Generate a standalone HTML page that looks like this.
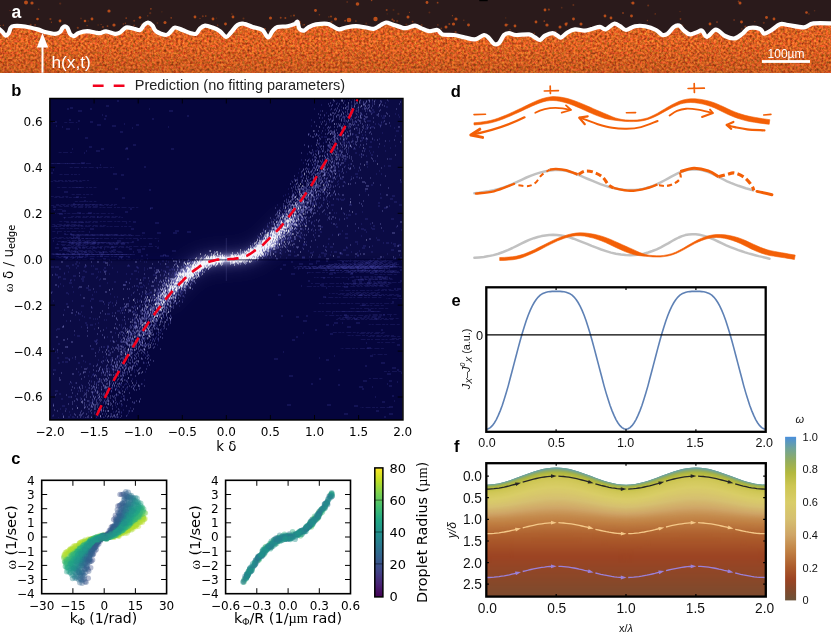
<!DOCTYPE html><html><head><meta charset="utf-8"><title>Figure</title>
<style>html,body{margin:0;padding:0;background:#fff}svg{display:block}text{white-space:pre}</style></head><body>
<svg width="831" height="635" viewBox="0 0 831 635">
<defs>
<filter id="spk" x="0" y="0" width="100%" height="100%" color-interpolation-filters="sRGB">
<feTurbulence type="fractalNoise" baseFrequency="0.42" numOctaves="2" seed="3" result="n"/>
<feColorMatrix in="n" type="matrix" values="0.4 0 0 0.7 0.305  0 0.3 0 0.45 0.005  0 0 0.1 0.25 -0.04  0 0 0 0 1" result="c0"/>
<feGaussianBlur in="c0" stdDeviation="0.45" result="c"/>
<feComposite in="c" in2="SourceGraphic" operator="in"/>
</filter>
<filter id="b1"><feGaussianBlur stdDeviation="0.7"/></filter>
<filter id="b05" x="0" y="0" width="100%" height="100%"><feGaussianBlur stdDeviation="0.45"/></filter>
<filter id="b2" x="-20%" y="-20%" width="140%" height="140%"><feGaussianBlur stdDeviation="2"/></filter>
<filter id="b4" x="-20%" y="-20%" width="140%" height="140%"><feGaussianBlur stdDeviation="4.5"/></filter>
<filter id="b8" x="-20%" y="-20%" width="140%" height="140%"><feGaussianBlur stdDeviation="9"/></filter>
<linearGradient id="shade" x1="0" y1="0" x2="0" y2="1"><stop offset="0" stop-color="#5a2808" stop-opacity="0"/><stop offset="1" stop-color="#5a2808" stop-opacity="0.16"/></linearGradient>
<clipPath id="cpa"><rect x="0" y="0" width="831" height="72.8"/></clipPath>
<clipPath id="cpb"><rect x="50" y="98.5" width="352.7" height="321.5"/></clipPath>
</defs>
<g clip-path="url(#cpa)">
<rect x="0" y="0" width="831" height="73" fill="#2a1a1b"/>
<g fill="#d8591c" filter="url(#b1)"><circle cx="269.1" cy="31.5" r="1.1" opacity="0.22"/><circle cx="682.5" cy="25.2" r="1" opacity="0.22"/><circle cx="421.7" cy="25" r="0.9" opacity="0.37"/><circle cx="200" cy="18.3" r="0.6" opacity="0.53"/><circle cx="102.9" cy="27" r="1.1" opacity="0.43"/><circle cx="51.4" cy="22.2" r="0.6" opacity="0.59"/><circle cx="38.7" cy="9.2" r="0.8" opacity="0.37"/><circle cx="449.3" cy="24.1" r="1" opacity="0.53"/><circle cx="150.2" cy="13.2" r="1.1" opacity="0.28"/><circle cx="81" cy="18.4" r="1" opacity="0.22"/><circle cx="171.2" cy="17.8" r="0.9" opacity="0.51"/><circle cx="300.5" cy="23.6" r="0.7" opacity="0.48"/><circle cx="202.8" cy="16.2" r="1" opacity="0.4"/><circle cx="285.4" cy="18" r="1" opacity="0.59"/><circle cx="98.1" cy="25" r="0.8" opacity="0.26"/><circle cx="406.3" cy="24.6" r="1.1" opacity="0.23"/><circle cx="463.8" cy="20.2" r="0.8" opacity="0.34"/><circle cx="291" cy="15.9" r="0.9" opacity="0.23"/><circle cx="77.8" cy="27.8" r="1.1" opacity="0.47"/><circle cx="50.4" cy="19.1" r="1.1" opacity="0.43"/><circle cx="566.1" cy="25.3" r="1.1" opacity="0.35"/><circle cx="555.7" cy="31.5" r="0.9" opacity="0.34"/><circle cx="507.7" cy="24.5" r="0.7" opacity="0.51"/><circle cx="107.5" cy="26.1" r="0.9" opacity="0.57"/><circle cx="412.6" cy="21.6" r="0.9" opacity="0.42"/><circle cx="734.1" cy="19.9" r="1" opacity="0.31"/><circle cx="345.1" cy="20.7" r="0.9" opacity="0.58"/><circle cx="125.4" cy="23.2" r="0.7" opacity="0.46"/><circle cx="10" cy="10.5" r="0.7" opacity="0.31"/><circle cx="3.4" cy="25.2" r="0.8" opacity="0.44"/><circle cx="264.8" cy="28.9" r="1" opacity="0.58"/><circle cx="544.3" cy="21.1" r="0.9" opacity="0.56"/><circle cx="648.2" cy="5.6" r="1" opacity="0.36"/><circle cx="331.6" cy="21.8" r="1.1" opacity="0.36"/><circle cx="366.2" cy="23.5" r="1" opacity="0.22"/><circle cx="0.2" cy="25.5" r="0.6" opacity="0.58"/><circle cx="510" cy="29.7" r="0.7" opacity="0.45"/><circle cx="123.4" cy="24" r="0.8" opacity="0.44"/><circle cx="394" cy="20.8" r="0.9" opacity="0.6"/><circle cx="387.2" cy="13.9" r="0.6" opacity="0.26"/><circle cx="623" cy="13" r="0.9" opacity="0.53"/><circle cx="134.2" cy="25.6" r="1" opacity="0.34"/><circle cx="573.4" cy="4.9" r="1" opacity="0.32"/><circle cx="534.3" cy="33.3" r="0.8" opacity="0.41"/><circle cx="754.8" cy="21.6" r="0.7" opacity="0.41"/><circle cx="647.4" cy="20.5" r="0.7" opacity="0.45"/><circle cx="655.2" cy="13.9" r="0.7" opacity="0.52"/><circle cx="680" cy="11.5" r="0.7" opacity="0.28"/><circle cx="409.5" cy="12.3" r="0.6" opacity="0.52"/><circle cx="392.4" cy="19.4" r="1" opacity="0.58"/><circle cx="371.6" cy="0.5" r="0.8" opacity="0.58"/><circle cx="303" cy="25" r="0.7" opacity="0.39"/><circle cx="280.7" cy="17.8" r="1" opacity="0.54"/><circle cx="398.4" cy="13.9" r="1.1" opacity="0.23"/><circle cx="548.9" cy="9.6" r="1.1" opacity="0.5"/><circle cx="397.2" cy="21.2" r="1.1" opacity="0.33"/><circle cx="328.9" cy="16.9" r="0.6" opacity="0.49"/><circle cx="141.3" cy="24.2" r="0.7" opacity="0.44"/><circle cx="386.7" cy="10.1" r="1" opacity="0.53"/><circle cx="814.6" cy="10.8" r="0.8" opacity="0.26"/><circle cx="455.6" cy="32.2" r="1.1" opacity="0.46"/><circle cx="437.6" cy="2.7" r="0.9" opacity="0.59"/><circle cx="161.9" cy="11.8" r="0.6" opacity="0.3"/><circle cx="243.5" cy="18.4" r="1" opacity="0.33"/><circle cx="452.4" cy="15.7" r="0.6" opacity="0.56"/><circle cx="294" cy="15.6" r="1" opacity="0.53"/><circle cx="429.4" cy="12.4" r="1" opacity="0.25"/><circle cx="126.2" cy="18.1" r="0.9" opacity="0.51"/><circle cx="505.7" cy="17.9" r="0.7" opacity="0.27"/><circle cx="393.5" cy="10.1" r="1" opacity="0.22"/><circle cx="567" cy="23.1" r="0.9" opacity="0.51"/><circle cx="88.2" cy="21" r="0.7" opacity="0.28"/><circle cx="35.1" cy="24.9" r="0.9" opacity="0.42"/><circle cx="631.6" cy="2.8" r="0.9" opacity="0.33"/><circle cx="808.9" cy="13.9" r="0.7" opacity="0.48"/><circle cx="375.9" cy="17.9" r="0.9" opacity="0.4"/><circle cx="205.8" cy="16.1" r="0.8" opacity="0.57"/><circle cx="741.9" cy="29" r="0.9" opacity="0.25"/><circle cx="101.1" cy="24.5" r="0.6" opacity="0.47"/><circle cx="355.9" cy="21.1" r="0.8" opacity="0.51"/><circle cx="745.4" cy="26.7" r="1.1" opacity="0.46"/><circle cx="304.3" cy="24.8" r="0.7" opacity="0.59"/><circle cx="331" cy="16.5" r="1.1" opacity="0.53"/><circle cx="134.2" cy="20.7" r="1" opacity="0.36"/><circle cx="350.1" cy="20" r="0.6" opacity="0.49"/><circle cx="16.2" cy="15.8" r="0.9" opacity="0.48"/><circle cx="319.4" cy="14.7" r="0.8" opacity="0.4"/><circle cx="87.1" cy="25.6" r="0.6" opacity="0.56"/><circle cx="150.9" cy="8.8" r="0.9" opacity="0.54"/><circle cx="561.7" cy="7.7" r="0.9" opacity="0.26"/><circle cx="763.8" cy="22.8" r="1.1" opacity="0.33"/><circle cx="231.9" cy="14" r="0.7" opacity="0.37"/><circle cx="60.2" cy="3.6" r="1.1" opacity="0.24"/><circle cx="216.5" cy="18.1" r="0.7" opacity="0.23"/><circle cx="717" cy="22.1" r="0.8" opacity="0.6"/><circle cx="347.2" cy="2.1" r="1" opacity="0.25"/><circle cx="437.9" cy="24.9" r="0.6" opacity="0.59"/><circle cx="217.6" cy="25.3" r="0.8" opacity="0.45"/><circle cx="441.3" cy="28.3" r="0.9" opacity="0.4"/><circle cx="147.8" cy="15.8" r="0.6" opacity="0.6"/><circle cx="30.7" cy="24.7" r="1" opacity="0.42"/><circle cx="157.4" cy="23" r="0.9" opacity="0.24"/><circle cx="680.5" cy="19" r="0.9" opacity="0.42"/><circle cx="738.5" cy="1.4" r="0.8" opacity="0.48"/><circle cx="26" cy="2.5" r="2" opacity="0.8"/><circle cx="32" cy="3" r="1.6" opacity="0.8"/><circle cx="109" cy="11" r="1.6" opacity="0.8"/><circle cx="60" cy="21" r="1.4" opacity="0.8"/><circle cx="37.5" cy="19" r="1.3" opacity="0.8"/><circle cx="85" cy="21" r="1.3" opacity="0.8"/><circle cx="92" cy="19" r="1.4" opacity="0.8"/><circle cx="114" cy="25" r="1.6" opacity="0.8"/><circle cx="140" cy="17.5" r="1.3" opacity="0.8"/><circle cx="165" cy="22.5" r="1.5" opacity="0.8"/><circle cx="195" cy="17" r="1.4" opacity="0.8"/><circle cx="357.5" cy="4" r="1.8" opacity="0.8"/><circle cx="315.5" cy="10.5" r="1.4" opacity="0.8"/><circle cx="270.5" cy="18" r="1.5" opacity="0.8"/><circle cx="233" cy="17" r="1.4" opacity="0.8"/><circle cx="349" cy="20" r="2.3" opacity="0.8"/><circle cx="375.5" cy="19" r="2.2" opacity="0.8"/><circle cx="335.5" cy="19" r="1.5" opacity="0.8"/><circle cx="408" cy="17" r="1.5" opacity="0.8"/><circle cx="213" cy="19" r="1.4" opacity="0.8"/><circle cx="225.5" cy="24" r="1.4" opacity="0.8"/><circle cx="299" cy="22" r="1.6" opacity="0.8"/><circle cx="427" cy="2.5" r="1.4" opacity="0.8"/><circle cx="545" cy="10" r="1.4" opacity="0.8"/><circle cx="456" cy="19" r="1.6" opacity="0.8"/><circle cx="453.5" cy="24" r="1.6" opacity="0.8"/><circle cx="446" cy="27" r="1.5" opacity="0.8"/><circle cx="506" cy="25" r="1.5" opacity="0.8"/><circle cx="515" cy="26" r="1.4" opacity="0.8"/><circle cx="536" cy="22" r="1.4" opacity="0.8"/><circle cx="547" cy="25" r="1.6" opacity="0.8"/><circle cx="560" cy="27" r="1.5" opacity="0.8"/><circle cx="566" cy="24" r="1.5" opacity="0.8"/><circle cx="573.5" cy="19" r="1.4" opacity="0.8"/><circle cx="581" cy="24" r="1.5" opacity="0.8"/><circle cx="605" cy="16" r="1.4" opacity="0.8"/><circle cx="611" cy="18" r="1.4" opacity="0.8"/><circle cx="468.5" cy="25" r="1.4" opacity="0.8"/><circle cx="633" cy="3" r="1.5" opacity="0.8"/><circle cx="740" cy="3" r="1.5" opacity="0.8"/><circle cx="631.5" cy="16" r="1.4" opacity="0.8"/><circle cx="710" cy="24" r="1.4" opacity="0.8"/><circle cx="741.5" cy="22" r="1.4" opacity="0.8"/><circle cx="766.5" cy="17.5" r="1.4" opacity="0.8"/><circle cx="774" cy="19" r="1.4" opacity="0.8"/><circle cx="806.5" cy="12.5" r="1.3" opacity="0.8"/></g>
<path d="M-2 28C-1.2 28.7 1.2 30.7 2.5 32C3.8 33.3 4.6 35.4 5.6 35.6C6.6 35.8 7.9 34.3 8.8 33C9.6 31.7 9.8 29.2 10.6 28C11.4 26.8 11.3 26.2 13.8 26C16.1 25.8 21 25.9 25 26.5C29 27.1 34.2 28.5 37.5 29.4C40.8 30.3 42.1 31.3 45 32C47.9 32.7 52.5 33.8 55 33.8C57.5 33.8 58.8 33 60 32C61.2 31 61.7 28.9 62.5 28C63.3 27.1 64.2 26.3 65 26.3C65.8 26.3 66.7 26.8 67.5 28C68.3 29.2 69 32.4 70 33.8C71 35.1 72.3 36.4 73.8 36.2C75.2 36.1 76.5 33.8 78.8 33C81 32.2 84.8 31.3 87.5 31.2C90.2 31.2 92.9 32.2 95 32.5C97.1 32.8 98.2 33.3 100 33.1C101.8 32.9 103.5 31.2 106 31.3C108.5 31.4 112.7 33.5 115 33.8C117.3 34 118.2 33.5 120 32.5C121.8 31.5 123.7 28.1 126 27.5C128.3 26.9 131.7 28.3 134 28.8C136.3 29.2 138.3 30.6 140 30C141.7 29.4 142.7 26.2 144 25C145.3 23.8 146.6 22.4 148 22.5C149.4 22.6 151.2 24.1 152.5 25.6C153.8 27.1 153.8 29.7 156 31.2C158.2 32.8 163.5 35 166 35C168.5 35 169.5 32.5 171 31.2C172.5 30 173.1 27.7 175 27.5C176.9 27.3 180 29.1 182.5 30C185 30.9 187.8 32.4 190 33C192.2 33.6 194.3 34.5 196 33.8C197.7 33 198.5 29.9 200 28.5C201.5 27.1 202.9 25.8 205 25.6C207.1 25.4 210 26.6 212.5 27.5C215 28.4 217.8 29.7 220 31.2C222.2 32.8 224.2 36.7 226 36.9C227.8 37.1 229.1 34.5 231 32.5C232.9 30.5 235.3 26.5 237.5 25C239.7 23.5 241.5 23.4 244 23.8C246.5 24.1 249.4 25.9 252.5 26.9C255.6 27.9 259.9 28.2 262.5 30C265.1 31.8 266.3 37.3 268 37.5C269.7 37.7 270.9 33 272.5 31.2C274.1 29.5 275 27.7 277.5 26.9C280 26.1 284.6 26.8 287.5 26.2C290.4 25.7 293.3 24.5 295 23.8C296.7 23 296.8 21.1 297.5 21.9C298.2 22.7 298.3 27.3 299.4 28.8C300.5 30.2 302.4 30.9 304 30.6C305.6 30.3 307 27.9 309 26.9C311 25.9 312.9 24.9 316 24.4C319.1 23.9 324.8 23.4 327.5 23.8C330.2 24.1 330.6 25.3 332.5 26.2C334.4 27.2 336.8 29.2 339 29.4C341.2 29.6 343.2 28 346 27.5C348.8 27 352.7 26.2 356 26.2C359.3 26.2 363 27.1 366 27.5C369 27.9 371.7 29.1 374 28.8C376.3 28.4 378 26.6 380 25.6C382 24.6 383.9 22.7 386 22.5C388.1 22.3 390.2 23.7 392.5 24.4C394.8 25.1 397.8 26.3 400 26.9C402.2 27.5 403.5 28.3 406 28.1C408.5 27.9 412.5 25.6 415 25.6C417.5 25.6 418.7 27.2 421 28.1C423.3 29 426.2 30.9 429 31.2C431.8 31.6 435.2 29.5 437.5 30C439.8 30.5 439.8 33.6 442.5 34.4C445.2 35.2 450.2 34.5 454 35C457.8 35.5 461.5 36.8 465 37.5C468.5 38.2 471.8 39.8 475 39.4C478.2 39 481.7 35.2 484 35C486.3 34.8 487.3 36.6 489 38.1C490.7 39.6 492.3 42.9 494 43.8C495.7 44.6 497.3 44.6 499 43.1C500.7 41.6 502.3 36.7 504 35C505.7 33.3 507 33.1 509 33.1C511 33.1 512.7 34.8 516 35C519.3 35.2 525.8 34 529 34.4C532.2 34.8 533.2 36.6 535 37.5C536.8 38.4 538.3 40.3 540 40C541.7 39.7 542.9 36.8 545 35.6C547.1 34.5 550.4 33.1 552.5 33.1C554.6 33.1 556.1 34.9 557.5 35.6C558.9 36.3 559.3 38 561 37.5C562.7 37 565.2 33.9 567.5 32.5C569.8 31.1 572.1 29.7 575 29.4C577.9 29.1 582.1 30.7 585 30.6C587.9 30.5 590 29.4 592.5 28.8C595 28.1 597.8 26.8 600 26.9C602.2 27 603.3 29.9 605.6 29.4C607.9 28.9 611.6 24.3 614 23.8C616.4 23.2 618 25.2 620 26.2C622 27.3 623.5 30 626 30C628.5 30 631.8 26.9 635 26.2C638.2 25.6 641.5 25.6 645 26.2C648.5 26.9 653.1 28.5 656 30C658.9 31.5 660.6 34.4 662.5 35C664.4 35.6 665.6 35.1 667.5 33.8C669.4 32.4 672.1 28.3 674 26.9C675.9 25.5 677.3 25 679 25.6C680.7 26.2 682.2 29.1 684 30.6C685.8 32.1 687.8 34.2 690 34.4C692.2 34.6 695.5 32.5 697.5 31.9C699.5 31.3 700.4 29.8 702 30.6C703.6 31.4 704.7 36.9 707 36.8C709.3 36.6 712.8 29.8 715.8 29.7C718.8 29.6 721.9 34.5 725 36C728.1 37.5 731.8 38.8 734.7 38.4C737.6 38 740.2 35.3 742.6 33.6C745 31.9 746.1 28.9 749 28.1C751.9 27.3 757.5 28 760 28.9C762.5 29.8 762.2 33.3 764 33.6C765.8 33.9 768.3 32.1 771 30.5C773.7 28.9 777.2 25.1 780 24.2C782.8 23.3 784 24.5 788 25C792 25.5 799.8 27.6 804 27.3C808.2 27 808.7 24 813.5 23.4C818.3 22.8 829.8 23.4 833 23.4L833 75L-2 75Z" fill="#d9601f"/>
<path d="M-2 28C-1.2 28.7 1.2 30.7 2.5 32C3.8 33.3 4.6 35.4 5.6 35.6C6.6 35.8 7.9 34.3 8.8 33C9.6 31.7 9.8 29.2 10.6 28C11.4 26.8 11.3 26.2 13.8 26C16.1 25.8 21 25.9 25 26.5C29 27.1 34.2 28.5 37.5 29.4C40.8 30.3 42.1 31.3 45 32C47.9 32.7 52.5 33.8 55 33.8C57.5 33.8 58.8 33 60 32C61.2 31 61.7 28.9 62.5 28C63.3 27.1 64.2 26.3 65 26.3C65.8 26.3 66.7 26.8 67.5 28C68.3 29.2 69 32.4 70 33.8C71 35.1 72.3 36.4 73.8 36.2C75.2 36.1 76.5 33.8 78.8 33C81 32.2 84.8 31.3 87.5 31.2C90.2 31.2 92.9 32.2 95 32.5C97.1 32.8 98.2 33.3 100 33.1C101.8 32.9 103.5 31.2 106 31.3C108.5 31.4 112.7 33.5 115 33.8C117.3 34 118.2 33.5 120 32.5C121.8 31.5 123.7 28.1 126 27.5C128.3 26.9 131.7 28.3 134 28.8C136.3 29.2 138.3 30.6 140 30C141.7 29.4 142.7 26.2 144 25C145.3 23.8 146.6 22.4 148 22.5C149.4 22.6 151.2 24.1 152.5 25.6C153.8 27.1 153.8 29.7 156 31.2C158.2 32.8 163.5 35 166 35C168.5 35 169.5 32.5 171 31.2C172.5 30 173.1 27.7 175 27.5C176.9 27.3 180 29.1 182.5 30C185 30.9 187.8 32.4 190 33C192.2 33.6 194.3 34.5 196 33.8C197.7 33 198.5 29.9 200 28.5C201.5 27.1 202.9 25.8 205 25.6C207.1 25.4 210 26.6 212.5 27.5C215 28.4 217.8 29.7 220 31.2C222.2 32.8 224.2 36.7 226 36.9C227.8 37.1 229.1 34.5 231 32.5C232.9 30.5 235.3 26.5 237.5 25C239.7 23.5 241.5 23.4 244 23.8C246.5 24.1 249.4 25.9 252.5 26.9C255.6 27.9 259.9 28.2 262.5 30C265.1 31.8 266.3 37.3 268 37.5C269.7 37.7 270.9 33 272.5 31.2C274.1 29.5 275 27.7 277.5 26.9C280 26.1 284.6 26.8 287.5 26.2C290.4 25.7 293.3 24.5 295 23.8C296.7 23 296.8 21.1 297.5 21.9C298.2 22.7 298.3 27.3 299.4 28.8C300.5 30.2 302.4 30.9 304 30.6C305.6 30.3 307 27.9 309 26.9C311 25.9 312.9 24.9 316 24.4C319.1 23.9 324.8 23.4 327.5 23.8C330.2 24.1 330.6 25.3 332.5 26.2C334.4 27.2 336.8 29.2 339 29.4C341.2 29.6 343.2 28 346 27.5C348.8 27 352.7 26.2 356 26.2C359.3 26.2 363 27.1 366 27.5C369 27.9 371.7 29.1 374 28.8C376.3 28.4 378 26.6 380 25.6C382 24.6 383.9 22.7 386 22.5C388.1 22.3 390.2 23.7 392.5 24.4C394.8 25.1 397.8 26.3 400 26.9C402.2 27.5 403.5 28.3 406 28.1C408.5 27.9 412.5 25.6 415 25.6C417.5 25.6 418.7 27.2 421 28.1C423.3 29 426.2 30.9 429 31.2C431.8 31.6 435.2 29.5 437.5 30C439.8 30.5 439.8 33.6 442.5 34.4C445.2 35.2 450.2 34.5 454 35C457.8 35.5 461.5 36.8 465 37.5C468.5 38.2 471.8 39.8 475 39.4C478.2 39 481.7 35.2 484 35C486.3 34.8 487.3 36.6 489 38.1C490.7 39.6 492.3 42.9 494 43.8C495.7 44.6 497.3 44.6 499 43.1C500.7 41.6 502.3 36.7 504 35C505.7 33.3 507 33.1 509 33.1C511 33.1 512.7 34.8 516 35C519.3 35.2 525.8 34 529 34.4C532.2 34.8 533.2 36.6 535 37.5C536.8 38.4 538.3 40.3 540 40C541.7 39.7 542.9 36.8 545 35.6C547.1 34.5 550.4 33.1 552.5 33.1C554.6 33.1 556.1 34.9 557.5 35.6C558.9 36.3 559.3 38 561 37.5C562.7 37 565.2 33.9 567.5 32.5C569.8 31.1 572.1 29.7 575 29.4C577.9 29.1 582.1 30.7 585 30.6C587.9 30.5 590 29.4 592.5 28.8C595 28.1 597.8 26.8 600 26.9C602.2 27 603.3 29.9 605.6 29.4C607.9 28.9 611.6 24.3 614 23.8C616.4 23.2 618 25.2 620 26.2C622 27.3 623.5 30 626 30C628.5 30 631.8 26.9 635 26.2C638.2 25.6 641.5 25.6 645 26.2C648.5 26.9 653.1 28.5 656 30C658.9 31.5 660.6 34.4 662.5 35C664.4 35.6 665.6 35.1 667.5 33.8C669.4 32.4 672.1 28.3 674 26.9C675.9 25.5 677.3 25 679 25.6C680.7 26.2 682.2 29.1 684 30.6C685.8 32.1 687.8 34.2 690 34.4C692.2 34.6 695.5 32.5 697.5 31.9C699.5 31.3 700.4 29.8 702 30.6C703.6 31.4 704.7 36.9 707 36.8C709.3 36.6 712.8 29.8 715.8 29.7C718.8 29.6 721.9 34.5 725 36C728.1 37.5 731.8 38.8 734.7 38.4C737.6 38 740.2 35.3 742.6 33.6C745 31.9 746.1 28.9 749 28.1C751.9 27.3 757.5 28 760 28.9C762.5 29.8 762.2 33.3 764 33.6C765.8 33.9 768.3 32.1 771 30.5C773.7 28.9 777.2 25.1 780 24.2C782.8 23.3 784 24.5 788 25C792 25.5 799.8 27.6 804 27.3C808.2 27 808.7 24 813.5 23.4C818.3 22.8 829.8 23.4 833 23.4L833 75L-2 75Z" fill="#d6541c" filter="url(#spk)"/>
<rect x="0" y="44" width="831" height="29" fill="url(#shade)"/>
<path d="M-2 28C-1.2 28.7 1.2 30.7 2.5 32C3.8 33.3 4.6 35.4 5.6 35.6C6.6 35.8 7.9 34.3 8.8 33C9.6 31.7 9.8 29.2 10.6 28C11.4 26.8 11.3 26.2 13.8 26C16.1 25.8 21 25.9 25 26.5C29 27.1 34.2 28.5 37.5 29.4C40.8 30.3 42.1 31.3 45 32C47.9 32.7 52.5 33.8 55 33.8C57.5 33.8 58.8 33 60 32C61.2 31 61.7 28.9 62.5 28C63.3 27.1 64.2 26.3 65 26.3C65.8 26.3 66.7 26.8 67.5 28C68.3 29.2 69 32.4 70 33.8C71 35.1 72.3 36.4 73.8 36.2C75.2 36.1 76.5 33.8 78.8 33C81 32.2 84.8 31.3 87.5 31.2C90.2 31.2 92.9 32.2 95 32.5C97.1 32.8 98.2 33.3 100 33.1C101.8 32.9 103.5 31.2 106 31.3C108.5 31.4 112.7 33.5 115 33.8C117.3 34 118.2 33.5 120 32.5C121.8 31.5 123.7 28.1 126 27.5C128.3 26.9 131.7 28.3 134 28.8C136.3 29.2 138.3 30.6 140 30C141.7 29.4 142.7 26.2 144 25C145.3 23.8 146.6 22.4 148 22.5C149.4 22.6 151.2 24.1 152.5 25.6C153.8 27.1 153.8 29.7 156 31.2C158.2 32.8 163.5 35 166 35C168.5 35 169.5 32.5 171 31.2C172.5 30 173.1 27.7 175 27.5C176.9 27.3 180 29.1 182.5 30C185 30.9 187.8 32.4 190 33C192.2 33.6 194.3 34.5 196 33.8C197.7 33 198.5 29.9 200 28.5C201.5 27.1 202.9 25.8 205 25.6C207.1 25.4 210 26.6 212.5 27.5C215 28.4 217.8 29.7 220 31.2C222.2 32.8 224.2 36.7 226 36.9C227.8 37.1 229.1 34.5 231 32.5C232.9 30.5 235.3 26.5 237.5 25C239.7 23.5 241.5 23.4 244 23.8C246.5 24.1 249.4 25.9 252.5 26.9C255.6 27.9 259.9 28.2 262.5 30C265.1 31.8 266.3 37.3 268 37.5C269.7 37.7 270.9 33 272.5 31.2C274.1 29.5 275 27.7 277.5 26.9C280 26.1 284.6 26.8 287.5 26.2C290.4 25.7 293.3 24.5 295 23.8C296.7 23 296.8 21.1 297.5 21.9C298.2 22.7 298.3 27.3 299.4 28.8C300.5 30.2 302.4 30.9 304 30.6C305.6 30.3 307 27.9 309 26.9C311 25.9 312.9 24.9 316 24.4C319.1 23.9 324.8 23.4 327.5 23.8C330.2 24.1 330.6 25.3 332.5 26.2C334.4 27.2 336.8 29.2 339 29.4C341.2 29.6 343.2 28 346 27.5C348.8 27 352.7 26.2 356 26.2C359.3 26.2 363 27.1 366 27.5C369 27.9 371.7 29.1 374 28.8C376.3 28.4 378 26.6 380 25.6C382 24.6 383.9 22.7 386 22.5C388.1 22.3 390.2 23.7 392.5 24.4C394.8 25.1 397.8 26.3 400 26.9C402.2 27.5 403.5 28.3 406 28.1C408.5 27.9 412.5 25.6 415 25.6C417.5 25.6 418.7 27.2 421 28.1C423.3 29 426.2 30.9 429 31.2C431.8 31.6 435.2 29.5 437.5 30C439.8 30.5 439.8 33.6 442.5 34.4C445.2 35.2 450.2 34.5 454 35C457.8 35.5 461.5 36.8 465 37.5C468.5 38.2 471.8 39.8 475 39.4C478.2 39 481.7 35.2 484 35C486.3 34.8 487.3 36.6 489 38.1C490.7 39.6 492.3 42.9 494 43.8C495.7 44.6 497.3 44.6 499 43.1C500.7 41.6 502.3 36.7 504 35C505.7 33.3 507 33.1 509 33.1C511 33.1 512.7 34.8 516 35C519.3 35.2 525.8 34 529 34.4C532.2 34.8 533.2 36.6 535 37.5C536.8 38.4 538.3 40.3 540 40C541.7 39.7 542.9 36.8 545 35.6C547.1 34.5 550.4 33.1 552.5 33.1C554.6 33.1 556.1 34.9 557.5 35.6C558.9 36.3 559.3 38 561 37.5C562.7 37 565.2 33.9 567.5 32.5C569.8 31.1 572.1 29.7 575 29.4C577.9 29.1 582.1 30.7 585 30.6C587.9 30.5 590 29.4 592.5 28.8C595 28.1 597.8 26.8 600 26.9C602.2 27 603.3 29.9 605.6 29.4C607.9 28.9 611.6 24.3 614 23.8C616.4 23.2 618 25.2 620 26.2C622 27.3 623.5 30 626 30C628.5 30 631.8 26.9 635 26.2C638.2 25.6 641.5 25.6 645 26.2C648.5 26.9 653.1 28.5 656 30C658.9 31.5 660.6 34.4 662.5 35C664.4 35.6 665.6 35.1 667.5 33.8C669.4 32.4 672.1 28.3 674 26.9C675.9 25.5 677.3 25 679 25.6C680.7 26.2 682.2 29.1 684 30.6C685.8 32.1 687.8 34.2 690 34.4C692.2 34.6 695.5 32.5 697.5 31.9C699.5 31.3 700.4 29.8 702 30.6C703.6 31.4 704.7 36.9 707 36.8C709.3 36.6 712.8 29.8 715.8 29.7C718.8 29.6 721.9 34.5 725 36C728.1 37.5 731.8 38.8 734.7 38.4C737.6 38 740.2 35.3 742.6 33.6C745 31.9 746.1 28.9 749 28.1C751.9 27.3 757.5 28 760 28.9C762.5 29.8 762.2 33.3 764 33.6C765.8 33.9 768.3 32.1 771 30.5C773.7 28.9 777.2 25.1 780 24.2C782.8 23.3 784 24.5 788 25C792 25.5 799.8 27.6 804 27.3C808.2 27 808.7 24 813.5 23.4C818.3 22.8 829.8 23.4 833 23.4" fill="none" stroke="#fff" stroke-width="4.2" stroke-linejoin="round" stroke-linecap="round"/>
<path d="M42.5 73V46" stroke="#fff" stroke-width="2" fill="none"/>
<path d="M42.5 33L48.2 47.6H36.8Z" fill="#fff"/>
<text x="51.5" y="67.6" font-family="'Liberation Sans',Arial,Helvetica,sans-serif" font-size="17.3" fill="#fff">h(x,t)</text>
<text x="11.4" y="17.6" font-family="'Liberation Sans',Arial,Helvetica,sans-serif" font-size="17.5" font-weight="bold" fill="#fff">a</text>
<rect x="762" y="60.1" width="48" height="2.8" fill="#fff"/>
<text x="786" y="57.6" text-anchor="middle" font-family="'Liberation Sans',Arial,Helvetica,sans-serif" font-size="12" fill="#fff">100µm</text>
<rect x="479.3" y="0" width="8.4" height="1.2" fill="#000"/>
</g>
<rect x="50" y="98.5" width="352.7" height="321.5" fill="#05053c"/>
<g clip-path="url(#cpb)">
<path d="M239.6 259.2L226.3 259.2L250.6 253.7L258.2 248.2L265.1 242.7L270.6 237.1L276.1 231.6L281.3 226.1L285.7 220.6L290.2 215.1L294.3 209.6L298.4 204.1L302.4 198.6L306.1 193L309.8 187.5L313.4 182L316.7 176.5L319.9 171L323.2 165.5L326.5 160L329.7 154.5L332.8 148.9L335.9 143.4L339 137.9L342.1 132.4L344.8 126.9L347.3 121.4L349.9 115.9L352.5 110.4L355.1 104.8L357.6 99.3L360.1 93.8L411.5 93.8L411.5 259.2ZM213.1 259.2L226.3 259.2L202.1 264.7L194.5 270.2L187.6 275.7L182.1 281.3L176.6 286.8L171.4 292.3L167 297.8L162.5 303.3L158.4 308.8L154.3 314.3L150.3 319.8L146.6 325.4L142.9 330.9L139.3 336.4L136 341.9L132.8 347.4L129.5 352.9L126.2 358.4L123 363.9L119.9 369.5L116.8 375L113.7 380.5L110.6 386L107.9 391.5L105.4 397L102.8 402.5L100.2 408L97.6 413.6L95.1 419.1L92.6 424.6L41.2 424.6L41.2 259.2Z" fill="#20206a" fill-opacity="0.16" filter="url(#b4)"/>
<path d="M160.2 300.7L162.3 298.1L164.3 295.6L166.4 293.1L168.4 290.5L170.5 288.4L172.6 286.4L174.6 284.3L176.7 282.2L178.7 280.2L180.8 278.1L182.9 276L184.9 274L187 272.5L189 271L191.1 269.5L193.1 268L195.2 266.5L197.3 265.1L199.3 263.6L201.7 262.6L204.1 262L206.6 261.5L209.1 261L211.5 260.4L214 259.9L216.5 259.5L218.9 259.4L221.4 259.4L223.9 259.3L226.3 259.2L228.8 259.1L231.3 259L233.8 259L236.2 258.9L238.7 258.5L241.2 258L243.6 257.4L246.1 256.9L248.6 256.4L251 255.8L253.4 254.8L255.4 253.3L257.5 251.9L259.6 250.4L261.6 248.9L263.7 247.4L265.7 245.9L267.8 244.4L269.8 242.4L271.9 240.3L274 238.2L276 236.2L278.1 234.1L280.1 232L282.2 230L284.3 227.9L286.3 225.3L288.4 222.8L290.4 220.3L292.5 217.7" fill="none" stroke="#7a7ac4" stroke-opacity="0.24" stroke-width="18" filter="url(#b8)"/>
<path d="M174.3 285.5L175.9 283.9L177.6 282.2L179.2 280.6L180.8 279L182.4 277.4L184 275.8L185.6 274.1L187.3 272.9L188.9 271.7L190.5 270.6L192.1 269.4L193.7 268.2L195.3 267.1L197 265.9L198.6 264.7L200.2 263.6L202 262.7L203.8 262.3L205.7 261.8L207.6 261.4L209.5 261L211.3 260.6L213.2 260.2L215.1 259.8L217 259.5L218.8 259.5L220.7 259.4L222.6 259.3L224.5 259.3L226.3 259.2L228.2 259.1L230.1 259.1L232 259L233.9 258.9L235.7 258.9L237.6 258.6L239.5 258.2L241.4 257.8L243.2 257.4L245.1 257L247 256.6L248.9 256.1L250.7 255.7L252.5 254.8L254.1 253.7L255.7 252.5L257.4 251.3L259 250.2L260.6 249L262.2 247.8L263.8 246.7L265.4 245.5L267.1 244.3L268.7 242.6L270.3 241L271.9 239.4L273.5 237.8L275.1 236.2L276.8 234.5L278.4 232.9" fill="none" stroke="#a8a8e4" stroke-opacity="0.38" stroke-width="11" filter="url(#b4)"/>
<path d="M183.1 277.5L184.5 276.2L185.8 274.8L187.2 273.6L188.6 272.6L189.9 271.6L191.3 270.6L192.6 269.7L194 268.7L195.3 267.7L196.7 266.7L198 265.8L199.4 264.8L200.7 263.8L202.1 262.9L203.6 262.5L205.2 262.1L206.7 261.8L208.2 261.4L209.7 261.1L211.2 260.7L212.7 260.4L214.2 260.1L215.8 259.7L217.3 259.5L218.8 259.5L220.3 259.4L221.8 259.4L223.3 259.3L224.8 259.3L226.3 259.2L227.9 259.1L229.4 259.1L230.9 259L232.4 259L233.9 258.9L235.4 258.9L236.9 258.7L238.5 258.3L240 258L241.5 257.7L243 257.3L244.5 257L246 256.6L247.5 256.3L249.1 255.9L250.6 255.5L252 254.6L253.3 253.6L254.7 252.6L256 251.7L257.4 250.7L258.7 249.7L260.1 248.7L261.4 247.8L262.8 246.8L264.1 245.8L265.5 244.8L266.9 243.6L268.2 242.2L269.6 240.9" fill="none" stroke="#e6e6ff" stroke-opacity="0.7" stroke-width="7" filter="url(#b2)"/>
<path d="M187.6 274L189.4 272.6L191.3 271.3L193.1 269.9L195 268.6L196.8 267.3L198.7 265.9L200.5 264.6L202.4 263.3L204.4 262.5L206.4 262L208.4 261.6L210.4 261.1L212.4 260.6L214.4 260.1L216.4 259.7L218.4 259.5L220.4 259.4L222.4 259.3L224.4 259.3L226.3 259.2L228.3 259.1L230.3 259.1L232.3 259L234.3 258.9L236.3 258.7L238.3 258.3L240.3 257.8L242.3 257.3L244.3 256.8L246.3 256.4L248.3 255.9L250.3 255.1L252.2 253.8L254 252.5L255.9 251.1L257.7 249.8L259.6 248.5L261.4 247.1L263.3 245.8L265.1 244.4" fill="none" stroke="#f4f4ff" stroke-opacity="0.9" stroke-width="4.6" filter="url(#b1)"/>
<path d="M66.9 251.5h17M52.9 209.5h11.8M401 282.5h-23.1M381.9 262.5h-29.5M392.3 278.5h-32.4M396.8 274.5h-22.4M52 238.5h47M71.2 216.5h49.2M384.7 270.5h-32.4M382.4 378.5h-14.5M401.8 298.5h-15.4M69.7 252.5h54.4M381.3 316.5h-17.9M389.1 268.5h-77.9M57.6 254.5h77.2M398.6 318.5h-62.7M51.6 253.5h32.7M59.4 206.5h39.1M54.3 197.5h31.8M71 243.5h25.9M56.1 204.5h62M70.9 246.5h87.7M390.6 265.5h-72.6M399 264.5h-15.8M382.7 263.5h-22.3M67.7 248.5h24M380.4 268.5h-78.5M73.5 207.5h64.8M393.1 266.5h-29.4M397.6 272.5h-90M68.6 251.5h55.1M378.1 260.5h-37.9M398.4 290.5h-58.8M70.6 238.5h87.9M59.2 250.5h36.2M401.8 266.5h-76.9M392.7 279.5h-39.6M73.3 204.5h28.6M400.3 336.5h-33.3M388.1 277.5h-74.2M57.7 241.5h39.8M66.2 222.5h31.6M382.3 315.5h-58.1M389.6 407.5h-29.4M63.3 259.5h80M74.6 187.5h21.9M400 272.5h-15.3M61.9 245.5h25M399.4 266.5h-72.3M379.3 266.5h-78.8M381.6 264.5h-53.8M51.5 254.5h76.6M53.4 180.5h35.7M72.8 235.5h70M67.4 247.5h19.8M394.8 265.5h-71.1M52.3 224.5h27.5M401.4 371.5h-18.8M58.6 152.5h14.7M392.9 260.5h-24.5M381.3 297.5h-56.5M380.6 311.5h-44.9M387.1 354.5h-15.1M52.4 163.5h38.8M63.2 247.5h66.6M393.7 303.5h-74.9M397 266.5h-60.4M399.7 324.5h-31M63.8 242.5h43.3M382.4 283.5h-72.6M396.1 271.5h-44.3M393.3 266.5h-100M59.3 225.5h46.4M72 253.5h20.6M50.6 163.5h29.6M382.3 279.5h-25.1M65.4 234.5h65.9M64.3 122.5h13M61.7 225.5h20.5M63.3 217.5h59.7M378.3 293.5h-49.3M72.4 242.5h60M392.5 267.5h-56.3M399 339.5h-38.2M383.7 267.5h-89.2M382.7 285.5h-15.4M401.3 338.5h-11.3M399.1 271.5h-57.2M395 263.5h-62.1M384.8 332.5h-52M381 317.5h-41.8M381.5 268.5h-38.3M51.6 226.5h79.7M396.6 295.5h-53.8M378.8 311.5h-65.2M67.3 240.5h30.3M397.3 262.5h-35.3M388.8 286.5h-84.1M394.7 342.5h-18M382.5 270.5h-59.8M391.8 261.5h-50.1M383.5 261.5h-20.5M52.8 213.5h61.1M52.4 231.5h32.9M387.8 276.5h-36.3M70.9 235.5h61.7M70.9 234.5h46.5M51.3 205.5h63.9M386.7 281.5h-13.5M392.5 264.5h-64.1M72.4 243.5h56.4M381.5 295.5h-27.7M383.6 333.5h-26.7M59.5 174.5h20.6M396.8 270.5h-73.1M380.2 292.5h-30.6M58.4 257.5h28.2M402.1 267.5h-65.8M74.8 201.5h21.6M387.8 268.5h-93.9M56 254.5h79.1M389.5 284.5h-45.6M378 267.5h-62.7M71.7 194.5h21M56.2 256.5h72.4M387.8 285.5h-34.6M50.8 196.5h17.4M398.7 294.5h-60.5M383.9 348.5h-43.8M391.4 283.5h-45M393.2 319.5h-57.7M67.3 242.5h62M380.3 267.5h-68.7M396.6 314.5h-27.3M59.3 221.5h72.3M50.2 181.5h31.7M388.2 308.5h-37.8M74.4 222.5h11.6M383.8 305.5h-25.7M52.8 254.5h74M56.3 244.5h39.9M390.3 260.5h-54.9M391.3 289.5h-13.8M54.3 237.5h24.3M55.2 228.5h30M69.7 167.5h44.4M57.2 187.5h24.4M394.1 335.5h-46.6M391 282.5h-26.5" stroke="#4a4aa8" stroke-opacity="0.22" stroke-width="1" fill="none" stroke-dasharray="3 1.5 5 2 2 1"/>
<g filter="url(#b05)">
<path d="M131 334h1M120 369h1M190 273h1M321 105h1M174 292h1M178 283h1M301 223h1M311 195h1M136 324h1M166 296h1M264 246h1M284 206h1M98 392h1M182 276h1M199 270h1M318 188h1M299 199h1M289 224h1M180 275h1M308 221h1M328 185h1M291 225h1M283 238h1M92 402h1M351 104h1M169 288h1M141 297h1M156 307h1M164 318h1M146 301h1M174 295h1M332 133h1M259 251h1M263 245h1M167 295h1M277 227h1M333 140h1M211 259h1M303 210h1M181 285h1M187 273h1M254 251h1M297 226h1M280 231h1M266 247h1M318 184h1M197 270h1M175 281h1M277 229h1M186 285h1M316 166h1M172 283h1M337 176h1M119 368h1M198 275h1M275 236h1M165 307h1M276 232h1M126 372h1M159 323h1M263 245h1M311 222h1M271 233h1M247 257h1M170 291h1M341 127h1M262 255h1M212 261h1M156 313h1M318 195h1M159 305h1M140 330h1M127 306h1M306 191h1M330 149h1M272 231h1M266 240h1M263 247h1M108 405h1M113 352h1M120 375h1M367 106h1M294 220h1M266 243h1M305 221h1M106 390h1M251 251h1M290 225h1M117 404h1M313 172h1M153 302h1M143 338h1M288 213h1M280 230h1M288 201h1M147 297h1M178 273h1M328 187h1M257 255h1M319 181h1M301 160h1M116 360h1M203 266h1M138 345h1M180 290h1M256 245h1M248 258h1M355 135h1M159 309h1M353 125h1M263 250h1M294 217h1M172 293h1M302 190h1M326 169h1M200 271h1M132 346h1M116 370h1M314 109h1M301 212h1M237 259h1M206 264h1M274 236h1M154 300h1M96 392h1M175 277h1M301 205h1M284 218h1M143 314h1M309 180h1M151 311h1M267 250h1M357 139h1M171 275h1M319 153h1M262 246h1M269 240h1M157 295h1M299 209h1M278 232h1M164 302h1M196 274h1M291 218h1M137 333h1M172 283h1M261 249h1M135 333h1M283 196h1M183 282h1M341 107h1M332 105h1M196 268h1M304 197h1M270 246h1M292 215h1M284 230h1M257 249h1M305 192h1M278 237h1M293 234h1M111 365h1M212 259h1M145 310h1M285 227h1M284 206h1M146 320h1M269 242h1M183 276h1M328 127h1M172 297h1M125 369h1M167 291h1M348 128h1M283 216h1M165 310h1M323 179h1M200 265h1M198 270h1M138 321h1M265 244h1M182 284h1M287 227h1M166 264h1M99 414h1M333 170h1M280 233h1M343 139h1M325 179h1M174 291h1M176 283h1M251 250h1M179 284h1M324 164h1M322 188h1M155 326h1M285 212h1M318 199h1M198 277h1M248 253h1M280 229h1M159 307h1M164 274h1M143 355h1M257 257h1M335 168h1M152 311h1M157 307h1M332 176h1M130 337h1M140 331h1M180 291h1M236 260h1M272 250h1M267 237h1M270 243h1M133 344h1M116 407h1M302 220h1M170 292h1M316 177h1M276 222h1M277 236h1M260 241h1M298 198h1M292 224h1M171 286h1M149 310h1M179 276h1M153 297h1M98 405h1M328 187h1M358 133h1M378 107h1M144 334h1M163 329h1M181 287h1M277 230h1M299 221h1M329 146h1M322 166h1M130 354h1M318 168h1M310 211h1M185 278h1M264 232h1M119 371h1M261 248h1M287 224h1M195 268h1M180 283h1M289 205h1M206 265h1M282 236h1M244 259h1M129 340h1M129 345h1M285 236h1M256 247h1M167 318h1M192 272h1M157 312h1M303 206h1M139 284h1M177 276h1M204 262h1M259 251h1M166 298h1M156 293h1M131 411h1M283 220h1M300 233h1M190 272h1M262 242h1M136 349h1M287 221h1M343 144h1M172 291h1M350 124h1M314 168h1M113 375h1M312 165h1M164 306h1M178 290h1M190 262h1M254 252h1M286 199h1M239 256h1M311 182h1M181 276h1M341 154h1M326 182h1M290 204h1M183 283h1M107 374h1M165 303h1M265 242h1M172 291h1M295 198h1M306 206h1M198 273h1M269 235h1M312 192h1M148 314h1M294 212h1M163 312h1M190 266h1M168 284h1M287 213h1M185 274h1M134 352h1M260 253h1M293 212h1M154 317h1M314 188h1M264 252h1M252 248h1M337 154h1M179 273h1M310 212h1M285 210h1M284 228h1M271 235h1M254 255h1M264 247h1M291 238h1M171 292h1M275 232h1M299 196h1M275 226h1M144 311h1M206 263h1M200 274h1M336 142h1M278 237h1M359 103h1M256 253h1M120 334h1M170 315h1M305 195h1M279 225h1M142 341h1M302 202h1M175 282h1M262 248h1M192 277h1M266 249h1M97 364h1M145 311h1M156 310h1M287 247h1M127 362h1M140 326h1M300 201h1M237 258h1M277 227h1M277 224h1M262 247h1M310 210h1M121 342h1M302 207h1M295 209h1M267 242h1M138 335h1M327 175h1M160 294h1M163 304h1M308 169h1M269 247h1M265 245h1M335 137h1M161 311h1M314 200h1M183 283h1M124 357h1M268 240h1M165 305h1M320 164h1M296 223h1M176 289h1M115 382h1M184 290h1M143 280h1M309 199h1M296 211h1M174 283h1M304 207h1M283 229h1M178 282h1M198 269h1M168 262h1M151 314h1M276 238h1M156 333h1M253 251h1M159 317h1M323 162h1M160 297h1M194 273h1M122 387h1M267 224h1M271 239h1M175 289h1M104 388h1M101 406h1M134 348h1M194 273h1M133 341h1M118 356h1M119 410h1M295 210h1M156 306h1M110 416h1M287 217h1M378 114h1M327 169h1M381 123h1M267 247h1M352 106h1M297 178h1M160 302h1M288 216h1M263 238h1M116 363h1M168 281h1M194 265h1M288 221h1M359 101h1M312 194h1M347 106h1M156 323h1M92 394h1M340 199h1M327 145h1M301 180h1M137 352h1M157 309h1M163 316h1M282 231h1M97 382h1M337 165h1M268 240h1M110 355h1M314 173h1M294 211h1M345 117h1M323 192h1M161 310h1M149 334h1M190 271h1M277 230h1M301 197h1M199 272h1M307 196h1M178 289h1M257 254h1M166 308h1M154 340h1M318 177h1M101 393h1M114 297h1M248 247h1M178 279h1M289 240h1M264 251h1M160 294h1M285 221h1M175 287h1M92 407h1M156 334h1M308 198h1M92 406h1M136 325h1M146 330h1M349 124h1M342 118h1M171 285h1M342 200h1M102 361h1M278 237h1M261 250h1M269 242h1M182 300h1M286 226h1M274 233h1M145 322h1M195 270h1M332 99h1M308 207h1M123 336h1M120 313h1M135 326h1M313 231h1M264 245h1M189 268h1M129 327h1M199 265h1M289 237h1M167 294h1M298 232h1M181 278h1M131 340h1M304 203h1M169 291h1M351 147h1M253 257h1M258 246h1M279 215h1M299 186h1M183 281h1M287 229h1M135 313h1M273 237h1M249 251h1M301 217h1M276 243h1M352 114h1M267 246h1M186 271h1M150 318h1M98 398h1M122 355h1M176 267h1M124 396h1M149 345h1M346 159h1M315 197h1M324 180h1M121 325h1M178 290h1M147 300h1M315 189h1M95 389h1M290 229h1M157 328h1M269 234h1M280 219h1M175 279h1M152 317h1M288 224h1M201 273h1M85 387h1M275 237h1M304 194h1M156 321h1M290 212h1M175 282h1M169 273h1M323 128h1M153 305h1M116 358h1M267 237h1M151 323h1M287 233h1M114 363h1M92 399h1M335 194h1M117 368h1M191 269h1M301 200h1M266 245h1M190 276h1M121 383h1M128 334h1M288 219h1M136 336h1M181 282h1M317 187h1M106 355h1M144 345h1M287 213h1M259 253h1M365 119h1M148 322h1M297 204h1M164 297h1M219 259h1M326 178h1M277 227h1M269 237h1M339 136h1M272 241h1M195 264h1M311 186h1M299 202h1M361 115h1M328 131h1M264 246h1M287 228h1M332 158h1M108 392h1M287 223h1M195 273h1M160 301h1M195 267h1M299 203h1M134 402h1M183 273h1M282 229h1M176 288h1M158 302h1M327 156h1M137 321h1M333 102h1M126 360h1M174 288h1M70 415h1M257 244h1M157 300h1M119 347h1M318 154h1M290 222h1M268 247h1M258 247h1M203 263h1M190 273h1M210 261h1M268 237h1M180 287h1M136 324h1M199 269h1M194 264h1M275 241h1M252 256h1M194 267h1M261 243h1M271 239h1M309 174h1M115 359h1M306 213h1M281 226h1M289 202h1M182 284h1M254 253h1M277 229h1M251 256h1M346 159h1M202 260h1M125 373h1M263 252h1M136 370h1M371 112h1M256 256h1M308 202h1M313 167h1M180 281h1M161 329h1M338 184h1M316 203h1M122 360h1M64 310h1M289 242h1M290 213h1M204 260h1M324 165h1M158 302h1M177 266h1M95 324h1M103 417h1M123 354h1M135 343h1M158 296h1M131 345h1M144 313h1M157 315h1M255 251h1M335 151h1M327 173h1M303 184h1M324 155h1M259 246h1M148 327h1M294 213h1M271 238h1M293 220h1M305 209h1M132 386h1M298 217h1M164 304h1M282 223h1M284 232h1M292 220h1M269 247h1M194 271h1M91 418h1M291 181h1M182 273h1M276 237h1M144 333h1M158 338h1M277 229h1M259 257h1M281 232h1M357 125h1M398 115h1M253 252h1M311 126h1M176 284h1M325 142h1M350 119h1M360 101h1M189 272h1M272 232h1M246 248h1M134 365h1M355 125h1M154 289h1M303 220h1M355 113h1M167 286h1M120 373h1M174 291h1M277 233h1M169 297h1M339 155h1M302 183h1M311 163h1M374 140h1M111 358h1M253 252h1M116 382h1M130 351h1M141 336h1M300 224h1M189 277h1M105 360h1M189 277h1M253 256h1M115 390h1M187 274h1M273 232h1M307 208h1M278 223h1M155 323h1M188 276h1M181 294h1M290 210h1M344 125h1M243 260h1M120 355h1M277 236h1M275 229h1M179 278h1M284 234h1M197 266h1M294 207h1M338 149h1M125 354h1M207 265h1M160 293h1M257 252h1M150 321h1M367 167h1M134 372h1M175 278h1M254 250h1M347 154h1M339 175h1M147 345h1M134 292h1M268 238h1M151 301h1M317 147h1M104 414h1M201 260h1M347 143h1M261 247h1M242 254h1M158 313h1M272 235h1M315 159h1M175 291h1M91 382h1M155 339h1M254 252h1M194 273h1M279 230h1M321 137h1M314 188h1M286 228h1M327 182h1M126 384h1M107 347h1M297 191h1M168 325h1M144 352h1M195 271h1M187 273h1M379 105h1M196 267h1M279 229h1M126 366h1M274 239h1M295 229h1M283 226h1M350 120h1M136 357h1M285 225h1M157 319h1M255 252h1M327 150h1M159 315h1M277 225h1M281 234h1M148 304h1M292 221h1M301 229h1M257 249h1M337 133h1M129 301h1M166 299h1M144 318h1M287 219h1M328 159h1M113 306h1M194 266h1M298 214h1M105 403h1M158 333h1M270 238h1M127 332h1M194 271h1M316 134h1M190 273h1M327 161h1M295 197h1M125 369h1M199 267h1M334 141h1M132 334h1M181 280h1M250 253h1M288 237h1M190 272h1M331 186h1M175 289h1M325 174h1M272 244h1M264 242h1M269 239h1M170 292h1M278 234h1M258 247h1M277 231h1M162 314h1M137 335h1M292 219h1M272 240h1M291 241h1M105 412h1M266 252h1M172 259h1M122 374h1M180 290h1M144 339h1M264 246h1M251 256h1M246 255h1M281 234h1M175 290h1M298 218h1M296 210h1M267 241h1M182 296h1M345 127h1M143 362h1M289 219h1M338 166h1M161 291h1M265 243h1M174 273h1M99 399h1M264 239h1M181 280h1M302 229h1M335 169h1M311 146h1M269 258h1M166 296h1M196 264h1M169 293h1M97 396h1M278 226h1M194 268h1M83 361h1M266 242h1M309 134h1M355 111h1M269 233h1M185 276h1M335 147h1M286 230h1M258 248h1M88 412h1M158 294h1M190 284h1M269 240h1M181 289h1M266 252h1M258 246h1M140 326h1M152 313h1M108 346h1M341 164h1M206 261h1M152 281h1M194 269h1M279 233h1M138 320h1M167 291h1M285 217h1M195 266h1M267 248h1M182 280h1M127 341h1M102 398h1M158 304h1M107 380h1M130 334h1M240 254h1M129 372h1M210 266h1M287 238h1M133 365h1M172 288h1M99 397h1M142 330h1M312 171h1M365 139h1M146 338h1M181 293h1M261 239h1M193 271h1M274 237h1M118 390h1M356 109h1M334 213h1M204 258h1M273 233h1M104 407h1M187 279h1M264 241h1M121 389h1M259 248h1M274 237h1M158 319h1M276 232h1M182 282h1M188 275h1M194 264h1M169 289h1M256 247h1M157 306h1M337 182h1M303 196h1M249 256h1M153 295h1M134 345h1M352 139h1M258 245h1M159 308h1M143 346h1M177 303h1M176 285h1M124 313h1M169 293h1M181 280h1M201 263h1M264 248h1M183 280h1M259 246h1M229 259h1M310 188h1M263 247h1M257 250h1M320 177h1M301 211h1M319 143h1M181 278h1M295 225h1M265 242h1M75 396h1M117 381h1M154 304h1M292 224h1M178 281h1M185 278h1M96 378h1M296 210h1M254 250h1M373 110h1M258 249h1M299 236h1M143 331h1M303 218h1M259 246h1M309 188h1M184 273h1M193 277h1M190 273h1M177 294h1M347 99h1M284 239h1M128 345h1M197 271h1M329 164h1M83 417h1M345 166h1M262 249h1M160 276h1M344 159h1M284 218h1M327 220h1M92 395h1M276 238h1M282 232h1M301 205h1M153 321h1M74 418h1M294 220h1M302 203h1M152 325h1M173 290h1M345 161h1M194 270h1M247 256h1M131 342h1M152 304h1M189 268h1M276 243h1M196 260h1M189 271h1M146 322h1M121 397h1M199 270h1M318 168h1M124 385h1M253 251h1M180 273h1M266 239h1M179 280h1M174 281h1M318 222h1M343 182h1M175 280h1M305 190h1M106 328h1M183 266h1M212 259h1M160 303h1M318 207h1M307 198h1M280 242h1M168 324h1M195 272h1M323 183h1M180 280h1M195 277h1M256 253h1M253 256h1M198 263h1M106 358h1M172 285h1M315 157h1M111 383h1M173 292h1M348 134h1M245 252h1M169 291h1M191 272h1M333 163h1M149 342h1M258 250h1M278 242h1M259 251h1M199 269h1M122 377h1M170 287h1M319 203h1M291 224h1M287 226h1M165 298h1M147 314h1M319 140h1M171 294h1M178 290h1M159 314h1M276 220h1M340 154h1M170 295h1M156 329h1M263 237h1M305 217h1M154 316h1M353 122h1M319 143h1M379 139h1M96 383h1M313 190h1M280 224h1M143 328h1M113 415h1M134 387h1M204 265h1M260 246h1M318 173h1M96 384h1M252 248h1M203 262h1M197 275h1M204 268h1M202 262h1M173 283h1M293 217h1M164 301h1M193 271h1M280 231h1M185 280h1M113 380h1M336 213h1M135 341h1M148 294h1M155 316h1M144 344h1M185 272h1M306 194h1M318 208h1M329 148h1M285 211h1M385 103h1M104 304h1M258 255h1M176 279h1M160 292h1M313 198h1M148 334h1M141 328h1M345 109h1M346 157h1M326 179h1M274 241h1M257 243h1M327 185h1M253 250h1M148 332h1M254 248h1M247 257h1M164 284h1M179 281h1M202 267h1M334 165h1M251 250h1M316 151h1M284 228h1M316 187h1M251 253h1M327 154h1M162 319h1M198 273h1M171 294h1M320 179h1M160 303h1M187 273h1M109 375h1M357 130h1M109 374h1M240 260h1M192 271h1M319 169h1M182 285h1M313 187h1M257 246h1M153 298h1M143 335h1M311 224h1M314 166h1M323 172h1M324 163h1M250 257h1M191 271h1M174 291h1M313 208h1M154 311h1M272 235h1M185 273h1M348 150h1M316 198h1M122 329h1M199 269h1M143 332h1M144 313h1M168 312h1M296 229h1M135 320h1M129 347h1M80 400h1M169 288h1M182 276h1M281 251h1M176 288h1M148 329h1M311 173h1M273 237h1M316 188h1M143 345h1M157 297h1M119 367h1M94 409h1M142 384h1M145 306h1M158 313h1M70 415h1M98 352h1M133 320h1M176 290h1M331 122h1M348 127h1M271 249h1M132 352h1M294 209h1M93 319h1M327 150h1M116 341h1M115 333h1M310 192h1M182 260h1M270 240h1M209 262h1M341 116h1M283 241h1M118 360h1M136 363h1M342 117h1M298 208h1M188 288h1M125 352h1M383 122h1M275 220h1M307 202h1M169 296h1M316 143h1M264 248h1M289 239h1M260 251h1M301 211h1M189 275h1M133 403h1M128 359h1M290 217h1M305 207h1M315 186h1M339 174h1M353 144h1M182 281h1M271 237h1M306 208h1M251 252h1M174 284h1M183 284h1M322 137h1M319 135h1M348 134h1M164 293h1M139 339h1M125 380h1M332 178h1M271 245h1M103 385h1M159 290h1M133 311h1M171 291h1M338 138h1M181 276h1M168 296h1M121 406h1M119 391h1M199 263h1M130 364h1M190 270h1M251 258h1M261 248h1M302 211h1M189 276h1M174 289h1M320 191h1M155 296h1M144 380h1M155 299h1M183 284h1M178 291h1M191 271h1M295 211h1M81 385h1M182 276h1M146 328h1M172 280h1M139 316h1M254 252h1M196 272h1M211 265h1M144 313h1M373 152h1M172 284h1M291 214h1M263 247h1M163 292h1M152 296h1M181 283h1M293 215h1M103 396h1M177 289h1M132 362h1M308 228h1M319 196h1M193 271h1M167 290h1M188 276h1M151 307h1M294 227h1M84 408h1M176 288h1M205 260h1M298 173h1M183 291h1M275 226h1M267 227h1M186 274h1M124 327h1M141 311h1M288 215h1M283 242h1M270 244h1M134 319h1M259 250h1M188 261h1M299 213h1M255 250h1M330 157h1M349 128h1M249 252h1M291 224h1M339 142h1M353 141h1M288 212h1M174 275h1M315 151h1M154 291h1M201 267h1M322 151h1M159 282h1M172 285h1M159 291h1M326 199h1M275 232h1M327 149h1M192 279h1M375 161h1M258 249h1M199 261h1M330 190h1M161 291h1M139 358h1M233 259h1M186 283h1M139 327h1M149 290h1M157 311h1M285 218h1M281 247h1M139 307h1M301 218h1M322 170h1M297 212h1M314 191h1M313 181h1M292 217h1M187 264h1M149 309h1M318 148h1M183 287h1M266 242h1M284 228h1M267 235h1M169 279h1M97 416h1M279 220h1M152 300h1M160 295h1M271 239h1M359 147h1M256 254h1M264 250h1M267 253h1M80 412h1M168 309h1M178 276h1M258 252h1M184 280h1M349 143h1M276 230h1M262 243h1M275 229h1M193 270h1M349 136h1M190 275h1M256 254h1M174 300h1M259 251h1M337 139h1M133 326h1M175 282h1M109 389h1M252 252h1M265 241h1M292 193h1M135 344h1M165 293h1M92 407h1M191 275h1M192 270h1M104 396h1M255 250h1M118 395h1M172 285h1M372 104h1M201 265h1M262 246h1M366 156h1M145 321h1M191 270h1M329 190h1M274 252h1M141 321h1M315 164h1M291 229h1M308 165h1M257 251h1M247 255h1M295 218h1M294 226h1M98 381h1M151 296h1M95 405h1M347 107h1M269 245h1M108 378h1M196 273h1M136 344h1M306 188h1M335 171h1M222 259h1M281 223h1M117 395h1M279 233h1M141 339h1M128 368h1M117 348h1M307 186h1M288 227h1M173 289h1M170 303h1M141 332h1M144 330h1M140 344h1M259 254h1M357 111h1M265 256h1M109 401h1M120 342h1M187 272h1M171 294h1M256 254h1M333 179h1M133 363h1M113 402h1M183 272h1M106 391h1M152 304h1M101 418h1M356 135h1M264 251h1M135 354h1M307 181h1M129 352h1M159 304h1M248 251h1M154 271h1M294 212h1M153 319h1M125 361h1M187 279h1M297 209h1M178 286h1M310 192h1M206 260h1M291 213h1M312 152h1M314 198h1M157 326h1M171 295h1M295 205h1M114 379h1M142 336h1M141 302h1M312 222h1M89 372h1M99 348h1M126 353h1M326 207h1M185 275h1M190 276h1M324 159h1M160 295h1M198 271h1M334 134h1M192 276h1M335 157h1M276 242h1M117 297h1M273 239h1M336 153h1M168 278h1M277 226h1M196 268h1M365 104h1M304 196h1M268 243h1M166 304h1M262 247h1M137 314h1M129 354h1M324 156h1M210 261h1M84 400h1M254 250h1M146 314h1M163 299h1M145 372h1M307 154h1M133 340h1M322 159h1M183 282h1M250 257h1M81 416h1M201 265h1M301 217h1M188 275h1M300 228h1M319 151h1M270 245h1M264 256h1M297 209h1M185 271h1M270 251h1M262 248h1M343 109h1M288 226h1M125 384h1M342 169h1M181 280h1M145 354h1M205 266h1M119 403h1M319 159h1M281 222h1M186 287h1M135 324h1M282 230h1M144 316h1M287 239h1M201 271h1M262 242h1M161 312h1M207 261h1M175 283h1M155 309h1M188 273h1M335 150h1M140 320h1M155 338h1M173 284h1M261 251h1M271 224h1M320 166h1M191 275h1M297 191h1M182 279h1M263 242h1M307 183h1M345 133h1M343 142h1M269 245h1M84 393h1M282 230h1M267 246h1M176 280h1M276 252h1M102 363h1M313 189h1M135 331h1M261 242h1M273 231h1M140 307h1M260 246h1M351 147h1M192 269h1M284 216h1M145 337h1M162 317h1M304 188h1M272 236h1M298 201h1M154 324h1M193 265h1M337 165h1M261 247h1M207 263h1M319 169h1M335 141h1M321 163h1M130 349h1M94 413h1M259 253h1M138 337h1M176 277h1M333 186h1M295 208h1M150 292h1M182 288h1M153 309h1M152 316h1M249 257h1M213 264h1M281 225h1M190 275h1M139 301h1M132 379h1M263 256h1M159 300h1M317 185h1M300 201h1M287 215h1M126 388h1M75 315h1M152 341h1M130 339h1M301 206h1M266 243h1M129 356h1M211 260h1M277 236h1M131 295h1M307 200h1M316 180h1M154 319h1M140 337h1M116 347h1M145 303h1M259 244h1M283 223h1M225 261h1M164 303h1M125 353h1M285 238h1M257 249h1M149 328h1M280 208h1M262 250h1M322 162h1M302 189h1M286 217h1M276 227h1M315 160h1M237 258h1M175 298h1M342 186h1M148 309h1M163 313h1M325 142h1M353 134h1M174 297h1M241 255h1M133 339h1M182 276h1M282 238h1M313 193h1M107 348h1M280 244h1M350 126h1M204 262h1M146 328h1M171 292h1M312 156h1M290 213h1M186 276h1M150 319h1M300 213h1M116 376h1M94 414h1M119 414h1M111 392h1M178 284h1M265 231h1M272 242h1M314 205h1M292 219h1M165 300h1M326 154h1M250 256h1M162 294h1M302 211h1M321 171h1M162 309h1M306 212h1M363 103h1M260 249h1M143 330h1M258 254h1M98 416h1M78 391h1M133 334h1M127 350h1M322 166h1M332 120h1M291 213h1M165 309h1M293 230h1M255 253h1M152 318h1M119 378h1M296 217h1M280 221h1M320 172h1M258 256h1M195 265h1M303 163h1M248 253h1M279 232h1M111 391h1M135 341h1M189 267h1M268 247h1M291 213h1M201 263h1M102 363h1M179 273h1M150 320h1M164 296h1M194 260h1M298 210h1M183 275h1M344 130h1M185 272h1M149 330h1M281 254h1M252 250h1M178 286h1M257 247h1M270 243h1M279 226h1M147 333h1M102 395h1M348 165h1M138 272h1M138 351h1M137 343h1M170 301h1M329 154h1M351 119h1M276 234h1M291 233h1M345 124h1M152 304h1M175 288h1M176 290h1M309 207h1M190 274h1M333 157h1M158 341h1M332 176h1M277 232h1M301 209h1M369 100h1M364 119h1M174 294h1M125 375h1M336 173h1M283 220h1M389 141h1M248 257h1M167 297h1M109 351h1M280 227h1M265 242h1M114 375h1M109 351h1M159 299h1M271 244h1M129 352h1M287 232h1M145 318h1M357 137h1M324 175h1M189 269h1M150 313h1M277 243h1M182 277h1M136 381h1M177 282h1M288 241h1M337 150h1M158 298h1M196 269h1M260 236h1M264 237h1M289 222h1M155 302h1M271 239h1M212 258h1M187 269h1M207 264h1M190 275h1M390 126h1M174 281h1M160 303h1M274 233h1M151 313h1M271 242h1M257 249h1M266 244h1M331 154h1M257 245h1M276 236h1M311 203h1M105 381h1M284 226h1M276 229h1M267 251h1M265 249h1M288 189h1M103 402h1M323 203h1M283 227h1M117 418h1M283 221h1M121 413h1M381 116h1M311 178h1M135 337h1M160 302h1M292 210h1M106 320h1M264 243h1M254 250h1M172 287h1M272 247h1M142 294h1M307 212h1M264 252h1M331 172h1M96 383h1M251 255h1M166 308h1M132 350h1M296 207h1M288 194h1M280 242h1M269 238h1M187 278h1M103 357h1M116 301h1M252 253h1M264 247h1M194 271h1M290 235h1M254 241h1M271 229h1M250 254h1M184 297h1M268 238h1M155 313h1M278 238h1M120 341h1M175 296h1M146 317h1M267 242h1M114 417h1M293 226h1M284 227h1M305 194h1M180 277h1M388 101h1M135 359h1M122 373h1M283 226h1M123 366h1M264 231h1M188 267h1M254 249h1M271 241h1M253 245h1M328 133h1M193 271h1M265 240h1M136 306h1M296 215h1M259 250h1M322 152h1M291 234h1M324 116h1M169 287h1M300 207h1M261 238h1M275 230h1M157 315h1M163 294h1M259 252h1M180 274h1M92 394h1M325 142h1M373 112h1M164 294h1M257 253h1M194 267h1M88 388h1M163 276h1M178 283h1M171 295h1M166 294h1M262 251h1M168 292h1M185 279h1M154 321h1M340 156h1M310 194h1M346 142h1M162 308h1M280 236h1M201 260h1M256 248h1M122 378h1M263 232h1M207 269h1M186 268h1M114 398h1M123 360h1M370 112h1M176 290h1M274 228h1M267 251h1M188 277h1M195 265h1M319 179h1M132 318h1M175 281h1M255 257h1M269 238h1M169 278h1M154 312h1M172 281h1M154 301h1M160 298h1M73 417h1M185 279h1M160 300h1M196 275h1M169 292h1M368 121h1M202 269h1M287 223h1M167 294h1M249 256h1M107 349h1M264 241h1M189 274h1M302 182h1M80 398h1M338 126h1M189 279h1M359 133h1M181 287h1M271 233h1M98 404h1M306 207h1M369 125h1M264 244h1M120 385h1M164 289h1M263 237h1M273 231h1M345 122h1M310 188h1M264 241h1M190 269h1M122 355h1M77 399h1M140 305h1M172 296h1M294 195h1M198 269h1M179 261h1M127 365h1M299 237h1M130 335h1M123 348h1M199 262h1M137 300h1M243 254h1M254 260h1M260 247h1M299 211h1M329 169h1M342 231h1M292 214h1M312 169h1M338 142h1M327 215h1M193 274h1M324 176h1M348 152h1M146 319h1M292 215h1M288 227h1M303 188h1M301 219h1M122 405h1M288 211h1M157 309h1M164 299h1M174 281h1M301 222h1M175 296h1M154 308h1M298 190h1M283 206h1M300 217h1M151 306h1M178 280h1M277 238h1M261 249h1M345 134h1M283 240h1M352 99h1M151 303h1M189 275h1M302 203h1M193 274h1M166 306h1M195 270h1M358 110h1M120 365h1M345 155h1M300 219h1M195 263h1M166 299h1M363 119h1M282 234h1M268 227h1M117 371h1M163 304h1M256 248h1M282 221h1M296 195h1M283 235h1M288 237h1M130 319h1M350 180h1M196 269h1M106 372h1M117 358h1M313 152h1M168 297h1M185 273h1M262 251h1M113 412h1M273 233h1M353 112h1M328 161h1M164 287h1M262 254h1M96 383h1M151 325h1M165 299h1M171 292h1M303 238h1M324 193h1M154 308h1M276 237h1M138 344h1M168 298h1M295 239h1M145 350h1M282 241h1M266 243h1M198 263h1M159 291h1M327 201h1M144 320h1M324 153h1M297 189h1M159 310h1M207 264h1M191 275h1M182 283h1M169 296h1M184 276h1M300 206h1M176 289h1M119 349h1M177 277h1M157 304h1M184 279h1M333 181h1M295 198h1M212 259h1M298 209h1M308 196h1M90 407h1M141 334h1M303 230h1M180 279h1M194 273h1M252 255h1M324 137h1M94 416h1M260 249h1M326 122h1M331 159h1M332 210h1M332 138h1M170 284h1M299 169h1M319 186h1M320 122h1M127 339h1M282 237h1M285 220h1M271 249h1M304 224h1M130 408h1M191 277h1M175 281h1M158 309h1M194 267h1M291 232h1M140 300h1M222 260h1M164 294h1M117 362h1M280 232h1M182 277h1M140 327h1M143 333h1M349 100h1M380 127h1M272 243h1M246 258h1M189 268h1M281 227h1M117 390h1M311 190h1M175 296h1M120 384h1M354 122h1M256 244h1M303 199h1M191 275h1M362 135h1M309 159h1M182 281h1M287 209h1M367 111h1M150 307h1M283 231h1M359 155h1M347 126h1M340 150h1M201 271h1M185 284h1M253 254h1M146 363h1M204 268h1M199 274h1M124 317h1M177 265h1M312 178h1M118 417h1M142 340h1M204 265h1M143 334h1M290 230h1M197 268h1M176 288h1M264 242h1M275 247h1M116 396h1M158 292h1M271 247h1M316 204h1M268 248h1M298 216h1M320 111h1M195 269h1M119 358h1M102 384h1M109 371h1M199 265h1M185 280h1M172 307h1M294 252h1M328 156h1M308 202h1M238 260h1M296 204h1M247 256h1M294 210h1M155 321h1M274 245h1M327 146h1M298 222h1M366 141h1M178 269h1M191 274h1M346 131h1M186 271h1M345 157h1M313 201h1M185 275h1M188 271h1M254 248h1M159 333h1M343 119h1M178 288h1M189 273h1M127 415h1M115 412h1M96 401h1M321 133h1M253 255h1M199 264h1M356 102h1M151 328h1M186 269h1M140 322h1M155 304h1M288 208h1M281 240h1M324 173h1M125 343h1M134 320h1M104 320h1M153 318h1M311 192h1M278 240h1M317 135h1M254 248h1M149 344h1M165 293h1M105 399h1M132 338h1M349 142h1M257 255h1M299 200h1M188 273h1M277 236h1M359 167h1M185 267h1M337 103h1M256 254h1M183 280h1M255 245h1M103 395h1M178 284h1M187 277h1M200 273h1M100 381h1M380 103h1M322 118h1M257 254h1M173 287h1M291 211h1M284 229h1M331 132h1M352 135h1M126 342h1M294 198h1M178 287h1M170 302h1M184 274h1M166 320h1M141 317h1M253 256h1M128 340h1M141 336h1M295 222h1M258 248h1M196 268h1M213 264h1M259 241h1M312 184h1M153 320h1M320 152h1M195 269h1M165 280h1M331 147h1M322 167h1M280 236h1M243 256h1M133 331h1M259 246h1M241 259h1M294 210h1M245 253h1M266 230h1M149 322h1M193 272h1M149 295h1M297 202h1M274 237h1M145 317h1M309 200h1M272 241h1M325 161h1M283 224h1M306 189h1M323 143h1M87 327h1M203 259h1M279 238h1M285 215h1M195 270h1M107 346h1M351 116h1M167 317h1M195 267h1M196 262h1M148 302h1M192 271h1M271 244h1M149 326h1M309 192h1M175 282h1M146 309h1M112 388h1M344 118h1M154 309h1M160 337h1M275 245h1M268 239h1M286 216h1M266 253h1M305 228h1M315 190h1M274 224h1M275 237h1M184 270h1M149 281h1M321 165h1M292 223h1M150 325h1M285 216h1M183 286h1M166 299h1M263 229h1M325 214h1M348 126h1M315 165h1M134 325h1M292 205h1M344 141h1M273 239h1M251 250h1M183 290h1M271 246h1M270 236h1M348 146h1M201 270h1M282 245h1M165 308h1M287 220h1M168 292h1M179 283h1M112 389h1M338 181h1M116 417h1M121 412h1M254 252h1M152 316h1M286 210h1M269 241h1M187 274h1M329 202h1M157 317h1M121 311h1M268 232h1M199 263h1M178 274h1M103 418h1M328 157h1M305 187h1M158 340h1M171 291h1M264 255h1M344 135h1M158 302h1M266 236h1M175 290h1M276 232h1M306 224h1M140 349h1M110 381h1M111 383h1M324 200h1M255 252h1M124 334h1M263 245h1M154 309h1M171 288h1M191 268h1M279 239h1M322 161h1M268 254h1M337 126h1M365 125h1M259 247h1M115 395h1M168 291h1M170 281h1M122 320h1M319 214h1M176 279h1M281 225h1M302 176h1M181 275h1M164 302h1M288 208h1M361 141h1M333 120h1M290 206h1M166 276h1M144 340h1M124 398h1M262 250h1M139 336h1M195 267h1M266 257h1M264 243h1M140 332h1M188 264h1M256 247h1M192 262h1M284 214h1M161 291h1M270 239h1M186 272h1M290 218h1M62 414h1M179 286h1M188 273h1M160 320h1M331 167h1M342 150h1M187 270h1M297 205h1M309 194h1M276 224h1M311 154h1M159 310h1M194 266h1M381 122h1M326 113h1M195 267h1M191 274h1M134 312h1M170 291h1M158 304h1M160 333h1M313 179h1M286 231h1M152 338h1M203 265h1M311 191h1M332 133h1M109 369h1M134 326h1M95 397h1M313 181h1M184 283h1M83 396h1M69 412h1M144 332h1M180 284h1M308 196h1M145 332h1M272 234h1M177 283h1M344 101h1M271 241h1M176 298h1M313 154h1M145 305h1M129 344h1M254 254h1M310 197h1M148 332h1M276 228h1M294 223h1M105 379h1M340 136h1M310 196h1M299 201h1M180 281h1M160 295h1M164 292h1M361 113h1M194 276h1M288 216h1M178 277h1M132 370h1M191 271h1M131 344h1M295 223h1M292 195h1M88 405h1M295 218h1M123 370h1M271 236h1M341 172h1M276 236h1M125 322h1M199 269h1M253 255h1M185 262h1M145 323h1M296 221h1M268 241h1M341 151h1M321 189h1M269 239h1M186 270h1M338 135h1M150 326h1M285 233h1M211 259h1M299 200h1M145 305h1M257 247h1M179 306h1M132 358h1M347 136h1M168 297h1M117 374h1M132 339h1M333 152h1M343 156h1M315 186h1M295 185h1M183 275h1M270 237h1M260 254h1M178 302h1M260 244h1M201 262h1M183 278h1M244 257h1M168 305h1M134 318h1M255 246h1M140 332h1M343 129h1M253 254h1M101 375h1M138 336h1M121 327h1M155 297h1M283 216h1M247 259h1M116 365h1M168 312h1M153 311h1M278 232h1M284 209h1M278 226h1M260 250h1M192 265h1M262 256h1M142 339h1M172 287h1M189 268h1M354 118h1M307 189h1M320 174h1M191 269h1M271 227h1M208 260h1M148 284h1M276 231h1M296 205h1M176 287h1M197 264h1M340 165h1M344 161h1M302 248h1M352 135h1M245 251h1M266 243h1M345 137h1M200 268h1M97 399h1M318 177h1M357 115h1M252 254h1M81 367h1M339 171h1M261 249h1M263 247h1M158 295h1M247 257h1M366 118h1M171 294h1M285 228h1M272 244h1M329 120h1M154 281h1M320 171h1M278 211h1M177 282h1M160 305h1M205 265h1M286 248h1M161 302h1M270 250h1M156 311h1M260 249h1M214 259h1M336 110h1M291 226h1M294 239h1M284 217h1M57 352h1M191 269h1M156 277h1M295 211h1M293 209h1M182 276h1M166 301h1M274 231h1M324 174h1M127 354h1M255 245h1M260 250h1M112 341h1M275 238h1M308 199h1M127 357h1M194 270h1M200 270h1M331 133h1M114 387h1M133 312h1M147 344h1M263 242h1M298 210h1M285 221h1M275 235h1M154 298h1M195 272h1M305 219h1M249 256h1M136 324h1M161 331h1M197 265h1M184 281h1M123 410h1M325 137h1M187 266h1M345 183h1M198 269h1M277 211h1M281 234h1M256 247h1M333 145h1M262 253h1M269 250h1M167 296h1M328 147h1M169 307h1M286 225h1M149 356h1M72 417h1M146 315h1M298 223h1M279 220h1M291 217h1M186 279h1M195 267h1M344 127h1M132 361h1M311 210h1M186 271h1M145 313h1M194 265h1M268 238h1M291 212h1M362 109h1M121 385h1M288 219h1M257 254h1M172 273h1M185 278h1M293 208h1M194 272h1M279 226h1M123 352h1M116 388h1M178 283h1M118 379h1M135 316h1M278 225h1M147 366h1M272 222h1M168 296h1M294 215h1M308 180h1M158 312h1M130 311h1M334 138h1M179 275h1M273 219h1M86 405h1M349 144h1M306 213h1M193 268h1M178 283h1M316 162h1M156 325h1M204 267h1M325 130h1M302 191h1M294 221h1M146 346h1M120 338h1M186 279h1M329 122h1M271 246h1M287 211h1M208 259h1M272 229h1M284 222h1M170 291h1M181 280h1M136 337h1M297 220h1M345 120h1M171 291h1M118 346h1M279 217h1M133 339h1M293 224h1M259 256h1M268 247h1M194 265h1M115 405h1M198 272h1M194 268h1M190 273h1M155 289h1M199 264h1M109 383h1M156 305h1M240 259h1M153 308h1M147 330h1M134 306h1M148 336h1M155 329h1M330 110h1M239 260h1M319 173h1M291 214h1M345 136h1M285 234h1M134 372h1M174 293h1M128 336h1M136 325h1M277 229h1M187 281h1M267 241h1M255 248h1M97 379h1M131 339h1M277 235h1M254 248h1M98 371h1M307 210h1M258 249h1M103 403h1M187 271h1M189 283h1M146 295h1M302 215h1M195 273h1M162 304h1M268 238h1M368 108h1M367 121h1M299 210h1M260 241h1M260 248h1M169 296h1M356 153h1M291 208h1M278 233h1M189 261h1M131 342h1M146 312h1M181 281h1M278 242h1M278 225h1M289 226h1M261 233h1M127 354h1M288 228h1M337 152h1M138 331h1M133 333h1M142 350h1M364 108h1M303 196h1M188 272h1M195 269h1M285 234h1M323 179h1M159 308h1M254 249h1M156 316h1M337 145h1M241 256h1M362 115h1M327 185h1M159 309h1M145 343h1M302 175h1M197 266h1M313 225h1M157 313h1M272 244h1M289 210h1M197 262h1M186 274h1M135 327h1M193 269h1M184 277h1M319 146h1M264 243h1M285 252h1M110 341h1M153 318h1M284 240h1M240 261h1M282 210h1M176 289h1M204 265h1M265 239h1M153 301h1M294 217h1M142 330h1M110 365h1M289 217h1M120 332h1M193 263h1M157 345h1M329 182h1M124 399h1M104 369h1M289 228h1M269 235h1M288 226h1M124 345h1M249 250h1M337 158h1M298 204h1M152 345h1M313 180h1M168 303h1M357 128h1M163 283h1M189 264h1M181 293h1M106 367h1M260 252h1M275 227h1M182 293h1M278 215h1M255 261h1M285 217h1M179 279h1M188 268h1M331 223h1M281 243h1M253 252h1M304 200h1M272 232h1M264 242h1M318 185h1M285 195h1M137 365h1M331 121h1M265 241h1M304 218h1M308 184h1M253 248h1M171 317h1M98 360h1M125 389h1M290 217h1M372 102h1M133 320h1M258 249h1M115 368h1M172 282h1M195 268h1M253 255h1M257 253h1M335 148h1M272 234h1M125 359h1M312 229h1M342 142h1M286 215h1M296 233h1M292 219h1M111 368h1M245 260h1M269 230h1M163 293h1M272 224h1M156 294h1M255 254h1M130 332h1M352 142h1M183 275h1M261 245h1M205 261h1M257 236h1M342 136h1M289 223h1M122 339h1M289 221h1M260 247h1M301 176h1M126 353h1M270 244h1M181 287h1M281 231h1M340 138h1M295 217h1M259 252h1M260 249h1M271 238h1M356 122h1M284 223h1M279 233h1M290 221h1M303 223h1M289 225h1M287 215h1M364 107h1M149 293h1M188 273h1M271 234h1M76 406h1M309 197h1M307 195h1M295 219h1M334 139h1M136 346h1M306 209h1M145 312h1M172 299h1M301 213h1M128 411h1M193 273h1M172 270h1M300 235h1M346 215h1M196 266h1M344 140h1M255 250h1M86 391h1M346 109h1M287 216h1M277 232h1M118 369h1M313 183h1M260 240h1M179 281h1M339 115h1M305 191h1M208 262h1M261 246h1M197 267h1M331 144h1M310 188h1M89 401h1M176 278h1M77 388h1M141 343h1M96 418h1M313 193h1M261 248h1M105 388h1M350 119h1M174 285h1M258 248h1M144 325h1M150 312h1M255 249h1M173 269h1M88 412h1M122 345h1M180 294h1M198 272h1M274 233h1M173 296h1M271 257h1M163 299h1M280 226h1M138 330h1M253 255h1M124 372h1M321 179h1M317 170h1M137 338h1M143 338h1M168 298h1M175 288h1M317 196h1M307 197h1M263 246h1M296 206h1M112 338h1M324 172h1M360 103h1M168 297h1M138 337h1M267 239h1M125 350h1M294 218h1M365 108h1M369 151h1M185 274h1M110 416h1M262 239h1M292 225h1M132 340h1M142 314h1M318 194h1M163 293h1M283 214h1M313 183h1M271 248h1M293 219h1M318 166h1M286 224h1M274 234h1M156 319h1M195 263h1M172 295h1M254 253h1M277 205h1M162 283h1M281 222h1M146 335h1M329 174h1M307 193h1M178 273h1M325 140h1M190 275h1M151 319h1M197 269h1M179 285h1M155 303h1M125 365h1M163 300h1M193 264h1M196 276h1M221 259h1M287 211h1M260 251h1M328 176h1M153 311h1M118 379h1M181 271h1M299 202h1M94 387h1M306 202h1M268 242h1M197 266h1M330 171h1M273 250h1M345 115h1M114 370h1M291 219h1M310 185h1M190 273h1M271 237h1M157 317h1M291 213h1M370 128h1M193 269h1M326 137h1M273 243h1M193 269h1M281 221h1M326 185h1M140 328h1M185 286h1M165 290h1M91 381h1M162 294h1M365 135h1M312 159h1M101 412h1M186 273h1M290 207h1M287 213h1M181 279h1M287 229h1M168 295h1M259 248h1M342 145h1M145 339h1M199 260h1M314 159h1M192 266h1M194 275h1M255 251h1M282 225h1M337 155h1M351 118h1M160 306h1M161 299h1M292 210h1M297 211h1M213 260h1M163 299h1M141 345h1M307 161h1M182 283h1M144 348h1M301 212h1M341 157h1M185 271h1M289 220h1M186 275h1M116 402h1M183 276h1M263 247h1M170 284h1M355 122h1M107 383h1M294 192h1M146 312h1M240 258h1M157 291h1M182 281h1M249 256h1M205 264h1M164 301h1M284 234h1M110 384h1M285 227h1M208 263h1M281 230h1M300 177h1M205 261h1M281 212h1M315 186h1M189 273h1M286 207h1M174 291h1M242 257h1M113 370h1M134 370h1M343 116h1M100 406h1M174 283h1M166 290h1M245 259h1M357 108h1M347 136h1M157 339h1M194 263h1M278 243h1M315 174h1M342 142h1M272 242h1M161 319h1M279 233h1M171 294h1M191 271h1M318 187h1M192 284h1M153 320h1M198 265h1M139 368h1M335 135h1M122 351h1M322 168h1M372 110h1M117 387h1M123 333h1M338 162h1M284 229h1M127 380h1M183 271h1M106 368h1M286 245h1M303 220h1M355 128h1M340 147h1M197 264h1M160 300h1M130 350h1M111 391h1M220 259h1M253 255h1M94 400h1M254 255h1M185 276h1M196 272h1M320 146h1M149 308h1M341 110h1M148 324h1M197 267h1M297 229h1M272 232h1M287 223h1M386 107h1M110 414h1M267 236h1M150 314h1M195 268h1M295 187h1M141 342h1M288 212h1M126 364h1M152 314h1M306 206h1M169 312h1M264 247h1M298 219h1M301 212h1M302 219h1M142 331h1M290 184h1M155 302h1M202 270h1M89 384h1M260 247h1M272 236h1M113 366h1M254 250h1M170 297h1M140 342h1M320 172h1M191 275h1M296 217h1M189 275h1M156 279h1M145 315h1M362 140h1M200 264h1M372 113h1M295 200h1M331 133h1M291 230h1M257 243h1M300 228h1M87 368h1M295 231h1M293 214h1M306 242h1M112 387h1M280 215h1M250 253h1M179 280h1M260 254h1M96 393h1M99 403h1M353 108h1M254 260h1M292 214h1M142 350h1M293 215h1M174 274h1M179 284h1M190 276h1M292 225h1M307 230h1M188 267h1M153 286h1M179 287h1M208 262h1M284 226h1M127 355h1M292 211h1M254 248h1M285 220h1M104 418h1M291 228h1M119 414h1M257 251h1M85 362h1M125 390h1M193 271h1M185 276h1M172 284h1M315 200h1M159 311h1M257 258h1M160 299h1M260 254h1M276 228h1M144 325h1M268 249h1M338 171h1M271 220h1M290 213h1M358 105h1M165 300h1M316 199h1M108 368h1M278 230h1M268 238h1M163 315h1M187 279h1M186 288h1M150 332h1M324 159h1M187 284h1M161 297h1M294 185h1M304 189h1M164 292h1M295 227h1M154 294h1M272 232h1M318 176h1M198 266h1M304 181h1M367 125h1M250 249h1M81 327h1M253 254h1M348 124h1M181 280h1M194 274h1M107 400h1M165 309h1M248 254h1M112 347h1M210 260h1M184 279h1M155 316h1M164 284h1M122 364h1M126 367h1M259 237h1M304 201h1M171 289h1M186 287h1M302 235h1M88 388h1M170 287h1M334 130h1M142 336h1M311 120h1M128 413h1M304 195h1M147 354h1M245 255h1M309 169h1M157 306h1M132 350h1M350 164h1M245 253h1M91 325h1M145 334h1M133 327h1M314 174h1M358 105h1M166 273h1M137 364h1M293 213h1M253 250h1M282 228h1M262 244h1M280 216h1M132 356h1M144 363h1M282 234h1M354 122h1M308 188h1M272 232h1M298 194h1M173 287h1M188 282h1M268 249h1M281 220h1M324 192h1M166 301h1M338 154h1M278 231h1M199 269h1M187 266h1M93 374h1M140 313h1M181 275h1M272 241h1M316 170h1M294 180h1M141 343h1M319 191h1M254 254h1M290 231h1M312 175h1M163 304h1M317 150h1M112 408h1M198 267h1M181 275h1M181 272h1M181 280h1M141 331h1M381 101h1M343 140h1M294 179h1M178 279h1M360 116h1M312 152h1M198 261h1M116 341h1M378 124h1M337 109h1M264 245h1M157 288h1M112 370h1M154 268h1M303 203h1M301 174h1M262 247h1M197 273h1M290 225h1M257 252h1M270 242h1M171 307h1M296 224h1M324 187h1M181 291h1M316 178h1M174 303h1M367 111h1M172 291h1M297 182h1M263 245h1M192 280h1M295 206h1M285 228h1M292 217h1M150 321h1M184 283h1M282 240h1M258 254h1M135 334h1M147 308h1M92 387h1M146 297h1M295 203h1M142 320h1M318 197h1M287 231h1M171 291h1M349 146h1M174 294h1M306 191h1M343 121h1M295 205h1M183 274h1M156 320h1M293 216h1M375 100h1M354 168h1M132 347h1M259 252h1M312 203h1M141 323h1M271 243h1M202 261h1M255 253h1M187 275h1M357 120h1M183 278h1M315 163h1M190 279h1M151 292h1M311 194h1M135 309h1M293 211h1M131 345h1M300 199h1M175 272h1M152 304h1M127 389h1M165 272h1M274 240h1M277 231h1M256 246h1M173 281h1M85 400h1M308 194h1M116 389h1M268 247h1M186 280h1M146 356h1M258 258h1M297 216h1M314 166h1M202 267h1M53 404h1M121 379h1M310 205h1M205 266h1M250 243h1M276 247h1M292 189h1M112 366h1M119 356h1M196 266h1M175 284h1M319 144h1M139 387h1M301 203h1M329 171h1M254 256h1M281 215h1M194 269h1M123 358h1M367 121h1M156 337h1M112 400h1M257 254h1M188 274h1M131 328h1M179 281h1M287 230h1M125 358h1M191 281h1M175 295h1M296 207h1M250 257h1M272 249h1M152 340h1M351 115h1M158 301h1M315 171h1M138 348h1M165 298h1M315 233h1M138 335h1M98 388h1M209 261h1M133 300h1M306 191h1M259 252h1M149 327h1M297 218h1M128 384h1M93 401h1M256 255h1M275 232h1M337 185h1M339 157h1M345 120h1M263 240h1M265 242h1M86 418h1M309 210h1M91 377h1M161 315h1M263 249h1M225 260h1M130 342h1M190 276h1M157 316h1M355 153h1M299 216h1M198 272h1M204 267h1M324 199h1M130 325h1M369 106h1M260 251h1M349 118h1M189 275h1M195 266h1M294 216h1M200 269h1M352 281h4M65 362h3M368 281h3M344 287h4M354 319h3M97 277h1M71 383h1M62 127h1M397 370h2M388 166h3M107 337h1M328 244h1M394 128h1M324 254h3M109 353h1M69 243h4M373 226h2M292 221h3M122 198h3M389 414h4M72 358h1M394 246h2M308 251h1M160 280h1M392 265h2M365 191h1M122 320h1M189 260h3M367 348h4M351 273h2M346 218h2M291 274h4M173 283h1M158 303h1M375 397h1M77 266h2M317 247h1M68 272h1M53 415h1M161 270h1M100 301h3M62 362h2M51 292h2M389 407h4M365 219h3M254 259h1M335 225h1M100 165h1M195 269h1M398 246h1M143 278h3M56 330h1M400 281h2M57 244h1M124 124h1M102 372h2M110 248h1M99 382h1M94 412h2M114 282h2M390 267h3M88 290h3M96 292h1M85 255h3M129 331h1M59 269h2M376 115h1M343 283h1M126 223h1M74 280h1M64 218h1M348 272h3M66 266h3M163 271h3M123 285h2M318 257h3M55 267h3M279 253h2M126 274h1M93 248h4M376 411h3M361 224h1M84 267h2M120 132h3M383 315h2M51 267h3M179 278h1M148 318h2M362 305h4M326 325h3M309 260h1M75 383h1M343 213h1M334 356h1M296 337h2M62 254h2M310 253h3M127 338h1M63 286h1M355 174h3M306 316h2M276 237h3M85 242h3M62 211h4M362 248h3M90 301h1M378 203h2M378 147h1M149 109h1M303 321h4M152 119h2M108 374h3M163 255h3M312 205h1M360 280h4M112 303h1M106 106h3M60 284h1M318 176h2M175 231h4M326 247h1M383 257h1M314 221h1M82 277h3M395 258h1M91 308h2M78 363h2M303 333h1M364 149h2M312 204h2M78 240h3M75 359h1M336 227h2M58 344h2M199 266h1M133 145h3M142 233h3M140 261h1M125 212h3M351 252h1M136 312h1M137 250h4M83 271h2M384 417h2M64 274h1M372 246h1M92 375h3M103 262h3M389 269h1M338 385h2M117 241h4M58 358h1M301 205h1M333 325h1M390 148h1M401 373h4M375 272h2M355 214h2M131 229h3M104 400h1M56 394h1M53 122h4M345 238h3M387 374h4M323 297h3M361 138h3M297 215h1M157 300h2M75 252h1M78 121h2M301 222h1M286 227h1M103 252h1M131 274h2M339 195h1M288 239h3M70 280h2M344 414h4M363 381h4M387 384h1M391 250h3M53 170h1M76 237h4M66 304h2M314 183h3M122 308h3M137 268h2M397 296h4M90 109h2M65 409h2M370 142h2M91 266h1M383 231h1M134 271h3M82 281h2M56 126h1M344 199h1M53 370h3M78 314h3M109 260h1M392 302h2M248 257h2M100 379h1M368 121h3M368 310h3M109 274h1M294 256h3M393 244h3M276 258h1M384 269h1M109 244h4M371 252h2M357 267h2M91 299h3M399 205h3M351 273h1M277 234h3M54 210h1M143 302h2M96 417h1M70 108h3M75 249h3M113 342h1M350 168h1M331 195h2M89 318h2M361 236h1M350 274h3M115 189h3M397 345h3M100 279h1M96 278h1M340 179h3M254 256h1M133 252h1M362 212h1M300 238h2M70 281h1M331 252h1M112 268h1M110 294h1M58 418h1M325 183h2M64 234h2M291 262h2M357 244h1M153 275h3M130 209h2M392 196h3M127 159h2M81 312h1M96 151h4M401 260h1M274 359h4M64 273h1M97 217h1M107 314h3M112 313h1M330 255h1M127 340h3M99 286h2M55 275h3M76 244h1M174 280h2M78 245h3M321 206h2M280 269h2M299 264h4M141 256h2M391 219h3M324 256h2M125 352h3M58 278h1M297 236h2M169 275h1M372 387h1M73 276h3M308 208h2M399 117h1M302 258h3M144 286h1M55 391h3M77 258h1M85 138h3M91 274h3M184 272h1M389 381h3M325 247h1M149 244h3M398 245h3M328 239h2M356 177h2M158 241h1M70 234h2M74 335h1M366 232h1M348 279h1M97 244h2M131 307h1M377 240h3M200 263h3M69 120h2M311 384h2M57 358h1M86 325h2M92 295h1M401 270h3M309 268h2M394 289h2M375 124h1M73 237h1M371 155h2M346 248h2M60 409h1M376 174h1M132 128h1M384 208h3M67 347h1M103 347h2M142 249h3M293 247h1M91 349h3M65 259h2M94 341h3M118 259h1M97 125h4M358 280h3M102 115h1M90 229h4M84 252h3M130 249h2M168 127h1M57 233h1M320 266h3M81 279h3M171 269h3M342 323h1M68 294h1M99 280h1M105 390h1M321 253h3M387 107h1M133 222h3M72 265h2M68 397h3M370 224h1M77 336h3M366 164h2M178 260h1M303 244h3M138 252h3M381 279h1M174 276h2M395 136h1M188 274h3M58 286h1M290 252h1M379 125h3M160 264h1M97 168h1M401 136h1M399 255h1M104 259h2M111 247h3M100 253h4M382 118h3M289 251h2M296 317h3M105 116h2M355 231h1M110 302h1M95 269h3M334 273h2M173 269h2M287 225h1M366 343h1M94 292h1M303 206h3M79 263h1M176 280h2M143 285h1M147 316h3M343 250h3M138 287h1M361 265h2M81 163h4M383 116h2M357 253h1M140 287h3M357 111h1M379 171h1M85 323h2M65 358h3M374 270h1M66 129h4M59 214h4M164 291h1M389 206h1M389 278h1M125 149h3M281 316h2M394 401h1M84 153h1M288 228h1M187 116h2M387 254h1M86 390h2M400 182h3M332 235h1M78 288h1M350 260h1M270 252h1M144 167h2M292 340h3M58 287h1M134 307h2M84 317h1M97 343h1M339 219h1M165 256h4M90 122h3M66 258h2M337 257h3M62 406h3M362 389h2M121 258h1M77 213h4M114 244h4M81 279h2M121 175h3M302 257h3M351 177h1M349 205h3M393 259h3M73 204h2M365 129h3M80 295h1M137 316h1M68 417h2M95 319h1M55 248h4M53 241h1M370 260h1M380 194h1M98 272h1M392 396h2M64 257h4M394 266h2M76 262h2M283 352h1M326 261h2M384 146h1M340 254h3M160 256h4M345 317h4M334 273h2M72 149h1M121 310h3M320 227h3M79 320h1M298 269h1M389 159h3M357 270h2M169 111h4M330 334h3M69 268h1M353 283h3M339 220h1M366 127h3M348 215h3M394 202h3M55 254h3M378 206h2M304 225h2M374 319h3M331 205h3M82 391h1M354 264h2M300 229h3M68 250h2M355 257h1M336 224h1M309 264h4M354 406h4M110 360h3M89 364h2M180 278h1M119 257h4M104 249h1M330 270h4M109 265h1M309 257h1M289 376h4M329 274h4M103 270h1M51 173h2M376 238h1M287 405h4M108 303h2M257 259h1M359 265h3M155 223h4M327 405h4M116 329h1M166 267h1M149 190h2M85 272h2M357 255h2M137 279h1M157 248h2M320 232h2M367 283h3M359 387h4M358 171h1M386 243h3M90 325h3M92 243h4M150 208h3M267 247h1M123 357h3M336 199h3M397 289h4M78 372h1M53 301h1M274 249h1M136 125h3M363 246h3M101 149h3M162 261h2M92 392h3M346 255h3M77 252h1M266 256h1M104 268h2M79 375h1M392 271h2M66 293h2M88 376h1M144 262h1M395 146h1M385 260h1M136 286h2M64 192h4M111 251h2M183 266h2M370 153h1M81 306h3M338 200h1M326 288h1M144 270h1M147 269h1M307 273h1M59 394h2M58 363h2M382 402h3M57 329h3M356 323h4M401 230h1M58 344h1M132 242h2M67 109h2M69 283h3M125 282h2M361 155h2M132 287h1M128 265h1M144 268h1M377 277h4M339 253h3M359 282h3M377 259h4M320 285h4M93 266h1M286 258h1M382 133h1M139 324h3M313 252h1M166 267h3M72 258h2M89 147h3M162 295h2M75 264h2M194 263h3M100 248h2M364 230h2M396 131h3M157 272h2M314 237h1M366 263h4M326 161h2M64 249h4M103 259h2M168 273h2M308 218h2M342 135h2M117 272h1M301 286h1M111 262h1M173 233h4M63 248h4M286 224h1M61 399h2M277 233h1M380 198h2M338 370h2M121 244h4M394 264h3M85 266h2M280 257h1M346 172h1M82 316h1M319 255h1M336 149h2M288 255h3M54 226h3M391 243h1M381 330h2M370 266h4M84 201h2M382 278h4M344 315h3M319 358h1M66 321h1M79 257h4M384 166h1M104 271h3M174 273h3M95 342h2M113 250h3M344 268h2M397 382h1M390 316h1M145 294h3M58 277h3M361 229h3M99 253h1M166 281h2M371 127h3M316 263h1M362 270h4M86 151h1M121 175h3M130 249h2M68 359h2M336 177h1M303 245h2M332 313h1M374 112h1M107 283h1M326 261h2M96 340h2M113 174h4M99 301h2M172 251h4M190 259h1M117 101h2M169 270h2M63 279h3M166 261h1M88 213h4M342 262h2M291 241h3M157 233h4M105 360h1M395 114h1M341 200h3M278 295h3M53 207h3M345 138h3M270 254h1M73 292h1M315 330h2M270 246h1M100 256h3M330 181h2M102 371h2M283 265h3M56 267h3M345 234h3M332 270h3M86 288h3M355 242h3M396 227h1M371 185h2M100 272h1M97 319h1M92 249h1M52 416h2M350 130h1M318 230h2M128 257h2M385 151h1M389 386h3M94 329h1M127 266h3M139 335h1M372 138h1M55 352h1M78 129h1M319 379h2M104 119h2M136 267h2M359 251h1M392 368h4M78 111h4M55 274h1M72 301h1M308 281h2M400 258h2M390 199h3M347 327h4M89 403h3M126 148h2M316 261h4M177 282h1M370 356h3M72 287h1M76 197h3M359 295h3M381 174h1M381 363h4M259 255h2M98 323h1M353 149h3M137 240h2M400 270h3M369 147h3M150 209h1M147 259h1M149 293h3M112 126h4M156 281h1M330 247h3M371 228h1M146 255h2M300 217h2M136 279h2M359 121h1M323 278h2M69 384h1M326 360h3M334 252h3M117 311h3M61 242h3M357 256h2M76 268h1M325 269h2M311 203h3M90 259h4M383 243h1M365 366h2M171 149h3M79 255h1M62 249h1M346 247h1M338 234h3M130 279h1M298 226h2M146 262h1M89 232h1M370 273h4M129 249h3M187 232h4M373 259h2M372 229h3M334 323h4" stroke="#4040a0" stroke-opacity="0.5" stroke-width="1.2" fill="none"/>
<path d="M288 200h1M174 283h1M112 366h1M283 222h1M327 183h1M286 212h1M290 211h1M141 326h1M125 342h1M170 292h1M338 167h1M185 282h1M300 207h1M106 407h1M141 312h1M158 306h1M330 168h1M326 185h1M345 112h1M165 301h1M130 335h1M330 148h1M158 301h1M374 128h1M150 319h1M299 220h1M350 131h1M165 290h1M92 407h1M333 113h1M291 205h1M345 156h1M111 362h1M271 239h1M270 241h1M126 357h1M295 224h1M121 362h1M266 248h1M290 218h1M163 294h1M148 316h1M148 328h1M128 336h1M170 290h1M57 411h1M323 176h1M94 398h1M261 236h1M179 287h1M364 121h1M143 318h1M80 417h1M359 133h1M294 202h1M151 306h1M116 415h1M289 209h1M304 173h1M178 294h1M293 205h1M135 336h1M307 194h1M277 242h1M293 220h1M366 117h1M99 350h1M276 214h1M292 217h1M380 224h1M337 133h1M163 290h1M98 371h1M126 342h1M302 203h1M148 333h1M162 314h1M165 285h1M295 210h1M278 218h1M280 237h1M130 338h1M187 279h1M338 164h1M153 339h1M290 205h1M287 235h1M132 325h1M277 236h1M121 404h1M342 157h1M289 233h1M339 117h1M190 271h1M184 267h1M110 417h1M296 180h1M165 298h1M163 300h1M193 281h1M71 390h1M143 324h1M296 224h1M188 269h1M274 225h1M132 368h1M124 364h1M344 149h1M267 233h1M281 223h1M136 326h1M294 218h1M170 285h1M116 386h1M288 202h1M74 401h1M142 330h1M154 304h1M266 246h1M343 158h1M134 328h1M282 224h1M367 109h1M280 253h1M191 277h1M244 259h1M290 225h1M143 349h1M152 332h1M178 292h1M199 277h1M306 207h1M337 146h1M324 175h1M168 298h1M271 242h1M182 272h1M175 301h1M114 350h1M266 250h1M310 202h1M162 299h1M147 352h1M274 229h1M145 344h1M292 197h1M329 181h1M97 405h1M136 361h1M115 366h1M148 331h1M292 221h1M117 374h1M139 369h1M131 353h1M313 189h1M331 157h1M336 152h1M161 321h1M306 235h1M107 390h1M160 294h1M305 198h1M153 313h1M350 145h1M156 308h1M332 149h1M327 151h1M205 262h1M313 182h1M157 316h1M300 200h1M357 141h1M335 179h1M279 224h1M105 402h1M130 368h1M121 380h1M154 329h1M387 159h1M262 245h1M292 210h1M129 340h1M186 276h1M333 166h1M303 212h1M322 111h1M176 275h1M298 206h1M192 281h1M164 322h1M123 363h1M324 156h1M176 290h1M182 275h1M96 404h1M285 216h1M127 289h1M120 380h1M278 223h1M308 171h1M146 319h1M112 386h1M295 213h1M137 371h1M55 395h1M325 158h1M117 415h1M120 418h1M294 215h1M285 224h1M167 293h1M120 354h1M317 185h1M108 402h1M142 319h1M342 100h1M130 352h1M285 206h1M359 203h1M196 264h1M276 232h1M82 386h1M161 308h1M149 315h1M186 272h1M356 103h1M129 353h1M162 299h1M132 342h1M165 301h1M125 366h1M365 117h1M323 189h1M179 279h1M282 231h1M330 144h1M322 165h1M156 303h1M166 300h1M293 195h1M274 246h1M143 319h1M156 314h1M121 383h1M159 303h1M351 164h1M189 287h1M278 222h1M252 244h1M346 145h1M191 267h1M380 101h1M88 409h1M104 375h1M99 317h1M264 247h1M159 301h1M315 161h1M306 179h1M155 307h1M136 358h1M131 352h1M252 258h1M299 203h1M184 289h1M135 333h1M183 283h1M346 150h1M292 223h1M82 403h1M334 114h1M307 184h1M365 122h1M275 229h1M329 145h1M265 249h1M279 232h1M149 319h1M131 370h1M179 285h1M334 132h1M92 388h1M338 135h1M276 240h1M316 174h1M276 236h1M188 270h1M136 401h1M154 280h1M164 297h1M280 229h1M348 105h1M158 299h1M175 297h1M168 304h1M328 150h1M119 362h1M113 383h1M166 320h1M292 215h1M292 196h1M305 160h1M303 186h1M350 110h1M339 160h1M319 208h1M309 194h1M118 368h1M111 349h1M162 286h1M134 390h1M182 284h1M319 118h1M202 268h1M88 391h1M192 264h1M109 386h1M330 155h1M160 298h1M311 175h1M122 332h1M267 226h1M175 285h1M307 197h1M143 325h1M328 163h1M312 191h1M298 208h1M333 171h1M132 325h1M142 336h1M174 270h1M165 286h1M310 201h1M326 159h1M163 305h1M158 311h1M361 132h1M316 158h1M299 195h1M301 203h1M125 368h1M123 387h1M132 312h1M312 137h1M124 349h1M310 212h1M162 305h1M183 296h1M95 391h1M163 300h1M87 336h1M339 125h1M306 209h1M312 209h1M335 109h1M173 299h1M288 243h1M250 260h1M99 370h1M313 192h1M311 211h1M160 292h1M123 347h1M280 224h1M288 224h1M164 296h1M343 135h1M184 281h1M301 153h1M308 199h1M57 350h1M87 328h1M328 146h1M293 219h1M177 288h1M176 288h1M330 177h1M272 238h1M306 171h1M350 110h1M101 380h1M323 200h1M344 156h1M285 218h1M287 225h1M380 104h1M112 316h1M328 181h1M287 220h1M316 199h1M176 274h1M164 304h1M292 219h1M129 347h1M173 295h1M152 316h1M305 188h1M328 139h1M192 275h1M179 287h1M140 368h1M317 176h1M73 374h1M173 285h1M145 347h1M126 333h1M333 142h1M290 184h1M172 297h1M158 330h1M135 341h1M302 210h1M160 337h1M330 140h1M364 116h1M267 250h1M317 198h1M178 285h1M309 187h1M129 289h1M165 281h1M307 208h1M99 394h1M296 221h1M109 383h1M307 184h1M282 217h1M134 403h1M115 374h1M166 308h1M332 159h1M361 114h1M173 308h1M366 138h1M298 205h1M327 154h1M333 171h1M313 194h1M177 275h1M166 286h1M303 178h1M119 393h1M306 193h1M153 320h1M194 275h1M321 182h1M117 357h1M320 189h1M320 115h1M147 326h1M140 320h1M186 279h1M278 233h1M80 374h1M177 279h1M350 110h1M332 150h1M136 390h1M283 245h1M109 372h1M128 312h1M324 163h1M176 294h1M159 300h1M273 231h1M352 122h1M290 221h1M160 317h1M337 139h1M121 346h1M91 389h1M334 110h1M348 120h1M105 379h1M291 229h1M159 307h1M144 316h1M123 376h1M117 375h1M106 369h1M145 332h1M306 220h1M168 285h1M291 220h1M167 292h1M182 272h1M190 284h1M278 229h1M171 282h1M142 292h1M330 146h1M175 300h1M301 198h1M133 366h1M284 228h1M116 318h1M302 210h1M134 347h1M185 264h1M146 331h1M176 296h1M152 300h1M149 331h1M185 280h1M157 297h1M275 208h1M311 209h1M202 272h1M293 196h1M326 163h1M178 289h1M334 154h1M400 102h1M153 314h1M340 178h1M157 293h1M148 311h1M315 230h1M181 280h1M352 124h1M135 341h1M177 278h1M366 108h1M132 360h1M161 293h1M166 285h1M345 133h1M132 343h1M276 228h1M181 288h1M172 291h1M324 115h1M348 121h1M297 187h1M333 134h1M117 364h1M301 188h1M327 169h1M313 205h1M123 342h1M151 316h1M100 331h1M279 221h1M321 180h1M116 367h1M133 339h1M285 212h1M310 198h1M189 279h1M279 211h1M168 287h1M330 161h1M156 303h1M129 371h1M140 322h1M303 207h1M338 106h1M299 189h1M331 163h1M358 110h1M301 215h1M121 354h1M112 361h1M318 182h1M262 244h1M147 331h1M313 168h1M102 352h1M334 136h1M173 286h1M153 334h1M159 315h1M319 157h1M96 388h1M339 126h1M146 369h1M314 210h1M318 153h1M154 317h1M301 201h1M270 246h1M170 320h1M174 280h1M240 252h1M120 346h1M92 404h1M121 363h1M163 297h1M299 198h1M313 197h1M269 241h1M336 116h1M336 155h1M303 187h1M151 330h1M145 313h1M295 193h1M295 239h1M135 329h1M301 217h1M176 285h1M352 161h1M344 117h1M148 278h1M116 362h1M318 151h1M319 174h1M300 198h1M284 222h1M304 193h1M135 356h1M104 401h1M141 296h1M145 330h1M287 206h1M290 229h1M124 342h1M159 307h1M106 381h1M140 321h1M277 238h1M108 355h1M315 185h1M306 164h1M138 373h1M296 206h1M177 280h1M146 334h1M114 362h1M164 309h1M94 387h1M348 168h1M132 353h1M317 143h1M341 121h1M154 292h1M144 311h1M334 150h1M327 178h1M381 168h1M142 337h1M324 170h1M266 236h1M107 365h1M105 388h1M184 283h1M360 116h1M324 169h1M174 298h1M135 326h1M83 373h1M270 244h1M122 372h1M133 293h1M308 184h1M374 101h1M98 382h1M317 173h1M79 387h1M258 255h1M290 245h1M150 360h1M306 185h1M146 292h1M142 346h1M152 335h1M293 216h1M192 275h1M271 241h1M273 254h1M178 280h1M131 334h1M330 170h1M153 361h1M340 133h1M173 293h1M340 143h1M283 234h1M255 258h1M296 190h1M297 202h1M107 384h1M184 283h1M135 356h1M138 354h1M313 176h1M334 168h1M257 239h1M282 240h1M137 342h1M364 151h1M270 246h1M321 172h1M328 184h1M124 320h1M118 349h1M194 263h1M130 398h1M331 115h1M292 229h1M150 313h1M285 214h1M321 190h1M301 215h1M261 235h1M161 311h1M356 111h1M329 145h1M190 278h1M99 368h1M292 223h1M310 191h1M124 380h1M315 170h1M336 160h1M190 268h1M173 299h1M95 405h1M147 312h1M279 226h1M314 226h1M316 184h1M283 234h1M331 182h1M285 232h1M300 208h1M356 145h1M136 348h1M278 239h1M121 354h1M100 367h1M291 210h1M122 363h1M144 319h1M280 220h1M127 356h1M188 276h1M146 316h1M184 271h1M265 248h1M111 388h1M272 233h1M113 369h1M292 182h1M301 201h1M303 211h1M295 216h1M319 181h1M110 375h1M293 216h1M127 400h1M319 171h1M130 356h1M143 323h1M158 314h1M364 119h1M300 204h1M174 302h1M190 277h1M370 128h1M289 214h1M158 290h1M275 244h1M314 186h1M298 220h1M347 154h1M297 204h1M286 202h1M295 204h1M107 369h1M290 216h1M308 210h1M363 102h1M115 417h1M323 189h1M333 153h1M369 102h1M259 253h1M343 117h1M399 104h1M294 205h1M149 319h1M186 267h1M125 365h1M117 370h1M334 177h1M356 111h1M178 294h1M334 163h1M170 292h1M356 117h1M280 222h1M334 133h1M331 159h1M127 374h1M328 119h1M311 182h1M123 341h1M310 203h1M136 344h1M315 136h1M139 328h1M361 154h1M302 202h1M122 353h1M112 409h1M317 187h1M140 399h1M273 231h1M140 320h1M371 108h1M142 343h1M328 168h1M309 190h1M296 207h1M143 333h1M180 272h1M166 307h1M342 171h1M191 275h1M366 117h1M178 295h1M337 159h1M131 341h1M334 136h1M95 409h1M330 127h1M144 314h1M305 198h1M101 362h1M343 177h1M283 225h1M352 134h1M274 220h1M302 193h1M345 129h1M134 332h1M144 326h1M284 230h1M130 350h1M188 281h1M136 354h1M283 219h1M123 328h1M150 298h1M109 385h1M129 367h1M272 242h1M147 325h1M133 345h1M315 202h1M193 266h1M157 311h1M295 216h1M156 304h1M377 156h1M142 309h1M167 292h1M158 305h1M163 300h1M359 178h1M81 399h1M277 221h1M289 231h1M123 396h1M305 210h1M322 151h1M350 202h1M308 200h1M146 318h1M132 411h1M101 390h1M277 238h1M158 297h1M91 413h1M120 359h1M267 249h1M326 197h1M109 382h1M342 126h1M132 345h1M173 288h1M126 333h1M265 244h1M334 178h1M348 148h1M261 240h1M318 191h1M188 279h1M191 275h1M294 229h1M87 417h1M320 173h1M345 133h1M166 299h1M358 125h1M313 213h1M128 370h1M283 228h1M157 320h1M94 409h1M304 175h1M147 333h1M186 271h1M285 222h1M339 176h1M292 211h1M341 127h1M80 415h1M305 196h1M335 171h1M151 343h1M113 366h1M99 396h1M121 379h1M323 165h1M334 135h1M361 157h1M112 381h1M140 336h1M63 418h1M271 239h1M175 274h1M160 314h1M278 228h1M367 125h1M355 121h1M118 379h1M334 168h1M303 200h1M165 298h1M187 273h1M271 237h1M129 411h1M387 114h1M288 213h1M136 344h1M363 105h1M334 114h1M295 223h1M380 126h1M123 373h1M133 385h1M367 139h1M279 220h1M283 228h1M362 151h1M281 227h1M323 170h1M129 338h1M97 403h1M125 359h1M177 284h1M306 197h1M297 221h1M81 379h1M160 308h1M325 125h1M188 281h1M266 249h1M170 323h1M299 211h1M309 193h1M285 239h1M177 276h1M139 401h1M281 226h1M145 323h1M292 218h1M324 174h1M350 146h1M323 175h1M175 284h1M342 147h1M171 298h1M81 415h1M342 112h1M199 276h1M303 190h1M117 404h1M171 282h1M153 326h1M307 205h1M170 309h1M141 330h1M170 298h1M333 150h1M170 299h1M281 225h1M315 154h1M288 222h1M321 124h1M309 201h1M304 207h1M181 267h1M303 249h1M132 347h1M302 218h1M316 181h1M307 197h1M185 274h1M139 329h1M178 298h1M153 315h1M168 289h1M299 201h1M346 152h1M140 327h1M318 144h1M321 190h1M173 299h1M343 139h1M368 100h1M140 350h1M317 174h1M142 328h1M271 247h1M168 280h1M281 224h1M266 242h1M331 172h1M120 376h1M174 301h1M309 173h1M167 291h1M300 191h1M264 256h1M172 294h1M175 290h1M186 279h1M136 315h1M340 165h1M280 235h1M277 236h1M318 180h1M198 276h1M163 280h1M353 178h1M150 310h1M146 324h1M272 243h1M181 283h1M365 132h1M289 197h1M164 292h1M94 382h1M120 371h1M266 253h1M274 247h1M107 361h1M153 344h1M118 376h1M139 346h1M283 235h1M176 288h1M274 236h1M187 284h1M145 302h1M170 288h1M144 333h1M352 120h1M302 171h1M145 293h1M292 195h1M278 226h1M350 113h1M124 363h1M329 139h1M323 163h1M106 414h1M307 202h1M321 162h1M287 221h1M122 368h1M162 289h1M148 358h1M311 210h1M115 390h1M302 203h1M343 137h1M298 215h1M312 160h1M284 214h1M87 407h1M347 114h1M288 209h1M292 224h1M74 401h1M293 216h1M282 220h1M150 312h1M303 192h1M285 219h1M300 212h1M164 328h1M290 218h1M111 404h1M163 302h1M144 324h1M176 303h1M139 341h1M123 399h1M105 397h1M70 321h1M178 279h1M267 248h1M162 299h1M294 220h1M117 371h1M135 323h1M149 332h1M155 324h1M183 288h1M303 201h1M162 300h1M151 300h1M159 297h1M196 272h1M135 336h1M162 334h1M173 290h1M161 300h1M312 174h1M190 285h1M100 401h1M183 286h1M330 213h1M120 349h1M130 349h1M292 222h1M372 139h1M62 353h1M329 120h1M295 237h1M288 221h1M278 244h1M128 331h1M263 245h1M124 366h1M180 282h1M341 152h1M159 309h1M270 241h1M318 154h1M341 163h1M149 333h1M184 271h1M150 297h1M278 230h1M319 186h1M163 304h1M273 224h1M121 363h1M148 326h1M341 120h1M155 299h1M131 381h1M95 375h1M299 211h1M170 319h1M308 135h1M146 288h1M145 325h1M128 368h1M138 324h1M156 313h1M159 308h1M142 309h1M285 232h1M104 381h1M139 334h1M342 169h1M160 304h1M336 117h1M277 234h1M292 196h1M100 313h1M288 216h1M106 371h1M265 238h1M94 384h1M306 172h1M308 207h1M139 347h1M331 171h1M288 205h1M114 363h1M373 161h1M139 389h1M302 220h1M308 160h1M328 116h1M130 345h1M284 232h1M349 124h1M124 373h1M131 354h1M126 355h1M141 359h1M332 132h1M351 159h1M167 303h1M292 211h1M259 244h1M335 136h1M162 294h1M299 194h1M185 282h1M308 182h1M326 186h1M284 236h1M138 362h1M296 199h1M290 223h1M185 276h1M294 197h1M278 242h1M317 140h1M140 335h1M105 387h1M127 382h1M163 291h1M320 198h1M291 241h1M173 288h1M182 286h1M122 363h1M272 242h1M276 240h1M182 281h1M175 283h1M275 215h1M339 117h1M303 208h1M128 334h1M268 249h1M333 120h1M169 291h1M330 134h1M116 368h1M193 275h1M156 310h1M281 227h1M316 220h1M183 296h1M276 229h1M295 189h1M359 195h1M186 281h1M294 211h1M171 288h1M116 411h1M280 229h1M126 368h1M288 231h1M186 280h1M118 351h1M147 328h1M111 375h1M157 306h1M152 312h1M280 222h1M369 133h1M327 155h1M174 280h1M356 111h1M270 233h1M96 387h1M281 241h1M133 366h1M147 311h1M272 245h1M302 200h1M129 346h1M279 233h1M129 363h1M333 132h1M160 297h1M360 117h1M267 254h1M324 171h1M172 296h1M350 110h1M322 131h1M358 120h1M141 325h1M302 217h1M125 324h1M174 288h1M343 186h1M347 122h1M97 391h1M314 164h1M309 183h1M305 202h1M141 314h1M145 298h1M178 292h1M160 289h1M305 210h1M104 388h1M329 160h1M133 314h1M129 393h1M76 399h1M207 265h1M120 401h1M86 414h1M109 381h1M189 263h1M135 345h1M91 386h1M148 344h1M93 387h1M170 294h1M163 293h1M138 321h1M95 356h1M158 298h1M320 139h1M139 318h1M306 176h1M263 248h1M291 241h1M144 333h1M126 381h1M178 275h1M295 218h1M127 350h1M172 287h1M175 292h1M141 330h1M269 231h1M148 336h1M150 333h1M278 233h1M96 402h1M163 292h1M106 388h1M298 205h1M143 319h1M316 186h1M288 226h1M149 327h1M183 274h1M173 299h1M138 326h1M163 326h1M108 411h1M154 320h1M116 319h1M294 198h1M325 152h1M261 252h1M151 318h1M291 209h1M163 299h1M303 169h1M164 305h1M115 389h1M105 396h1M121 365h1M119 325h1M329 120h1M300 229h1M268 238h1M155 321h1M279 231h1M192 272h1M161 290h1M363 128h1M275 236h1M352 109h1M126 364h1M265 232h1M175 298h1M160 321h1M279 236h1M162 289h1M300 212h1M128 369h1M183 276h1M338 115h1M314 178h1M133 347h1M322 176h1M292 219h1M111 349h1M301 210h1M101 406h1M329 106h1M302 220h1M93 404h1M148 320h1M141 325h1M169 301h1M165 301h1M283 231h1M341 100h1M257 253h1M176 289h1M128 298h1M131 350h1M121 340h1M284 232h1M333 118h1M360 164h1M158 339h1M154 312h1M141 353h1M301 233h1M274 228h1M130 354h1M106 401h1M158 307h1M118 374h1M107 417h1M169 301h1M141 320h1M121 346h1M290 218h1M137 319h1M148 312h1M333 165h1M117 380h1M63 416h1M369 105h1M306 245h1M279 214h1M330 165h1M178 294h1M112 385h1M258 254h1M335 174h1M369 107h1M306 189h1M142 319h1M333 199h1M111 388h1M331 157h1M156 302h1M286 226h1M311 208h1M133 331h1M153 311h1M286 200h1M197 272h1M157 329h1M293 212h1M158 329h1M368 195h1M289 225h1M356 103h1M360 123h1M121 332h1M307 181h1M154 317h1M281 233h1M297 183h1M100 410h1M189 269h1M127 329h1M270 251h1M145 291h1M257 247h1M384 106h1M311 191h1M318 173h1M119 392h1M154 309h1M101 389h1M318 186h1M171 283h1M161 301h1M120 346h1M282 224h1M203 272h1M300 210h1M186 282h1M289 222h1M334 142h1M148 317h1M154 309h1M290 238h1M328 145h1M294 176h1M289 220h1M53 349h1M304 191h1M283 231h1M342 152h1M131 368h1M301 207h1M347 112h1M297 200h1M293 199h1M154 347h1M167 285h1M171 294h1M99 412h1M99 369h1M304 214h1M136 332h1M298 224h1M182 302h1M344 214h1M183 281h1M343 113h1M312 170h1M340 139h1M107 380h1M306 168h1M143 333h1M317 211h1M263 243h1M156 308h1M155 312h1M297 255h1M97 415h1M275 241h1M124 317h1M352 113h1M282 215h1M312 165h1M334 191h1M152 330h1M184 275h1M311 153h1M96 400h1M160 281h1M165 301h1M338 157h1M347 136h1M344 139h1M106 387h1M370 111h1M304 224h1M125 348h1M366 139h1M278 232h1M128 350h1M385 141h1M296 207h1M150 340h1M315 178h1M94 407h1M263 249h1M313 235h1M179 279h1M115 359h1M158 302h1M285 229h1M249 257h1M89 388h1M159 310h1M267 248h1M344 167h1M183 279h1M179 278h1M295 207h1M115 305h1M148 304h1M337 163h1M337 133h1M165 292h1M302 221h1M113 384h1M337 138h1M92 393h1M309 190h1M172 290h1M335 194h1M306 217h1M317 141h1M291 206h1M279 229h1M315 157h1M182 280h1M287 218h1M352 141h1M327 196h1M277 248h1M326 251h1M294 208h1M129 369h1M285 235h1M316 178h1M112 358h1M361 106h1M174 287h1M179 285h1M173 303h1M121 376h1M144 330h1M147 356h1M360 141h1M142 313h1M328 104h1M152 307h1M132 322h1M350 127h1M272 238h1M144 315h1M82 402h1M365 103h1M282 230h1M110 398h1M339 110h1M72 402h1M270 245h1M301 220h1M183 276h1M324 166h1M340 143h1M200 267h1M289 220h1M358 108h1M167 320h1M286 221h1M299 193h1M174 281h1M345 148h1M249 251h1M139 331h1M311 230h1M273 238h1M121 342h1M326 181h1M126 330h1M94 399h1M175 285h1M84 377h1M329 128h1M263 246h1M134 301h1M98 398h1M174 297h1M114 377h1M314 199h1M328 194h1M327 187h1M117 356h1M277 215h1M141 318h1M334 166h1M139 333h1M116 303h1M299 190h1M335 134h1M282 222h1M186 274h1M148 335h1M155 314h1M296 224h1M105 404h1M341 128h1M126 343h1M359 121h1M126 339h1M285 235h1M142 332h1M304 194h1M173 281h1M363 201h1M308 147h1M144 310h1M273 228h1M159 308h1M316 205h1M138 333h1M328 130h1M288 226h1M278 232h1M351 125h1M170 316h1M325 134h1M283 230h1M323 167h1M297 192h1M168 292h1M145 306h1M286 219h1M156 272h1M106 407h1M314 197h1M127 341h1M185 275h1M134 327h1M198 273h1M318 188h1M149 348h1M277 232h1M72 310h1M165 293h1M116 375h1M165 301h1M264 245h1M312 206h1M134 359h1M307 192h1M344 121h1M331 106h1M90 397h1M103 330h1M101 382h1M130 333h1M293 221h1M122 363h1M346 139h1M144 326h1M165 312h1M107 404h1M301 189h1M182 270h1M139 386h1M372 106h1M107 397h1M303 210h1M271 230h1M361 178h1M151 308h1M147 313h1M274 245h1M158 293h1M142 359h1M177 284h1M284 218h1M317 165h1M142 305h1M311 201h1M320 195h1M189 278h1M331 153h1M292 231h1M286 222h1M316 181h1M342 136h1M170 301h1M273 237h1M272 243h1M133 308h1M278 247h1M316 193h1M116 394h1M141 326h1M148 311h1M170 299h1M325 175h1M272 237h1M154 323h1M144 309h1M137 290h1M280 226h1M101 390h1M105 373h1M107 372h1M294 208h1M326 172h1M309 210h1M271 222h1M123 350h1M291 202h1M169 291h1M108 308h1M119 333h1M384 121h1M359 131h1M295 221h1M320 186h1M184 277h1M121 416h1M177 284h1M319 156h1M328 168h1M136 326h1M316 126h1M339 187h1M163 311h1M280 238h1M307 186h1M311 188h1M180 283h1M129 346h1M366 101h1M141 301h1M172 282h1M318 194h1M274 224h1M286 200h1M322 192h1M248 250h1M155 307h1M330 170h1M290 251h1M71 397h1M144 309h1M185 285h1M348 107h1M330 155h1M195 259h1M330 168h1M95 407h1M343 114h1M332 105h1M187 273h1M264 244h1M86 393h1M82 414h1M112 352h1M169 291h1M283 229h1M142 323h1M185 286h1M92 402h1M151 310h1M369 100h1M156 301h1M121 366h1M316 167h1M275 227h1M281 229h1M176 296h1M180 277h1M155 300h1M166 312h1M295 217h1M287 214h1M314 180h1M273 243h1M88 416h1M264 242h1M305 169h1M327 193h1M96 385h1M307 180h1M304 205h1M124 338h1M162 308h1M262 250h1M92 400h1M364 104h1M314 131h1M295 187h1M169 290h1M176 295h1M183 265h1M130 337h1M139 294h1M291 202h1M320 176h1M180 292h1M380 185h1M341 129h1M354 104h1M364 109h1M135 323h1M350 115h1M108 378h1M91 410h1M127 387h1M273 234h1M302 206h1M301 197h1M126 406h1M302 189h1M128 360h1M267 243h1M104 395h1M330 187h1M301 229h1M108 401h1M298 187h1M163 300h1M328 159h1M101 373h1M364 105h1M330 196h1M139 332h1M187 280h1M286 230h1M278 233h1M156 312h1M265 238h1M165 280h1M163 312h1M328 127h1M162 297h1M308 177h1M331 151h1M326 179h1M154 317h1M358 112h1M164 326h1M77 394h1M316 177h1M317 173h1M179 260h1M278 218h1M277 224h1M326 179h1M335 186h1M335 170h1M130 345h1M160 275h1M166 296h1M313 173h1M304 217h1M131 347h1M127 344h1M145 305h1M287 224h1M310 172h1M152 315h1M269 223h1M279 236h1M143 363h1M104 337h1M289 226h1M159 311h1M143 334h1M285 222h1M294 214h1M284 225h1M59 378h1M370 178h1M280 233h1M149 334h1M360 107h1M348 109h1M152 307h1M108 347h1M177 269h1M349 115h1M324 188h1M315 180h1M274 234h1M147 339h1M155 314h1M115 400h1M385 116h1M140 323h1M251 247h1M161 301h1M277 212h1M294 212h1M296 226h1M283 208h1M145 329h1M140 345h1M274 225h1M164 306h1M124 361h1M186 266h1M333 147h1M145 346h1M153 348h1M353 125h1M306 198h1M133 409h1M114 377h1M154 297h1M101 409h1M298 211h1M74 388h1M167 313h1M262 241h1M172 297h1M154 315h1M323 198h1M301 177h1M353 109h1M165 294h1M338 163h1M318 166h1M334 131h1M102 311h1M266 248h1M311 223h1M137 327h1M186 266h1M154 325h1M322 122h1M122 358h1M271 235h1M315 213h1M329 217h1M320 192h1M337 108h1M312 216h1M164 296h1M292 210h1M365 183h1M159 305h1M144 324h1M313 189h1M342 155h1M279 231h1M311 191h1M156 328h1M171 279h1M313 179h1M313 177h1M77 417h1M343 139h1M319 179h1M313 196h1M149 305h1M335 113h1M126 344h1M317 185h1M168 310h1M149 319h1M314 179h1M171 318h1M124 307h1M105 352h1M161 297h1M123 375h1M303 202h1M135 350h1M141 335h1M351 159h1M313 162h1M164 305h1M289 221h1M284 214h1M142 318h1M278 224h1M290 221h1M283 230h1M331 162h1M151 315h1M110 405h1M190 262h1M125 306h1M54 410h1M304 210h1M343 124h1M327 128h1M153 282h1M53 405h1M293 224h1M272 231h1M325 182h1M320 180h1M306 178h1M291 197h1M166 299h1M368 105h1M177 288h1M164 324h1M146 305h1M163 305h1M336 145h1M119 383h1M323 146h1M275 246h1M181 269h1M154 307h1M327 170h1M97 392h1M168 301h1M337 157h1M327 158h1M118 384h1M319 191h1M141 358h1M122 367h1M141 321h1M114 386h1M125 355h1M324 210h1M336 104h1M373 122h1M138 322h1M184 280h1M302 211h1M286 227h1M276 225h1M320 184h1M327 165h1M185 293h1M358 108h1M158 309h1M75 357h1M142 329h1M332 182h1M96 366h1M141 345h1M264 235h1M132 368h1M295 212h1M287 220h1M172 290h1M308 192h1M180 296h1M182 283h1M77 408h1M335 141h1M343 128h1M138 331h1M167 299h1M166 329h1M277 237h1M170 285h1M113 367h1M141 322h1M300 193h1M360 113h1M136 344h1M306 207h1M174 282h1M84 403h1M182 290h1M178 295h1M193 273h1M179 295h1M157 321h1M156 328h1M80 413h1M292 198h1M333 193h1M148 306h1M116 328h1M321 205h1M135 385h1M119 387h1M296 229h1M181 286h1M284 235h1M328 173h1M350 204h1M359 129h1M269 231h1M341 132h1M349 126h1M329 219h1M162 303h1M124 339h1M304 145h1M286 224h1M287 203h1M137 361h1M126 416h1M163 289h1M173 291h1M167 308h1M151 308h1M131 375h1M148 330h1M109 355h1M179 286h1M160 295h1M303 212h1M120 364h1M166 302h1M318 166h1M308 165h1M294 206h1M308 190h1M282 230h1M142 317h1M335 152h1M314 213h1M147 325h1M367 109h1M175 290h1M303 196h1M324 168h1M251 249h1M187 285h1M351 147h1M315 204h1M276 237h1M271 238h1M115 324h1M176 262h1M164 299h1M296 217h1M360 100h1M152 313h1M111 364h1M313 200h1M178 272h1M324 194h1M322 172h1M287 239h1M324 167h1M251 256h1M347 117h1M268 242h1M144 335h1M280 227h1M161 297h1M278 240h1M140 311h1M309 207h1M299 231h1M333 120h1M90 411h1M78 313h1M293 202h1M178 278h1M103 411h1M86 395h1M328 161h1M169 286h1M294 208h1M97 365h1M270 245h1M310 198h1M265 247h1M136 346h1M173 292h1M360 121h1M318 182h1M165 284h1M108 351h1M326 160h1M145 301h1M131 333h1M154 318h1M341 153h1M333 116h1M285 228h1M144 310h1M272 231h1M167 292h1M153 321h1M107 371h1M117 345h1M351 159h1M314 183h1M74 414h1M305 195h1M149 365h1M302 180h1M265 239h1M291 215h1M91 418h1M301 202h1M297 226h1M349 158h1M278 234h1M148 362h1M155 291h1M154 328h1M135 328h1M323 151h1M75 415h1M196 266h1M272 238h1M304 197h1M311 172h1M138 341h1M189 279h1M305 214h1M129 386h1M169 291h1M283 217h1M153 308h1M310 153h1M77 400h1M336 164h1M306 202h1M321 183h1M181 290h1M109 384h1M348 105h1M267 248h1M378 116h1M296 196h1M357 103h1M167 318h1M158 306h1M101 373h1M267 253h1M168 312h1M308 196h1M270 218h1M296 206h1M169 286h1M148 348h1M191 263h1M334 161h1M108 400h1M134 323h1M319 167h1M311 192h1M168 301h1M186 284h1M152 328h1M115 367h1M187 265h1M289 222h1M297 180h1M271 249h1M119 392h1M333 137h1M372 159h1M321 146h1M311 191h1M151 324h1M177 291h1M354 107h1M181 280h1M271 228h1M162 308h1M170 285h1M84 399h1M310 204h1M144 341h1M330 103h1M153 327h1M140 344h1M271 239h1M282 226h1M296 203h1M309 152h1M338 155h1M101 397h1M271 242h1M291 220h1M175 282h1M272 234h1M312 150h1M354 124h1M329 175h1M287 219h1M200 271h1M124 304h1M365 109h1M316 155h1M325 167h1M148 331h1M136 323h1M167 299h1M140 327h1M151 309h1M299 206h1M133 389h1M336 159h1M178 286h1M274 231h1M275 244h1M304 235h1M280 250h1M188 266h1M174 297h1M315 182h1M190 287h1M271 240h1M127 345h1M94 407h1M134 350h1M164 311h1M292 214h1M379 111h1M138 354h1M147 327h1M369 110h1M302 209h1M134 386h1M336 145h1M168 300h1M275 245h1M271 240h1M303 170h1M307 161h1M291 220h1M288 227h1M199 271h1M295 208h1M349 131h1M122 358h1M136 364h1M157 304h1M317 166h1M164 299h1M115 313h1M325 165h1M126 282h1M157 302h1M92 403h1M340 144h1M107 361h1M127 354h1M161 308h1M157 298h1M360 115h1M125 329h1M126 343h1M324 173h1M144 353h1M304 175h1M113 372h1M330 176h1M163 284h1M131 335h1M268 237h1M128 332h1M334 142h1M124 362h1M171 281h1M106 403h1M144 299h1M185 274h1M160 287h1M277 230h1M143 311h1M139 316h1M145 331h1M301 182h1M292 228h1M79 415h1M158 306h1M310 185h1M159 316h1M122 375h1M111 414h1M118 337h1M158 335h1M270 243h1M310 209h1M146 334h1M324 186h1M348 114h1M146 324h1M151 320h1M138 335h1M169 281h1M345 156h1M189 268h1M292 216h1M157 313h1M153 295h1M266 240h1M147 334h1M295 200h1M141 340h1M128 362h1M328 218h1M315 160h1M142 314h1M280 228h1M122 342h1M264 249h1M271 233h1M138 374h1M311 182h1M357 139h1M300 208h1M297 220h1M304 239h1M180 287h1M306 185h1M284 220h1M337 115h1M302 213h1M127 337h1M150 308h1M145 308h1M335 159h1M152 310h1M135 315h1M131 387h1M261 244h1M330 171h1M300 215h1M290 219h1M182 283h1M316 134h1M102 383h1M135 333h1M297 209h1M331 131h1M319 166h1M169 302h1M283 228h1M189 280h1M301 194h1M379 106h1M148 338h1M302 199h1M308 192h1M286 219h1M190 277h1M144 324h1M200 263h1M150 305h1M173 289h1M273 234h1M137 330h1M336 130h1M158 299h1M308 232h1M285 226h1M315 180h1M288 212h1M192 289h1M289 232h1M341 134h1M275 232h1M315 188h1M188 281h1M171 289h1M128 332h1M334 170h1M318 236h1M100 417h1M347 110h1M128 339h1M282 237h1M288 238h1M129 355h1M129 311h1M315 161h1M159 296h1M334 173h1M156 315h1M112 337h1M282 230h1M288 225h1M255 257h1M113 401h1M167 300h1M315 240h1M396 109h1M315 187h1M124 351h1M162 297h1M185 271h1M275 249h1M108 305h1M276 236h1M332 113h1M89 409h1M280 221h1M284 214h1M263 255h1M325 187h1M139 342h1M192 271h1M352 110h1M354 102h1M123 363h1M311 241h1M317 165h1M162 301h1M342 177h1M273 242h1M356 122h1M344 143h1M127 352h1M336 154h1M113 383h1M130 326h1M259 244h1M329 142h1M306 204h1M91 392h1M179 287h1M248 258h1M119 384h1M279 232h1M164 275h1M90 346h1M280 233h1M72 409h1M174 284h1M142 345h1M104 380h1M359 168h1M359 101h1M294 220h1M132 362h1M337 136h1M176 286h1M298 212h1M261 235h1M260 243h1M283 208h1M337 127h1M174 291h1M269 236h1M295 228h1M135 340h1M145 327h1M99 381h1M330 115h1M292 199h1M93 370h1M123 333h1M275 237h1M150 330h1M277 235h1M325 182h1M326 142h1M173 306h1M139 306h1M196 264h1M305 197h1M306 208h1M139 339h1M96 344h1M96 376h1M149 305h1M114 415h1M320 195h1M300 237h1M118 379h1M291 213h1M289 210h1M304 187h1M115 398h1M162 322h1M142 342h1M320 207h1M276 229h1M175 286h1M166 286h1M182 275h1M330 131h1M273 232h1M271 236h1M308 203h1M164 298h1M167 299h1M300 193h1M333 142h1M189 270h1M180 282h1M165 272h1M121 349h1M139 336h1M349 211h1M297 200h1M335 186h1M331 168h1M167 302h1M163 292h1M296 206h1M258 253h1M307 190h1M289 224h1M318 168h1M128 306h1M180 279h1M181 278h1M327 190h1M171 289h1M165 296h1M267 249h1M148 336h1M134 358h1M265 233h1M95 353h1M323 200h1M126 406h1M80 391h1M291 200h1M324 121h1M97 407h1M286 226h1M307 190h1M91 417h1M320 176h1M125 331h1M161 302h1M277 234h1M286 219h1M277 213h1M98 412h1M144 308h1M151 325h1M121 355h1M363 126h1M290 237h1M285 223h1M316 179h1M279 230h1M338 140h1M123 364h1M282 240h1M145 334h1M330 185h1M102 414h1M300 204h1M377 115h1M121 352h1M269 251h1M168 278h1M93 404h1M290 215h1M126 340h1M174 286h1M93 386h1M344 182h1M321 149h1M98 395h1M285 228h1M280 211h1M178 272h1M181 282h1M128 338h1M114 385h1M353 166h1M98 395h1M331 163h1M394 140h1M182 279h1M86 414h1M192 280h1M329 143h1M295 204h1M151 316h1M182 274h1M119 412h1M122 372h1M374 104h1M140 319h1M135 343h1M106 366h1M325 163h1M139 402h1M100 416h1M315 186h1M133 329h1M308 164h1M267 246h1M101 411h1M338 112h1M305 193h1M317 191h1M108 404h1M205 270h1M264 249h1M117 349h1M345 112h1M166 316h1M347 132h1M128 331h1M322 182h1M280 247h1M285 224h1M189 281h1M271 246h1M389 123h1M172 282h1M185 270h1M142 314h1M359 103h1M262 251h1M132 350h1M179 277h1M113 370h1M193 279h1M189 270h1M157 295h1M103 408h1M280 219h1M120 418h1M157 303h1M284 211h1M287 228h1M251 259h1M294 217h1M323 172h1M289 231h1M287 250h1M311 194h1M163 299h1M312 188h1M351 157h1M284 232h1M300 189h1M139 351h1M159 309h1M340 126h1M125 369h1M162 298h1M129 331h1M122 363h1M146 327h1M290 234h1M95 397h1M320 156h1M283 224h1M131 322h1M303 193h1M170 297h1M103 373h1M128 319h1M156 309h1M162 295h1M291 223h1M115 365h1M132 369h1M155 344h1M174 293h1M277 227h1M103 385h1M113 397h1M133 343h1M290 207h1M350 133h1M369 111h1M134 314h1M137 308h1M181 270h1M315 193h1M339 111h1M291 224h1M178 283h1M171 299h1M284 231h1M285 207h1M122 347h1M163 304h1M181 273h1M180 284h1M286 227h1M318 152h1M264 237h1M169 289h1M164 283h1M302 171h1M159 296h1M312 195h1M330 168h1M136 343h1M269 251h1M329 193h1M97 334h1M318 162h1M128 341h1M259 245h1M320 161h1M288 218h1M140 331h1M136 349h1M346 121h1M316 196h1M140 342h1M156 307h1M330 115h1M138 349h1M91 407h1M340 155h1M157 307h1M136 364h1M292 200h1M329 132h1M146 307h1M188 266h1M129 332h1M352 113h1M279 216h1M313 155h1M276 237h1M136 327h1M334 171h1M325 164h1M125 357h1M185 288h1M131 357h1M334 101h1M328 184h1M72 374h1M332 161h1M138 356h1M341 120h1M132 367h1M128 378h1M275 252h1M158 300h1M158 294h1M178 278h1M164 291h1M285 220h1M258 237h1M295 180h1M305 208h1M267 239h1M270 248h1M125 328h1M288 225h1M108 393h1M333 150h1M97 413h1M160 298h1M322 190h1M291 211h1M325 173h1M363 155h1M102 370h1M137 353h1M85 418h1M127 343h1M334 138h1M275 230h1M327 193h1M276 222h1M129 372h1M274 239h1M265 250h1M93 396h1M345 105h1M158 313h1M142 341h1M316 135h1M314 171h1M116 386h1M144 346h1M300 189h1M280 235h1M278 227h1M76 383h1M179 272h1M277 222h1M338 194h1M80 413h1M339 135h1M313 187h1M343 103h1M266 236h1M289 212h1M152 300h1M171 288h1M345 105h1M341 101h1M309 221h1M319 177h1M275 247h1M101 394h1M274 230h1M131 349h1M278 240h1M82 388h1M134 350h1M170 307h1M335 195h1M157 317h1M128 351h1M291 235h1M110 353h1M260 254h1M336 111h1M366 144h1M285 228h1M115 367h1M139 343h1M189 281h1M134 299h1M297 202h1M142 313h1M366 102h1M134 335h1M148 355h1M339 151h1M330 119h1M147 301h1M283 227h1M95 407h1M313 178h1M119 361h1M303 197h1M314 134h1M65 411h1M362 124h1M326 124h1M139 329h1M150 326h1M116 364h1M155 313h1M285 229h1M122 358h1M91 405h1M316 168h1M138 347h1M300 207h1M146 314h1M152 316h1M188 271h1M145 343h1M118 345h1M144 386h1M308 197h1M309 194h1M303 199h1M156 314h1M317 161h1M387 100h1M288 219h1M101 400h1M132 331h1M113 348h1M342 163h1M103 372h1M146 345h1M325 188h1M336 130h1M144 304h1M145 312h1M355 144h1M180 280h1M268 244h1M327 139h1M63 417h1M355 183h1M279 210h1M351 142h1M155 303h1M360 170h1M107 376h1M149 328h1M331 166h1M104 338h1M284 221h1M298 185h1M332 144h1M330 144h1M300 193h1M334 127h1M332 159h1M103 411h1M170 294h1M331 147h1M295 207h1M280 223h1M148 363h1M327 140h1M115 348h1M80 389h1M68 404h1M197 264h1M131 339h1M284 221h1M180 283h1M164 303h1M144 338h1M279 224h1M124 340h1M117 417h1M285 224h1M331 139h1M152 328h1M278 233h1M332 172h1M118 392h1M137 320h1M318 195h1M162 290h1M293 187h1M160 303h1M276 218h1M100 399h1M157 272h1M145 319h1M141 310h1M141 373h1M317 163h1M84 405h1M362 130h1M104 393h1M314 197h1M176 288h1M173 300h1M277 237h1M151 335h1M329 132h1M144 316h1M147 323h1M144 327h1M192 275h1M138 356h1M279 213h1M341 114h1M343 140h1M140 319h1M81 411h1M103 361h1M321 166h1M135 318h1M112 417h1M356 114h1M318 175h1M290 210h1M156 276h1M139 319h1M150 322h1M86 397h1M318 161h1M311 213h1M281 235h1M167 293h1M318 114h1M304 196h1M117 365h1M203 268h1M167 301h1M308 193h1M146 321h1M292 204h1M310 200h1M191 283h1M98 385h1M298 216h1M141 350h1M277 232h1M188 281h1M365 111h1M88 418h1M294 214h1M303 189h1M168 285h1M183 277h1M72 387h1M69 360h1M177 267h1M377 140h1M105 411h1M296 202h1M195 274h1M304 195h1M334 192h1M130 367h1M277 217h1M150 337h1M334 124h1M153 335h1M126 340h1M105 386h1M167 305h1M314 207h1M292 191h1M371 114h1M137 337h1M266 248h1M323 198h1M308 202h1M162 308h1M94 389h1M154 326h1M127 331h1M175 282h1M138 334h1M257 241h1M283 204h1M168 299h1M107 360h1M154 318h1M110 403h1M263 238h1M295 207h1M173 267h1M306 194h1M350 134h1M322 212h1M300 214h1M124 349h1M142 310h1M118 373h1M278 234h1M122 379h1M316 168h1M336 124h1M322 171h1M294 239h1M288 223h1M179 277h1M124 363h1M350 184h1M169 295h1M290 212h1M277 231h1M119 372h1M288 233h1M323 191h1M131 358h1M285 206h1M131 327h1M290 230h1M323 187h1M138 370h1M93 397h1M332 167h1M289 224h1M295 218h1M297 202h1M162 299h1M300 208h1M172 288h1M302 204h1M351 106h1M339 159h1M129 369h1M134 333h1M358 117h1M114 396h1M340 116h1M282 220h1M310 193h1M188 277h1M266 244h1M182 283h1M288 231h1M137 335h1M335 167h1M118 412h1M315 191h1M188 272h1M127 372h1M158 298h1M367 117h1M141 335h1M188 260h1M132 339h1M292 218h1M301 199h1M142 351h1M378 114h1M123 359h1M159 292h1M166 315h1M185 290h1M195 283h1M121 358h1M147 352h1M184 277h1M157 306h1M339 104h1M157 307h1M308 184h1M276 241h1M135 343h1M334 138h1M291 208h1M301 204h1M315 190h1M296 199h1M289 213h1M150 309h1M129 330h1M296 219h1M381 102h1M300 203h1M341 145h1M307 192h1M87 407h1M112 406h1M310 136h1M135 362h1M157 315h1M165 292h1M177 283h1M350 199h1M85 394h1M164 309h1M142 317h1M332 162h1M135 327h1M341 115h1M328 206h1M158 332h1M163 291h1M194 282h1M159 317h1M112 369h1M290 214h1M283 206h1M354 148h1M270 237h1M128 345h1M348 148h1M274 235h1M299 191h1M174 292h1M335 143h1M153 319h1M291 228h1M111 391h1M299 205h1M362 127h1M105 375h1M368 108h1M266 234h1M132 336h1M150 332h1M339 119h1M135 337h1M188 270h1M89 405h1M165 292h1M166 282h1M299 211h1M320 184h1M275 228h1M301 212h1M189 288h1M294 224h1M136 383h1M178 282h1M341 128h1M186 268h1M319 220h1M127 329h1M322 160h1M176 304h1M118 347h1M315 181h1M188 286h1M323 149h1M287 226h1M145 297h1M170 321h1M118 409h1M278 239h1M152 309h1M132 402h1M314 188h1M298 203h1M122 313h1M112 417h1M185 282h1M168 293h1M89 381h1M131 327h1M290 237h1M107 394h1M88 383h1M153 325h1M156 316h1M289 226h1M286 217h1M307 169h1M350 135h1M162 301h1M268 248h1M329 147h1M149 316h1M125 361h1M131 343h1M158 315h1M135 347h1M323 147h1M302 212h1M351 157h1M327 159h1M270 231h1M286 215h1M160 311h1M163 317h1M280 231h1M269 236h1M143 339h1M132 366h1M288 235h1M311 199h1M159 293h1M95 390h1M280 234h1M113 402h1M320 147h1M330 168h1M137 340h1M125 352h1M119 368h1M173 290h1M147 318h1M307 203h1M181 287h1M300 207h1M329 188h1M332 151h1M280 227h1M389 116h1M325 170h1M268 242h1M303 204h1M346 116h1M329 151h1M158 304h1M258 255h1M84 408h1M153 305h1M113 378h1M311 171h1M201 275h1M299 200h1M310 161h1M136 326h1M112 396h1M143 338h1M187 281h1M117 366h1M181 271h1M103 410h1M274 239h1M299 206h1M133 315h1M271 222h1M145 358h1M134 332h1M117 380h1M184 277h1M189 277h1M293 195h1M152 311h1M296 209h1M91 312h1M335 139h1M103 302h1M130 375h1M122 391h1M154 341h1M135 310h1M113 416h1M130 360h1M297 225h1M299 207h1M301 202h1M319 138h1M169 292h1M158 299h1M344 121h1M315 169h1M312 195h1M284 222h1M148 326h1M336 163h1M107 394h1M165 297h1M316 181h1M173 284h1M283 232h1M118 386h1M305 196h1M327 208h1M160 303h1M142 342h1M306 183h1M314 161h1M184 287h1M131 354h1M163 298h1M273 231h1M178 289h1M153 310h1M129 338h1M84 400h1M264 248h1M157 299h1M293 209h1M318 131h1M342 160h1M314 122h1M310 210h1M160 324h1M160 309h1M275 246h1M337 145h1M331 133h1M285 224h1M288 207h1M159 282h1M299 215h1M127 350h1M289 202h1M184 278h1M67 339h1M280 231h1M156 300h1M114 316h1M137 309h1M273 246h1M173 292h1M134 332h1M283 239h1M144 353h1M166 296h1M109 372h1M144 317h1M306 222h1M382 105h1M178 283h1M185 267h1M163 315h1M361 118h1M89 385h1M330 114h1M170 291h1M310 179h1M135 376h1M175 286h1M363 138h1M151 333h1M175 278h1M168 305h1M184 281h1M142 333h1M300 208h1M159 304h1M122 335h1M153 321h1M154 307h1M171 307h1M312 196h1M262 243h1M120 366h1M107 399h1M175 294h1M174 287h1M149 336h1M323 211h1M304 205h1M333 178h1M299 209h1M180 283h1M99 400h1M107 401h1M83 413h1M300 194h1M266 237h1M151 309h1M298 233h1M276 230h1M296 203h1M131 334h1M152 308h1M188 282h1M306 187h1M200 269h1M300 206h1M332 134h1M142 322h1M158 289h1M101 410h1M166 302h1M268 245h1M302 225h1M194 278h1M163 307h1M380 110h1M105 416h1M178 286h1M267 238h1M155 319h1M298 220h1M369 102h1M126 305h1M134 355h1M310 182h1M304 203h1M308 171h1M344 146h1M183 263h1M157 306h1M145 325h1M279 234h1M303 219h1M101 387h1M188 273h1M313 185h1M253 247h1M113 375h1M294 206h1M161 290h1M158 318h1M330 170h1M276 242h1M132 344h1M138 385h1M148 335h1M117 414h1M291 221h1M334 148h1M302 201h1M308 146h1M292 205h1M158 295h1M278 225h1M146 330h1M177 292h1M287 225h1M128 341h1M147 314h1M115 370h1M141 323h1M96 371h1M318 136h1M276 222h1M279 235h1M169 306h1M91 406h1M349 156h1M296 232h1M311 199h1M146 326h1M340 124h1M385 176h1M142 338h1M162 338h1M307 213h1M160 300h1M72 404h1M176 277h1M347 157h1M283 224h1M265 246h1M119 366h1M116 348h1M160 299h1M144 274h1M318 178h1M304 196h1M334 137h1M161 304h1M284 201h1M143 352h1M139 341h1M104 388h1M341 119h1M328 133h1M351 116h1M370 132h1M114 416h1M136 328h1M289 228h1M152 320h1M360 118h1M155 300h1M268 236h1M351 115h1M264 251h1M166 302h1M169 288h1M314 164h1M326 192h1M285 224h1M343 173h1M129 331h1M299 205h1M128 333h1M274 235h1M103 379h1M345 128h1M136 331h1M289 211h1M160 330h1M158 285h1M156 303h1M295 197h1M348 121h1M164 312h1M331 219h1M307 186h1M143 323h1M311 195h1M167 295h1M292 231h1M346 147h1M308 134h1M145 330h1M264 241h1M286 230h1M272 239h1M180 275h1M267 233h1M278 236h1M363 104h1M285 238h1M185 274h1M282 222h1M314 200h1M164 300h1M117 320h1M273 234h1M318 153h1M284 225h1M322 164h1M346 146h1M171 303h1M314 157h1M301 172h1M261 253h1M318 221h1M188 267h1M332 174h1M185 291h1M141 384h1M362 206h1M145 325h1M115 403h1M116 395h1M166 291h1M120 393h1M282 223h1M344 145h1M327 195h1M171 279h1M189 279h1M152 298h1M151 301h1M306 223h1M282 230h1M120 352h1M301 196h1M291 188h1M176 280h1M327 134h1M178 273h1M185 275h1M258 243h1M281 230h1M111 416h1M336 138h1M270 240h1M325 157h1M296 203h1M358 107h1M190 287h1M93 405h1M313 214h1M177 274h1M138 321h1M94 405h1M135 303h1M348 142h1M124 400h1M329 132h1M283 225h1M150 297h1M319 191h1M287 242h1M326 162h1M135 322h1M154 309h1M303 194h1M133 388h1M315 170h1M149 314h1M121 351h1M121 401h1M276 235h1M299 202h1M127 357h1M290 202h1M120 308h1M134 322h1M323 191h1M286 230h1M130 335h1M150 321h1M108 398h1M79 388h1M70 382h1M137 328h1M184 271h1M248 258h1M331 133h1M355 118h1M164 311h1M123 368h1M145 322h1M188 265h1M157 307h1M297 206h1M130 311h1M191 278h1M112 406h1M266 234h1M93 366h1M176 280h1M316 195h1M161 314h1M295 223h1M333 187h1M144 326h1M280 234h1M290 216h1M371 134h1M359 102h1M260 253h1M84 395h1M302 181h1M163 296h1M299 209h1M82 401h1M280 235h1M263 230h1M188 268h1M345 159h1M274 243h1M340 151h1M157 307h1M132 353h1M179 286h1M338 124h1M66 395h1M366 114h1M130 332h1M102 335h1M117 384h1M130 363h1M321 178h1M165 291h1M146 326h1M308 195h1M128 369h1M106 384h1M287 220h1M289 212h1M149 337h1M283 215h1M374 102h1M285 228h1M286 221h1M320 183h1M85 418h1M354 100h1M143 333h1M317 174h1M107 411h1M273 234h1M293 195h1M122 353h1M286 231h1M177 290h1M143 332h1M341 133h1M164 308h1M261 252h1M181 276h1M155 313h1M331 109h1M303 200h1M294 222h1M283 219h1M284 220h1M154 325h1M334 154h1M293 194h1M276 235h1M294 224h1M265 248h1M302 197h1M275 232h1M146 301h1M80 413h1M185 272h1M313 137h1M208 269h1M350 124h1M160 302h1M175 280h1M295 204h1M286 226h1M157 300h1M372 100h1M121 347h1M156 311h1M314 168h1M142 308h1M129 341h1M264 251h1M351 102h1M320 167h1M180 281h1M363 145h1M335 218h1M184 275h1M343 140h1M178 274h1M166 290h1M267 239h1M287 203h1M344 119h1M311 185h1M153 319h1M74 331h1M178 280h1M287 231h1M152 318h1M117 362h1M355 104h1M366 117h1M137 353h1M346 107h1M185 274h1M124 371h1M107 408h1M160 305h1M289 227h1M323 192h1M324 184h1M313 183h1M87 331h1M161 319h1M367 128h1M289 243h1M136 318h1M173 298h1M332 141h1M263 250h1M175 283h1M139 340h1M167 287h1M137 302h1M123 289h1M147 359h1M135 366h1M154 312h1M160 349h1M122 394h1M301 187h1M120 369h1M171 293h1M97 411h1M281 244h1M146 300h1M142 292h1M137 353h1M271 237h1M282 232h1M169 284h1M110 396h1M161 295h1M180 287h1M117 329h1M179 287h1M268 254h1M356 128h1M177 274h1M284 224h1M187 261h1M165 288h1M188 276h1M135 327h1M278 238h1M160 299h1M306 199h1M101 347h1M276 248h3M201 262h1M76 312h1M296 247h3M297 255h2M124 307h3M134 286h1M192 262h3M380 257h2M199 266h3M318 226h3M333 244h1M158 271h1M373 183h1M65 347h3M52 275h1M113 341h1M397 226h1M282 232h1M135 262h2M105 292h2M105 263h3M171 279h2M325 250h1M152 264h1M388 188h1M149 268h3M355 254h2M356 137h3M340 253h1M365 189h3M382 211h1M61 262h2M349 169h2M397 246h2M305 229h1M362 182h3M358 228h1M67 307h2M369 239h2M386 207h2M381 228h1M324 189h2M91 262h1M363 254h2M84 407h2M125 336h1M379 144h1M55 285h2M63 315h1M185 264h1M53 374h1M158 262h1M185 273h2M341 208h1M103 386h2M355 224h1M123 285h3M59 380h2M398 127h2M85 265h1M129 283h1M393 257h1M56 337h2M147 298h1M367 162h1M107 387h2M333 224h2M92 392h1M79 276h1M80 415h1M366 186h3M293 244h2M369 247h1M105 314h1M106 392h3M164 290h1M351 179h1M110 332h2M126 304h3M161 294h3M83 298h2M400 180h1M276 259h2M151 286h3M398 251h3M343 156h2M386 113h1M392 233h3M298 215h3M297 248h1M164 285h2M155 304h1M104 272h2M71 313h2M400 142h1M373 118h1M155 273h2M79 273h1M326 259h3M360 145h1M312 255h1M81 356h2M76 369h1M83 372h3M87 401h2M88 286h1M369 101h1M63 340h2M332 217h2M366 162h2M112 289h1M196 268h1M297 221h2M61 373h1M385 124h2M113 342h2M318 180h1M63 326h1M359 101h1M107 265h1M132 307h1M51 293h1M103 394h1M175 264h2M386 195h2M62 327h2M103 279h3M84 369h3M294 215h3M93 289h1M372 223h1M350 245h1M311 257h1M291 230h1M371 158h1M128 310h3M71 342h2M323 246h1M91 307h1M174 261h3M343 163h1M97 262h2M344 219h1M395 155h1M130 328h1M355 142h2M79 287h3M72 393h1M208 262h1M342 195h2M360 254h1M310 247h1M293 225h1M400 222h3M361 204h1M350 168h1M105 274h1M319 236h1M139 283h3M156 270h3M347 226h1M102 369h1M53 406h1" stroke="#8484cc" stroke-opacity="0.62" stroke-width="1.2" fill="none"/>
<path d="M189 268h1M148 313h1M255 253h1M165 278h1M179 262h1M198 263h1M200 270h1M165 264h1M259 245h1M208 261h1M260 256h1M269 242h1M175 283h1M241 259h1M279 244h1M273 237h1M292 205h1M244 258h1M206 263h1M143 330h1M200 262h1M282 229h1M243 258h1M201 263h1M183 276h1M174 265h1M189 276h1M213 260h1M265 244h1M194 269h1M300 226h1M286 222h1M206 267h1M125 310h1M179 281h1M215 260h1M196 267h1M268 239h1M292 215h1M168 274h1M138 361h1M274 239h1M288 244h1M163 281h1M170 292h1M242 256h1M145 330h1M249 257h1M292 224h1M167 286h1M263 241h1M274 235h1M175 281h1M170 302h1M210 261h1M260 252h1M147 328h1M246 254h1M221 258h1M186 278h1M281 232h1M245 255h1M233 260h1M257 258h1M281 229h1M145 331h1M255 250h1M199 266h1M205 262h1M202 262h1M288 251h1M129 345h1M238 258h1M247 255h1M198 263h1M114 328h1M176 286h1M265 248h1M260 244h1M186 275h1M295 204h1M329 181h1M199 262h1M282 214h1M189 275h1M236 257h1M267 233h1M108 411h1M244 257h1M257 255h1M215 260h1M100 416h1M257 248h1M259 242h1M219 262h1M263 254h1M197 271h1M250 253h1M269 242h1M335 174h1M217 261h1M251 255h1M149 331h1M152 282h1M296 184h1M187 280h1M223 260h1M274 228h1M199 269h1M289 229h1M202 265h1M260 249h1M158 296h1M274 226h1M204 266h1M98 409h1M241 257h1M170 294h1M240 259h1M170 289h1M262 243h1M279 225h1M300 207h1M268 247h1M192 262h1M302 217h1M193 266h1M280 228h1M154 316h1M257 259h1M207 266h1M213 263h1M142 343h1M267 242h1M182 269h1M175 275h1M198 270h1M228 259h1M149 315h1M315 175h1M81 402h1M247 256h1M210 263h1M252 252h1M246 258h1M274 247h1M286 221h1M157 316h1M204 272h1M193 272h1M175 279h1M286 228h1M269 239h1M303 209h1M248 254h1M259 240h1M189 266h1M165 322h1M333 256h1M237 258h1M220 257h1M193 266h1M267 244h1M228 261h1M254 252h1M254 251h1M275 235h1M271 240h1M134 363h1M99 379h1M198 267h1M204 263h1M162 289h1M260 244h1M194 268h1M189 270h1M190 272h1M301 220h1M272 238h1M203 267h1M201 268h1M185 273h1M274 224h1M112 360h1M198 271h1M255 251h1M259 253h1M150 334h1M202 262h1M289 231h1M201 268h1M173 280h1M256 249h1M256 252h1M220 258h1M280 223h1M256 256h1M274 238h1M265 254h1M226 256h1M284 237h1M248 257h1M303 201h1M184 290h1M246 256h1M200 266h1M253 254h1M255 254h1M297 218h1M154 290h1M146 299h1M277 236h1M212 262h1M341 209h1M198 268h1M282 247h1M260 248h1M279 229h1M255 249h1M269 240h1M213 260h1M310 193h1M256 253h1M294 237h1M260 246h1M278 216h1M174 288h1M183 275h1M274 243h1M256 253h1M301 210h1M165 301h1M268 245h1M322 181h1M173 261h1M241 259h1M136 341h1M248 257h1M264 240h1M176 281h1M273 247h1M218 259h1M241 259h1M218 258h1M252 259h1M276 233h1M160 295h1M289 231h1M175 285h1M260 243h1M194 267h1M250 252h1M164 288h1M189 273h1M303 206h1M163 291h1M206 261h1M175 292h1M206 260h1M258 246h1M205 262h1M261 247h1M168 280h1M247 258h1M108 416h1M291 224h1M163 281h1M254 252h1M275 256h1M203 266h1M253 256h1M194 270h1M252 258h1M163 310h1M328 185h1M334 146h1M263 251h1M166 278h1M270 238h1M187 275h1M175 281h1M298 200h1M163 300h1M196 270h1M203 263h1M275 227h1M197 273h1M273 233h1M289 242h1M172 291h1M260 253h1M198 264h1M241 259h1M213 259h1M290 230h1M185 287h1M251 253h1M123 338h1M196 271h1M186 285h1M177 284h1M207 261h1M187 271h1M185 276h1M201 263h1M209 260h1M200 261h1M281 217h1M239 256h1M377 164h1M261 247h1M193 268h1M264 246h1M205 264h1M150 345h1M316 145h1M288 227h1M267 243h1M189 271h1M247 256h1M270 242h1M252 256h1M165 291h1M197 264h1M257 250h1M301 216h1M225 258h1M206 264h1M199 269h1M208 261h1M252 246h1M257 249h1M277 243h1M201 267h1M277 234h1M250 256h1M186 265h1M316 179h1M239 260h1M248 254h1M204 265h1M342 101h1M190 266h1M282 227h1M343 108h1M200 262h1M274 236h1M279 237h1M141 302h1M258 248h1M308 185h1M203 264h1M171 286h1M260 249h1M193 272h1M209 260h1M268 241h1M230 261h1M193 270h1M168 301h1M208 262h1M256 253h1M273 236h1M188 276h1M142 310h1M281 243h1M168 283h1M335 155h1M246 257h1M158 298h1M192 270h1M236 260h1M208 258h1M249 254h1M247 257h1M208 263h1M205 264h1M261 251h1M191 272h1M274 240h1M338 235h1M247 256h1M253 252h1M288 227h1M255 257h1M278 232h1M280 233h1M308 172h1M194 267h1M276 238h1M183 284h1M176 279h1M316 192h1M137 331h1M272 229h1M242 260h1M173 293h1M194 272h1M98 328h1M300 208h1M268 252h1M190 269h1M187 276h1M255 255h1M280 236h1M250 253h1M252 254h1M274 244h1M299 224h1M333 100h1M247 250h1M281 225h1M177 283h1M177 270h1M267 243h1M204 262h1M379 105h1M274 237h1M180 270h1M217 260h1M188 269h1M198 271h1M270 253h1M234 260h1M239 256h1M168 286h1M241 256h1M258 251h1M209 261h1M176 290h1M169 292h1M174 284h1M324 178h1M181 270h1M250 255h1M212 263h1M201 265h1M189 274h1M200 267h1M182 286h1M190 266h1M281 239h1M253 255h1M312 195h1M233 259h1M311 195h1M183 273h1M267 248h1M252 251h1M270 235h1M248 255h1M144 328h1M272 233h1M258 249h1M201 262h1M142 372h1M149 301h1M273 228h1M258 249h1M251 255h1M270 245h1M267 249h1M281 241h1M294 229h1M350 146h1M366 240h1M295 181h1M214 259h1M266 250h1M108 404h1M241 258h1M354 106h1M175 296h1M307 203h1M187 269h1M350 202h1M199 265h1M215 261h1M160 300h1M250 253h1M233 261h1M332 154h1M329 213h1M295 224h1M195 270h1M184 281h1M274 233h1M175 290h1M284 236h1M311 197h1M200 268h1M181 282h1M260 243h1M190 277h1M203 264h1M251 256h1M264 252h1M124 370h1M259 252h1M145 306h1M260 247h1M204 261h1M258 248h1M205 260h1M169 318h1M192 279h1M256 252h1M190 270h1M267 240h1M296 206h1M180 278h1M245 257h1M248 255h1M263 247h1M202 268h1M188 263h1M237 258h1M230 259h1M208 264h1M287 225h1M108 362h1M207 262h1M248 249h1M191 273h1M254 252h1M259 240h1M198 264h1M202 269h1M174 285h1M252 258h1M260 247h1M262 248h1M200 265h1M295 205h1M210 259h1M306 226h1M186 280h1M269 240h1M212 261h1M261 250h1M198 264h1M257 251h1M252 251h1M268 235h1M175 301h1M156 303h1M182 286h1M183 274h1M184 274h1M128 350h1M271 245h1M155 290h1M285 222h1M163 281h1M211 260h1M142 325h1M185 264h1M268 241h1M124 392h1M166 285h1M298 189h1M196 268h1M131 345h1M255 252h1M259 249h1M194 269h1M331 167h1M159 272h1M256 250h1M156 278h1M208 259h1M324 175h1M139 373h1M294 208h1M183 282h1M202 266h1M202 267h1M185 281h1M261 250h1M219 261h1M321 171h1M201 267h1M239 259h1M190 271h1M304 193h1M290 220h1M260 242h1M201 266h1M204 265h1M248 256h1M277 241h1M177 279h1M271 246h1M269 247h1M196 266h1M153 318h1M239 259h1M279 228h1M189 268h1M148 346h1M203 264h1M162 297h1M201 265h1M273 222h1M257 260h1M109 290h1M256 252h1M255 248h1M147 338h1M277 239h1M306 191h1M189 275h1M254 251h1M187 273h1M279 239h1M274 243h1M164 302h1M257 249h1M185 274h1M235 259h1M200 265h1M207 260h1M244 258h1M263 246h1M245 256h1M278 235h1M267 241h1M201 265h1M263 243h1M175 287h1M259 251h1M246 256h1M285 244h1M258 254h1M170 304h1M148 300h1M208 260h1M259 238h1M199 267h1M296 235h1M200 270h1M295 225h1M138 386h1M256 251h1M194 269h1M251 253h1M290 209h1M237 258h1M262 244h1M137 308h1M260 255h1M183 276h1M292 221h1M180 284h1M244 255h1M188 271h1M171 285h1M182 285h1M191 276h1M193 275h1M271 234h1M163 307h1M250 256h1M209 260h1M211 258h1M183 269h1M188 274h1M161 305h1M275 241h1M232 255h1M201 266h1M319 127h1M256 252h1M208 262h1M241 257h1M212 260h1M207 261h1M286 234h1M275 231h1M256 252h1M266 238h1M264 245h1M204 262h1M196 266h1M193 267h1M278 232h1M239 261h1M282 225h1M183 274h1M204 264h1M247 252h1M190 279h1M168 274h1M250 256h1M160 322h1M284 230h1M262 233h1M179 288h1M255 248h1M305 181h1M253 252h1M298 217h1M281 233h1M292 245h1M203 268h1M201 264h1M307 212h1M265 255h1M336 157h1M137 315h1M263 256h1M267 241h1M203 260h1M305 218h1M130 322h1M171 279h1M182 287h1M144 349h1M196 271h1M275 232h1M235 257h1M205 260h1M208 260h1M297 216h1M185 276h1M186 279h1M190 268h1M264 237h1M254 251h1M159 325h1M158 304h1M166 314h1M238 258h1M200 265h1M207 264h1M281 235h1M259 251h1M178 278h1M197 265h1M263 243h1M260 252h1M198 267h1M185 275h1M240 260h1M262 258h1M195 277h1M245 257h1M164 302h1M109 375h1M279 222h1M257 254h1M297 233h1M202 263h1M237 258h1M276 244h1M300 252h1M184 273h1M197 264h1M269 244h1M217 260h1M267 255h1M194 270h1M203 266h1M132 383h1M162 297h1M247 254h1M149 302h1M198 272h1M178 281h1M320 229h1M207 262h1M177 281h1M293 222h1M255 257h1M214 260h1M299 214h1M200 266h1M265 246h1M350 112h1M218 262h1M196 269h1M188 269h1M289 219h1M99 397h1M225 261h1M180 274h1M329 193h1M268 239h1M280 238h1M195 271h1M299 186h1M334 124h1M237 257h1M163 286h1M220 258h1M269 240h1M273 254h1M164 307h1M193 269h1M239 258h1M277 246h1M225 260h1M188 268h1M188 271h1M77 408h1M293 220h1M285 247h1M157 304h1M206 262h1M258 248h1M208 261h1M189 269h1M256 250h1M260 251h1M136 326h1M170 311h1M266 247h1M259 249h1M195 268h1M284 246h1M296 220h1M200 263h1M244 254h1M345 108h1M283 230h1M181 278h1M295 228h1M188 273h1M213 264h1M266 240h1M351 108h1M250 254h1M140 324h1M168 289h1M305 212h1M196 269h1M198 271h1M166 310h1M176 272h1M121 352h1M272 240h1M348 136h1M215 261h1M286 211h1M197 264h1M197 269h1M273 247h1M257 250h1M275 242h1M266 242h1M287 225h1M206 262h1M239 257h1M167 287h1M230 258h1M193 263h1M269 243h1M291 227h1M122 381h1M211 261h1M255 249h1M296 208h1M255 255h1M179 280h1M183 272h1M204 263h1M187 276h1M148 322h1M251 258h1M297 210h1M269 243h1M271 245h1M265 246h1M243 258h1M165 294h1M207 259h1M190 279h1M294 225h1M164 283h1M306 195h1M240 259h1M247 257h1M180 272h1M258 250h1M216 261h1M209 264h1M240 260h1M249 252h1M156 321h1M244 257h1M205 264h1M248 255h1M160 315h1M178 267h1M273 247h1M269 239h1M278 233h1M186 285h1M268 242h1M150 347h1M296 225h1M254 243h1M166 295h1M260 251h1M266 237h1M195 267h1M237 258h1M267 238h1M197 267h1M260 250h1M140 280h1M283 216h1M250 251h1M192 274h1M238 257h1M188 273h1M262 244h1M239 258h1M182 270h1M257 247h1M173 279h1M342 128h1M311 190h1M211 262h1M186 278h1M123 299h1M196 266h1M268 245h1M252 257h1M282 217h1M183 277h1M268 235h1M160 289h1M209 260h1M208 260h1M187 284h1M237 260h1M132 338h1M178 280h1M250 252h1M289 235h1M298 212h1M234 259h1M186 285h1M286 220h1M316 183h1M236 259h1M250 259h1M194 281h1M271 239h1M200 267h1M312 187h1M177 281h1M194 271h1M261 241h1M299 241h1M211 261h1M237 260h1M245 257h1M266 246h1M268 233h1M295 216h1M144 350h1M208 261h1M176 284h1M170 290h1M214 259h1M354 129h1M225 257h1M279 228h1M254 247h1M288 223h1M273 235h1M175 287h1M238 257h1M279 213h1M266 246h1M250 256h1M170 319h1M193 266h1M231 258h1M316 185h1M192 267h1M188 275h1M195 275h1M289 204h1M195 265h1M266 245h1M201 263h1M281 237h1M270 238h1M256 255h1M348 184h1M269 248h1M266 240h1M250 251h1M190 272h1M241 256h1M289 224h1M118 335h1M270 255h1M242 258h1M290 219h1M180 270h1M206 263h1M176 277h1M190 268h1M208 259h1M212 260h1M261 248h1M183 280h1M275 231h1M94 376h1M235 258h1M194 268h1M174 290h1M162 288h1M264 241h1M210 265h1M136 317h1M161 282h1M175 283h1M193 265h1M240 259h1M273 242h1M152 282h1M284 227h1M162 285h1M298 219h1M266 242h1M160 295h1M262 248h1M259 253h1M177 270h1M97 393h1M170 295h1M194 271h1M170 279h1M261 252h1M179 301h1M202 266h1M209 263h1M164 293h1M326 160h1M215 262h1M146 309h1M179 276h1M208 268h1M246 253h1M184 262h1M277 229h1M276 236h1M199 268h1M310 217h1M106 354h1M175 283h1M156 316h1M246 256h1M201 261h1M251 254h1M243 257h1M169 289h1M168 294h1M180 280h1M285 217h1M294 224h1M268 250h1M197 270h1M327 204h1M258 254h1M365 106h1M115 383h1M253 250h1M199 267h1M263 245h1M153 307h1M241 257h1M175 285h1M187 273h1M295 213h1M194 273h1M293 234h1M292 220h1M183 271h1M256 251h1M278 235h1M209 262h1M217 261h1M187 273h1M169 293h1M186 269h1M269 248h1M211 260h1M272 237h1M270 247h1M263 255h1M313 131h1M322 156h1M308 229h1M212 262h1M337 148h1M256 254h1M202 262h1M267 241h1M247 253h1M194 269h1M352 212h1M272 235h1M176 282h1M190 272h1M197 266h1M128 378h1M178 278h1M260 252h1M212 258h1M275 238h1M268 241h1M271 237h1M193 272h1M209 265h1M213 261h1M180 279h1M259 250h1M297 204h1M176 289h1M315 190h1M168 291h1M263 254h1M261 254h1M304 242h1M189 280h1M260 252h1M190 268h1M267 248h1M290 226h1M256 251h1M249 254h1M290 201h1M221 260h1M167 291h1M343 135h1M199 267h1M146 324h1M132 320h1M361 106h1M290 224h1M202 266h1M205 261h1M182 274h1M193 268h1M218 262h1M191 274h1M246 255h1M154 295h1M287 226h1M275 236h1M282 235h1M258 246h1M332 121h1M172 283h1M272 236h1M255 250h1M300 215h1M271 237h1M199 267h1M106 379h1M364 165h1M291 226h1M208 261h1M189 269h1M293 219h1M282 216h1M173 280h1M263 238h1M282 228h1M271 243h1M238 259h1M298 207h1M262 249h1M251 251h1M264 236h1M184 276h1M279 239h1M210 262h1M156 304h1M265 243h1M151 322h1M245 256h1M248 249h1M188 280h1M146 307h1M363 148h1M214 260h1M312 195h1M223 260h1M169 297h1M277 244h1M106 350h1M253 253h1M256 244h1M199 265h1M155 278h1M330 134h1M280 238h1M334 140h1M155 290h1M203 264h1M193 272h1M248 257h1M160 297h1M236 258h1M265 240h1M209 260h1M191 274h1M271 248h1M205 258h1M184 272h1M219 260h1M206 263h1M189 276h1M281 243h1M275 234h1M170 297h1M258 259h1M269 242h1M256 250h1M190 272h1M148 325h1M208 261h1M250 257h1M172 279h1M172 280h1M300 222h1M205 261h1M188 260h1M252 256h1M180 283h1M165 304h1M248 255h1M170 292h1M284 231h1M348 103h1M258 256h1M165 288h1M270 242h1M241 257h1M211 262h1M252 253h1M273 246h1M255 248h1M288 224h1M271 247h1M173 287h1M202 261h1M142 327h1M254 255h1M206 262h1M197 271h1M260 244h1M134 350h1M252 255h1M290 233h1M204 265h1M259 251h1M164 289h1M215 258h1M279 233h1M172 298h1M162 308h1M258 255h1M231 259h1M213 259h1M176 283h1M235 258h1M198 267h1M214 257h1M266 250h1M254 251h1M208 260h1M215 260h1M246 258h1M204 263h1M206 264h1M241 261h1M213 260h1M230 255h1M282 227h1M237 257h1M223 257h1M211 265h1M230 259h1M230 263h1M206 259h1M270 244h1M235 256h1M176 282h1M252 252h1M197 262h1M235 262h1M230 258h1M188 273h1M247 260h1M230 259h1M205 266h1M246 260h1M213 260h1M178 285h1M271 243h1M201 269h1M293 211h1M196 267h1M249 255h1M197 263h1M208 263h1M214 265h1M212 259h1M271 238h1M220 261h1M190 272h1M204 264h1M258 245h1M246 257h1M255 251h1M200 263h1M230 258h1M235 256h1M288 225h1M184 276h1M232 259h1M277 232h1M219 260h1M217 264h1M163 296h1M290 222h1M231 260h1M213 258h1M195 265h1M254 248h1M218 259h1M215 263h1M208 259h1M249 258h1M239 259h1M245 256h1M192 267h1M239 257h1M177 280h1M255 256h1M254 249h1M240 252h1M199 263h1M296 213h1M250 255h1M232 260h1M176 292h1M236 258h1M208 262h1M242 255h1M257 253h1M260 245h1M250 253h1M258 249h1M234 260h1M219 258h1M184 271h1M244 259h1M280 229h1M258 248h1M203 264h1M170 289h1M237 259h1M179 279h1M203 262h1M209 261h1M290 213h1M255 250h1M260 252h1M185 281h1M280 236h1M230 257h1M297 207h1M223 261h1M275 235h1M216 259h1M284 225h1M206 259h1M238 260h1M197 264h1M235 261h1M196 267h1M243 261h1M255 253h1M254 252h1M171 292h1M220 254h1M249 255h1M249 257h1M246 261h1M258 251h1M176 274h1M262 249h1M261 249h1M180 280h1M218 259h1M221 259h1M221 261h1M222 260h1M222 262h1M208 258h1M168 294h1M217 254h1M209 261h1M221 259h1M205 263h1M221 263h1M223 262h1M233 258h1M222 257h1M165 292h1M248 255h1M179 279h1M222 259h1M195 269h1M277 232h1M188 271h1M221 263h1M243 260h1M215 264h1M180 281h1M212 260h1M162 301h1M250 253h1M220 261h1M214 259h1M255 258h1M208 257h1M199 272h1M249 258h1M218 261h1M179 278h1M201 268h1M213 261h1M181 280h1M221 256h1M194 261h1M194 267h1M252 252h1M164 292h1M249 252h1M214 264h1M164 296h1M216 260h1M223 259h1M268 247h1M217 262h1M212 261h1M199 262h1M287 226h1M245 264h1M229 260h1M213 262h1M264 243h1M277 231h1M239 257h1M201 264h1M205 264h1M200 267h1M233 258h1M215 253h1M250 257h1M220 258h1M209 261h1M283 224h1M234 261h1M275 228h1M186 269h1M223 261h1M198 273h1M240 264h1M173 280h1M229 259h1M251 257h1M264 247h1M188 272h1M236 257h1M254 255h1M266 247h1M192 271h1M209 251h1M212 259h1M188 272h1M258 252h1M194 273h1M194 270h1M246 263h1M188 270h1M214 259h1M192 274h1M192 276h1M236 259h1M250 254h1M259 249h1M275 233h1M178 278h1M205 264h1M188 273h1M185 279h1M255 251h1M211 258h1M296 213h1M259 250h1M242 252h1M214 264h1M259 250h1M188 275h1M263 242h1M210 264h1M204 259h1M200 264h1M266 248h1M217 259h1M223 258h1M265 246h1M245 259h1M240 260h1M170 286h1M255 252h1M213 263h1M239 258h1M223 259h1M258 250h1M210 261h1M168 296h1M213 260h1M229 257h1M183 279h1M196 264h1M284 233h1M231 260h1M216 257h1M202 267h1M289 226h1M168 295h1M197 264h1M188 270h1M214 252h1M237 261h1M180 280h1M255 252h1M188 275h1M234 256h1M277 235h1M209 268h1M236 259h1M260 250h1M252 257h1M277 233h1M244 258h1M250 256h1M199 268h1M194 271h1M174 293h1M242 254h1M209 264h1M237 256h1M238 264h1M202 268h1M188 280h1M203 262h1M272 231h1M243 256h1M241 255h1M273 237h1M259 244h1M183 278h1M251 248h1M203 262h1M281 230h1M252 251h1M187 276h1M239 256h1M246 257h1M199 263h1M220 262h1M217 263h1M251 260h1M236 261h1M191 272h1M192 267h1M186 276h1M274 236h1M203 260h1M204 260h1M223 258h1M218 256h1M196 271h1M217 261h1M263 247h1M215 261h1M222 260h1M260 246h1M203 262h1M186 268h1M211 263h1M187 272h1M265 244h1M182 281h1M246 256h1M193 267h1M214 262h1M202 261h1M203 260h1M229 259h1M265 247h1M231 259h1M223 258h1M274 242h1M206 261h1M245 259h1M195 268h1M238 254h1M247 250h1M165 301h1M256 246h1M258 258h1M240 259h1M251 255h1M220 256h1M222 258h1M233 256h1M251 250h1M212 263h1M162 313h1M216 259h1M244 251h1M174 290h1M161 302h1M170 288h1M267 248h1M188 271h1M209 264h1M257 248h1M153 322h1M268 242h1M273 235h1M217 257h1M195 269h1M265 253h1M185 275h1M213 257h1M260 243h1M239 259h1M235 258h1M172 288h1M251 253h1M237 260h1M285 223h1M242 256h1M210 259h1M245 256h1M240 262h1M206 257h1M203 266h1M214 257h1M247 255h1M186 282h1M233 263h1M171 288h1M255 253h1M167 289h1M181 279h1M259 251h1M260 251h1M202 261h1M220 259h1M259 249h1M253 256h1M212 262h1M214 259h1M196 269h1M293 212h1M230 262h1M197 264h1M263 243h1M235 259h1M180 279h1M161 303h1M215 259h1M232 262h1M215 260h1M236 261h1M164 296h1M265 249h1M195 274h1M258 248h1M213 259h1M187 274h1M237 261h1M217 258h1M231 257h1M210 261h1M237 263h1M265 242h1M240 258h1M246 260h1M179 282h1M216 260h1M284 231h1M207 265h1M211 264h1M191 266h1M237 260h1M259 253h1M202 263h1M218 262h1M250 255h1M174 287h1M276 232h1M253 254h1M191 272h1M167 291h1M213 260h1M204 256h1" stroke="#c4c4f0" stroke-opacity="0.7" stroke-width="1.2" fill="none"/>
<path d="M188 271h1M203 263h1M258 248h1M276 233h1M256 252h1M190 276h1M287 227h1M195 268h1M255 252h1M285 231h1M263 247h1M239 259h1M250 253h1M258 243h1M247 257h1M208 264h1M195 267h1M268 245h1M189 270h1M191 268h1M200 263h1M203 266h1M285 219h1M280 218h1M179 275h1M254 255h1M260 248h1M205 263h1M176 283h1M267 235h1M260 250h1M246 256h1M203 264h1M196 274h1M177 278h1M270 241h1M273 235h1M288 211h1M202 264h1M195 265h1M200 266h1M249 252h1M180 273h1M302 186h1M286 221h1M196 271h1M250 254h1M187 271h1M294 215h1M263 251h1M193 274h1M222 258h1M246 254h1M290 217h1M255 254h1M185 284h1M275 239h1M161 303h1M259 252h1M252 253h1M219 262h1M275 231h1M219 261h1M172 289h1M179 288h1M250 253h1M197 267h1M176 284h1M189 274h1M254 249h1M213 262h1M262 253h1M242 258h1M250 253h1M185 281h1M147 297h1M211 263h1M269 246h1M237 258h1M218 260h1M255 256h1M263 248h1M258 255h1M255 250h1M215 258h1M195 265h1M256 254h1M273 240h1M183 271h1M212 263h1M190 271h1M243 258h1M186 273h1M197 269h1M191 271h1M182 278h1M148 329h1M257 245h1M251 251h1M253 251h1M263 243h1M170 286h1M283 236h1M253 253h1M184 277h1M250 255h1M145 323h1M186 273h1M165 290h1M245 260h1M258 249h1M247 256h1M251 251h1M175 287h1M269 237h1M216 258h1M235 260h1M262 252h1M211 263h1M197 265h1M185 274h1M264 242h1M142 325h1M187 280h1M231 259h1M272 238h1M249 255h1M270 240h1M198 269h1M171 287h1M247 255h1M289 210h1M288 221h1M183 283h1M213 262h1M154 295h1M205 261h1M206 259h1M167 304h1M205 264h1M250 246h1M178 285h1M196 278h1M290 220h1M186 279h1M256 255h1M204 263h1M269 237h1M248 250h1M176 281h1M199 271h1M253 253h1M256 252h1M262 245h1M205 264h1M234 258h1M144 323h1M286 231h1M280 235h1M194 271h1M252 253h1M238 258h1M264 242h1M296 221h1M250 248h1M268 243h1M272 236h1M203 265h1M264 250h1M285 227h1M251 249h1M197 267h1M205 266h1M278 231h1M159 299h1M267 243h1M169 298h1M266 240h1M192 276h1M251 250h1M178 288h1M201 262h1M237 257h1M215 260h1M260 234h1M204 264h1M166 298h1M193 266h1M248 252h1M253 257h1M238 258h1M235 260h1M270 238h1M184 263h1M268 249h1M276 233h1M253 255h1M198 266h1M177 266h1M249 253h1M127 332h1M215 260h1M209 264h1M210 262h1M303 214h1M173 289h1M208 263h1M262 254h1M237 257h1M199 265h1M253 250h1M198 266h1M200 265h1M201 265h1M177 283h1M245 256h1M281 223h1M178 286h1M254 248h1M263 254h1M199 269h1M185 283h1M268 244h1M198 275h1M228 258h1M184 285h1M137 339h1M214 258h1M277 230h1M274 246h1M211 259h1M241 259h1M180 284h1M257 248h1M212 263h1M251 254h1M190 272h1M275 236h1M275 238h1M271 238h1M193 268h1M185 278h1M250 255h1M249 257h1M270 246h1M256 245h1M223 260h1M241 255h1M269 242h1M200 266h1M234 259h1M267 239h1M261 243h1M265 241h1M240 259h1M260 245h1M157 312h1M249 250h1M205 265h1M250 255h1M156 319h1M205 265h1M276 222h1M285 221h1M276 240h1M197 261h1M223 260h1M262 248h1M244 257h1M195 269h1M184 287h1M203 264h1M168 290h1M216 260h1M277 233h1M191 270h1M191 276h1M195 269h1M263 249h1M258 251h1M249 257h1M272 228h1M187 268h1M269 243h1M202 266h1M284 231h1M190 272h1M205 259h1M175 284h1M270 236h1M208 260h1M252 254h1M252 251h1M193 269h1M256 256h1M208 260h1M256 254h1M175 278h1M234 259h1M248 257h1M189 273h1M252 251h1M251 254h1M271 241h1M162 307h1M198 264h1M251 254h1M240 258h1M169 291h1M323 185h1M170 291h1M235 259h1M249 253h1M257 252h1M255 249h1M183 278h1M250 254h1M253 253h1M176 291h1M293 222h1M161 290h1M174 286h1M282 224h1M190 273h1M260 250h1M207 260h1M283 233h1M187 279h1M197 268h1M241 257h1M209 262h1M245 260h1M184 279h1M264 242h1M179 275h1M275 231h1M181 281h1M275 236h1M193 268h1M187 275h1M247 253h1M215 260h1M259 245h1M241 256h1M256 253h1M284 219h1M209 262h1M202 265h1M164 302h1M195 269h1M247 256h1M257 257h1M192 269h1M255 252h1M257 252h1M274 237h1M243 257h1M184 276h1M181 274h1M259 254h1M199 264h1M249 256h1M273 234h1M173 282h1M246 251h1M170 288h1M273 237h1M259 252h1M247 256h1M201 266h1M190 265h1M271 239h1M202 265h1M187 272h1M247 254h1M172 287h1M188 268h1M258 248h1M182 278h1M197 267h1M178 280h1M246 257h1M198 269h1M305 207h1M189 274h1M283 226h1M201 265h1M303 202h1M188 271h1M271 240h1M168 312h1M241 256h1M293 208h1M237 259h1M191 274h1M243 256h1M201 263h1M264 243h1M185 279h1M175 290h1M272 240h1M255 251h1M255 253h1M198 271h1M206 262h1M233 256h1M248 254h1M250 252h1M197 277h1M252 253h1M198 263h1M247 257h1M213 262h1M201 264h1M289 221h1M214 262h1M190 278h1M248 254h1M263 248h1M265 244h1M236 257h1M261 248h1M249 255h1M300 196h1M208 258h1M188 270h1M174 279h1M178 276h1M180 279h1M183 277h1M200 268h1M210 260h1M203 262h1M179 284h1M197 269h1M191 273h1M209 262h1M212 257h1M201 265h1M241 256h1M182 280h1M192 277h1M208 263h1M260 241h1M260 249h1M253 253h1M183 270h1M178 277h1M165 296h1M167 297h1M267 246h1M268 251h1M274 241h1M199 265h1M305 226h1M203 264h1M246 255h1M170 294h1M198 270h1M191 280h1M245 255h1M267 242h1M206 262h1M255 246h1M246 256h1M254 255h1M223 258h1M193 276h1M275 233h1M180 276h1M205 265h1M218 260h1M240 257h1M266 240h1M249 254h1M211 260h1M181 285h1M213 260h1M251 253h1M149 300h1M272 235h1M206 263h1M270 240h1M193 278h1M192 270h1M179 284h1M267 241h1M243 257h1M253 250h1M192 265h1M190 276h1M196 268h1M199 266h1M268 242h1M277 237h1M183 279h1M314 206h1M169 290h1M268 239h1M214 264h1M125 354h1M251 257h1M196 260h1M198 264h1M178 273h1M175 298h1M247 252h1M252 253h1M213 262h1M190 272h1M273 245h1M299 192h1M211 259h1M281 230h1M243 255h1M218 259h1M265 243h1M272 247h1M184 274h1M223 259h1M199 260h1M203 262h1M283 227h1M254 251h1M248 255h1M232 258h1M186 284h1M226 257h1M272 245h1M292 234h1M206 261h1M192 271h1M302 200h1M216 261h1M205 261h1M271 245h1M255 249h1M187 281h1M203 267h1M256 251h1M242 258h1M251 255h1M252 251h1M280 238h1M250 252h1M246 254h1M175 284h1M273 244h1M277 232h1M243 257h1M183 281h1M188 264h1M273 240h1M210 261h1M184 280h1M197 262h1M267 243h1M218 262h1M263 245h1M265 242h1M197 267h1M198 268h1M188 277h1M260 245h1M212 261h1M259 241h1M186 275h1M186 268h1M254 259h1M216 262h1M204 265h1M203 264h1M208 259h1M255 252h1M158 303h1M261 256h1M198 267h1M180 284h1M252 256h1M262 242h1M199 265h1M251 256h1M276 233h1M288 232h1M249 256h1M179 280h1M217 259h1M212 259h1M181 280h1M187 279h1M253 250h1M296 225h1M240 257h1M251 255h1M282 230h1M270 241h1M265 243h1M204 263h1M209 259h1M267 234h1M273 241h1M215 259h1M212 259h1M214 259h1M245 253h1M279 231h1M197 269h1M249 254h1M270 239h1M276 229h1M253 253h1M202 267h1M204 267h1M202 264h1M206 263h1M279 245h1M246 252h1M209 261h1M257 248h1M179 284h1M270 246h1M252 254h1M245 255h1M252 256h1M255 248h1M199 270h1M252 255h1M192 269h1M184 272h1M199 271h1M198 262h1M252 251h1M242 257h1M250 253h1M199 270h1M215 259h1M215 259h1M272 246h1M260 253h1M189 269h1M284 227h1M187 275h1M199 263h1M260 246h1M264 245h1M215 260h1M191 274h1M199 269h1M281 226h1M187 278h1M189 279h1M263 243h1M272 242h1M249 256h1M244 258h1M239 257h1M262 242h1M175 290h1M252 251h1M193 272h1M200 271h1M191 276h1M248 259h1M189 269h1M193 269h1M272 238h1M199 263h1M202 267h1M200 266h1M249 252h1M250 253h1M274 234h1M182 283h1M252 251h1M155 305h1M256 255h1M247 256h1M269 240h1M258 249h1M250 253h1M258 249h1M302 196h1M217 258h1M212 261h1M214 262h1M240 257h1M240 257h1M271 237h1M191 270h1M204 265h1M185 280h1M189 274h1M248 256h1M248 253h1M205 267h1M238 261h1M267 236h1M256 250h1M178 275h1M222 259h1M134 337h1M285 228h1M189 270h1M270 244h1M258 249h1M264 246h1M212 261h1M254 249h1M198 263h1M183 276h1M258 252h1M208 262h1M200 270h1M273 235h1M191 276h1M274 232h1M259 249h1M271 232h1M268 233h1M288 220h1M288 222h1M255 250h1M250 252h1M175 283h1M240 257h1M274 238h1M256 254h1M251 254h1M250 250h1M253 252h1M174 294h1M188 271h1M248 256h1M169 290h1M271 242h1M257 250h1M194 271h1M286 214h1M168 296h1M214 261h1M267 243h1M200 271h1M266 248h1M277 240h1M186 274h1M199 265h1M152 321h1M186 275h1M286 230h1M188 278h1M199 264h1M239 261h1M253 253h1M181 286h1M200 267h1M156 311h1M258 248h1M157 316h1M210 262h1M289 215h1M211 264h1M288 230h1M254 244h1M258 253h1M196 270h1M245 257h1M215 259h1M264 243h1M187 276h1M265 248h1M185 277h1M206 268h1M242 257h1M209 264h1M201 263h1M256 255h1M270 233h1M189 276h1M178 278h1M272 239h1M179 284h1M246 257h1M200 266h1M294 216h1M267 242h1M203 263h1M199 271h1M187 273h1M252 249h1M182 284h1M276 229h1M244 254h1M238 258h1M191 272h1M158 296h1M287 223h1M259 250h1M259 249h1M279 235h1M269 237h1M166 294h1M256 253h1M184 277h1M260 248h1M187 280h1M214 262h1M185 264h1M246 257h1M197 271h1M277 236h1M198 263h1M207 261h1M197 270h1M232 257h1M219 260h1M174 287h1M248 256h1M249 252h1M160 296h1M273 241h1M253 258h1M287 215h1M250 259h1M240 258h1M260 256h1M290 228h1M263 254h1M261 250h1M216 259h1M247 256h1M195 269h1M284 228h1M252 254h1M181 275h1M188 276h1M180 274h1M196 265h1M266 246h1M273 231h1M198 269h1M164 293h1M256 249h1M259 255h1M265 239h1M256 252h1M252 255h1M266 243h1M201 268h1M248 255h1M215 261h1M245 256h1M212 259h1M170 283h1M200 267h1M248 258h1M191 271h1M261 248h1M283 228h1M298 219h1M194 272h1M257 251h1M206 264h1M168 295h1M189 274h1M181 289h1M208 261h1M183 280h1M193 274h1M266 243h1M196 274h1M262 253h1M212 260h1M254 249h1M283 216h1M185 279h1M201 263h1M252 252h1M172 292h1M195 270h1M200 266h1M285 208h1M212 262h1M265 235h1M277 238h1M201 264h1M243 260h1M254 251h1M256 253h1M243 258h1M198 264h1M269 246h1M254 256h1M251 256h1M177 287h1M246 258h1M253 253h1M258 248h1M179 273h1M235 258h1M267 242h1M264 243h1M188 273h1M213 262h1M207 261h1M251 251h1M196 266h1M250 252h1M179 282h1M270 234h1M276 232h1M210 258h1M199 266h1M261 248h1M189 277h1M255 251h1M185 273h1M196 270h1M251 257h1M202 265h1M211 261h1M293 212h1M270 234h1M203 262h1M259 248h1M249 255h1M208 260h1M191 269h1M251 252h1M200 266h1M262 252h1M183 273h1M252 253h1M272 236h1M178 277h1M182 275h1M195 266h1M261 249h1M180 285h1M257 248h1M265 231h1M285 221h1M185 283h1M196 276h1M184 274h1M246 257h1M243 258h1M259 252h1M237 259h1M253 255h1M255 243h1M257 240h1M193 266h1M202 264h1M169 299h1M241 260h1M200 264h1M259 249h1M209 262h1M159 309h1M187 275h1M262 244h1M169 285h1M209 263h1M252 251h1M250 253h1M256 242h1M194 271h1M263 242h1M199 262h1M275 243h1M237 257h1M261 246h1M192 269h1M251 255h1M201 263h1M252 255h1M264 246h1M202 266h1M180 281h1M200 264h1M324 190h1M243 257h1M268 239h1M202 264h1M222 257h1M252 249h1M210 260h1M199 264h1M264 244h1M245 256h1M258 250h1M159 299h1M199 267h1M257 252h1M202 261h1M243 258h1M211 262h1M273 238h1M209 261h1M207 264h1M291 220h1M188 274h1M189 270h1M190 271h1M204 262h1M186 279h1M183 279h1M271 246h1M194 271h1M194 264h1M185 277h1M197 267h1M266 243h1M240 257h1M191 270h1M239 259h1M210 260h1M207 263h1M177 280h1M243 255h1M189 270h1M247 259h1M180 283h1M277 225h1M251 253h1M171 283h1M209 261h1M182 280h1M244 258h1M301 195h1M194 264h1M272 233h1M244 257h1M284 223h1M206 260h1M219 258h1M210 260h1M150 310h1M250 249h1M203 263h1M198 271h1M203 265h1M205 261h1M256 251h1M182 276h1M252 255h1M256 248h1M175 284h1M260 249h1M251 251h1M233 259h1M189 272h1M243 258h1M240 258h1M255 251h1M147 307h1M205 264h1M250 252h1M198 274h1M249 253h1M154 300h1M128 349h1M271 231h1M255 248h1M261 249h1M254 251h1M264 251h1M247 252h1M267 246h1M247 256h1M198 268h1M202 263h1M265 237h1M196 270h1M159 306h1M199 268h1M308 195h1M218 262h1M278 232h1M250 256h1M194 269h1M188 269h1M198 267h1M209 259h1M255 250h1M254 254h1M213 261h1M205 263h1M261 253h1M201 269h1M289 218h1M280 229h1M261 251h1M199 268h1M191 268h1M197 264h1M165 296h1M236 259h1M323 169h1M258 247h1M292 228h1M273 245h1M162 294h1M257 246h1M176 289h1M171 293h1M181 279h1M195 267h1M247 255h1M187 272h1M213 262h1M205 266h1M204 264h1M252 253h1M207 258h1M260 246h1M245 255h1M217 263h1M263 246h1M166 284h1M199 269h1M258 251h1M250 255h1M272 244h1M185 281h1M197 266h1M195 269h1M271 243h1M258 250h1M228 258h1M204 263h1M158 306h1M211 261h1M212 261h1M195 270h1M167 297h1M197 270h1M284 233h1M268 245h1M184 274h1M201 264h1M259 248h1M187 279h1M197 265h1M200 263h1M202 267h1M161 318h1M165 291h1M270 239h1M256 249h1M200 269h1M193 275h1M211 259h1M234 257h1M248 255h1M154 312h1M261 254h1M240 259h1M248 255h1M168 293h1M264 240h1M258 246h1M242 257h1M129 355h1M265 238h1M169 289h1M253 250h1M272 246h1M250 255h1M282 229h1M202 267h1M289 217h1M178 285h1M174 293h1M269 240h1M201 265h1M260 245h1M260 246h1M274 235h1M192 272h1M186 281h1M204 263h1M181 283h1M294 221h1M202 268h1M189 273h1M288 216h1M280 230h1M168 281h1M259 254h1M237 259h1M275 244h1M212 261h1M182 285h1M246 257h1M198 268h1M194 271h1M248 259h1M257 248h1M206 264h1M204 261h1M276 233h1M196 266h1M180 275h1M271 238h1M248 259h1M254 253h1M191 272h1M165 300h1M274 232h1M176 288h1M266 248h1M271 233h1M218 261h1M243 257h1M281 232h1M259 246h1M208 264h1M251 258h1M192 275h1M264 242h1M190 288h1M283 225h1M290 216h1M214 263h1M241 257h1M189 274h1M269 245h1M246 256h1M267 251h1M213 263h1M216 258h1M264 243h1M246 257h1M186 282h1M264 241h1M260 253h1M238 259h1M258 254h1M187 264h1M234 258h1M300 184h1M219 259h1M258 247h1M261 252h1M264 242h1M170 306h1M261 245h1M143 335h1M193 267h1M203 262h1M284 242h1M187 272h1M197 268h1M206 259h1M238 260h1M209 260h1M257 253h1M248 250h1M254 254h1M254 252h1M272 246h1M195 272h1M155 316h1M181 277h1M257 250h1M198 268h1M282 237h1M156 298h1M187 263h1M208 264h1M266 235h1M279 227h1M262 243h1M253 255h1M259 247h1M189 276h1M292 210h1M214 262h1M281 232h1M255 250h1M196 267h1M186 281h1M252 254h1M190 275h1M191 272h1M243 257h1M270 244h1M216 260h1M181 281h1M213 260h1M205 266h1M184 274h1M286 228h1M266 247h1M190 277h1M214 262h1M276 232h1M265 246h1M189 279h1M207 262h1M199 267h1M188 276h1M266 247h1M273 233h1M209 261h1M272 236h1M165 297h1M238 257h1M243 255h1M295 197h1M205 264h1M293 206h1M195 265h1M204 260h1M194 270h1M270 243h1M259 254h1M251 255h1M208 263h1M209 267h1M270 237h1M202 266h1M254 255h1M197 269h1M258 250h1M211 260h1M149 336h1M133 300h1M212 261h1M139 335h1M179 282h1M252 252h1M202 262h1M268 238h1M195 267h1M264 240h1M177 279h1M202 263h1M274 237h1M172 288h1M216 260h1M163 302h1M208 261h1M188 274h1M180 281h1M177 289h1M200 266h1M263 240h1M162 305h1M304 174h1M217 263h1M207 263h1M171 285h1M192 271h1M276 239h1M188 274h1M239 259h1M206 267h1M253 252h1M250 252h1M214 262h1M275 237h1M193 268h1M281 233h1M200 265h1M245 257h1M250 255h1M237 258h1M192 271h1M288 231h1M238 259h1M186 280h1M239 258h1M246 254h1M268 235h1M254 253h1M256 254h1M190 274h1M206 263h1M198 269h1M200 264h1M209 259h1M189 273h1M256 247h1M193 265h1M264 241h1M240 259h1M272 242h1M238 258h1M182 280h1M279 234h1M239 259h1M242 255h1M232 257h1M182 278h1M250 255h1M286 217h1M238 257h1M215 259h1M201 264h1M235 258h1M205 265h1M293 218h1M193 272h1M262 247h1M163 301h1M191 275h1M194 278h1M210 263h1M298 209h1M274 249h1M257 249h1M297 199h1M208 261h1M275 229h1M272 237h1M219 259h1M199 267h1M235 256h1M272 240h1M203 263h1M275 235h1M250 251h1M204 264h1M250 256h1M243 256h1M317 170h1M278 231h1M191 280h1M213 257h1M209 263h1M217 259h1M273 238h1M182 282h1M234 259h1M248 256h1M250 256h1M188 275h1M257 246h1M198 276h1M185 275h1M258 256h1M260 253h1M267 241h1M265 247h1M259 253h1M209 259h1M200 266h1M257 248h1M255 255h1M246 258h1M164 295h1M265 249h1M208 261h1M285 225h1M268 241h1M259 248h1M193 274h1M242 261h1M252 252h1M244 259h1M197 268h1M187 279h1M196 266h1M263 246h1M247 256h1M203 261h1M273 231h1M249 256h1M243 256h1M239 257h1M192 273h1M272 237h1M233 258h1M190 275h1M269 244h1M238 259h1M257 252h1M223 259h1M184 276h1M204 267h1M207 259h1M258 249h1M264 251h1M179 287h1M250 254h1M171 295h1M237 256h1M276 237h1M212 259h1M260 252h1M188 275h1M211 259h1M232 261h1M257 247h1M247 256h1M274 244h1M244 261h1M203 266h1M255 259h1M207 262h1M174 284h1M209 262h1M253 255h1M232 260h1M243 262h1M252 252h1M242 259h1M216 252h1M197 264h1M281 226h1M203 261h1M208 265h1M238 263h1M182 273h1M194 271h1M262 245h1M252 258h1M197 265h1M253 252h1M210 257h1M222 262h1M219 262h1M235 255h1M214 254h1M215 261h1M268 248h1M198 263h1M192 266h1M160 307h1M229 258h1M231 257h1M200 265h1M161 300h1M220 261h1M285 227h1M243 257h1M240 250h1M200 270h1M213 255h1M256 250h1M231 255h1M230 261h1M207 258h1M287 223h1M272 234h1M287 226h1M232 258h1M232 260h1M263 249h1M218 258h1M263 246h1M211 262h1M188 282h1M197 262h1M281 221h1M222 256h1M295 212h1M245 253h1M289 210h1M175 290h1M229 259h1M232 256h1M272 234h1M201 266h1M290 220h1M211 258h1M271 237h1M221 265h1M257 248h1M207 267h1M249 255h1M263 250h1M231 259h1M202 261h1M242 259h1M235 261h1M253 259h1M234 260h1M220 263h1M246 259h1M207 263h1M189 270h1M201 262h1M286 214h1M215 261h1M279 233h1M172 286h1M196 258h1M234 263h1M251 251h1M171 298h1M268 240h1M234 259h1M289 219h1M235 258h1M232 263h1M241 261h1M198 268h1M234 257h1M258 248h1M219 260h1M267 247h1M232 260h1M264 245h1M199 264h1M216 261h1M194 266h1M217 255h1M243 260h1M261 243h1M215 266h1M244 259h1M205 259h1M204 264h1M251 253h1M222 255h1M260 253h1M284 228h1M281 232h1M206 257h1M278 235h1M252 259h1M238 263h1M248 256h1M240 257h1M264 245h1M253 254h1M220 260h1M163 295h1M294 213h1M185 276h1M231 258h1M260 246h1M208 262h1M188 269h1M272 236h1M201 267h1M195 262h1M260 246h1M287 223h1M260 249h1M230 262h1M238 259h1M273 237h1M170 296h1M238 259h1M194 269h1M203 264h1M242 260h1M213 259h1M220 257h1M254 253h1M181 287h1M216 260h1M182 281h1M276 231h1M214 256h1M189 274h1M265 247h1M238 260h1M219 262h1M215 256h1M219 258h1M176 287h1M252 249h1M233 256h1M261 249h1M187 279h1M221 261h1M220 253h1M217 264h1M194 273h1M235 260h1M207 258h1M281 232h1M208 265h1M259 247h1M233 262h1M267 243h1M201 264h1M183 274h1M175 286h1M186 279h1M231 256h1M184 276h1M254 255h1M269 237h1M266 242h1M251 254h1M203 260h1M271 241h1M194 269h1M176 280h1M245 257h1M216 259h1M193 271h1M287 217h1M223 261h1M264 248h1M203 262h1M243 256h1M170 286h1M155 304h1M202 264h1M241 261h1M269 244h1M171 295h1M273 242h1M277 238h1M222 257h1M231 261h1M221 265h1M209 262h1M265 247h1M241 256h1M206 259h1M193 264h1M222 260h1M250 255h1M196 263h1M236 260h1M249 258h1M202 263h1M189 263h1M202 265h1M292 216h1M212 262h1M246 254h1M183 279h1M181 286h1M239 259h1M211 256h1M197 270h1M205 265h1M264 246h1M230 257h1M256 258h1M191 280h1M243 260h1M233 263h1M232 253h1M199 265h1M196 272h1M194 269h1M231 259h1M254 252h1M175 289h1M249 261h1M213 257h1M257 246h1M236 261h1M222 258h1M200 266h1M290 222h1M183 281h1M186 279h1M206 268h1M216 262h1M207 256h1M211 262h1M192 268h1M203 266h1M250 258h1M247 253h1M257 256h1M220 258h1M216 265h1M203 268h1M161 303h1M179 282h1M210 259h1M241 260h1M275 241h1M260 252h1M219 262h1M235 259h1M224 258h1M264 248h1M274 239h1M251 261h1M257 254h1M263 249h1M234 262h1M213 261h1M200 260h1M263 241h1M212 264h1M242 257h1M204 260h1M235 258h1M219 262h1M238 255h1M245 257h1M232 259h1M238 260h1M205 263h1M202 264h1M206 268h1M192 273h1M238 256h1M194 267h1M298 208h1M216 264h1M247 256h1M235 258h1M155 313h1M195 271h1M182 274h1M259 249h1M276 235h1M204 261h1M264 248h1M232 258h1M216 259h1M173 283h1M271 240h1M241 261h1M237 260h1M221 259h1M243 257h1M221 262h1M247 258h1M261 251h1M245 257h1M211 266h1M238 257h1M271 240h1M223 259h1M261 245h1M247 254h1M265 243h1M199 264h1M183 275h1M177 275h1M268 241h1M182 276h1M232 256h1M204 263h1M275 239h1M200 269h1M278 230h1M261 252h1M220 262h1M176 291h1M283 226h1M191 271h1M200 265h1M251 254h1M248 257h1M287 225h1M220 258h1M233 257h1M200 271h1M237 263h1M161 303h1M193 267h1M220 258h1M194 267h1M170 287h1M214 262h1M235 258h1M240 260h1M267 237h1M259 254h1M184 278h1M239 262h1M245 260h1M233 258h1M178 284h1M185 276h1M283 226h1M218 260h1M257 250h1M210 260h1M200 264h1M287 233h1M266 244h1M239 260h1M210 258h1M233 257h1M181 284h1M195 271h1M263 247h1M216 257h1M268 247h1M243 255h1M162 304h1M216 262h1M191 276h1M259 246h1M241 260h1M252 258h1M196 269h1M287 221h1M279 237h1M173 286h1M197 267h1M287 223h1M234 261h1M204 263h1M248 254h1M240 254h1M179 278h1M252 254h1M233 259h1M184 274h1M216 258h1M238 255h1M253 251h1M245 256h1M208 262h1M165 295h1M199 264h1M261 250h1M211 260h1M195 264h1M264 243h1M187 275h1M192 267h1M275 233h1M193 266h1M238 260h1M248 254h1M259 243h1M279 234h1M223 260h1M254 258h1M165 299h1M182 275h1M254 253h1M250 257h1M258 248h1M231 263h1M222 264h1M233 256h1M278 235h1M235 259h1M236 260h1M200 260h1M211 256h1M179 282h1M179 282h1M245 255h1M252 255h1M254 253h1M219 262h1M241 262h1M231 260h1M266 245h1M277 232h1M195 269h1M265 246h1M230 259h1M259 249h1M197 264h1M255 252h1M245 260h1M220 257h1M253 255h1M187 274h1M160 310h1M274 235h1M188 278h1M253 253h1M241 255h1M258 254h1M252 252h1M274 239h1M232 260h1M257 247h1M224 258h1M223 257h1M187 270h1M278 234h1M245 259h1M217 261h1M194 262h1M179 274h1M204 267h1M274 238h1M206 262h1M198 265h1M207 259h1M232 259h1M197 271h1M177 281h1M179 280h1M245 262h1M243 257h1M238 258h1M247 254h1M205 264h1M195 274h1M186 274h1M167 297h1M210 262h1M253 255h1M233 258h1M256 247h1M245 252h1M201 258h1M190 274h1M206 258h1M281 222h1M236 262h1M222 264h1M231 257h1M181 274h1M189 276h1M199 265h1M263 245h1M248 257h1M237 260h1M160 309h1M233 261h1M222 258h1M213 261h1M203 264h1M200 270h1M214 259h1M247 257h1M211 259h1M232 260h1M229 259h1M219 256h1M247 258h1M204 267h1M231 261h1M202 261h1M208 257h1M187 267h1M256 252h1M243 254h1M184 281h1M215 261h1M217 254h1M233 263h1M291 219h1M232 259h1M281 232h1M184 276h1M253 251h1M209 260h1M257 253h1M296 205h1M239 261h1M215 261h1M209 265h1M246 261h1M203 264h1M160 300h1M234 260h1M198 274h1M236 258h1M195 267h1M239 258h1M202 274h1M179 274h1M169 295h1M210 260h1M224 256h1M213 264h1M236 257h1M246 254h1M239 256h1M245 258h1M221 265h1M237 259h1M210 257h1M211 260h1M187 275h1M217 260h1M219 261h1M244 258h1M272 237h1M159 307h1M236 260h1M262 241h1M237 258h1M213 263h1M201 260h1M284 223h1M264 242h1M247 255h1M288 220h1M265 250h1M169 287h1M263 246h1M203 265h1M206 265h1M254 249h1M237 253h1M259 252h1M208 258h1M235 257h1M232 261h1M247 257h1M212 259h1M173 294h1M234 259h1M265 248h1M236 259h1M210 259h1M282 223h1M238 261h1M203 268h1M263 246h1M223 260h1M241 255h1M159 304h1M174 293h1M251 253h1M250 262h1M267 246h1M215 260h1M211 254h1M175 290h1M265 241h1M186 277h1M278 228h1M273 249h1M237 260h1M238 259h1M184 274h1M208 266h1M256 252h1M237 261h1M213 257h1M220 258h1M222 262h1M248 258h1M197 266h1M234 258h1M222 258h1M269 241h1M214 264h1M250 253h1M238 259h1M230 260h1M231 256h1M201 267h1M236 255h1M266 241h1M209 262h1M237 259h1M254 253h1M249 262h1M238 260h1M232 260h1M265 245h1M248 250h1M231 259h1M241 261h1M208 262h1M217 262h1M235 261h1M213 259h1M242 259h1M211 261h1M249 254h1M273 232h1M268 246h1M214 262h1M272 242h1M232 261h1M248 249h1M275 238h1M219 261h1M242 254h1M197 269h1M222 260h1M260 248h1M208 262h1M192 271h1M179 283h1M237 257h1M213 259h1M238 257h1M241 259h1M244 263h1M275 235h1M211 259h1M229 259h1M216 261h1M252 256h1M204 264h1M259 247h1M238 256h1M220 261h1M162 293h1M192 274h1M216 261h1M258 251h1M273 237h1M206 264h1M154 317h1M200 259h1M188 274h1M171 281h1M203 263h1M213 258h1M242 257h1M248 258h1M279 231h1M173 297h1M192 270h1M256 255h1M192 273h1M248 258h1M259 246h1M262 244h1M180 275h1M207 263h1M271 240h1M204 263h1M260 247h1M193 271h1M179 280h1M240 258h1M271 237h1M213 256h1M210 267h1M257 253h1M163 292h1M218 259h1M170 289h1M192 266h1M242 261h1M262 255h1M195 266h1M234 265h1M251 250h1M279 244h1M214 262h1M170 291h1M241 259h1M255 257h1M209 261h1M235 258h1M266 242h1M238 260h1M208 266h1M183 279h1M257 249h1M194 270h1M172 291h1M218 260h1M235 261h1M245 260h1M213 264h1M161 308h1M192 265h1M216 258h1M189 276h1M200 264h1M199 264h1M231 257h1M260 249h1M244 260h1M202 271h1M238 260h1M289 217h1M156 308h1M246 259h1M243 257h1M253 255h1M173 289h1M280 229h1M254 258h1M182 280h1M274 240h1M258 245h1M264 244h1M220 262h1M164 297h1M253 252h1M253 248h1M287 220h1M234 260h1M198 265h1M289 217h1M216 262h1M195 259h1M283 226h1M243 259h1M177 283h1M200 260h1M220 260h1M255 254h1M181 282h1M194 266h1M220 262h1M198 268h1M258 252h1M260 255h1M213 261h1M206 261h1M205 255h1M216 262h1M239 260h1M234 258h1M213 258h1M244 258h1M258 252h1M200 268h1M247 261h1M232 255h1M183 279h1M186 282h1M188 270h1M240 262h1M184 277h1M266 247h1M196 266h1M193 272h1M208 259h1M220 264h1M268 242h1M211 257h1M257 248h1M211 254h1M199 261h1M172 291h1M237 259h1M223 258h1M257 246h1M275 238h1M243 256h1M230 260h1M240 261h1M188 276h1M287 222h1M187 277h1M199 270h1M210 259h1M216 258h1M205 260h1M167 296h1M187 275h1M172 290h1M217 252h1M206 260h1M278 232h1M253 250h1M235 261h1M276 231h1M250 259h1M255 258h1M199 268h1M271 238h1M197 261h1M204 259h1M218 260h1M200 264h1M233 260h1M173 288h1M209 259h1M256 256h1M217 259h1M211 262h1M223 257h1M187 273h1M190 272h1M217 262h1M240 261h1M237 259h1M221 260h1M237 259h1M240 260h1M247 259h1M204 265h1M233 260h1M269 245h1M231 260h1M205 260h1M280 232h1M249 257h1M185 278h1M283 230h1M264 243h1M209 262h1M230 261h1M241 257h1M221 259h1M250 254h1M215 262h1M249 254h1M272 242h1M264 248h1M202 266h1M217 262h1M273 235h1M201 266h1M295 203h1M176 290h1M213 265h1M194 263h1M282 218h1M261 253h1M213 259h1M253 248h1M196 268h1M213 257h1M284 223h1M180 286h1M161 295h1M216 261h1M194 269h1M266 241h1M215 258h1M181 277h1M286 221h1M250 258h1M237 260h1M202 262h1M265 245h1M161 310h1M211 259h1M207 260h1M246 256h1M214 257h1M275 237h1M242 254h1M276 232h1M250 255h1M217 259h1M214 261h1M230 257h1M260 251h1M231 258h1M182 278h1M246 259h1M181 281h1M208 269h1M208 260h1M239 261h1M247 259h1M244 252h1M211 263h1M279 232h1M173 291h1M213 257h1M200 254h1M233 259h1M198 272h1M236 259h1M231 259h1M231 256h1M234 255h1M211 261h1M185 275h1M209 267h1M170 294h1M253 250h1M268 248h1M201 267h1M240 262h1M242 261h1M244 257h1M205 263h1M243 256h1M210 251h1M185 279h1M288 225h1M241 255h1M220 256h1M230 264h1M200 271h1M244 257h1M293 210h1M233 260h1M175 286h1M268 240h1M194 266h1M252 250h1M192 272h1M234 257h1M253 254h1M167 286h1M163 303h1M248 257h1M193 272h1M206 261h1M249 257h1M203 265h1M213 265h1M230 260h1M256 252h1M210 264h1M197 274h1" stroke="#ffffff" stroke-opacity="0.85" stroke-width="1.2" fill="none"/>
</g>
<path d="M50 259.9H402.7" stroke="#02022a" stroke-width="1" stroke-opacity="0.8"/>
<path d="M226.3 238V281" stroke="#7a7ac0" stroke-width="0.8" stroke-opacity="0.28"/>
<path d="M96.7 415.5L100 408.5L103.3 401.5L106.5 394.5L109.8 387.6L113 381.7L116.3 375.9L119.6 370.1L122.8 364.3L126.1 358.5L129.4 353.1L132.6 347.6L135.9 342.2L139.1 336.7L142.4 331.5L145.7 326.7L148.9 321.9L152.2 317.2L155.5 312.8L158.7 308.4L162 304L165.2 299.9L168.5 295.9L171.8 291.9L175 288.3L178.3 285L181.6 281.8L184.8 278.5L188.1 275.2L191.3 272.5L194.6 270.1L197.9 267.8L201.1 265.4L204.4 263.1L207.7 262.1L210.9 261.2L214.2 260.4L217.4 259.6L220.7 259.4L224 259.3L227.2 259.2L230.5 259L233.8 258.9L237 258.4L240.3 257.5L243.5 256.7L246.8 255.9L250.1 254L253.3 251.7L256.6 249.3L259.9 247L263.1 244.7L266.4 241.4L269.6 238.1L272.9 234.9L276.2 231.6L279.4 228.3L282.7 224.4L286 220.3L289.2 216.3L292.5 212L295.7 207.6L299 203.3L302.3 198.8L305.5 193.9L308.8 189.1L312.1 184.2L315.3 178.7L318.6 173.3L321.8 167.8L325.1 162.4L328.4 156.8L331.6 151L334.9 145.2L338.2 139.3L341.4 133.5L344.7 127.1L347.9 120.1L351.2 113.1L354.5 106.1L357.7 99.1" fill="none" stroke="#f2001c" stroke-width="2.6" stroke-dasharray="11.4 7.88"/>
</g>
<rect x="49.85" y="98.5" width="353.1" height="321.45" fill="none" stroke="#000" stroke-width="1.5"/>
<path d="M94.1 420v-5M94.1 98.5v5M138.2 420v-5M138.2 98.5v5M182.3 420v-5M182.3 98.5v5M226.3 420v-5M226.3 98.5v5M270.4 420v-5M270.4 98.5v5M314.5 420v-5M314.5 98.5v5M358.6 420v-5M358.6 98.5v5M50 397h5M402.7 397h-5M50 351.1h5M402.7 351.1h-5M50 305.1h5M402.7 305.1h-5M50 259.2h5M402.7 259.2h-5M50 213.3h5M402.7 213.3h-5M50 167.3h5M402.7 167.3h-5M50 121.4h5M402.7 121.4h-5" stroke="#000" stroke-width="0.9" fill="none"/>
<g font-family="'DejaVu Sans','Liberation Sans',sans-serif" font-size="12" fill="#000">
<text x="50" y="436.4" text-anchor="middle">−2.0</text>
<text x="94.1" y="436.4" text-anchor="middle">−1.5</text>
<text x="138.2" y="436.4" text-anchor="middle">−1.0</text>
<text x="182.3" y="436.4" text-anchor="middle">−0.5</text>
<text x="226.3" y="436.4" text-anchor="middle">0.0</text>
<text x="270.4" y="436.4" text-anchor="middle">0.5</text>
<text x="314.5" y="436.4" text-anchor="middle">1.0</text>
<text x="358.6" y="436.4" text-anchor="middle">1.5</text>
<text x="402.7" y="436.4" text-anchor="middle">2.0</text>
<text x="42.6" y="401.4" text-anchor="end">−0.6</text>
<text x="42.6" y="355.5" text-anchor="end">−0.4</text>
<text x="42.6" y="309.5" text-anchor="end">−0.2</text>
<text x="42.6" y="263.6" text-anchor="end">0.0</text>
<text x="42.6" y="217.7" text-anchor="end">0.2</text>
<text x="42.6" y="171.7" text-anchor="end">0.4</text>
<text x="42.6" y="125.8" text-anchor="end">0.6</text>
</g>
<text x="226.3" y="451.4" text-anchor="middle" font-family="'DejaVu Sans','Liberation Sans',sans-serif" font-size="13.4" fill="#000">k δ</text>
<text transform="translate(12.6 258.6) rotate(-90)" text-anchor="middle" font-family="'DejaVu Sans','Liberation Sans',sans-serif" font-size="13.6" fill="#000"><tspan font-family="'Liberation Serif','DejaVu Serif',serif" font-size="13.5">ω</tspan> δ / u<tspan font-size="9.6" dy="2.8">edge</tspan></text>
<path d="M92.8 85.8h10.8M113.7 85.8h10.8" stroke="#f2001c" stroke-width="2.4"/>
<text x="134.8" y="90" font-family="'Liberation Sans',Arial,Helvetica,sans-serif" font-size="14.5" fill="#222">Prediction (no fitting parameters)</text>
<text x="11.3" y="96.2" font-family="'Liberation Sans',Arial,Helvetica,sans-serif" font-size="16.5" font-weight="bold" fill="#000">b</text>
<g fill-opacity="0.38"><g fill="#56c566"><circle cx="66.4" cy="559" r="2.7"/><circle cx="66.2" cy="559.2" r="2.7"/><circle cx="67.9" cy="558" r="2.7"/><circle cx="71.6" cy="552.1" r="2.7"/><circle cx="74.2" cy="550.8" r="2.7"/><circle cx="72.7" cy="552.7" r="2.7"/><circle cx="76.3" cy="549.2" r="2.7"/><circle cx="79.7" cy="547.2" r="2.7"/><circle cx="78" cy="547.7" r="2.7"/><circle cx="81.5" cy="547.2" r="2.7"/><circle cx="80.5" cy="547.9" r="2.7"/><circle cx="84.3" cy="544.4" r="2.7"/><circle cx="85.1" cy="543.3" r="2.7"/><circle cx="86.5" cy="542.2" r="2.7"/><circle cx="89.6" cy="541.9" r="2.7"/><circle cx="92.7" cy="540" r="2.7"/><circle cx="92.2" cy="540.2" r="2.7"/><circle cx="94.8" cy="538.5" r="2.7"/><circle cx="95.9" cy="538" r="2.7"/><circle cx="97.8" cy="537.7" r="2.7"/><circle cx="98" cy="537.2" r="2.7"/><circle cx="102.7" cy="537.1" r="2.7"/><circle cx="103.5" cy="536.8" r="2.7"/><circle cx="104.7" cy="537.5" r="2.7"/><circle cx="105.5" cy="536.6" r="2.7"/><circle cx="108.8" cy="536.8" r="2.7"/><circle cx="111.1" cy="536.9" r="2.7"/><circle cx="111.5" cy="536" r="2.7"/><circle cx="113.5" cy="536.1" r="2.7"/><circle cx="113.7" cy="534.6" r="2.7"/><circle cx="117.7" cy="534.2" r="2.7"/><circle cx="118.5" cy="532.3" r="2.7"/><circle cx="120.6" cy="532.7" r="2.7"/><circle cx="123.1" cy="530" r="2.7"/><circle cx="125.1" cy="530.2" r="2.7"/><circle cx="126.4" cy="528.7" r="2.7"/><circle cx="127.1" cy="526.9" r="2.7"/><circle cx="128.6" cy="526.4" r="2.7"/><circle cx="130.7" cy="524.4" r="2.7"/><circle cx="133.3" cy="525.1" r="2.7"/><circle cx="134.3" cy="521.6" r="2.7"/><circle cx="135.5" cy="521" r="2.7"/><circle cx="136.5" cy="520" r="2.7"/><circle cx="139.9" cy="517.1" r="2.7"/><circle cx="140.7" cy="516" r="2.7"/><circle cx="142.7" cy="514.4" r="2.7"/></g><g fill="#68cb5b"><circle cx="64.5" cy="561.2" r="2.7"/><circle cx="66" cy="559.1" r="2.7"/><circle cx="67.5" cy="557" r="2.7"/><circle cx="70" cy="553" r="2.7"/><circle cx="71.6" cy="551.7" r="2.7"/><circle cx="72.6" cy="551.2" r="2.7"/><circle cx="75.2" cy="550" r="2.7"/><circle cx="75.4" cy="549.8" r="2.7"/><circle cx="77.9" cy="547.5" r="2.7"/><circle cx="80.3" cy="545.7" r="2.7"/><circle cx="82.1" cy="545" r="2.7"/><circle cx="84.7" cy="544.5" r="2.7"/><circle cx="85.8" cy="541.8" r="2.7"/><circle cx="86.9" cy="542.6" r="2.7"/><circle cx="87.4" cy="542.7" r="2.7"/><circle cx="90.8" cy="541.9" r="2.7"/><circle cx="93.2" cy="539.2" r="2.7"/><circle cx="94.5" cy="539" r="2.7"/><circle cx="94.4" cy="538.2" r="2.7"/><circle cx="97" cy="539.2" r="2.7"/><circle cx="100.5" cy="537.2" r="2.7"/><circle cx="103.4" cy="537.1" r="2.7"/><circle cx="103" cy="536.7" r="2.7"/><circle cx="106.1" cy="537.1" r="2.7"/><circle cx="107.6" cy="538" r="2.7"/><circle cx="108.5" cy="535.6" r="2.7"/><circle cx="110.1" cy="536.1" r="2.7"/><circle cx="114.1" cy="534.9" r="2.7"/><circle cx="114.5" cy="535.8" r="2.7"/><circle cx="115.2" cy="533.8" r="2.7"/><circle cx="117.8" cy="535.2" r="2.7"/><circle cx="119.9" cy="532.5" r="2.7"/><circle cx="122" cy="532.6" r="2.7"/><circle cx="124.1" cy="530.2" r="2.7"/><circle cx="125.3" cy="529.9" r="2.7"/><circle cx="125.7" cy="530.3" r="2.7"/><circle cx="127.9" cy="527.9" r="2.7"/><circle cx="129.6" cy="526.1" r="2.7"/><circle cx="130.7" cy="525.6" r="2.7"/><circle cx="133.3" cy="523.4" r="2.7"/><circle cx="134.8" cy="522.1" r="2.7"/><circle cx="137.4" cy="519.7" r="2.7"/><circle cx="140" cy="518.2" r="2.7"/><circle cx="141.2" cy="517.8" r="2.7"/><circle cx="143.2" cy="516.9" r="2.7"/><circle cx="144.8" cy="512.8" r="2.7"/></g><g fill="#95d740"><circle cx="64" cy="557.1" r="2.7"/><circle cx="66.4" cy="552" r="2.7"/><circle cx="67.7" cy="553.9" r="2.7"/><circle cx="70.7" cy="550.6" r="2.7"/><circle cx="73.9" cy="548.4" r="2.7"/><circle cx="71.9" cy="549.8" r="2.7"/><circle cx="72.9" cy="549" r="2.7"/><circle cx="78.2" cy="545.8" r="2.7"/><circle cx="78.2" cy="545.8" r="2.7"/><circle cx="80.8" cy="544.8" r="2.7"/><circle cx="82.6" cy="541.6" r="2.7"/><circle cx="84.2" cy="542.8" r="2.7"/><circle cx="85.1" cy="539.9" r="2.7"/><circle cx="87.1" cy="541.3" r="2.7"/><circle cx="89.2" cy="540.9" r="2.7"/><circle cx="91.6" cy="539.1" r="2.7"/><circle cx="92.4" cy="539.6" r="2.7"/><circle cx="94.3" cy="539.9" r="2.7"/><circle cx="95.8" cy="538.9" r="2.7"/><circle cx="98.6" cy="538.1" r="2.7"/><circle cx="99.6" cy="535.4" r="2.7"/><circle cx="100.3" cy="538.5" r="2.7"/><circle cx="103.9" cy="534.8" r="2.7"/><circle cx="106.3" cy="536.3" r="2.7"/><circle cx="108.1" cy="536.5" r="2.7"/><circle cx="109.7" cy="536.2" r="2.7"/><circle cx="109.3" cy="536.6" r="2.7"/><circle cx="112.4" cy="536.5" r="2.7"/><circle cx="114.2" cy="535.1" r="2.7"/><circle cx="115.5" cy="534.2" r="2.7"/><circle cx="117.5" cy="535.1" r="2.7"/><circle cx="118.5" cy="534.2" r="2.7"/><circle cx="120.9" cy="533.1" r="2.7"/><circle cx="122.6" cy="533.3" r="2.7"/><circle cx="125.8" cy="531.3" r="2.7"/><circle cx="123.5" cy="531.8" r="2.7"/><circle cx="127.2" cy="529" r="2.7"/><circle cx="131.2" cy="529.9" r="2.7"/><circle cx="131.1" cy="526.8" r="2.7"/><circle cx="132.9" cy="527.2" r="2.7"/><circle cx="135.4" cy="524.9" r="2.7"/><circle cx="136.8" cy="524.6" r="2.7"/><circle cx="139.1" cy="521.3" r="2.7"/><circle cx="139.4" cy="522.3" r="2.7"/><circle cx="142.5" cy="520.8" r="2.7"/><circle cx="143.7" cy="517.9" r="2.7"/></g><g fill="#41bd72"><circle cx="66.7" cy="561.3" r="2.7"/><circle cx="68.3" cy="559.4" r="2.7"/><circle cx="68.9" cy="558.6" r="2.7"/><circle cx="71.7" cy="554.9" r="2.7"/><circle cx="71.7" cy="556" r="2.7"/><circle cx="74.8" cy="552.9" r="2.7"/><circle cx="76.9" cy="550.6" r="2.7"/><circle cx="77.4" cy="549.3" r="2.7"/><circle cx="78.8" cy="549.4" r="2.7"/><circle cx="80.5" cy="547" r="2.7"/><circle cx="83.5" cy="543.7" r="2.7"/><circle cx="84.4" cy="544.4" r="2.7"/><circle cx="86.3" cy="543" r="2.7"/><circle cx="87.5" cy="541.5" r="2.7"/><circle cx="89.7" cy="540.9" r="2.7"/><circle cx="92" cy="539.7" r="2.7"/><circle cx="92.6" cy="541.6" r="2.7"/><circle cx="95.2" cy="538.7" r="2.7"/><circle cx="96.3" cy="536.9" r="2.7"/><circle cx="97.4" cy="538.9" r="2.7"/><circle cx="99.9" cy="538.8" r="2.7"/><circle cx="102" cy="535.2" r="2.7"/><circle cx="103.8" cy="535.4" r="2.7"/><circle cx="106.8" cy="535.7" r="2.7"/><circle cx="106.1" cy="535.9" r="2.7"/><circle cx="107.5" cy="537.9" r="2.7"/><circle cx="109.3" cy="537.3" r="2.7"/><circle cx="111.6" cy="536.4" r="2.7"/><circle cx="113.1" cy="536" r="2.7"/><circle cx="115" cy="534.8" r="2.7"/><circle cx="116.7" cy="533.1" r="2.7"/><circle cx="120.5" cy="532.6" r="2.7"/><circle cx="120.3" cy="530.8" r="2.7"/><circle cx="122.7" cy="530.4" r="2.7"/><circle cx="123.6" cy="528.4" r="2.7"/><circle cx="125.6" cy="526.5" r="2.7"/><circle cx="127.1" cy="527.9" r="2.7"/><circle cx="129.3" cy="525.7" r="2.7"/><circle cx="130.9" cy="523.7" r="2.7"/><circle cx="132.4" cy="521.4" r="2.7"/><circle cx="135.3" cy="519.6" r="2.7"/><circle cx="135.9" cy="518.1" r="2.7"/><circle cx="138.6" cy="516.5" r="2.7"/><circle cx="138.7" cy="517.1" r="2.7"/><circle cx="140.6" cy="513.2" r="2.7"/><circle cx="142.5" cy="511.9" r="2.7"/></g><g fill="#7ad151"><circle cx="63.7" cy="558" r="2.7"/><circle cx="64.2" cy="556.2" r="2.7"/><circle cx="68.8" cy="553.5" r="2.7"/><circle cx="68.9" cy="552.7" r="2.7"/><circle cx="70.3" cy="551.8" r="2.7"/><circle cx="73.3" cy="550.6" r="2.7"/><circle cx="74.3" cy="550.1" r="2.7"/><circle cx="76.3" cy="548.4" r="2.7"/><circle cx="77.6" cy="547.4" r="2.7"/><circle cx="78.9" cy="546.3" r="2.7"/><circle cx="81.8" cy="543.9" r="2.7"/><circle cx="84" cy="543.9" r="2.7"/><circle cx="85.1" cy="542.9" r="2.7"/><circle cx="89.6" cy="539.8" r="2.7"/><circle cx="90.7" cy="540" r="2.7"/><circle cx="91.9" cy="539.4" r="2.7"/><circle cx="92.8" cy="538.9" r="2.7"/><circle cx="94.3" cy="538" r="2.7"/><circle cx="94.8" cy="538.2" r="2.7"/><circle cx="99.5" cy="538" r="2.7"/><circle cx="99.8" cy="539" r="2.7"/><circle cx="102.6" cy="537" r="2.7"/><circle cx="102.9" cy="536.3" r="2.7"/><circle cx="105.6" cy="537.2" r="2.7"/><circle cx="106.7" cy="537" r="2.7"/><circle cx="108.8" cy="536.9" r="2.7"/><circle cx="110.7" cy="536.1" r="2.7"/><circle cx="111.6" cy="534.8" r="2.7"/><circle cx="113.7" cy="536.7" r="2.7"/><circle cx="116.1" cy="535.6" r="2.7"/><circle cx="118.4" cy="534.5" r="2.7"/><circle cx="118.9" cy="534.1" r="2.7"/><circle cx="120.4" cy="532.7" r="2.7"/><circle cx="124.7" cy="530.8" r="2.7"/><circle cx="124.8" cy="530.6" r="2.7"/><circle cx="128.1" cy="529.7" r="2.7"/><circle cx="128.4" cy="528.3" r="2.7"/><circle cx="129.7" cy="527.1" r="2.7"/><circle cx="132.8" cy="524.5" r="2.7"/><circle cx="133.5" cy="524.6" r="2.7"/><circle cx="136.5" cy="523.2" r="2.7"/><circle cx="138" cy="519.5" r="2.7"/><circle cx="138.1" cy="521.2" r="2.7"/><circle cx="142.7" cy="516.6" r="2.7"/><circle cx="143.1" cy="517.5" r="2.7"/><circle cx="145.5" cy="513.1" r="2.7"/></g><g fill="#c2e026"><circle cx="64.7" cy="554.7" r="2.7"/><circle cx="65.4" cy="552.5" r="2.7"/><circle cx="67.6" cy="551.4" r="2.7"/><circle cx="69.6" cy="549.6" r="2.7"/><circle cx="71.5" cy="549.1" r="2.7"/><circle cx="74.2" cy="545.7" r="2.7"/><circle cx="75.1" cy="546.7" r="2.7"/><circle cx="76.5" cy="545.6" r="2.7"/><circle cx="79.4" cy="544.4" r="2.7"/><circle cx="81.4" cy="542" r="2.7"/><circle cx="80.4" cy="542.4" r="2.7"/><circle cx="84.4" cy="541.7" r="2.7"/><circle cx="86.3" cy="540.7" r="2.7"/><circle cx="85.4" cy="543.1" r="2.7"/><circle cx="88.4" cy="538.9" r="2.7"/><circle cx="91.2" cy="540.2" r="2.7"/><circle cx="91.7" cy="538.7" r="2.7"/><circle cx="94.7" cy="538.6" r="2.7"/><circle cx="96.8" cy="538.3" r="2.7"/><circle cx="97.5" cy="539.3" r="2.7"/><circle cx="99.1" cy="538.3" r="2.7"/><circle cx="100.9" cy="539" r="2.7"/><circle cx="102.2" cy="538.6" r="2.7"/><circle cx="104.9" cy="536.9" r="2.7"/><circle cx="106" cy="538" r="2.7"/><circle cx="107.3" cy="536.8" r="2.7"/><circle cx="109.8" cy="536.3" r="2.7"/><circle cx="112.4" cy="535.4" r="2.7"/><circle cx="114" cy="537.4" r="2.7"/><circle cx="117.2" cy="535" r="2.7"/><circle cx="118.2" cy="535.9" r="2.7"/><circle cx="120.6" cy="533.3" r="2.7"/><circle cx="119.4" cy="534.5" r="2.7"/><circle cx="122" cy="533.7" r="2.7"/><circle cx="125.1" cy="533.3" r="2.7"/><circle cx="128" cy="529.3" r="2.7"/><circle cx="127.9" cy="530.9" r="2.7"/><circle cx="130.5" cy="528.5" r="2.7"/><circle cx="132" cy="527" r="2.7"/><circle cx="132.9" cy="529" r="2.7"/><circle cx="135.4" cy="526.2" r="2.7"/><circle cx="135.9" cy="526.8" r="2.7"/><circle cx="138.5" cy="526.2" r="2.7"/><circle cx="140.9" cy="522.1" r="2.7"/><circle cx="145.1" cy="518.7" r="2.7"/><circle cx="142.5" cy="522.3" r="2.7"/></g><g fill="#48c06e"><circle cx="64.8" cy="561.9" r="2.7"/><circle cx="66.4" cy="560.9" r="2.7"/><circle cx="67.5" cy="559.2" r="2.7"/><circle cx="70.8" cy="555.2" r="2.7"/><circle cx="71.8" cy="554.9" r="2.7"/><circle cx="72.7" cy="552.7" r="2.7"/><circle cx="76" cy="550.1" r="2.7"/><circle cx="78" cy="548.4" r="2.7"/><circle cx="79.8" cy="546.5" r="2.7"/><circle cx="80.7" cy="547.3" r="2.7"/><circle cx="83.6" cy="544.7" r="2.7"/><circle cx="84.5" cy="542.5" r="2.7"/><circle cx="86.4" cy="543.6" r="2.7"/><circle cx="87.1" cy="542" r="2.7"/><circle cx="89.7" cy="540.3" r="2.7"/><circle cx="90.8" cy="540.6" r="2.7"/><circle cx="92" cy="540.1" r="2.7"/><circle cx="93.8" cy="538.3" r="2.7"/><circle cx="97.1" cy="536.8" r="2.7"/><circle cx="97.8" cy="537.5" r="2.7"/><circle cx="99.3" cy="537.9" r="2.7"/><circle cx="101.5" cy="538.7" r="2.7"/><circle cx="103.5" cy="537.2" r="2.7"/><circle cx="104.4" cy="538.2" r="2.7"/><circle cx="107.7" cy="536.7" r="2.7"/><circle cx="108.3" cy="535.2" r="2.7"/><circle cx="110.8" cy="536.5" r="2.7"/><circle cx="111.8" cy="534.8" r="2.7"/><circle cx="113.6" cy="534.8" r="2.7"/><circle cx="114.9" cy="535" r="2.7"/><circle cx="116.5" cy="535.3" r="2.7"/><circle cx="118.4" cy="532.1" r="2.7"/><circle cx="120.6" cy="532" r="2.7"/><circle cx="122.2" cy="530" r="2.7"/><circle cx="123.2" cy="528.5" r="2.7"/><circle cx="125.7" cy="527.5" r="2.7"/><circle cx="126.6" cy="527.8" r="2.7"/><circle cx="129.2" cy="525.5" r="2.7"/><circle cx="131.5" cy="523.9" r="2.7"/><circle cx="132.5" cy="523.1" r="2.7"/><circle cx="133.9" cy="521" r="2.7"/><circle cx="135.9" cy="519.3" r="2.7"/><circle cx="138" cy="516.5" r="2.7"/><circle cx="139.5" cy="517.5" r="2.7"/><circle cx="141" cy="514.9" r="2.7"/><circle cx="143.5" cy="511.4" r="2.7"/></g><g fill="#afdc2f"><circle cx="64.2" cy="554.8" r="2.7"/><circle cx="66.1" cy="553.4" r="2.7"/><circle cx="69" cy="550.8" r="2.7"/><circle cx="70.9" cy="549.1" r="2.7"/><circle cx="70.4" cy="548.8" r="2.7"/><circle cx="72.9" cy="546.9" r="2.7"/><circle cx="74.8" cy="548.4" r="2.7"/><circle cx="75.8" cy="545.7" r="2.7"/><circle cx="79.5" cy="542.9" r="2.7"/><circle cx="79.2" cy="543.7" r="2.7"/><circle cx="82.8" cy="543.2" r="2.7"/><circle cx="83.7" cy="541.2" r="2.7"/><circle cx="85.4" cy="541.4" r="2.7"/><circle cx="88.6" cy="539.7" r="2.7"/><circle cx="91.6" cy="539" r="2.7"/><circle cx="91.1" cy="538.9" r="2.7"/><circle cx="92" cy="539.4" r="2.7"/><circle cx="93.1" cy="539.3" r="2.7"/><circle cx="97.2" cy="537.6" r="2.7"/><circle cx="97.9" cy="538.3" r="2.7"/><circle cx="100.7" cy="536.8" r="2.7"/><circle cx="99.7" cy="537" r="2.7"/><circle cx="104" cy="536.5" r="2.7"/><circle cx="104.7" cy="537" r="2.7"/><circle cx="106.2" cy="536" r="2.7"/><circle cx="109.3" cy="537.2" r="2.7"/><circle cx="108.7" cy="535.2" r="2.7"/><circle cx="111.3" cy="536.5" r="2.7"/><circle cx="112.9" cy="536" r="2.7"/><circle cx="114.8" cy="535" r="2.7"/><circle cx="119" cy="536.2" r="2.7"/><circle cx="120" cy="533.1" r="2.7"/><circle cx="121.1" cy="532.5" r="2.7"/><circle cx="123.3" cy="531.7" r="2.7"/><circle cx="125" cy="531.4" r="2.7"/><circle cx="127.1" cy="533.1" r="2.7"/><circle cx="128.3" cy="530.1" r="2.7"/><circle cx="128.8" cy="530.6" r="2.7"/><circle cx="132.1" cy="527.8" r="2.7"/><circle cx="134.3" cy="526.2" r="2.7"/><circle cx="133.8" cy="526.3" r="2.7"/><circle cx="136.4" cy="524.8" r="2.7"/><circle cx="137.5" cy="524.5" r="2.7"/><circle cx="140.1" cy="522.3" r="2.7"/><circle cx="143.4" cy="519.3" r="2.7"/><circle cx="144.3" cy="519.4" r="2.7"/></g><g fill="#31678d"><circle cx="79.8" cy="582.7" r="2.7"/><circle cx="81" cy="579" r="2.7"/><circle cx="82.1" cy="575.1" r="2.7"/><circle cx="83.2" cy="571.9" r="2.7"/><circle cx="84.2" cy="569.3" r="2.7"/><circle cx="85.3" cy="564.1" r="2.7"/><circle cx="86.5" cy="560.9" r="2.7"/><circle cx="87.4" cy="561.4" r="2.7"/><circle cx="89.2" cy="556.5" r="2.7"/><circle cx="89.6" cy="555.3" r="2.7"/><circle cx="91" cy="551.7" r="2.7"/><circle cx="91.5" cy="549.7" r="2.7"/><circle cx="92.2" cy="550.1" r="2.7"/><circle cx="93.4" cy="548.2" r="2.7"/><circle cx="94.8" cy="545.2" r="2.7"/><circle cx="96.5" cy="542.4" r="2.7"/><circle cx="97.7" cy="541.1" r="2.7"/><circle cx="98.3" cy="540.8" r="2.7"/><circle cx="99.5" cy="539.5" r="2.7"/><circle cx="100.8" cy="536.5" r="2.7"/><circle cx="101.5" cy="538" r="2.7"/><circle cx="102.6" cy="537.5" r="2.7"/><circle cx="104" cy="535.4" r="2.7"/><circle cx="104.3" cy="535.5" r="2.7"/><circle cx="106.5" cy="538.1" r="2.7"/><circle cx="107" cy="537.3" r="2.7"/><circle cx="108.1" cy="533.8" r="2.7"/><circle cx="109.2" cy="533.7" r="2.7"/><circle cx="110.8" cy="533.1" r="2.7"/><circle cx="111.6" cy="532.1" r="2.7"/><circle cx="112.8" cy="529.8" r="2.7"/><circle cx="113.4" cy="530" r="2.7"/><circle cx="114.3" cy="528.6" r="2.7"/><circle cx="115.2" cy="526.1" r="2.7"/><circle cx="116.5" cy="523.7" r="2.7"/><circle cx="117.5" cy="521.6" r="2.7"/><circle cx="118.3" cy="519.4" r="2.7"/><circle cx="119.6" cy="515.9" r="2.7"/><circle cx="120.9" cy="515.6" r="2.7"/><circle cx="121.7" cy="509.9" r="2.7"/><circle cx="122.7" cy="509.5" r="2.7"/><circle cx="123.3" cy="507" r="2.7"/><circle cx="124.8" cy="503.1" r="2.7"/><circle cx="126.1" cy="498.2" r="2.7"/><circle cx="127" cy="496.6" r="2.7"/><circle cx="128.3" cy="492.3" r="2.7"/></g><g fill="#27808d"><circle cx="74.7" cy="576.7" r="2.7"/><circle cx="75.4" cy="573.2" r="2.7"/><circle cx="77.9" cy="568.8" r="2.7"/><circle cx="78.6" cy="568" r="2.7"/><circle cx="80.4" cy="563.4" r="2.7"/><circle cx="81.8" cy="560.2" r="2.7"/><circle cx="82.3" cy="560.9" r="2.7"/><circle cx="83.4" cy="558.2" r="2.7"/><circle cx="85.6" cy="553.6" r="2.7"/><circle cx="86.9" cy="551.7" r="2.7"/><circle cx="87.9" cy="551.2" r="2.7"/><circle cx="88.9" cy="547.8" r="2.7"/><circle cx="89.9" cy="546.7" r="2.7"/><circle cx="91.4" cy="545.8" r="2.7"/><circle cx="93.1" cy="544.2" r="2.7"/><circle cx="94.1" cy="543.4" r="2.7"/><circle cx="95.9" cy="541.3" r="2.7"/><circle cx="96.4" cy="539.9" r="2.7"/><circle cx="98" cy="538.1" r="2.7"/><circle cx="100.4" cy="537.1" r="2.7"/><circle cx="101.4" cy="538" r="2.7"/><circle cx="102.2" cy="538" r="2.7"/><circle cx="103.7" cy="537.4" r="2.7"/><circle cx="104.5" cy="536.7" r="2.7"/><circle cx="106.3" cy="536.9" r="2.7"/><circle cx="108" cy="535" r="2.7"/><circle cx="109.1" cy="536.4" r="2.7"/><circle cx="110.6" cy="533" r="2.7"/><circle cx="111.5" cy="535.7" r="2.7"/><circle cx="112.4" cy="533" r="2.7"/><circle cx="114.2" cy="530.1" r="2.7"/><circle cx="115.3" cy="529.7" r="2.7"/><circle cx="116.5" cy="528.4" r="2.7"/><circle cx="117.8" cy="527.1" r="2.7"/><circle cx="118.5" cy="526.5" r="2.7"/><circle cx="120.4" cy="523.5" r="2.7"/><circle cx="122.5" cy="520.1" r="2.7"/><circle cx="123.9" cy="518.2" r="2.7"/><circle cx="124.4" cy="517.5" r="2.7"/><circle cx="125.9" cy="514.5" r="2.7"/><circle cx="127.2" cy="511.4" r="2.7"/><circle cx="128.8" cy="508.6" r="2.7"/><circle cx="130.4" cy="505.2" r="2.7"/><circle cx="131" cy="504.5" r="2.7"/><circle cx="133" cy="499" r="2.7"/><circle cx="133.6" cy="498" r="2.7"/></g><g fill="#2c738e"><circle cx="77.5" cy="576.8" r="2.7"/><circle cx="79.2" cy="572.9" r="2.7"/><circle cx="79.1" cy="572.8" r="2.7"/><circle cx="80.9" cy="569.5" r="2.7"/><circle cx="82.5" cy="565.5" r="2.7"/><circle cx="82.6" cy="565.2" r="2.7"/><circle cx="84.5" cy="559.5" r="2.7"/><circle cx="85.4" cy="559.5" r="2.7"/><circle cx="86.2" cy="557.2" r="2.7"/><circle cx="88.4" cy="554" r="2.7"/><circle cx="89.1" cy="550.1" r="2.7"/><circle cx="90.4" cy="549.7" r="2.7"/><circle cx="91.8" cy="549" r="2.7"/><circle cx="93.4" cy="544.1" r="2.7"/><circle cx="94.2" cy="544.4" r="2.7"/><circle cx="95.2" cy="540.7" r="2.7"/><circle cx="95.6" cy="540.3" r="2.7"/><circle cx="97.3" cy="540.3" r="2.7"/><circle cx="98.8" cy="539" r="2.7"/><circle cx="100.4" cy="538.1" r="2.7"/><circle cx="101" cy="537.9" r="2.7"/><circle cx="102.7" cy="538.8" r="2.7"/><circle cx="103.5" cy="535.3" r="2.7"/><circle cx="104.3" cy="537.8" r="2.7"/><circle cx="106.3" cy="537.6" r="2.7"/><circle cx="107.3" cy="535.6" r="2.7"/><circle cx="108.6" cy="535.9" r="2.7"/><circle cx="109.9" cy="534.4" r="2.7"/><circle cx="110.3" cy="533.7" r="2.7"/><circle cx="111.9" cy="533" r="2.7"/><circle cx="112.7" cy="532.5" r="2.7"/><circle cx="113.8" cy="530.6" r="2.7"/><circle cx="114.9" cy="529.2" r="2.7"/><circle cx="116.8" cy="527.6" r="2.7"/><circle cx="118.8" cy="523.9" r="2.7"/><circle cx="119.8" cy="521.6" r="2.7"/><circle cx="120.2" cy="520.7" r="2.7"/><circle cx="121" cy="518.9" r="2.7"/><circle cx="123.6" cy="512.3" r="2.7"/><circle cx="123.3" cy="513.9" r="2.7"/><circle cx="124.8" cy="511.1" r="2.7"/><circle cx="126" cy="507.7" r="2.7"/><circle cx="127.2" cy="505.5" r="2.7"/><circle cx="128.5" cy="500.7" r="2.7"/><circle cx="130.3" cy="497.8" r="2.7"/><circle cx="130.8" cy="496.9" r="2.7"/></g><g fill="#21908c"><circle cx="73.3" cy="567.4" r="2.7"/><circle cx="73.4" cy="568.9" r="2.7"/><circle cx="74.7" cy="568.8" r="2.7"/><circle cx="76.8" cy="562.8" r="2.7"/><circle cx="78" cy="560.2" r="2.7"/><circle cx="79.5" cy="557.1" r="2.7"/><circle cx="81.2" cy="555.8" r="2.7"/><circle cx="82.9" cy="552.8" r="2.7"/><circle cx="84" cy="552.1" r="2.7"/><circle cx="84.4" cy="550.2" r="2.7"/><circle cx="87.9" cy="547.4" r="2.7"/><circle cx="88" cy="547.2" r="2.7"/><circle cx="88.9" cy="546.4" r="2.7"/><circle cx="90.8" cy="543.8" r="2.7"/><circle cx="92.6" cy="542.1" r="2.7"/><circle cx="93.6" cy="542.9" r="2.7"/><circle cx="94.5" cy="541" r="2.7"/><circle cx="96.1" cy="539.6" r="2.7"/><circle cx="97.8" cy="538" r="2.7"/><circle cx="98.9" cy="538" r="2.7"/><circle cx="100.7" cy="539" r="2.7"/><circle cx="101.9" cy="537.6" r="2.7"/><circle cx="103.5" cy="537.9" r="2.7"/><circle cx="105.6" cy="536.7" r="2.7"/><circle cx="105.9" cy="536.5" r="2.7"/><circle cx="107.5" cy="534.5" r="2.7"/><circle cx="109.7" cy="535.3" r="2.7"/><circle cx="110.5" cy="535.5" r="2.7"/><circle cx="112.2" cy="534.9" r="2.7"/><circle cx="113.3" cy="533.3" r="2.7"/><circle cx="114.8" cy="533.7" r="2.7"/><circle cx="115.7" cy="531.5" r="2.7"/><circle cx="116.4" cy="529.9" r="2.7"/><circle cx="117.9" cy="529.9" r="2.7"/><circle cx="119.7" cy="527.3" r="2.7"/><circle cx="121.2" cy="524.9" r="2.7"/><circle cx="123.4" cy="524.6" r="2.7"/><circle cx="124.2" cy="523.9" r="2.7"/><circle cx="124.6" cy="519.8" r="2.7"/><circle cx="127.2" cy="516.7" r="2.7"/><circle cx="128.6" cy="515.8" r="2.7"/><circle cx="129.9" cy="513.8" r="2.7"/><circle cx="132.4" cy="510.7" r="2.7"/><circle cx="132.4" cy="510.2" r="2.7"/><circle cx="134.8" cy="505.4" r="2.7"/><circle cx="136.4" cy="502.4" r="2.7"/></g><g fill="#2e6f8e"><circle cx="78.7" cy="579.7" r="2.7"/><circle cx="79.9" cy="575" r="2.7"/><circle cx="80.8" cy="573.4" r="2.7"/><circle cx="83" cy="566.8" r="2.7"/><circle cx="83.8" cy="563.7" r="2.7"/><circle cx="85.1" cy="560.2" r="2.7"/><circle cx="85.7" cy="559.4" r="2.7"/><circle cx="86.4" cy="558.5" r="2.7"/><circle cx="88.5" cy="552.8" r="2.7"/><circle cx="88.7" cy="554.7" r="2.7"/><circle cx="89.8" cy="550.5" r="2.7"/><circle cx="91.1" cy="550.4" r="2.7"/><circle cx="92.2" cy="547.9" r="2.7"/><circle cx="93.4" cy="545.9" r="2.7"/><circle cx="93.7" cy="544.6" r="2.7"/><circle cx="95.6" cy="544.1" r="2.7"/><circle cx="97.2" cy="541.5" r="2.7"/><circle cx="98.4" cy="538.9" r="2.7"/><circle cx="99" cy="539.4" r="2.7"/><circle cx="100.2" cy="537.3" r="2.7"/><circle cx="101.2" cy="537.9" r="2.7"/><circle cx="102.9" cy="537.2" r="2.7"/><circle cx="103.7" cy="537.5" r="2.7"/><circle cx="104.9" cy="537.8" r="2.7"/><circle cx="106.2" cy="535.5" r="2.7"/><circle cx="107.4" cy="535.6" r="2.7"/><circle cx="107.9" cy="536.4" r="2.7"/><circle cx="109.7" cy="534.6" r="2.7"/><circle cx="109.8" cy="534.5" r="2.7"/><circle cx="111.7" cy="533.6" r="2.7"/><circle cx="112.6" cy="532" r="2.7"/><circle cx="113.5" cy="530.8" r="2.7"/><circle cx="114.9" cy="528.9" r="2.7"/><circle cx="116.6" cy="526" r="2.7"/><circle cx="116.6" cy="526.4" r="2.7"/><circle cx="118" cy="523.2" r="2.7"/><circle cx="118.9" cy="522" r="2.7"/><circle cx="120" cy="519.9" r="2.7"/><circle cx="121.3" cy="516.1" r="2.7"/><circle cx="122.4" cy="516.2" r="2.7"/><circle cx="123.2" cy="513" r="2.7"/><circle cx="125.4" cy="508.8" r="2.7"/><circle cx="125.8" cy="505.9" r="2.7"/><circle cx="126.8" cy="504" r="2.7"/><circle cx="128.1" cy="500.1" r="2.7"/><circle cx="129.6" cy="495.3" r="2.7"/></g><g fill="#26848d"><circle cx="72.5" cy="578.6" r="2.7"/><circle cx="75" cy="572.2" r="2.7"/><circle cx="76.3" cy="570.3" r="2.7"/><circle cx="77.7" cy="567.1" r="2.7"/><circle cx="78.5" cy="564.7" r="2.7"/><circle cx="80.7" cy="561.5" r="2.7"/><circle cx="81.7" cy="559.9" r="2.7"/><circle cx="82.5" cy="557.7" r="2.7"/><circle cx="84.9" cy="551.9" r="2.7"/><circle cx="85.2" cy="555" r="2.7"/><circle cx="86.8" cy="550.6" r="2.7"/><circle cx="88.2" cy="548.2" r="2.7"/><circle cx="89.4" cy="546" r="2.7"/><circle cx="90.4" cy="546.8" r="2.7"/><circle cx="93.4" cy="543.1" r="2.7"/><circle cx="93" cy="543.3" r="2.7"/><circle cx="95.1" cy="541.7" r="2.7"/><circle cx="96.2" cy="539.8" r="2.7"/><circle cx="97.1" cy="541" r="2.7"/><circle cx="99.8" cy="537.9" r="2.7"/><circle cx="101.1" cy="537.1" r="2.7"/><circle cx="102.4" cy="537" r="2.7"/><circle cx="104.3" cy="537.1" r="2.7"/><circle cx="105.2" cy="536.6" r="2.7"/><circle cx="106.2" cy="536.7" r="2.7"/><circle cx="107.8" cy="535.9" r="2.7"/><circle cx="109.5" cy="535.1" r="2.7"/><circle cx="110.4" cy="534.6" r="2.7"/><circle cx="112.4" cy="533.3" r="2.7"/><circle cx="113.3" cy="533.1" r="2.7"/><circle cx="115" cy="531.1" r="2.7"/><circle cx="116" cy="528.1" r="2.7"/><circle cx="116.1" cy="530.2" r="2.7"/><circle cx="117.7" cy="528.4" r="2.7"/><circle cx="120" cy="526.1" r="2.7"/><circle cx="121.2" cy="522.2" r="2.7"/><circle cx="122.7" cy="523.5" r="2.7"/><circle cx="124.4" cy="518.2" r="2.7"/><circle cx="125" cy="516.4" r="2.7"/><circle cx="127.2" cy="514.4" r="2.7"/><circle cx="128.1" cy="513.4" r="2.7"/><circle cx="129.7" cy="508.3" r="2.7"/><circle cx="130" cy="509.3" r="2.7"/><circle cx="132.1" cy="504.6" r="2.7"/><circle cx="133.4" cy="502.1" r="2.7"/><circle cx="135.4" cy="497.6" r="2.7"/></g><g fill="#24888d"><circle cx="72.9" cy="574.5" r="2.7"/><circle cx="75.6" cy="569" r="2.7"/><circle cx="75.6" cy="568.8" r="2.7"/><circle cx="77.1" cy="564.3" r="2.7"/><circle cx="78.5" cy="562.8" r="2.7"/><circle cx="79.7" cy="560.2" r="2.7"/><circle cx="80.9" cy="559.3" r="2.7"/><circle cx="82.8" cy="557.6" r="2.7"/><circle cx="83.8" cy="554.8" r="2.7"/><circle cx="85.8" cy="551.6" r="2.7"/><circle cx="85.8" cy="551.7" r="2.7"/><circle cx="88.4" cy="548.7" r="2.7"/><circle cx="88.9" cy="546.8" r="2.7"/><circle cx="91.4" cy="544.2" r="2.7"/><circle cx="92.8" cy="542.8" r="2.7"/><circle cx="94.5" cy="541.1" r="2.7"/><circle cx="95" cy="540.4" r="2.7"/><circle cx="96.7" cy="540.7" r="2.7"/><circle cx="98" cy="538.4" r="2.7"/><circle cx="99.6" cy="538.7" r="2.7"/><circle cx="100.6" cy="537" r="2.7"/><circle cx="102.8" cy="537.8" r="2.7"/><circle cx="103.2" cy="536.8" r="2.7"/><circle cx="105.4" cy="535.6" r="2.7"/><circle cx="106.2" cy="539" r="2.7"/><circle cx="107.5" cy="536.9" r="2.7"/><circle cx="109.2" cy="534.8" r="2.7"/><circle cx="110.2" cy="535" r="2.7"/><circle cx="111.7" cy="534.8" r="2.7"/><circle cx="112.8" cy="533.2" r="2.7"/><circle cx="114.5" cy="531.8" r="2.7"/><circle cx="115.9" cy="532.1" r="2.7"/><circle cx="117.2" cy="528.5" r="2.7"/><circle cx="119" cy="527.5" r="2.7"/><circle cx="120.8" cy="526.4" r="2.7"/><circle cx="122" cy="523.7" r="2.7"/><circle cx="122.4" cy="523.3" r="2.7"/><circle cx="124.3" cy="519.9" r="2.7"/><circle cx="125.5" cy="519" r="2.7"/><circle cx="126.7" cy="515.6" r="2.7"/><circle cx="127.7" cy="515.4" r="2.7"/><circle cx="129.7" cy="511" r="2.7"/><circle cx="130.9" cy="507.2" r="2.7"/><circle cx="132.1" cy="507.2" r="2.7"/><circle cx="133.1" cy="503.4" r="2.7"/><circle cx="134.2" cy="500.4" r="2.7"/></g><g fill="#297c8e"><circle cx="75.1" cy="578.2" r="2.7"/><circle cx="76.1" cy="574.9" r="2.7"/><circle cx="78.2" cy="570.6" r="2.7"/><circle cx="79.4" cy="567.2" r="2.7"/><circle cx="80.6" cy="565.4" r="2.7"/><circle cx="81.7" cy="561.8" r="2.7"/><circle cx="82.7" cy="559.8" r="2.7"/><circle cx="83.5" cy="558.7" r="2.7"/><circle cx="85.2" cy="555.7" r="2.7"/><circle cx="87.2" cy="552" r="2.7"/><circle cx="87.6" cy="552.2" r="2.7"/><circle cx="88.8" cy="549.7" r="2.7"/><circle cx="90.8" cy="546.4" r="2.7"/><circle cx="92.7" cy="545" r="2.7"/><circle cx="93.1" cy="543.6" r="2.7"/><circle cx="93.8" cy="544.3" r="2.7"/><circle cx="96.4" cy="539.9" r="2.7"/><circle cx="97" cy="539.4" r="2.7"/><circle cx="98.6" cy="538" r="2.7"/><circle cx="100.3" cy="537.9" r="2.7"/><circle cx="100.7" cy="538.3" r="2.7"/><circle cx="102.3" cy="537.9" r="2.7"/><circle cx="103.8" cy="537.3" r="2.7"/><circle cx="104.8" cy="537.7" r="2.7"/><circle cx="105.7" cy="537.8" r="2.7"/><circle cx="107.3" cy="536.8" r="2.7"/><circle cx="109.1" cy="536.9" r="2.7"/><circle cx="109.8" cy="537.3" r="2.7"/><circle cx="111.2" cy="534.4" r="2.7"/><circle cx="112.7" cy="532.3" r="2.7"/><circle cx="113" cy="532.2" r="2.7"/><circle cx="115.1" cy="530.6" r="2.7"/><circle cx="115.8" cy="530.4" r="2.7"/><circle cx="117.5" cy="527.4" r="2.7"/><circle cx="119.1" cy="526.1" r="2.7"/><circle cx="120.6" cy="523" r="2.7"/><circle cx="121.6" cy="521.6" r="2.7"/><circle cx="122.8" cy="518.7" r="2.7"/><circle cx="123.8" cy="518.1" r="2.7"/><circle cx="125.6" cy="513.9" r="2.7"/><circle cx="126.4" cy="511.6" r="2.7"/><circle cx="127.6" cy="508.5" r="2.7"/><circle cx="128.7" cy="506.3" r="2.7"/><circle cx="131" cy="502.7" r="2.7"/><circle cx="132" cy="500.1" r="2.7"/><circle cx="132.8" cy="497.7" r="2.7"/></g><g fill="#2a778e"><circle cx="76.6" cy="578.1" r="2.7"/><circle cx="77.9" cy="572.6" r="2.7"/><circle cx="78.8" cy="571.7" r="2.7"/><circle cx="79.6" cy="570" r="2.7"/><circle cx="81.5" cy="563.4" r="2.7"/><circle cx="81.8" cy="564.4" r="2.7"/><circle cx="83.9" cy="559.4" r="2.7"/><circle cx="84.7" cy="557.4" r="2.7"/><circle cx="86.3" cy="556.1" r="2.7"/><circle cx="87.9" cy="553.3" r="2.7"/><circle cx="88.4" cy="552" r="2.7"/><circle cx="90.4" cy="549" r="2.7"/><circle cx="91.4" cy="547.1" r="2.7"/><circle cx="92.8" cy="545" r="2.7"/><circle cx="93.7" cy="543.3" r="2.7"/><circle cx="95.2" cy="541.4" r="2.7"/><circle cx="96" cy="542.5" r="2.7"/><circle cx="98" cy="539.3" r="2.7"/><circle cx="97.9" cy="538.7" r="2.7"/><circle cx="99.8" cy="538.8" r="2.7"/><circle cx="101.5" cy="537.7" r="2.7"/><circle cx="102.6" cy="537" r="2.7"/><circle cx="103.4" cy="537.8" r="2.7"/><circle cx="105.2" cy="536.5" r="2.7"/><circle cx="106" cy="537.5" r="2.7"/><circle cx="106.4" cy="537.6" r="2.7"/><circle cx="108.6" cy="536.2" r="2.7"/><circle cx="109.6" cy="534.3" r="2.7"/><circle cx="110.9" cy="533.6" r="2.7"/><circle cx="112.5" cy="531.2" r="2.7"/><circle cx="113.7" cy="531.5" r="2.7"/><circle cx="114.4" cy="530.3" r="2.7"/><circle cx="116.4" cy="528.6" r="2.7"/><circle cx="116.9" cy="526.6" r="2.7"/><circle cx="118.6" cy="523.1" r="2.7"/><circle cx="119.4" cy="523.5" r="2.7"/><circle cx="121" cy="520.3" r="2.7"/><circle cx="121.7" cy="518.6" r="2.7"/><circle cx="123.5" cy="514.7" r="2.7"/><circle cx="124.8" cy="512.8" r="2.7"/><circle cx="125.5" cy="510" r="2.7"/><circle cx="126.4" cy="511.6" r="2.7"/><circle cx="128.1" cy="504.6" r="2.7"/><circle cx="128.6" cy="503.7" r="2.7"/><circle cx="130.3" cy="500.5" r="2.7"/><circle cx="131.4" cy="495.5" r="2.7"/></g><g fill="#30b27b"><circle cx="65.3" cy="566.4" r="2.7"/><circle cx="68" cy="563.2" r="2.7"/><circle cx="70.6" cy="561.1" r="2.7"/><circle cx="72.8" cy="559.1" r="2.7"/><circle cx="73.1" cy="555.9" r="2.7"/><circle cx="75.5" cy="554.1" r="2.7"/><circle cx="77.3" cy="551.2" r="2.7"/><circle cx="78.6" cy="552" r="2.7"/><circle cx="79.5" cy="548.7" r="2.7"/><circle cx="82.5" cy="548" r="2.7"/><circle cx="82.7" cy="546.2" r="2.7"/><circle cx="85" cy="544.5" r="2.7"/><circle cx="86.7" cy="544.6" r="2.7"/><circle cx="89.1" cy="543.1" r="2.7"/><circle cx="89.7" cy="542" r="2.7"/><circle cx="90.5" cy="539.4" r="2.7"/><circle cx="93.4" cy="538.2" r="2.7"/><circle cx="95.5" cy="538.6" r="2.7"/><circle cx="96" cy="538.6" r="2.7"/><circle cx="97.9" cy="537.8" r="2.7"/><circle cx="101" cy="537" r="2.7"/><circle cx="101.4" cy="536.6" r="2.7"/><circle cx="104.8" cy="536.9" r="2.7"/><circle cx="103.8" cy="537" r="2.7"/><circle cx="107.2" cy="538.4" r="2.7"/><circle cx="109" cy="536.1" r="2.7"/><circle cx="110.7" cy="536.7" r="2.7"/><circle cx="111.7" cy="534.5" r="2.7"/><circle cx="114.2" cy="535.8" r="2.7"/><circle cx="114.7" cy="532.9" r="2.7"/><circle cx="116.2" cy="533.2" r="2.7"/><circle cx="119.1" cy="533.3" r="2.7"/><circle cx="121.2" cy="531" r="2.7"/><circle cx="122" cy="530" r="2.7"/><circle cx="123" cy="529.1" r="2.7"/><circle cx="125" cy="527.7" r="2.7"/><circle cx="125.5" cy="527.2" r="2.7"/><circle cx="129.7" cy="524.1" r="2.7"/><circle cx="129.8" cy="521.9" r="2.7"/><circle cx="132.4" cy="519.6" r="2.7"/><circle cx="133.8" cy="517.8" r="2.7"/><circle cx="134.5" cy="518.2" r="2.7"/><circle cx="135.5" cy="515.9" r="2.7"/><circle cx="139.1" cy="514.5" r="2.7"/><circle cx="141.1" cy="509.8" r="2.7"/><circle cx="142.4" cy="507.2" r="2.7"/></g><g fill="#38578b"><circle cx="85.1" cy="581.8" r="2.7"/><circle cx="88.1" cy="569.5" r="2.7"/><circle cx="90.3" cy="561.3" r="2.7"/><circle cx="92.7" cy="555" r="2.7"/><circle cx="95.7" cy="547.1" r="2.7"/><circle cx="97.7" cy="542.1" r="2.7"/><circle cx="100.5" cy="539.3" r="2.7"/><circle cx="102.6" cy="536.2" r="2.7"/><circle cx="105.3" cy="535.8" r="2.7"/><circle cx="108.5" cy="534.8" r="2.7"/><circle cx="110.5" cy="530.9" r="2.7"/><circle cx="112.8" cy="526.3" r="2.7"/><circle cx="115.5" cy="520.5" r="2.7"/><circle cx="117.8" cy="512.5" r="2.7"/><circle cx="120" cy="505.3" r="2.7"/><circle cx="123" cy="494.1" r="2.7"/></g><g fill="#3a538a"><circle cx="86.1" cy="582.2" r="2.7"/><circle cx="88.7" cy="571.2" r="2.7"/><circle cx="91.4" cy="561.2" r="2.7"/><circle cx="93.5" cy="554" r="2.7"/><circle cx="96.3" cy="549.6" r="2.7"/><circle cx="98.5" cy="542.2" r="2.7"/><circle cx="100.4" cy="541.1" r="2.7"/><circle cx="102.9" cy="538.2" r="2.7"/><circle cx="105.2" cy="536.1" r="2.7"/><circle cx="107.8" cy="533.2" r="2.7"/><circle cx="110.4" cy="529.8" r="2.7"/><circle cx="112.3" cy="526.7" r="2.7"/><circle cx="115.2" cy="518" r="2.7"/><circle cx="117.3" cy="509.8" r="2.7"/><circle cx="119.4" cy="505.6" r="2.7"/><circle cx="121.5" cy="494.6" r="2.7"/></g><g fill="#238c8c"><circle cx="71.9" cy="575.2" r="2.7"/><circle cx="73.2" cy="571" r="2.7"/><circle cx="74.6" cy="567.6" r="2.7"/><circle cx="76.6" cy="566.2" r="2.7"/><circle cx="76.8" cy="563.4" r="2.7"/><circle cx="79.9" cy="560.8" r="2.7"/><circle cx="79.9" cy="558.8" r="2.7"/><circle cx="81.7" cy="556.6" r="2.7"/><circle cx="83" cy="553.8" r="2.7"/><circle cx="83.9" cy="551.5" r="2.7"/><circle cx="85.6" cy="551.6" r="2.7"/><circle cx="87.7" cy="548.8" r="2.7"/><circle cx="89" cy="546.7" r="2.7"/><circle cx="90.3" cy="545.6" r="2.7"/><circle cx="92" cy="542.9" r="2.7"/><circle cx="94.1" cy="539.8" r="2.7"/><circle cx="95.5" cy="540" r="2.7"/><circle cx="96.8" cy="539.2" r="2.7"/><circle cx="98.1" cy="538.9" r="2.7"/><circle cx="100.2" cy="537.4" r="2.7"/><circle cx="100.6" cy="539" r="2.7"/><circle cx="101.8" cy="538.6" r="2.7"/><circle cx="104" cy="537.2" r="2.7"/><circle cx="105.3" cy="535.4" r="2.7"/><circle cx="106.9" cy="536" r="2.7"/><circle cx="107.6" cy="537.1" r="2.7"/><circle cx="108.9" cy="535" r="2.7"/><circle cx="110.9" cy="534.5" r="2.7"/><circle cx="112.2" cy="533.4" r="2.7"/><circle cx="113.9" cy="533.7" r="2.7"/><circle cx="115.7" cy="530.7" r="2.7"/><circle cx="116.6" cy="530.5" r="2.7"/><circle cx="118.3" cy="528.4" r="2.7"/><circle cx="119.2" cy="526.7" r="2.7"/><circle cx="120.6" cy="524.4" r="2.7"/><circle cx="121.3" cy="524.9" r="2.7"/><circle cx="123.4" cy="522.3" r="2.7"/><circle cx="125.3" cy="519.6" r="2.7"/><circle cx="127" cy="515.5" r="2.7"/><circle cx="128.1" cy="514.7" r="2.7"/><circle cx="129.1" cy="513.5" r="2.7"/><circle cx="131.2" cy="508.8" r="2.7"/><circle cx="131.7" cy="508.6" r="2.7"/><circle cx="134.1" cy="504.1" r="2.7"/><circle cx="135.4" cy="500.7" r="2.7"/><circle cx="137.1" cy="498.2" r="2.7"/></g><g fill="#306b8d"><circle cx="79.8" cy="578.5" r="2.7"/><circle cx="80.6" cy="575.2" r="2.7"/><circle cx="82" cy="572.3" r="2.7"/><circle cx="82.1" cy="572.3" r="2.7"/><circle cx="84.3" cy="564.7" r="2.7"/><circle cx="85.5" cy="563" r="2.7"/><circle cx="86.4" cy="559.3" r="2.7"/><circle cx="87" cy="558.6" r="2.7"/><circle cx="87.1" cy="559.3" r="2.7"/><circle cx="89.3" cy="556.3" r="2.7"/><circle cx="90.6" cy="549.9" r="2.7"/><circle cx="92.1" cy="549.2" r="2.7"/><circle cx="92.5" cy="548.8" r="2.7"/><circle cx="94.1" cy="545.1" r="2.7"/><circle cx="95.1" cy="543.5" r="2.7"/><circle cx="95.7" cy="542.5" r="2.7"/><circle cx="97.2" cy="541.4" r="2.7"/><circle cx="98.4" cy="541" r="2.7"/><circle cx="99.3" cy="538.6" r="2.7"/><circle cx="101.1" cy="536.6" r="2.7"/><circle cx="101" cy="538.1" r="2.7"/><circle cx="102.9" cy="537.6" r="2.7"/><circle cx="102.9" cy="537.7" r="2.7"/><circle cx="105.3" cy="536.9" r="2.7"/><circle cx="106" cy="538" r="2.7"/><circle cx="106.6" cy="536.5" r="2.7"/><circle cx="107.8" cy="536.8" r="2.7"/><circle cx="108.7" cy="535.2" r="2.7"/><circle cx="110.6" cy="533" r="2.7"/><circle cx="110.6" cy="533.1" r="2.7"/><circle cx="112.4" cy="531.5" r="2.7"/><circle cx="113.5" cy="531.3" r="2.7"/><circle cx="114.4" cy="527.2" r="2.7"/><circle cx="116.3" cy="524.7" r="2.7"/><circle cx="116.7" cy="523.4" r="2.7"/><circle cx="118.1" cy="521.3" r="2.7"/><circle cx="119.4" cy="516.7" r="2.7"/><circle cx="120.5" cy="516.9" r="2.7"/><circle cx="121" cy="515.6" r="2.7"/><circle cx="121.9" cy="514.8" r="2.7"/><circle cx="123.4" cy="510.1" r="2.7"/><circle cx="124.8" cy="506.4" r="2.7"/><circle cx="125.7" cy="504.7" r="2.7"/><circle cx="127.3" cy="499.2" r="2.7"/><circle cx="127.9" cy="497.1" r="2.7"/><circle cx="128.2" cy="496.7" r="2.7"/></g><g fill="#3c4e89"><circle cx="88.3" cy="578.3" r="2.7"/><circle cx="90.7" cy="567.7" r="2.7"/><circle cx="92.6" cy="559.9" r="2.7"/><circle cx="94.9" cy="550.9" r="2.7"/><circle cx="96.8" cy="546" r="2.7"/><circle cx="98.8" cy="544" r="2.7"/><circle cx="100.7" cy="539.2" r="2.7"/><circle cx="103.1" cy="537.2" r="2.7"/><circle cx="105.4" cy="536.8" r="2.7"/><circle cx="107.3" cy="534.2" r="2.7"/><circle cx="109.4" cy="530.5" r="2.7"/><circle cx="111.3" cy="527" r="2.7"/><circle cx="113.6" cy="519.4" r="2.7"/><circle cx="115.4" cy="515.3" r="2.7"/><circle cx="117.9" cy="505.9" r="2.7"/><circle cx="120" cy="494.4" r="2.7"/></g><g fill="#3cb975"><circle cx="65.4" cy="562.1" r="2.7"/><circle cx="66.8" cy="563.6" r="2.7"/><circle cx="68.4" cy="559.7" r="2.7"/><circle cx="72.8" cy="557.4" r="2.7"/><circle cx="71.7" cy="556.6" r="2.7"/><circle cx="74.3" cy="554.3" r="2.7"/><circle cx="77" cy="551.8" r="2.7"/><circle cx="77.7" cy="552.1" r="2.7"/><circle cx="79.6" cy="549.5" r="2.7"/><circle cx="80.2" cy="549.6" r="2.7"/><circle cx="83.1" cy="545.8" r="2.7"/><circle cx="83.9" cy="546.3" r="2.7"/><circle cx="86.9" cy="543.6" r="2.7"/><circle cx="88.5" cy="543" r="2.7"/><circle cx="89.2" cy="541.7" r="2.7"/><circle cx="93.3" cy="540.1" r="2.7"/><circle cx="94" cy="538.4" r="2.7"/><circle cx="95.6" cy="539.2" r="2.7"/><circle cx="95.9" cy="537.8" r="2.7"/><circle cx="96.6" cy="536.9" r="2.7"/><circle cx="99.7" cy="537" r="2.7"/><circle cx="101.8" cy="537.5" r="2.7"/><circle cx="103.2" cy="536.7" r="2.7"/><circle cx="105.1" cy="537.1" r="2.7"/><circle cx="106.5" cy="539.4" r="2.7"/><circle cx="108.3" cy="536.5" r="2.7"/><circle cx="110.5" cy="536.4" r="2.7"/><circle cx="111.2" cy="535" r="2.7"/><circle cx="113.5" cy="534" r="2.7"/><circle cx="115.2" cy="533.5" r="2.7"/><circle cx="116.5" cy="533.6" r="2.7"/><circle cx="118.9" cy="531.4" r="2.7"/><circle cx="119.7" cy="531.6" r="2.7"/><circle cx="122.1" cy="530.8" r="2.7"/><circle cx="124" cy="529.4" r="2.7"/><circle cx="123.8" cy="529.1" r="2.7"/><circle cx="127.8" cy="526.3" r="2.7"/><circle cx="129" cy="525.8" r="2.7"/><circle cx="130.6" cy="523.5" r="2.7"/><circle cx="130.8" cy="523.1" r="2.7"/><circle cx="133.8" cy="520" r="2.7"/><circle cx="135.2" cy="519" r="2.7"/><circle cx="137" cy="516.9" r="2.7"/><circle cx="138.7" cy="515.8" r="2.7"/><circle cx="140.4" cy="513.4" r="2.7"/><circle cx="142.9" cy="510.2" r="2.7"/></g><g fill="#25aa82"><circle cx="67.1" cy="568.2" r="2.7"/><circle cx="69.2" cy="564" r="2.7"/><circle cx="70.8" cy="561.5" r="2.7"/><circle cx="72.2" cy="560.2" r="2.7"/><circle cx="74.3" cy="557.7" r="2.7"/><circle cx="76.5" cy="553.5" r="2.7"/><circle cx="77.3" cy="551.3" r="2.7"/><circle cx="78.2" cy="552" r="2.7"/><circle cx="81.1" cy="549.7" r="2.7"/><circle cx="83.3" cy="547.4" r="2.7"/><circle cx="83.6" cy="548.4" r="2.7"/><circle cx="85.4" cy="545.5" r="2.7"/><circle cx="87.8" cy="543.7" r="2.7"/><circle cx="87.5" cy="544.1" r="2.7"/><circle cx="91.6" cy="541.5" r="2.7"/><circle cx="91.9" cy="542.7" r="2.7"/><circle cx="93.5" cy="540" r="2.7"/><circle cx="95.9" cy="538.5" r="2.7"/><circle cx="96.4" cy="538.8" r="2.7"/><circle cx="99.3" cy="537.9" r="2.7"/><circle cx="100.1" cy="536.5" r="2.7"/><circle cx="100.8" cy="538.6" r="2.7"/><circle cx="103.8" cy="537.5" r="2.7"/><circle cx="104.8" cy="537.1" r="2.7"/><circle cx="108.1" cy="536.9" r="2.7"/><circle cx="108.5" cy="536.8" r="2.7"/><circle cx="110.8" cy="535" r="2.7"/><circle cx="111.5" cy="535.9" r="2.7"/><circle cx="112.9" cy="534.7" r="2.7"/><circle cx="115" cy="534.3" r="2.7"/><circle cx="116.2" cy="532.8" r="2.7"/><circle cx="118.6" cy="532.4" r="2.7"/><circle cx="119.8" cy="528.9" r="2.7"/><circle cx="121" cy="530.7" r="2.7"/><circle cx="122.7" cy="528.1" r="2.7"/><circle cx="124.8" cy="526.4" r="2.7"/><circle cx="126.2" cy="524.6" r="2.7"/><circle cx="128.5" cy="521.7" r="2.7"/><circle cx="129.4" cy="521.6" r="2.7"/><circle cx="131.1" cy="519.4" r="2.7"/><circle cx="132.2" cy="519.1" r="2.7"/><circle cx="133.1" cy="517.8" r="2.7"/><circle cx="136.3" cy="512.4" r="2.7"/><circle cx="138.3" cy="509.2" r="2.7"/><circle cx="139.4" cy="507.7" r="2.7"/><circle cx="140.2" cy="508" r="2.7"/></g><g fill="#355f8d"><circle cx="82.1" cy="583.3" r="2.7"/><circle cx="83.1" cy="579.7" r="2.7"/><circle cx="84.7" cy="575.7" r="2.7"/><circle cx="85.6" cy="572.5" r="2.7"/><circle cx="86.6" cy="567.3" r="2.7"/><circle cx="87.4" cy="566.3" r="2.7"/><circle cx="88.5" cy="560.7" r="2.7"/><circle cx="89.5" cy="559.5" r="2.7"/><circle cx="89.8" cy="558.9" r="2.7"/><circle cx="90.9" cy="554.9" r="2.7"/><circle cx="92.1" cy="552.4" r="2.7"/><circle cx="93.1" cy="549.2" r="2.7"/><circle cx="93.9" cy="549.6" r="2.7"/><circle cx="94.5" cy="547.5" r="2.7"/><circle cx="96.4" cy="543.2" r="2.7"/><circle cx="96.9" cy="543.4" r="2.7"/><circle cx="98.2" cy="541" r="2.7"/><circle cx="99.3" cy="539.9" r="2.7"/><circle cx="99.6" cy="539.1" r="2.7"/><circle cx="100.3" cy="539" r="2.7"/><circle cx="101.8" cy="538" r="2.7"/><circle cx="102.6" cy="537.3" r="2.7"/><circle cx="103.4" cy="537.8" r="2.7"/><circle cx="104.5" cy="537.6" r="2.7"/><circle cx="105.3" cy="537.8" r="2.7"/><circle cx="106.4" cy="535.9" r="2.7"/><circle cx="107.2" cy="535.1" r="2.7"/><circle cx="108.4" cy="534.6" r="2.7"/><circle cx="109.9" cy="533.5" r="2.7"/><circle cx="110.3" cy="532.2" r="2.7"/><circle cx="111.5" cy="530.9" r="2.7"/><circle cx="112.8" cy="528.5" r="2.7"/><circle cx="113.2" cy="528.1" r="2.7"/><circle cx="114.1" cy="526.6" r="2.7"/><circle cx="114.9" cy="524.5" r="2.7"/><circle cx="116" cy="521.8" r="2.7"/><circle cx="116.7" cy="520.2" r="2.7"/><circle cx="118" cy="516.1" r="2.7"/><circle cx="119" cy="514.3" r="2.7"/><circle cx="120" cy="510.1" r="2.7"/><circle cx="120.8" cy="509.2" r="2.7"/><circle cx="122.2" cy="503.2" r="2.7"/><circle cx="122.7" cy="503.4" r="2.7"/><circle cx="123.8" cy="499.4" r="2.7"/><circle cx="124.3" cy="496.7" r="2.7"/><circle cx="125.8" cy="491.7" r="2.7"/></g><g fill="#33638d"><circle cx="81.4" cy="580.5" r="2.7"/><circle cx="82.8" cy="577.3" r="2.7"/><circle cx="83.6" cy="574.3" r="2.7"/><circle cx="84.8" cy="569.2" r="2.7"/><circle cx="85.4" cy="569.1" r="2.7"/><circle cx="86.6" cy="565.2" r="2.7"/><circle cx="87.6" cy="562.9" r="2.7"/><circle cx="88.5" cy="560.1" r="2.7"/><circle cx="89.5" cy="558.2" r="2.7"/><circle cx="90.6" cy="553.8" r="2.7"/><circle cx="90.7" cy="554.8" r="2.7"/><circle cx="92.4" cy="551.1" r="2.7"/><circle cx="94" cy="547.5" r="2.7"/><circle cx="94.8" cy="547.7" r="2.7"/><circle cx="95.7" cy="544.9" r="2.7"/><circle cx="96.6" cy="542.5" r="2.7"/><circle cx="97.1" cy="542.2" r="2.7"/><circle cx="98.8" cy="541.2" r="2.7"/><circle cx="98.8" cy="541" r="2.7"/><circle cx="101" cy="537" r="2.7"/><circle cx="101.6" cy="536.5" r="2.7"/><circle cx="102.1" cy="538" r="2.7"/><circle cx="103.4" cy="536.8" r="2.7"/><circle cx="104.5" cy="535.8" r="2.7"/><circle cx="105.6" cy="537.3" r="2.7"/><circle cx="106.6" cy="537.7" r="2.7"/><circle cx="107.9" cy="536" r="2.7"/><circle cx="108.3" cy="536" r="2.7"/><circle cx="109.6" cy="533.5" r="2.7"/><circle cx="110.3" cy="532.9" r="2.7"/><circle cx="111.8" cy="531.5" r="2.7"/><circle cx="112.6" cy="529.5" r="2.7"/><circle cx="113.5" cy="527.1" r="2.7"/><circle cx="114" cy="528.6" r="2.7"/><circle cx="115.1" cy="525.4" r="2.7"/><circle cx="116.7" cy="522.4" r="2.7"/><circle cx="117.9" cy="519.4" r="2.7"/><circle cx="118.3" cy="519.5" r="2.7"/><circle cx="119.7" cy="515" r="2.7"/><circle cx="120.7" cy="512.2" r="2.7"/><circle cx="121.9" cy="508" r="2.7"/><circle cx="122.8" cy="505.1" r="2.7"/><circle cx="124" cy="502.2" r="2.7"/><circle cx="124.7" cy="499" r="2.7"/><circle cx="125.9" cy="495.8" r="2.7"/><circle cx="126.4" cy="493.7" r="2.7"/></g><g fill="#2bae7f"><circle cx="66.3" cy="567.2" r="2.7"/><circle cx="67.6" cy="567" r="2.7"/><circle cx="70.1" cy="563" r="2.7"/><circle cx="71.7" cy="560.7" r="2.7"/><circle cx="72.9" cy="557" r="2.7"/><circle cx="75.5" cy="555.6" r="2.7"/><circle cx="76.3" cy="553.6" r="2.7"/><circle cx="78.4" cy="552.1" r="2.7"/><circle cx="78.4" cy="551.6" r="2.7"/><circle cx="81.2" cy="547.6" r="2.7"/><circle cx="82.5" cy="548" r="2.7"/><circle cx="85.5" cy="546.7" r="2.7"/><circle cx="86.5" cy="543.8" r="2.7"/><circle cx="89.5" cy="541.7" r="2.7"/><circle cx="90.5" cy="541.4" r="2.7"/><circle cx="90.9" cy="539.7" r="2.7"/><circle cx="92.4" cy="541.2" r="2.7"/><circle cx="95.9" cy="539" r="2.7"/><circle cx="97.1" cy="538.9" r="2.7"/><circle cx="98.4" cy="538.5" r="2.7"/><circle cx="100.5" cy="538.8" r="2.7"/><circle cx="101.3" cy="535.9" r="2.7"/><circle cx="103.4" cy="537.8" r="2.7"/><circle cx="104.9" cy="538.4" r="2.7"/><circle cx="105.1" cy="536.9" r="2.7"/><circle cx="109.4" cy="535.9" r="2.7"/><circle cx="110.1" cy="536.7" r="2.7"/><circle cx="112.1" cy="535" r="2.7"/><circle cx="112" cy="535.7" r="2.7"/><circle cx="116.5" cy="532.2" r="2.7"/><circle cx="116.4" cy="534.3" r="2.7"/><circle cx="118.4" cy="532.5" r="2.7"/><circle cx="120.4" cy="530" r="2.7"/><circle cx="123.1" cy="528.6" r="2.7"/><circle cx="123.8" cy="527.7" r="2.7"/><circle cx="125.6" cy="527.7" r="2.7"/><circle cx="126.5" cy="524.4" r="2.7"/><circle cx="129.5" cy="522.4" r="2.7"/><circle cx="130.4" cy="522.2" r="2.7"/><circle cx="132.5" cy="518.5" r="2.7"/><circle cx="133.9" cy="518.1" r="2.7"/><circle cx="135.6" cy="516.8" r="2.7"/><circle cx="137.4" cy="513" r="2.7"/><circle cx="139.6" cy="510.8" r="2.7"/><circle cx="141.3" cy="508.4" r="2.7"/><circle cx="141.9" cy="507.6" r="2.7"/></g><g fill="#21988a"><circle cx="69.8" cy="572.8" r="2.7"/><circle cx="72.1" cy="567.9" r="2.7"/><circle cx="71.8" cy="566.8" r="2.7"/><circle cx="73.7" cy="564" r="2.7"/><circle cx="75.5" cy="561" r="2.7"/><circle cx="77.7" cy="560.9" r="2.7"/><circle cx="79.9" cy="555.4" r="2.7"/><circle cx="80.3" cy="555" r="2.7"/><circle cx="82.1" cy="552" r="2.7"/><circle cx="83.2" cy="550.4" r="2.7"/><circle cx="85.1" cy="548.6" r="2.7"/><circle cx="87" cy="547.9" r="2.7"/><circle cx="89" cy="546.5" r="2.7"/><circle cx="89.7" cy="545.2" r="2.7"/><circle cx="91" cy="544.2" r="2.7"/><circle cx="93.4" cy="539.9" r="2.7"/><circle cx="94.8" cy="539.3" r="2.7"/><circle cx="97" cy="538" r="2.7"/><circle cx="97.8" cy="538" r="2.7"/><circle cx="98.8" cy="538.5" r="2.7"/><circle cx="100.8" cy="538" r="2.7"/><circle cx="102" cy="536.7" r="2.7"/><circle cx="103.7" cy="538.3" r="2.7"/><circle cx="105.3" cy="537.2" r="2.7"/><circle cx="106.8" cy="535.4" r="2.7"/><circle cx="109" cy="537.1" r="2.7"/><circle cx="110.1" cy="534.2" r="2.7"/><circle cx="110.9" cy="535.4" r="2.7"/><circle cx="112.1" cy="534.3" r="2.7"/><circle cx="114" cy="532.7" r="2.7"/><circle cx="115.4" cy="532.2" r="2.7"/><circle cx="118.3" cy="530.9" r="2.7"/><circle cx="119.5" cy="528.6" r="2.7"/><circle cx="121.1" cy="527" r="2.7"/><circle cx="121.2" cy="528.1" r="2.7"/><circle cx="123" cy="525.5" r="2.7"/><circle cx="124.7" cy="521.6" r="2.7"/><circle cx="126.3" cy="521.1" r="2.7"/><circle cx="128.9" cy="517.6" r="2.7"/><circle cx="129.6" cy="517.2" r="2.7"/><circle cx="131" cy="514.4" r="2.7"/><circle cx="132.5" cy="511" r="2.7"/><circle cx="134.4" cy="509.6" r="2.7"/><circle cx="134.6" cy="508.5" r="2.7"/><circle cx="137.2" cy="505.1" r="2.7"/><circle cx="138.8" cy="502.5" r="2.7"/></g><g fill="#229f87"><circle cx="68.2" cy="571.2" r="2.7"/><circle cx="71.2" cy="564.2" r="2.7"/><circle cx="72.3" cy="563.8" r="2.7"/><circle cx="74.5" cy="561.1" r="2.7"/><circle cx="76.2" cy="558.7" r="2.7"/><circle cx="77.5" cy="556" r="2.7"/><circle cx="77.8" cy="557.3" r="2.7"/><circle cx="80.1" cy="552.4" r="2.7"/><circle cx="81.1" cy="552.5" r="2.7"/><circle cx="83.8" cy="551.3" r="2.7"/><circle cx="84.6" cy="548.6" r="2.7"/><circle cx="86.1" cy="546.2" r="2.7"/><circle cx="87.4" cy="545.5" r="2.7"/><circle cx="88.2" cy="546" r="2.7"/><circle cx="91.4" cy="541.9" r="2.7"/><circle cx="92.5" cy="542.4" r="2.7"/><circle cx="94.3" cy="540.3" r="2.7"/><circle cx="95.4" cy="539.5" r="2.7"/><circle cx="97.8" cy="539" r="2.7"/><circle cx="99.1" cy="538" r="2.7"/><circle cx="100.2" cy="537" r="2.7"/><circle cx="101" cy="537.7" r="2.7"/><circle cx="103.6" cy="536.7" r="2.7"/><circle cx="105.4" cy="537.4" r="2.7"/><circle cx="107" cy="538.1" r="2.7"/><circle cx="107.5" cy="537.9" r="2.7"/><circle cx="109.5" cy="537.1" r="2.7"/><circle cx="111.5" cy="534.3" r="2.7"/><circle cx="112.9" cy="533.3" r="2.7"/><circle cx="114.5" cy="533.4" r="2.7"/><circle cx="115.3" cy="533.1" r="2.7"/><circle cx="116.9" cy="531.4" r="2.7"/><circle cx="118.8" cy="529.6" r="2.7"/><circle cx="120.7" cy="528.9" r="2.7"/><circle cx="121.7" cy="528.3" r="2.7"/><circle cx="124.6" cy="524.9" r="2.7"/><circle cx="125.4" cy="524.6" r="2.7"/><circle cx="126.4" cy="522.6" r="2.7"/><circle cx="128.4" cy="521" r="2.7"/><circle cx="128.7" cy="519.9" r="2.7"/><circle cx="131.9" cy="515.1" r="2.7"/><circle cx="132.6" cy="516" r="2.7"/><circle cx="134.1" cy="513.4" r="2.7"/><circle cx="135.8" cy="510.4" r="2.7"/><circle cx="136.8" cy="508.7" r="2.7"/><circle cx="138.6" cy="506.4" r="2.7"/></g><g fill="#36b678"><circle cx="65.5" cy="563.9" r="2.7"/><circle cx="66.6" cy="562.9" r="2.7"/><circle cx="69.6" cy="561.2" r="2.7"/><circle cx="70.4" cy="559.2" r="2.7"/><circle cx="71.4" cy="559.5" r="2.7"/><circle cx="73.6" cy="554.3" r="2.7"/><circle cx="75.5" cy="554.5" r="2.7"/><circle cx="77.6" cy="552.4" r="2.7"/><circle cx="79.4" cy="549.5" r="2.7"/><circle cx="80" cy="548.1" r="2.7"/><circle cx="82.9" cy="545.8" r="2.7"/><circle cx="84" cy="544.5" r="2.7"/><circle cx="85.7" cy="544.6" r="2.7"/><circle cx="88.4" cy="541.9" r="2.7"/><circle cx="88.9" cy="542.9" r="2.7"/><circle cx="91" cy="540.7" r="2.7"/><circle cx="92.7" cy="540" r="2.7"/><circle cx="94.9" cy="539.2" r="2.7"/><circle cx="95.3" cy="539.3" r="2.7"/><circle cx="98.1" cy="538.8" r="2.7"/><circle cx="100.5" cy="537.5" r="2.7"/><circle cx="101.5" cy="538.6" r="2.7"/><circle cx="103.5" cy="537.3" r="2.7"/><circle cx="105.4" cy="538" r="2.7"/><circle cx="106.2" cy="537.3" r="2.7"/><circle cx="108.5" cy="536.1" r="2.7"/><circle cx="109.6" cy="535.7" r="2.7"/><circle cx="111.5" cy="537.1" r="2.7"/><circle cx="113.1" cy="536.4" r="2.7"/><circle cx="115.1" cy="532.4" r="2.7"/><circle cx="116" cy="535.1" r="2.7"/><circle cx="118.3" cy="532.1" r="2.7"/><circle cx="122.3" cy="530.7" r="2.7"/><circle cx="122.8" cy="530.4" r="2.7"/><circle cx="122.7" cy="528.4" r="2.7"/><circle cx="125.4" cy="527.3" r="2.7"/><circle cx="127.2" cy="526.7" r="2.7"/><circle cx="130" cy="523.9" r="2.7"/><circle cx="131.5" cy="521" r="2.7"/><circle cx="133" cy="520.7" r="2.7"/><circle cx="134.8" cy="519.2" r="2.7"/><circle cx="136.2" cy="516.7" r="2.7"/><circle cx="138.6" cy="514.4" r="2.7"/><circle cx="138.6" cy="514.1" r="2.7"/><circle cx="140" cy="512.2" r="2.7"/><circle cx="143.8" cy="509" r="2.7"/></g><g fill="#22a785"><circle cx="67.6" cy="567.2" r="2.7"/><circle cx="69.8" cy="564.1" r="2.7"/><circle cx="70.8" cy="563.2" r="2.7"/><circle cx="72.2" cy="561.3" r="2.7"/><circle cx="74.2" cy="558.5" r="2.7"/><circle cx="76.4" cy="556.4" r="2.7"/><circle cx="77.9" cy="554" r="2.7"/><circle cx="79.9" cy="551.7" r="2.7"/><circle cx="79.9" cy="551.6" r="2.7"/><circle cx="82.8" cy="548" r="2.7"/><circle cx="83.9" cy="548.5" r="2.7"/><circle cx="86" cy="545.1" r="2.7"/><circle cx="87.4" cy="545.3" r="2.7"/><circle cx="89.8" cy="541.5" r="2.7"/><circle cx="90.7" cy="541" r="2.7"/><circle cx="92.7" cy="541.8" r="2.7"/><circle cx="93.3" cy="539.1" r="2.7"/><circle cx="94" cy="540.9" r="2.7"/><circle cx="97.5" cy="540.7" r="2.7"/><circle cx="98.4" cy="537.1" r="2.7"/><circle cx="99.8" cy="536.8" r="2.7"/><circle cx="100.4" cy="537.2" r="2.7"/><circle cx="103.1" cy="536.7" r="2.7"/><circle cx="104.7" cy="536.6" r="2.7"/><circle cx="106.6" cy="536.9" r="2.7"/><circle cx="109.1" cy="535.8" r="2.7"/><circle cx="110.1" cy="536.3" r="2.7"/><circle cx="111.7" cy="535" r="2.7"/><circle cx="113.9" cy="533.6" r="2.7"/><circle cx="115.2" cy="534.9" r="2.7"/><circle cx="115.9" cy="533.1" r="2.7"/><circle cx="118.5" cy="532.2" r="2.7"/><circle cx="118.9" cy="530.1" r="2.7"/><circle cx="122" cy="528.2" r="2.7"/><circle cx="122.5" cy="527.2" r="2.7"/><circle cx="124.2" cy="526.2" r="2.7"/><circle cx="126.3" cy="524.1" r="2.7"/><circle cx="129.1" cy="522.9" r="2.7"/><circle cx="129.8" cy="520.3" r="2.7"/><circle cx="128.8" cy="522.7" r="2.7"/><circle cx="131.3" cy="518.7" r="2.7"/><circle cx="134.9" cy="514.3" r="2.7"/><circle cx="136.1" cy="512.9" r="2.7"/><circle cx="137.3" cy="511.2" r="2.7"/><circle cx="138.1" cy="510.6" r="2.7"/><circle cx="140.8" cy="505.8" r="2.7"/></g><g fill="#219b88"><circle cx="70.1" cy="570.3" r="2.7"/><circle cx="70.7" cy="568.5" r="2.7"/><circle cx="72.3" cy="566.6" r="2.7"/><circle cx="73.3" cy="563.9" r="2.7"/><circle cx="75.4" cy="561" r="2.7"/><circle cx="76.7" cy="559.8" r="2.7"/><circle cx="77.7" cy="555.3" r="2.7"/><circle cx="80.8" cy="552" r="2.7"/><circle cx="81.3" cy="552.3" r="2.7"/><circle cx="83.6" cy="549.8" r="2.7"/><circle cx="84.6" cy="548.8" r="2.7"/><circle cx="87" cy="546.1" r="2.7"/><circle cx="87.6" cy="544.9" r="2.7"/><circle cx="89.1" cy="542.9" r="2.7"/><circle cx="90.6" cy="541.5" r="2.7"/><circle cx="92.7" cy="540.4" r="2.7"/><circle cx="95.1" cy="540.2" r="2.7"/><circle cx="96.2" cy="540.4" r="2.7"/><circle cx="97.6" cy="537.9" r="2.7"/><circle cx="99.1" cy="538.5" r="2.7"/><circle cx="100.5" cy="539.2" r="2.7"/><circle cx="101.9" cy="537.5" r="2.7"/><circle cx="103" cy="537.4" r="2.7"/><circle cx="105.4" cy="536.1" r="2.7"/><circle cx="106.9" cy="535.8" r="2.7"/><circle cx="107.3" cy="536.2" r="2.7"/><circle cx="110" cy="533.9" r="2.7"/><circle cx="110.8" cy="535" r="2.7"/><circle cx="113.2" cy="534" r="2.7"/><circle cx="115.2" cy="533.1" r="2.7"/><circle cx="116" cy="532.5" r="2.7"/><circle cx="118.2" cy="531.2" r="2.7"/><circle cx="119.2" cy="529.5" r="2.7"/><circle cx="121.3" cy="528.2" r="2.7"/><circle cx="121.4" cy="528.2" r="2.7"/><circle cx="123.1" cy="524.2" r="2.7"/><circle cx="125.5" cy="523.1" r="2.7"/><circle cx="126.4" cy="522" r="2.7"/><circle cx="129.2" cy="518.8" r="2.7"/><circle cx="129.7" cy="518.5" r="2.7"/><circle cx="131.3" cy="514.9" r="2.7"/><circle cx="131.5" cy="514.5" r="2.7"/><circle cx="134.6" cy="510.2" r="2.7"/><circle cx="136.2" cy="508" r="2.7"/><circle cx="137.6" cy="505.7" r="2.7"/><circle cx="138.5" cy="504" r="2.7"/></g><g fill="#22a386"><circle cx="66.6" cy="571.7" r="2.7"/><circle cx="69.1" cy="567.5" r="2.7"/><circle cx="70.9" cy="563.4" r="2.7"/><circle cx="71.8" cy="563.5" r="2.7"/><circle cx="73.6" cy="560" r="2.7"/><circle cx="76.1" cy="558.5" r="2.7"/><circle cx="77.9" cy="554.3" r="2.7"/><circle cx="79.4" cy="553.6" r="2.7"/><circle cx="80.2" cy="551.1" r="2.7"/><circle cx="83" cy="549.7" r="2.7"/><circle cx="84.2" cy="547.3" r="2.7"/><circle cx="86.4" cy="545.7" r="2.7"/><circle cx="87" cy="545.2" r="2.7"/><circle cx="89.6" cy="542.4" r="2.7"/><circle cx="90.3" cy="542.3" r="2.7"/><circle cx="91.9" cy="541.4" r="2.7"/><circle cx="92.5" cy="540.9" r="2.7"/><circle cx="94.9" cy="539.8" r="2.7"/><circle cx="97.1" cy="538.6" r="2.7"/><circle cx="97.9" cy="539.4" r="2.7"/><circle cx="100.1" cy="538.2" r="2.7"/><circle cx="101.5" cy="535.8" r="2.7"/><circle cx="102.5" cy="537.3" r="2.7"/><circle cx="104.7" cy="536.8" r="2.7"/><circle cx="107" cy="537.7" r="2.7"/><circle cx="107.9" cy="535.7" r="2.7"/><circle cx="110.7" cy="535.2" r="2.7"/><circle cx="111.2" cy="534.2" r="2.7"/><circle cx="112.4" cy="534.4" r="2.7"/><circle cx="114.3" cy="533.4" r="2.7"/><circle cx="116.9" cy="532" r="2.7"/><circle cx="117.6" cy="530.6" r="2.7"/><circle cx="118.8" cy="531.7" r="2.7"/><circle cx="122" cy="526.7" r="2.7"/><circle cx="122.5" cy="528.7" r="2.7"/><circle cx="124" cy="527.2" r="2.7"/><circle cx="126.4" cy="524.9" r="2.7"/><circle cx="127.3" cy="522.5" r="2.7"/><circle cx="129.6" cy="522.2" r="2.7"/><circle cx="130.4" cy="518.4" r="2.7"/><circle cx="132.7" cy="516.5" r="2.7"/><circle cx="133.7" cy="513.7" r="2.7"/><circle cx="135.3" cy="513.1" r="2.7"/><circle cx="137.3" cy="510.5" r="2.7"/><circle cx="138.5" cy="508.6" r="2.7"/><circle cx="140.8" cy="503.3" r="2.7"/></g><g fill="#365c8c"><circle cx="84.4" cy="579.1" r="2.7"/><circle cx="86.9" cy="568.6" r="2.7"/><circle cx="89.3" cy="562.3" r="2.7"/><circle cx="92.6" cy="554.1" r="2.7"/><circle cx="95.4" cy="546.8" r="2.7"/><circle cx="97.1" cy="544.4" r="2.7"/><circle cx="100.6" cy="539.2" r="2.7"/><circle cx="103" cy="535.7" r="2.7"/><circle cx="105.6" cy="537.5" r="2.7"/><circle cx="107.8" cy="535.2" r="2.7"/><circle cx="110.6" cy="532.2" r="2.7"/><circle cx="113.3" cy="527" r="2.7"/><circle cx="116.5" cy="519.2" r="2.7"/><circle cx="118.9" cy="513.6" r="2.7"/><circle cx="121.3" cy="504.4" r="2.7"/><circle cx="123.9" cy="494.2" r="2.7"/></g><g fill="#21948b"><circle cx="70.6" cy="572.7" r="2.7"/><circle cx="72.1" cy="569.2" r="2.7"/><circle cx="73.5" cy="568.4" r="2.7"/><circle cx="75.1" cy="565.1" r="2.7"/><circle cx="76.5" cy="561.4" r="2.7"/><circle cx="78" cy="559.5" r="2.7"/><circle cx="79.1" cy="557.5" r="2.7"/><circle cx="81.3" cy="553.7" r="2.7"/><circle cx="82.1" cy="553.4" r="2.7"/><circle cx="85" cy="549.2" r="2.7"/><circle cx="85.4" cy="550.2" r="2.7"/><circle cx="87.1" cy="546.1" r="2.7"/><circle cx="89.3" cy="545.6" r="2.7"/><circle cx="90.6" cy="542" r="2.7"/><circle cx="91.5" cy="543.2" r="2.7"/><circle cx="92.6" cy="542.1" r="2.7"/><circle cx="96" cy="538.9" r="2.7"/><circle cx="95.4" cy="539.7" r="2.7"/><circle cx="97.8" cy="538.4" r="2.7"/><circle cx="98.9" cy="538.1" r="2.7"/><circle cx="100.8" cy="537" r="2.7"/><circle cx="102.3" cy="537.1" r="2.7"/><circle cx="102.8" cy="535.5" r="2.7"/><circle cx="104.9" cy="538.2" r="2.7"/><circle cx="106.8" cy="537.8" r="2.7"/><circle cx="108" cy="536" r="2.7"/><circle cx="109.6" cy="536" r="2.7"/><circle cx="110.5" cy="535.1" r="2.7"/><circle cx="112.2" cy="535.6" r="2.7"/><circle cx="113.9" cy="533.9" r="2.7"/><circle cx="114.9" cy="533.3" r="2.7"/><circle cx="116.1" cy="530" r="2.7"/><circle cx="118.4" cy="529.9" r="2.7"/><circle cx="119.9" cy="529.7" r="2.7"/><circle cx="120.8" cy="527.5" r="2.7"/><circle cx="123.7" cy="523.5" r="2.7"/><circle cx="124" cy="523.2" r="2.7"/><circle cx="125" cy="523.6" r="2.7"/><circle cx="127.2" cy="520.4" r="2.7"/><circle cx="128.6" cy="516.5" r="2.7"/><circle cx="130.7" cy="514" r="2.7"/><circle cx="131.9" cy="510.8" r="2.7"/><circle cx="133.1" cy="511.2" r="2.7"/><circle cx="133.6" cy="508.7" r="2.7"/><circle cx="136" cy="503.9" r="2.7"/><circle cx="137.5" cy="501.5" r="2.7"/></g></g>
<g fill-opacity="0.42"><g fill="#5fc860"><circle cx="264.8" cy="551" r="2.8"/><circle cx="262.6" cy="552.7" r="2.8"/><circle cx="273.8" cy="542.1" r="2.8"/><circle cx="272.4" cy="542.1" r="2.8"/><circle cx="310" cy="524.9" r="2.8"/><circle cx="310" cy="523.6" r="2.8"/><circle cx="275.3" cy="542.1" r="2.8"/><circle cx="316.4" cy="519.7" r="2.8"/><circle cx="314.4" cy="518.5" r="2.8"/><circle cx="306.4" cy="527.3" r="2.8"/><circle cx="265" cy="549" r="2.8"/><circle cx="311.6" cy="523.2" r="2.8"/><circle cx="298.5" cy="534.4" r="2.8"/><circle cx="317" cy="517.5" r="2.8"/><circle cx="319" cy="511.8" r="2.8"/><circle cx="316.9" cy="518.2" r="2.8"/><circle cx="315.7" cy="517.7" r="2.8"/><circle cx="274.1" cy="540.1" r="2.8"/><circle cx="310.4" cy="523.2" r="2.8"/><circle cx="271.2" cy="547.1" r="2.8"/><circle cx="259.7" cy="556" r="2.8"/><circle cx="258" cy="560.2" r="2.8"/><circle cx="265.9" cy="546.6" r="2.8"/><circle cx="286.9" cy="538" r="2.8"/><circle cx="319.1" cy="515.1" r="2.8"/><circle cx="314.4" cy="519.9" r="2.8"/><circle cx="302.2" cy="531.5" r="2.8"/><circle cx="311.3" cy="527" r="2.8"/><circle cx="313" cy="521.9" r="2.8"/><circle cx="303.3" cy="531.7" r="2.8"/></g><g fill="#40bc72"><circle cx="276.7" cy="543.6" r="2.8"/><circle cx="314.6" cy="516.2" r="2.8"/><circle cx="275.8" cy="540.2" r="2.8"/><circle cx="306.4" cy="528.9" r="2.8"/><circle cx="278.9" cy="537.4" r="2.8"/><circle cx="263.9" cy="554.4" r="2.8"/><circle cx="251.9" cy="568.7" r="2.8"/><circle cx="314.4" cy="518.6" r="2.8"/><circle cx="270.9" cy="545.1" r="2.8"/><circle cx="300.8" cy="533.3" r="2.8"/><circle cx="254.1" cy="565.1" r="2.8"/><circle cx="296.2" cy="534.5" r="2.8"/><circle cx="310.9" cy="524.8" r="2.8"/><circle cx="330.4" cy="494.9" r="2.8"/><circle cx="322.7" cy="508.5" r="2.8"/><circle cx="321.6" cy="509.4" r="2.8"/><circle cx="272.1" cy="545.7" r="2.8"/><circle cx="244" cy="581.9" r="2.8"/><circle cx="320" cy="513.3" r="2.8"/><circle cx="259.8" cy="556.3" r="2.8"/><circle cx="300.4" cy="536" r="2.8"/><circle cx="274.2" cy="542.6" r="2.8"/><circle cx="265.1" cy="550.9" r="2.8"/><circle cx="260.3" cy="555.8" r="2.8"/><circle cx="331.8" cy="493.9" r="2.8"/><circle cx="272.2" cy="544" r="2.8"/><circle cx="306.5" cy="528.8" r="2.8"/><circle cx="274" cy="543.5" r="2.8"/><circle cx="261" cy="555.5" r="2.8"/><circle cx="278" cy="540.2" r="2.8"/></g><g fill="#2bae7f"><circle cx="289" cy="535.2" r="2.8"/><circle cx="292.6" cy="531.9" r="2.8"/><circle cx="310.8" cy="521.8" r="2.8"/><circle cx="320.5" cy="513.6" r="2.8"/><circle cx="287" cy="536" r="2.8"/><circle cx="310" cy="525.8" r="2.8"/><circle cx="282.1" cy="536.2" r="2.8"/><circle cx="277.6" cy="537.9" r="2.8"/><circle cx="274.9" cy="543" r="2.8"/><circle cx="284.5" cy="534.3" r="2.8"/><circle cx="280.4" cy="539.6" r="2.8"/><circle cx="284.1" cy="537.5" r="2.8"/><circle cx="295.9" cy="534.2" r="2.8"/><circle cx="312.5" cy="524.3" r="2.8"/><circle cx="321.2" cy="510.8" r="2.8"/><circle cx="304.2" cy="530.2" r="2.8"/><circle cx="280.4" cy="538.6" r="2.8"/><circle cx="288.7" cy="535.6" r="2.8"/><circle cx="310.4" cy="522.6" r="2.8"/><circle cx="307.7" cy="525.9" r="2.8"/><circle cx="307.5" cy="528.3" r="2.8"/><circle cx="263.6" cy="553.2" r="2.8"/><circle cx="322.7" cy="509.9" r="2.8"/><circle cx="318.1" cy="517.4" r="2.8"/><circle cx="259.2" cy="557" r="2.8"/><circle cx="285.3" cy="537.6" r="2.8"/><circle cx="318" cy="513.8" r="2.8"/><circle cx="324.6" cy="506.7" r="2.8"/><circle cx="305.7" cy="527.6" r="2.8"/><circle cx="246.3" cy="577.5" r="2.8"/></g><g fill="#2d728e"><circle cx="262" cy="554.9" r="2.8"/><circle cx="259.1" cy="556.5" r="2.8"/><circle cx="285.2" cy="539" r="2.8"/><circle cx="285.7" cy="537.1" r="2.8"/><circle cx="262.7" cy="553.3" r="2.8"/><circle cx="285.3" cy="539.3" r="2.8"/><circle cx="257.1" cy="559.8" r="2.8"/><circle cx="289.3" cy="538.3" r="2.8"/><circle cx="324.9" cy="504.3" r="2.8"/><circle cx="277.5" cy="538.5" r="2.8"/><circle cx="247.8" cy="574.9" r="2.8"/><circle cx="279.5" cy="539.6" r="2.8"/><circle cx="317.9" cy="516.7" r="2.8"/><circle cx="303.4" cy="529.5" r="2.8"/><circle cx="278.5" cy="540.7" r="2.8"/><circle cx="288.4" cy="537.9" r="2.8"/><circle cx="265.6" cy="549.7" r="2.8"/><circle cx="301" cy="531.4" r="2.8"/><circle cx="289.2" cy="534" r="2.8"/><circle cx="271.2" cy="545.6" r="2.8"/><circle cx="267.5" cy="549" r="2.8"/><circle cx="327.7" cy="504.6" r="2.8"/><circle cx="327.6" cy="501.3" r="2.8"/><circle cx="258.3" cy="559.6" r="2.8"/><circle cx="325" cy="506.6" r="2.8"/><circle cx="304.7" cy="529.9" r="2.8"/><circle cx="276.8" cy="540.5" r="2.8"/><circle cx="248.4" cy="571.6" r="2.8"/><circle cx="251" cy="569.9" r="2.8"/><circle cx="255.7" cy="563.8" r="2.8"/></g><g fill="#22a286"><circle cx="311" cy="521.3" r="2.8"/><circle cx="298.1" cy="534.9" r="2.8"/><circle cx="303.1" cy="531.8" r="2.8"/><circle cx="257.9" cy="557.8" r="2.8"/><circle cx="270.8" cy="544.8" r="2.8"/><circle cx="325" cy="504.9" r="2.8"/><circle cx="263.2" cy="549.3" r="2.8"/><circle cx="330.2" cy="496.6" r="2.8"/><circle cx="331.6" cy="493.7" r="2.8"/><circle cx="256.7" cy="559.5" r="2.8"/><circle cx="259.8" cy="558.3" r="2.8"/><circle cx="329.2" cy="498.7" r="2.8"/><circle cx="309.8" cy="526.2" r="2.8"/><circle cx="262.2" cy="551.1" r="2.8"/><circle cx="302.6" cy="531.3" r="2.8"/><circle cx="247" cy="576.2" r="2.8"/><circle cx="309.6" cy="523.7" r="2.8"/><circle cx="309.1" cy="525.4" r="2.8"/><circle cx="293.2" cy="535.3" r="2.8"/><circle cx="326.9" cy="503" r="2.8"/><circle cx="301" cy="532.4" r="2.8"/><circle cx="287.1" cy="537.9" r="2.8"/><circle cx="267.6" cy="546.6" r="2.8"/><circle cx="320.8" cy="510.3" r="2.8"/><circle cx="258.5" cy="558.3" r="2.8"/><circle cx="293.6" cy="534" r="2.8"/><circle cx="270.3" cy="548.8" r="2.8"/><circle cx="282.9" cy="539.8" r="2.8"/><circle cx="308.8" cy="527.1" r="2.8"/><circle cx="310.1" cy="523.5" r="2.8"/></g><g fill="#21978a"><circle cx="313.5" cy="522" r="2.8"/><circle cx="307.3" cy="528" r="2.8"/><circle cx="281.4" cy="538.5" r="2.8"/><circle cx="270.1" cy="546.2" r="2.8"/><circle cx="288.3" cy="537.9" r="2.8"/><circle cx="304.3" cy="530.7" r="2.8"/><circle cx="299.9" cy="532.3" r="2.8"/><circle cx="263.9" cy="553" r="2.8"/><circle cx="290.7" cy="536.1" r="2.8"/><circle cx="311.2" cy="523.3" r="2.8"/><circle cx="258.4" cy="557.9" r="2.8"/><circle cx="307.3" cy="528.3" r="2.8"/><circle cx="313.6" cy="520.1" r="2.8"/><circle cx="246" cy="578.7" r="2.8"/><circle cx="252.7" cy="567.1" r="2.8"/><circle cx="261.3" cy="554.2" r="2.8"/><circle cx="299" cy="534.4" r="2.8"/><circle cx="271.8" cy="544.4" r="2.8"/><circle cx="268.7" cy="545.5" r="2.8"/><circle cx="301.5" cy="531.3" r="2.8"/><circle cx="312.3" cy="522.4" r="2.8"/><circle cx="248.9" cy="572.3" r="2.8"/><circle cx="276.2" cy="539.8" r="2.8"/><circle cx="246.3" cy="576.7" r="2.8"/><circle cx="280.6" cy="539.3" r="2.8"/><circle cx="323.5" cy="508.1" r="2.8"/><circle cx="266.9" cy="548" r="2.8"/><circle cx="275" cy="542.1" r="2.8"/><circle cx="312.9" cy="520.2" r="2.8"/><circle cx="283.7" cy="536.6" r="2.8"/></g><g fill="#33b47a"><circle cx="321" cy="511.6" r="2.8"/><circle cx="331.6" cy="495.3" r="2.8"/><circle cx="312.6" cy="519" r="2.8"/><circle cx="279.8" cy="540.8" r="2.8"/><circle cx="301.5" cy="534.5" r="2.8"/><circle cx="293.7" cy="536.7" r="2.8"/><circle cx="324" cy="508.7" r="2.8"/><circle cx="248.5" cy="571.4" r="2.8"/><circle cx="311.7" cy="525.5" r="2.8"/><circle cx="269.9" cy="543.5" r="2.8"/><circle cx="317.8" cy="518.2" r="2.8"/><circle cx="271.2" cy="544.1" r="2.8"/><circle cx="266.6" cy="548.5" r="2.8"/><circle cx="259.1" cy="559.8" r="2.8"/><circle cx="322.4" cy="511.9" r="2.8"/><circle cx="318.2" cy="513.6" r="2.8"/><circle cx="271" cy="543.8" r="2.8"/><circle cx="312.7" cy="524.1" r="2.8"/><circle cx="285.2" cy="537.9" r="2.8"/><circle cx="252.2" cy="568.7" r="2.8"/><circle cx="270.8" cy="544.1" r="2.8"/><circle cx="299.3" cy="531.7" r="2.8"/><circle cx="306.9" cy="527.4" r="2.8"/><circle cx="259.3" cy="556.2" r="2.8"/><circle cx="264.6" cy="549.7" r="2.8"/><circle cx="319.3" cy="514.3" r="2.8"/><circle cx="285" cy="537.8" r="2.8"/><circle cx="266.2" cy="549.3" r="2.8"/><circle cx="244.2" cy="580" r="2.8"/><circle cx="244.4" cy="579.6" r="2.8"/></g><g fill="#238b8c"><circle cx="263.5" cy="553.9" r="2.8"/><circle cx="308.3" cy="526.5" r="2.8"/><circle cx="255.8" cy="560.1" r="2.8"/><circle cx="248.2" cy="574.5" r="2.8"/><circle cx="295.6" cy="536.7" r="2.8"/><circle cx="301.1" cy="532.2" r="2.8"/><circle cx="304.5" cy="531.3" r="2.8"/><circle cx="300.5" cy="530.7" r="2.8"/><circle cx="247.1" cy="573.9" r="2.8"/><circle cx="323.4" cy="508.2" r="2.8"/><circle cx="279" cy="538" r="2.8"/><circle cx="297.3" cy="535" r="2.8"/><circle cx="284.8" cy="536.5" r="2.8"/><circle cx="279.7" cy="535.2" r="2.8"/><circle cx="315.2" cy="519.6" r="2.8"/><circle cx="275.6" cy="541" r="2.8"/><circle cx="316.5" cy="515.7" r="2.8"/><circle cx="272.8" cy="546.3" r="2.8"/><circle cx="310.4" cy="524.8" r="2.8"/><circle cx="255" cy="563.2" r="2.8"/><circle cx="306.8" cy="526.2" r="2.8"/><circle cx="330" cy="496.3" r="2.8"/><circle cx="282.5" cy="536" r="2.8"/><circle cx="287.2" cy="536" r="2.8"/><circle cx="261.8" cy="553.7" r="2.8"/><circle cx="246.6" cy="574.3" r="2.8"/><circle cx="302.1" cy="534.1" r="2.8"/><circle cx="306.3" cy="528.4" r="2.8"/><circle cx="293.2" cy="536.3" r="2.8"/><circle cx="298.2" cy="533" r="2.8"/></g><g fill="#287e8e"><circle cx="281.6" cy="540.5" r="2.8"/><circle cx="310.4" cy="521.7" r="2.8"/><circle cx="258.6" cy="557.3" r="2.8"/><circle cx="321.9" cy="510.1" r="2.8"/><circle cx="309.2" cy="526.3" r="2.8"/><circle cx="325.3" cy="503.5" r="2.8"/><circle cx="292" cy="537" r="2.8"/><circle cx="270.8" cy="546.1" r="2.8"/><circle cx="324.5" cy="504.1" r="2.8"/><circle cx="275.3" cy="540.8" r="2.8"/><circle cx="328.2" cy="498.8" r="2.8"/><circle cx="260.5" cy="555.8" r="2.8"/><circle cx="311.4" cy="523.5" r="2.8"/><circle cx="319.4" cy="513.2" r="2.8"/><circle cx="318.5" cy="513.7" r="2.8"/><circle cx="289.2" cy="538.9" r="2.8"/><circle cx="250.4" cy="571.6" r="2.8"/><circle cx="275.4" cy="543.7" r="2.8"/><circle cx="279.2" cy="539" r="2.8"/><circle cx="269.5" cy="545.9" r="2.8"/><circle cx="252" cy="566.1" r="2.8"/><circle cx="301.5" cy="530.8" r="2.8"/><circle cx="323.9" cy="506.8" r="2.8"/><circle cx="257.5" cy="558" r="2.8"/><circle cx="290.7" cy="538.2" r="2.8"/><circle cx="305.7" cy="528.4" r="2.8"/><circle cx="325" cy="507.1" r="2.8"/><circle cx="294.4" cy="535.5" r="2.8"/><circle cx="308.8" cy="524.8" r="2.8"/><circle cx="253.1" cy="566.7" r="2.8"/></g><g fill="#229c88"><circle cx="310.2" cy="525.2" r="2.8"/><circle cx="330.8" cy="495.2" r="2.8"/><circle cx="254.5" cy="562.2" r="2.8"/><circle cx="269.4" cy="547.4" r="2.8"/><circle cx="303.6" cy="531.3" r="2.8"/><circle cx="249.6" cy="572.4" r="2.8"/><circle cx="307.7" cy="525.5" r="2.8"/><circle cx="243" cy="582.1" r="2.8"/><circle cx="246.9" cy="574.2" r="2.8"/><circle cx="331.6" cy="494.3" r="2.8"/><circle cx="284" cy="537.2" r="2.8"/><circle cx="277.9" cy="541.2" r="2.8"/><circle cx="313.6" cy="521.9" r="2.8"/><circle cx="266.4" cy="547.8" r="2.8"/><circle cx="274.3" cy="542.1" r="2.8"/><circle cx="266.2" cy="550.3" r="2.8"/><circle cx="290.5" cy="539.5" r="2.8"/><circle cx="326.8" cy="502.6" r="2.8"/><circle cx="267.6" cy="548.4" r="2.8"/><circle cx="278.8" cy="538.4" r="2.8"/><circle cx="320.6" cy="510" r="2.8"/><circle cx="255.4" cy="562.2" r="2.8"/><circle cx="306" cy="531.2" r="2.8"/><circle cx="319.7" cy="512" r="2.8"/><circle cx="297.6" cy="534" r="2.8"/><circle cx="309.4" cy="526.7" r="2.8"/><circle cx="265.2" cy="547.4" r="2.8"/><circle cx="285" cy="538.7" r="2.8"/><circle cx="288.2" cy="536.2" r="2.8"/><circle cx="276.9" cy="541" r="2.8"/></g><g fill="#306b8e"><circle cx="295.4" cy="534.3" r="2.8"/><circle cx="330.8" cy="497.5" r="2.8"/><circle cx="250.7" cy="571.5" r="2.8"/><circle cx="300.6" cy="532.2" r="2.8"/><circle cx="256.8" cy="561.7" r="2.8"/><circle cx="269.1" cy="547.4" r="2.8"/><circle cx="315.9" cy="517.2" r="2.8"/><circle cx="287.6" cy="539.1" r="2.8"/><circle cx="245.2" cy="578" r="2.8"/><circle cx="271.3" cy="544.7" r="2.8"/><circle cx="262" cy="556.2" r="2.8"/><circle cx="309.9" cy="524.7" r="2.8"/><circle cx="274.2" cy="539.8" r="2.8"/><circle cx="255.6" cy="560.3" r="2.8"/><circle cx="327.5" cy="501.5" r="2.8"/><circle cx="247.3" cy="576.2" r="2.8"/><circle cx="314.3" cy="521.4" r="2.8"/><circle cx="318" cy="516.9" r="2.8"/><circle cx="254.3" cy="565.5" r="2.8"/><circle cx="243.6" cy="581.4" r="2.8"/><circle cx="307.1" cy="526.7" r="2.8"/><circle cx="329.2" cy="496.3" r="2.8"/><circle cx="306.2" cy="529.1" r="2.8"/><circle cx="276.1" cy="538" r="2.8"/><circle cx="318.7" cy="514.9" r="2.8"/><circle cx="319.4" cy="511.6" r="2.8"/><circle cx="312" cy="519.9" r="2.8"/><circle cx="289.9" cy="536.3" r="2.8"/><circle cx="318.1" cy="516.1" r="2.8"/><circle cx="250.3" cy="570.3" r="2.8"/></g><g fill="#21918c"><circle cx="267.4" cy="547.7" r="2.8"/><circle cx="283.5" cy="537.2" r="2.8"/><circle cx="255" cy="562.5" r="2.8"/><circle cx="264.8" cy="549.2" r="2.8"/><circle cx="297.7" cy="533.2" r="2.8"/><circle cx="251.9" cy="570.4" r="2.8"/><circle cx="331.7" cy="492.7" r="2.8"/><circle cx="273.8" cy="539.8" r="2.8"/><circle cx="303.5" cy="531.2" r="2.8"/><circle cx="327" cy="502.8" r="2.8"/><circle cx="258.2" cy="557.6" r="2.8"/><circle cx="314.1" cy="519.7" r="2.8"/><circle cx="290.3" cy="538.2" r="2.8"/><circle cx="312.6" cy="524" r="2.8"/><circle cx="312.4" cy="522" r="2.8"/><circle cx="263" cy="551" r="2.8"/><circle cx="248.1" cy="574.1" r="2.8"/><circle cx="247.6" cy="575.5" r="2.8"/><circle cx="249.7" cy="569.1" r="2.8"/><circle cx="285.3" cy="535.5" r="2.8"/><circle cx="318.8" cy="516.7" r="2.8"/><circle cx="328.2" cy="499.5" r="2.8"/><circle cx="295.1" cy="539.3" r="2.8"/><circle cx="280.2" cy="539.1" r="2.8"/><circle cx="249.9" cy="568.3" r="2.8"/><circle cx="280.4" cy="541" r="2.8"/><circle cx="281.4" cy="538.1" r="2.8"/><circle cx="297.9" cy="535" r="2.8"/><circle cx="267.1" cy="549.4" r="2.8"/><circle cx="246.5" cy="577.7" r="2.8"/></g><g fill="#26848d"><circle cx="299.5" cy="532.3" r="2.8"/><circle cx="249.6" cy="569.2" r="2.8"/><circle cx="261.7" cy="554.8" r="2.8"/><circle cx="288.7" cy="536.8" r="2.8"/><circle cx="262" cy="554.7" r="2.8"/><circle cx="296" cy="534.2" r="2.8"/><circle cx="313" cy="521.2" r="2.8"/><circle cx="316" cy="518.9" r="2.8"/><circle cx="292.6" cy="537.6" r="2.8"/><circle cx="254.7" cy="564.9" r="2.8"/><circle cx="250.5" cy="567.5" r="2.8"/><circle cx="310.4" cy="525.2" r="2.8"/><circle cx="310.2" cy="524.8" r="2.8"/><circle cx="248" cy="574.4" r="2.8"/><circle cx="287.5" cy="537.3" r="2.8"/><circle cx="285.5" cy="536.1" r="2.8"/><circle cx="306" cy="528.1" r="2.8"/><circle cx="322.2" cy="508.8" r="2.8"/><circle cx="304.8" cy="529" r="2.8"/><circle cx="275.5" cy="538.8" r="2.8"/><circle cx="265" cy="552.7" r="2.8"/><circle cx="277.2" cy="541.6" r="2.8"/><circle cx="246.7" cy="576.3" r="2.8"/><circle cx="249.5" cy="571" r="2.8"/><circle cx="285.6" cy="537" r="2.8"/><circle cx="278.5" cy="539.5" r="2.8"/><circle cx="309.2" cy="525.8" r="2.8"/><circle cx="247.3" cy="575.9" r="2.8"/><circle cx="315.7" cy="519.8" r="2.8"/><circle cx="255.2" cy="564.2" r="2.8"/></g><g fill="#297b8e"><circle cx="321.9" cy="508.7" r="2.8"/><circle cx="319.4" cy="513.7" r="2.8"/><circle cx="304.9" cy="531.7" r="2.8"/><circle cx="289.8" cy="536.7" r="2.8"/><circle cx="258.4" cy="557.5" r="2.8"/><circle cx="281.1" cy="538.3" r="2.8"/><circle cx="262.8" cy="551.8" r="2.8"/><circle cx="262.1" cy="555.8" r="2.8"/><circle cx="247.4" cy="573.7" r="2.8"/><circle cx="257.9" cy="556.6" r="2.8"/><circle cx="271.2" cy="547.4" r="2.8"/><circle cx="317.3" cy="514.8" r="2.8"/><circle cx="281.7" cy="537" r="2.8"/><circle cx="291.5" cy="536.3" r="2.8"/><circle cx="259.3" cy="557.3" r="2.8"/><circle cx="277.2" cy="541" r="2.8"/><circle cx="272.6" cy="542.6" r="2.8"/><circle cx="272.3" cy="543.7" r="2.8"/><circle cx="319.6" cy="512.9" r="2.8"/><circle cx="327.2" cy="503.6" r="2.8"/><circle cx="259.1" cy="555.8" r="2.8"/><circle cx="297.5" cy="533.6" r="2.8"/><circle cx="301.1" cy="531" r="2.8"/><circle cx="258.8" cy="557.6" r="2.8"/><circle cx="325.7" cy="503.4" r="2.8"/><circle cx="332.1" cy="496.2" r="2.8"/><circle cx="305.7" cy="528.8" r="2.8"/><circle cx="308.3" cy="527.1" r="2.8"/><circle cx="268.1" cy="545.7" r="2.8"/><circle cx="245" cy="576.3" r="2.8"/></g><g fill="#21948b"><circle cx="263.5" cy="549.7" r="2.8"/><circle cx="288" cy="538.7" r="2.8"/><circle cx="306.1" cy="526.9" r="2.8"/><circle cx="291.2" cy="538.3" r="2.8"/><circle cx="271.3" cy="541.2" r="2.8"/><circle cx="332" cy="496" r="2.8"/><circle cx="260.8" cy="555.8" r="2.8"/><circle cx="247.8" cy="574.7" r="2.8"/><circle cx="274.8" cy="544.6" r="2.8"/><circle cx="314.8" cy="520.1" r="2.8"/><circle cx="297.6" cy="533.9" r="2.8"/><circle cx="249.7" cy="570.2" r="2.8"/><circle cx="311.8" cy="523.1" r="2.8"/><circle cx="285" cy="539.2" r="2.8"/><circle cx="269.5" cy="545.4" r="2.8"/><circle cx="295.4" cy="534.2" r="2.8"/><circle cx="248.9" cy="571.6" r="2.8"/><circle cx="251.5" cy="570.8" r="2.8"/><circle cx="318.1" cy="515.9" r="2.8"/><circle cx="298.9" cy="533.5" r="2.8"/><circle cx="325.2" cy="508.1" r="2.8"/><circle cx="326.8" cy="503.9" r="2.8"/><circle cx="252.7" cy="563.7" r="2.8"/><circle cx="261.4" cy="554.8" r="2.8"/><circle cx="265.9" cy="551" r="2.8"/><circle cx="262.3" cy="554.5" r="2.8"/><circle cx="301.4" cy="530.6" r="2.8"/><circle cx="285" cy="538.6" r="2.8"/><circle cx="298.9" cy="532" r="2.8"/><circle cx="246.5" cy="578" r="2.8"/></g></g>
<rect x="41.7" y="480.3" width="124.9" height="113.4" fill="none" stroke="#000" stroke-width="1.6"/>
<path d="M72.9 593.7v-5.5M72.9 480.3v5.5M104.2 593.7v-5.5M104.2 480.3v5.5M135.4 593.7v-5.5M135.4 480.3v5.5M41.7 494.5h5.5M166.6 494.5h-5.5M41.7 508.7h5.5M166.6 508.7h-5.5M41.7 522.8h5.5M166.6 522.8h-5.5M41.7 537h5.5M166.6 537h-5.5M41.7 551.2h5.5M166.6 551.2h-5.5M41.7 565.4h5.5M166.6 565.4h-5.5M41.7 579.5h5.5M166.6 579.5h-5.5" stroke="#000" stroke-width="1" fill="none"/>
<rect x="225.6" y="480.3" width="124.9" height="113.4" fill="none" stroke="#000" stroke-width="1.6"/>
<path d="M256.8 593.7v-5.5M256.8 480.3v5.5M288.1 593.7v-5.5M288.1 480.3v5.5M319.3 593.7v-5.5M319.3 480.3v5.5M225.6 494.5h5.5M350.5 494.5h-5.5M225.6 508.7h5.5M350.5 508.7h-5.5M225.6 522.8h5.5M350.5 522.8h-5.5M225.6 537h5.5M350.5 537h-5.5M225.6 551.2h5.5M350.5 551.2h-5.5M225.6 565.4h5.5M350.5 565.4h-5.5M225.6 579.5h5.5M350.5 579.5h-5.5" stroke="#000" stroke-width="1" fill="none"/>
<g font-family="'DejaVu Sans','Liberation Sans',sans-serif" font-size="12" fill="#000">
<text x="41.7" y="609.6" text-anchor="middle">−30</text>
<text x="72.9" y="609.6" text-anchor="middle">−15</text>
<text x="104.2" y="609.6" text-anchor="middle">0</text>
<text x="135.4" y="609.6" text-anchor="middle">15</text>
<text x="166.6" y="609.6" text-anchor="middle">30</text>
<text x="34.7" y="484.7" text-anchor="end">4</text>
<text x="34.7" y="498.9" text-anchor="end">3</text>
<text x="34.7" y="513.1" text-anchor="end">2</text>
<text x="34.7" y="527.2" text-anchor="end">1</text>
<text x="34.7" y="541.4" text-anchor="end">0</text>
<text x="34.7" y="555.6" text-anchor="end">−1</text>
<text x="34.7" y="569.8" text-anchor="end">−2</text>
<text x="34.7" y="583.9" text-anchor="end">−3</text>
<text x="34.7" y="598.1" text-anchor="end">−4</text>
<text x="225.6" y="609.6" text-anchor="middle">−0.6</text>
<text x="256.8" y="609.6" text-anchor="middle">−0.3</text>
<text x="288.1" y="609.6" text-anchor="middle">0.0</text>
<text x="319.3" y="609.6" text-anchor="middle">0.3</text>
<text x="350.5" y="609.6" text-anchor="middle">0.6</text>
<text x="218.6" y="484.7" text-anchor="end">4</text>
<text x="218.6" y="498.9" text-anchor="end">3</text>
<text x="218.6" y="513.1" text-anchor="end">2</text>
<text x="218.6" y="527.2" text-anchor="end">1</text>
<text x="218.6" y="541.4" text-anchor="end">0</text>
<text x="218.6" y="555.6" text-anchor="end">−1</text>
<text x="218.6" y="569.8" text-anchor="end">−2</text>
<text x="218.6" y="583.9" text-anchor="end">−3</text>
<text x="218.6" y="598.1" text-anchor="end">−4</text>
<text x="103.4" y="622.6" text-anchor="middle" font-size="14">k<tspan font-family="'Liberation Serif','DejaVu Serif',serif" font-size="9.8" dy="2.8">Φ</tspan><tspan dy="-2.8"> (1/rad)</tspan></text>
<text x="288" y="622.6" text-anchor="middle" font-size="14.4">k<tspan font-family="'Liberation Serif','DejaVu Serif',serif" font-size="9.8" dy="2.8">Φ</tspan><tspan dy="-2.8">/R (1/</tspan><tspan font-family="'Liberation Serif','DejaVu Serif',serif">µm</tspan> rad)</text>
<text transform="translate(16 537.4) rotate(-90)" text-anchor="middle" font-size="14.6"><tspan font-family="'Liberation Serif','DejaVu Serif',serif" font-size="14.5">ω</tspan> (1/sec)</text>
<text transform="translate(199.9 537.4) rotate(-90)" text-anchor="middle" font-size="14.6"><tspan font-family="'Liberation Serif','DejaVu Serif',serif" font-size="14.5">ω</tspan> (1/sec)</text>
<text x="389.6" y="600.6" font-size="13">0</text>
<text x="389.6" y="568.7" font-size="13">20</text>
<text x="389.6" y="536.8" font-size="13">40</text>
<text x="389.6" y="504.9" font-size="13">60</text>
<text x="389.6" y="473" font-size="13">80</text>
<text transform="translate(426.5 532.3) rotate(-90)" text-anchor="middle" font-size="14.4">Droplet Radius (<tspan font-family="'Liberation Serif','DejaVu Serif',serif">µm</tspan>)</text>
</g>
<defs><linearGradient id="vir" x1="0" y1="1" x2="0" y2="0"><stop offset="0" stop-color="#440154"/><stop offset="0.1" stop-color="#482475"/><stop offset="0.2" stop-color="#414487"/><stop offset="0.3" stop-color="#355f8d"/><stop offset="0.4" stop-color="#2a788e"/><stop offset="0.5" stop-color="#21918c"/><stop offset="0.6" stop-color="#22a884"/><stop offset="0.7" stop-color="#44bf70"/><stop offset="0.8" stop-color="#7ad151"/><stop offset="0.9" stop-color="#bddf26"/><stop offset="1" stop-color="#fde725"/></linearGradient></defs>
<rect x="374.8" y="467.9" width="8.1" height="129" fill="url(#vir)" stroke="#000" stroke-width="1.5"/>
<path d="M374.8 563.9h8.1M374.8 532h8.1M374.8 500.1h8.1" stroke="#000" stroke-opacity="0.55" stroke-width="0.9"/>
<text x="11.2" y="463.6" font-family="'Liberation Sans',Arial,Helvetica,sans-serif" font-size="16.5" font-weight="bold" fill="#000">c</text>
<text x="450.8" y="96.6" font-family="'Liberation Sans',Arial,Helvetica,sans-serif" font-size="16.5" font-weight="bold" fill="#000">d</text>
<g fill="#f35f06" stroke="none">
<path d="M474.1 125L477.3 124.7L480.5 124.4L483.8 124L487.2 123.5L490.9 122.8L494.7 121.8L498.9 120.5L503.1 119L507.2 117.3L510.9 115.8L514.1 114.3L517.1 113L520 111.7L522.8 110.4L525.7 109L528.6 107.7L531.8 106.2L535.3 104.7L539.1 103.2L542.9 101.9L546.5 101L549.8 100.6L553 100.5L556.2 100.7L559.5 101.2L563 102L566.4 102.9L569.9 104.1L573.5 105.4L577 106.9L580.6 108.4L584.2 110.1L587.8 111.7L591.4 113.3L594.9 114.8L598.3 116.1L601.6 117.3L604.9 118.4L608.2 119.2L611.5 119.8L614.9 120.3L618.3 120.7L621.8 121.1L625.6 121.4L629.5 121.6L633.4 121.6L637.3 121.4L641 121L644.5 120.4L648 119.4L651.4 118.2L654.9 116.7L658.5 114.9L662.2 112.9L665.8 110.9L669.5 108.9L673.1 107.1L676.7 105.5L680.2 104.1L683.6 103.2L687.1 102.7L690.8 102.5L694.7 102.7L698.8 103.3L703 104.1L707.1 105.2L711 106.5L714.8 108L718.4 109.7L722 111.5L725.6 113.3L729.3 115L732.9 116.5L736.6 117.9L740.2 119.1L743.7 120.1L747.2 121L750.7 121.7L754.4 122.3L758.2 122.9L762 123.4L765.7 123.9L769.2 124.3L769.8 119.7L766.3 119.2L762.7 118.7L758.9 118.1L755.2 117.4L751.6 116.8L748.3 116.1L745 115.3L741.7 114.3L738.3 113.2L734.8 111.9L731.3 110.4L727.7 108.8L724.1 107.1L720.5 105.4L716.6 103.7L712.6 102.2L708.3 100.9L703.8 99.9L699.4 99.2L695 98.8L690.7 98.8L686.7 99.2L682.9 100.1L679.2 101.3L675.6 102.9L672 104.7L668.3 106.8L664.7 108.9L661.1 111.1L657.6 113.2L654.1 115L650.8 116.6L647.5 117.9L644.2 118.8L640.7 119.5L637.1 120L633.4 120.1L629.5 120.1L625.7 119.9L622 119.5L618.6 118.8L615.4 117.9L612.3 116.8L609.4 115.5L606.4 114.2L603.3 112.9L600.1 111.6L596.9 110.2L593.4 108.7L589.9 107.1L586.2 105.5L582.5 103.9L578.8 102.4L575.1 101L571.4 99.7L567.7 98.6L563.9 97.7L560.2 97.1L556.5 96.7L552.9 96.6L549.4 97L545.7 97.7L541.9 98.8L538 100.2L534.1 101.9L530.6 103.5L527.4 105.1L524.4 106.5L521.6 107.9L518.8 109.2L516 110.6L513.1 111.9L509.8 113.4L506.2 115L502.2 116.6L498 118.2L494.1 119.5L490.3 120.5L486.8 121.2L483.4 121.7L480.2 122.2L477.1 122.5L473.9 122.8Z" stroke="#f35f06" stroke-width="0.6" stroke-linejoin="round"/>
</g>
<g fill="none" stroke="#f35f06" stroke-linecap="round" stroke-linejoin="round">
<path d="M524.5 117.3C508 125.5 490 131 472 134.6" stroke-width="2.2"/>
<path d="M479.8 129.2L470.8 135L482.6 137.4" stroke-width="3"/>
<path d="M535.3 112.7C545 107.4 558 106.8 570.5 109.8" stroke-width="1.8"/>
<path d="M566 105.4L571 110L561.7 112.7" stroke-width="1.8"/>
<path d="M657.6 121C654.8 122 646.2 125.8 641 127.1C635.8 128.4 631.4 128.7 626.6 128.8C621.8 128.9 617 128.6 612.2 127.8C607.4 127 602.1 125.5 597.8 124.2C593.5 122.9 589.2 121 586.2 119.9C583.2 118.8 580.7 118.2 579.6 117.8" stroke-width="2"/>
<path d="M587.7 116.3L579.3 117.7L584.8 124.2" stroke-width="2.2"/>
<path d="M669.6 115.5C670.8 114.7 674.3 111.9 677 110.8C679.7 109.7 682.5 108.9 686 108.7C689.5 108.5 693.4 108.9 697.8 109.6C702.2 110.3 710 112.4 712.5 112.9" stroke-width="1.9"/>
<path d="M710 109.6L712.9 113L702 117" stroke-width="1.9"/>
<path d="M764.4 130.4C761.5 130.2 752 129.8 747.1 129.3C742.2 128.8 738.4 127.9 735 127.2C731.6 126.5 728.3 125.4 727 125" stroke-width="2.2"/>
<path d="M733.4 122L726.6 124.9L731.2 128.8" stroke-width="2.2"/>
<path d="M474 114.6L485.5 114.3M626.4 112.8L635.6 112.6M763.7 115L770.9 114.4" stroke-width="1.6"/>
<path d="M544.3 91L558.4 90.6M550.2 86.2L550.4 93.4M688.1 88.5L704.3 88.2M694.2 83.5L694.4 92.4" stroke-width="1.7"/>
</g>
<path d="M474.4 193.3L479 192.8L483.8 192.1L488.7 191.3L493.8 190.3L498.8 189L503.8 187.4L508.6 185.6L513.3 183.7L517.7 181.6L522.1 179.6L526.5 177.5L531.1 175.6L535.9 173.9L540.8 172.4L545.7 171.3L550.3 170.5L554.7 170L558.7 170L562.5 170.2L566.1 170.8L569.6 171.7L573.1 172.8L576.6 174.2L580.3 175.7L584.1 177.3L588 179L592 180.7L596.2 182.4L600.4 184.1L604.8 185.6L609.2 187L613.8 188.1L618.3 189L622.8 189.7L627.1 190L631.3 190.1L635.2 189.9L639 189.5L642.7 188.9L646.3 188L649.9 186.9L653.5 185.6L657.1 184.1L660.7 182.4L664.3 180.5L667.8 178.6L671.3 176.6L674.7 174.8L678.1 173.1L681.5 171.7L684.9 170.6L688.3 169.8L691.8 169.4L695.4 169.3L699 169.6L702.6 170.3L706.1 171.3L709.7 172.6L713.1 174.1L716.6 175.8L720 177.7L723.5 179.5L727.1 181.3L730.8 182.9L734.6 184.4L738.4 185.8L742.1 187L745.7 188.2L749.4 189.3L753.1 190.4" fill="none" stroke="#c1c1c1" stroke-width="2.5" stroke-linecap="round" stroke-linejoin="round"/>
<g fill="none" stroke="#f35f06" stroke-linejoin="round">
<path d="M476 193.6C479 193.2 487.5 192.9 493.9 191.3C500.2 189.7 510.7 185.1 514.1 183.9" stroke-width="2.4" stroke-linecap="round"/>
<path d="M549.5 169.7C550.6 169.6 553.2 168.9 556 169C558.8 169.1 562.5 169.3 566.1 170.2C569.7 171.1 575.7 173.8 577.6 174.5" stroke-width="2.6"/>
<path d="M613.4 187.9C616.2 188.4 624.8 190.6 630 190.8C635.2 191 639.8 189.9 644.4 188.9C649 187.9 655.2 185.3 657.4 184.6" stroke-width="2.4"/>
<path d="M680.2 171.6C682.5 171.1 689.2 168.4 693.9 168.3C698.6 168.2 704.2 169.5 708.3 170.9C712.4 172.3 716.7 175.7 718.4 176.7" stroke-width="3"/>
<path d="M757 191.4C759.5 191.9 769.4 194.1 771.9 194.7" stroke-width="3" stroke-linecap="round"/>
<path d="M518.4 185.3C520.1 185.4 525.6 186.5 528.5 186C531.4 185.5 533.6 184.2 535.8 182.4C538 180.6 539.2 177.3 541.5 175.2C543.8 173.1 548.2 170.6 549.5 169.7" stroke-width="2" stroke-dasharray="5 3.4"/>
<path d="M578.5 174.3C579.7 173.8 582.9 171.3 585.5 171C588.1 170.7 591.1 171.3 593.9 172.3C596.7 173.3 600.1 174.9 602.5 176.9C604.9 178.9 606.5 182.8 608.3 184.6C610.1 186.4 612.5 187.3 613.4 187.9" stroke-width="3" stroke-dasharray="6 3.2"/>
<path d="M659 185.2C660.2 185.3 663.4 186.3 666 186C668.6 185.7 672.3 184.5 674.7 183.2C677.1 181.9 679.6 179.9 680.5 178.1C681.4 176.3 679.9 173.3 679.8 172.3" stroke-width="2.2" stroke-dasharray="5 3.2"/>
<path d="M718.4 176.7C719.9 176.3 724.5 175.1 727.1 174.5C729.8 173.9 731.4 172.5 734.3 173C737.2 173.5 741.5 175.3 744.4 177.4C747.3 179.5 750 183.1 751.6 185.3C753.2 187.5 753.4 189.6 753.8 190.4" stroke-width="3.2" stroke-dasharray="6.5 3.4"/>
</g>
<path d="M474.4 257.8L479 257.4L483.8 256.9L488.6 256.1L493.5 255.1L498.4 253.7L503.1 252L507.8 250.1L512.4 248L516.8 245.8L521.2 243.6L525.6 241.5L529.8 239.7L533.9 238.2L537.8 237L541.6 236.1L545.3 235.4L549.1 235L553.1 234.8L557.1 235L561.1 235.4L565.2 236.2L569.4 237.3L573.6 238.7L577.9 240.3L582.4 242.1L587 243.9L591.7 245.9L596.4 247.7L601.2 249.5L606.1 251.1L611 252.6L615.9 253.7L620.9 254.6L625.7 255.1L630.4 255.3L634.9 255.1L639.4 254.6L643.8 253.7L648.1 252.5L652.4 251L656.7 249.3L660.8 247.3L664.8 245.2L668.6 243.1L672.1 241L675.5 239.1L678.8 237.5L682 236.1L685.3 235.1L688.7 234.5L692.2 234.2L695.8 234.3L699.5 234.8L703.2 235.6L706.8 236.7L710.5 238.1L714.2 239.7L718.1 241.5L722.1 243.4L726.2 245.3L730.4 247.1L734.5 248.7L738.3 250.1L741.8 251.3L745.1 252.4L748.4 253.4L751.8 254.3L755.2 255.2L758.6 256.1L762.2 256.9L765.8 257.8L769.5 258.7" fill="none" stroke="#c1c1c1" stroke-width="2.5" stroke-linecap="round" stroke-linejoin="round"/>
<path d="M499.7 260.5L504.4 260.4L508.9 260.1L513.2 259.7L517.4 258.9L521.3 257.9L525.1 256.5L528.7 255L532.3 253.4L536 251.7L539.6 249.9L543.2 248L546.8 246.1L550.4 244.3L554 242.5L557.6 240.8L561.2 239.4L564.9 238.1L568.5 237L572.2 236.2L576 235.7L580 235.7L584.3 236.1L588.7 237L593.3 238.1L597.7 239.5L601.8 241L605.6 242.6L609.2 244.3L612.8 246L616.4 247.7L620.2 249.4L623.9 251.1L627.6 252.6L631.2 253.8L634.8 254.8L638.3 255.5L641.8 255.9L645.3 256.3L649 256.6L652.7 256.9L656.5 257L660.2 257L664 256.6L667.9 256L672 254.9L676.1 253.4L680.1 251.6L683.9 249.6L687.6 247.5L691.2 245.5L694.7 243.6L698.3 241.9L701.9 240.4L705.5 239.2L709.1 238.3L712.6 237.7L716.3 237.5L720.3 237.7L724.4 238.3L728.5 239.2L732.7 240.5L736.6 241.9L740.4 243.5L744 245.3L747.6 247.1L751.2 248.9L754.8 250.5L758.5 252.1L762.2 253.4L766 254.6L769.7 255.5L773.5 256.1L777.2 256.7L780.9 257.3L784.5 257.8L788 258.4L791.3 258.9L794.4 259.5L795.2 255.1L792.1 254.6L788.8 254L785.2 253.3L781.6 252.7L777.9 252.1L774.3 251.4L770.8 250.7L767.3 249.8L763.8 248.6L760.3 247.3L756.9 245.8L753.3 244.2L749.8 242.6L746.1 240.8L742.2 239.2L738.1 237.7L733.8 236.5L729.4 235.5L724.9 234.8L720.5 234.5L716.2 234.5L712.2 235L708.4 235.8L704.8 237L701.1 238.4L697.5 240.1L693.9 242L690.3 244L686.8 246.1L683.2 248.3L679.4 250.3L675.6 252.2L671.6 253.7L667.7 254.7L663.8 255.4L660.2 255.8L656.5 255.8L652.8 255.6L649.1 255.2L645.6 254.5L642.3 253.5L639.2 252.3L636.1 250.9L632.9 249.4L629.5 247.9L625.9 246.3L622.3 244.7L618.6 243L614.9 241.4L611.2 239.7L607.4 238.2L603.3 236.7L598.9 235.4L594.2 234.3L589.4 233.5L584.6 232.9L580.1 232.8L575.8 233.1L571.8 233.8L567.9 234.7L564.2 235.9L560.4 237.3L556.7 238.8L553 240.4L549.3 242.2L545.7 244L542.1 245.8L538.4 247.6L534.9 249.4L531.3 251.1L527.7 252.6L524.1 254L520.5 255.1L516.8 256.1L512.8 256.7L508.7 257.1L504.2 257.4L499.7 257.5Z" fill="#f35f06" stroke="#f35f06" stroke-width="0.6" stroke-linejoin="round"/>
<path d="M486.3 429.2L488.3 428.8L490.3 427.6L492.3 425.7L494.3 423L496.3 419.6L498.3 415.4L500.3 410.6L502.3 405.2L504.3 399.1L506.3 392.6L508.3 385.6L510.2 378.3L512.2 370.8L514.2 363.1L516.2 355.5L518.2 347.9L520.2 340.5L522.2 333.5L524.2 326.9L526.2 320.8L528.2 315.3L530.2 310.4L532.2 306.1L534.2 302.5L536.2 299.5L538.2 297.1L540.2 295.2L542.2 293.8L544.2 292.9L546.2 292.2L548.2 291.8L550.2 291.6L552.2 291.4L554.2 291.4L556.1 291.4L558.1 291.4L560.1 291.4L562.1 291.6L564.1 291.8L566.1 292.2L568.1 292.9L570.1 293.8L572.1 295.2L574.1 297.1L576.1 299.5L578.1 302.5L580.1 306.1L582.1 310.4L584.1 315.3L586.1 320.8L588.1 326.9L590.1 333.5L592.1 340.5L594.1 347.9L596.1 355.5L598.1 363.1L600.1 370.8L602.1 378.3L604 385.6L606 392.6L608 399.1L610 405.2L612 410.6L614 415.4L616 419.6L618 423L620 425.7L622 427.6L624 428.8L626 429.2L628 428.8L630 427.6L632 425.7L634 423L636 419.6L638 415.4L640 410.6L642 405.2L644 399.1L646 392.6L648 385.6L649.9 378.3L651.9 370.8L653.9 363.1L655.9 355.5L657.9 347.9L659.9 340.5L661.9 333.5L663.9 326.9L665.9 320.8L667.9 315.3L669.9 310.4L671.9 306.1L673.9 302.5L675.9 299.5L677.9 297.1L679.9 295.2L681.9 293.8L683.9 292.9L685.9 292.2L687.9 291.8L689.9 291.6L691.9 291.4L693.9 291.4L695.9 291.4L697.8 291.4L699.8 291.4L701.8 291.6L703.8 291.8L705.8 292.2L707.8 292.9L709.8 293.8L711.8 295.2L713.8 297.1L715.8 299.5L717.8 302.5L719.8 306.1L721.8 310.4L723.8 315.3L725.8 320.8L727.8 326.9L729.8 333.5L731.8 340.5L733.8 347.9L735.8 355.5L737.8 363.1L739.8 370.8L741.8 378.3L743.7 385.6L745.7 392.6L747.7 399.1L749.7 405.2L751.7 410.6L753.7 415.4L755.7 419.6L757.7 423L759.7 425.7L761.7 427.6L763.7 428.8L765.7 429.2" fill="none" stroke="#5e81b5" stroke-width="1.6" stroke-linejoin="round"/>
<path d="M486.3 334.9H765.7" stroke="#000" stroke-width="1.2"/>
<rect x="486.3" y="287.3" width="279.4" height="144.5" fill="none" stroke="#000" stroke-width="2.3"/>
<path d="M556.1 287.3v2.6M556.1 431.8v-2.6M626 287.3v2.6M626 431.8v-2.6M695.9 287.3v2.6M695.9 431.8v-2.6" stroke="#000" stroke-width="1.2"/>
<g font-family="'Liberation Sans',Arial,Helvetica,sans-serif" font-size="12.5" fill="#111">
<text transform="translate(487 447.2) scale(0.94 1)" font-size="13.3" text-anchor="middle">0.0</text>
<text transform="translate(556.3 447.2) scale(0.94 1)" font-size="13.3" text-anchor="middle">0.5</text>
<text transform="translate(625.6 447.2) scale(0.94 1)" font-size="13.3" text-anchor="middle">1.0</text>
<text transform="translate(694.9 447.2) scale(0.94 1)" font-size="13.3" text-anchor="middle">1.5</text>
<text transform="translate(764.2 447.2) scale(0.94 1)" font-size="13.3" text-anchor="middle">2.0</text>
<text transform="translate(483.2 339.7) scale(0.94 1)" text-anchor="end" font-size="13.6">0</text>
</g>
<text transform="translate(469.8 358.9) rotate(-90)" text-anchor="middle" font-family="'Liberation Sans',Arial,Helvetica,sans-serif" font-size="10.8" fill="#111"><tspan font-style="italic">J</tspan><tspan font-style="italic" font-size="8.6" dy="2.2">X</tspan><tspan dy="-2.2">–</tspan><tspan font-style="italic">J</tspan><tspan font-size="7.5" dy="-4.4" font-style="italic">0</tspan><tspan font-style="italic" font-size="8.6" dy="6.6">X</tspan><tspan dy="-2.2"> (a.u.)</tspan></text>
<text x="451.5" y="306" font-family="'Liberation Sans',Arial,Helvetica,sans-serif" font-size="16.5" font-weight="bold" fill="#000">e</text>
<clipPath id="cpf"><rect x="486.3" y="463.2" width="279.5" height="133.4"/></clipPath>
<g clip-path="url(#cpf)">
<clipPath id="cps"><path d="M486.3 484.7C498.94 484.7 509.84 480.51 521.24 476.1C532.63 471.69 543.53 467.5 556.17 467.5C568.82 467.5 579.72 471.69 591.11 476.1C602.51 480.51 613.41 484.7 626.05 484.7C638.69 484.7 649.59 480.51 660.99 476.1C672.38 471.69 683.28 467.5 695.92 467.5C708.57 467.5 719.47 471.69 730.86 476.1C742.26 480.51 753.16 484.7 765.8 484.7V600H486.3Z"/></clipPath>
<g clip-path="url(#cps)"><path d="M486.3 482.7C498.94 482.7 509.84 478.51 521.24 474.1C532.63 469.69 543.53 465.5 556.17 465.5C568.82 465.5 579.72 469.69 591.11 474.1C602.51 478.51 613.41 482.7 626.05 482.7C638.69 482.7 649.59 478.51 660.99 474.1C672.38 469.69 683.28 465.5 695.92 465.5C708.57 465.5 719.47 469.69 730.86 474.1C742.26 478.51 753.16 482.7 765.8 482.7V600H486.3Z" fill="#6fa39a"/><path d="M486.3 483.7C498.94 483.7 509.84 479.51 521.24 475.1C532.63 470.69 543.53 466.5 556.17 466.5C568.82 466.5 579.72 470.69 591.11 475.1C602.51 479.51 613.41 483.7 626.05 483.7C638.69 483.7 649.59 479.51 660.99 475.1C672.38 470.69 683.28 466.5 695.92 466.5C708.57 466.5 719.47 470.69 730.86 475.1C742.26 479.51 753.16 483.7 765.8 483.7V600H486.3Z" fill="#6fa39a"/><path d="M486.3 484.7C498.94 484.7 509.84 480.51 521.24 476.1C532.63 471.69 543.53 467.5 556.17 467.5C568.82 467.5 579.72 471.69 591.11 476.1C602.51 480.51 613.41 484.7 626.05 484.7C638.69 484.7 649.59 480.51 660.99 476.1C672.38 471.69 683.28 467.5 695.92 467.5C708.57 467.5 719.47 471.69 730.86 476.1C742.26 480.51 753.16 484.7 765.8 484.7V600H486.3Z" fill="#6fa39a"/><path d="M486.3 485.21C498.94 485.21 509.84 481.25 521.24 477.1C532.63 472.95 543.53 468.99 556.17 468.99C568.82 468.99 579.72 472.95 591.11 477.1C602.51 481.25 613.41 485.21 626.05 485.21C638.69 485.21 649.59 481.25 660.99 477.1C672.38 472.95 683.28 468.99 695.92 468.99C708.57 468.99 719.47 472.95 730.86 477.1C742.26 481.25 753.16 485.21 765.8 485.21V600H486.3Z" fill="#84a977"/><path d="M486.3 485.94C498.94 485.94 509.84 482.12 521.24 478.1C532.63 474.08 543.53 470.26 556.17 470.26C568.82 470.26 579.72 474.08 591.11 478.1C602.51 482.12 613.41 485.94 626.05 485.94C638.69 485.94 649.59 482.12 660.99 478.1C672.38 474.08 683.28 470.26 695.92 470.26C708.57 470.26 719.47 474.08 730.86 478.1C742.26 482.12 753.16 485.94 765.8 485.94V600H486.3Z" fill="#97ae59"/><path d="M486.3 486.78C498.94 486.78 509.84 483.04 521.24 479.1C532.63 475.16 543.53 471.42 556.17 471.42C568.82 471.42 579.72 475.16 591.11 479.1C602.51 483.04 613.41 486.78 626.05 486.78C638.69 486.78 649.59 483.04 660.99 479.1C672.38 475.16 683.28 471.42 695.92 471.42C708.57 471.42 719.47 475.16 730.86 479.1C742.26 483.04 753.16 486.78 765.8 486.78V600H486.3Z" fill="#a8b448"/><path d="M486.3 487.68C498.94 487.68 509.84 483.98 521.24 480.1C532.63 476.22 543.53 472.52 556.17 472.52C568.82 472.52 579.72 476.22 591.11 480.1C602.51 483.98 613.41 487.68 626.05 487.68C638.69 487.68 649.59 483.98 660.99 480.1C672.38 476.22 683.28 472.52 695.92 472.52C708.57 472.52 719.47 476.22 730.86 480.1C742.26 483.98 753.16 487.68 765.8 487.68V600H486.3Z" fill="#b2b83e"/><path d="M486.3 488.59C498.94 488.59 509.84 484.94 521.24 481.1C532.63 477.26 543.53 473.61 556.17 473.61C568.82 473.61 579.72 477.26 591.11 481.1C602.51 484.94 613.41 488.59 626.05 488.59C638.69 488.59 649.59 484.94 660.99 481.1C672.38 477.26 683.28 473.61 695.92 473.61C708.57 473.61 719.47 477.26 730.86 481.1C742.26 484.94 753.16 488.59 765.8 488.59V600H486.3Z" fill="#b9bc44"/><path d="M486.3 489.51C498.94 489.51 509.84 485.9 521.24 482.1C532.63 478.3 543.53 474.69 556.17 474.69C568.82 474.69 579.72 478.3 591.11 482.1C602.51 485.9 613.41 489.51 626.05 489.51C638.69 489.51 649.59 485.9 660.99 482.1C672.38 478.3 683.28 474.69 695.92 474.69C708.57 474.69 719.47 478.3 730.86 482.1C742.26 485.9 753.16 489.51 765.8 489.51V600H486.3Z" fill="#c1c049"/><path d="M486.3 490.43C498.94 490.43 509.84 486.85 521.24 483.1C532.63 479.35 543.53 475.77 556.17 475.77C568.82 475.77 579.72 479.35 591.11 483.1C602.51 486.85 613.41 490.43 626.05 490.43C638.69 490.43 649.59 486.85 660.99 483.1C672.38 479.35 683.28 475.77 695.92 475.77C708.57 475.77 719.47 479.35 730.86 483.1C742.26 486.85 753.16 490.43 765.8 490.43V600H486.3Z" fill="#c8c34e"/><path d="M486.3 491.34C498.94 491.34 509.84 487.81 521.24 484.1C532.63 480.39 543.53 476.86 556.17 476.86C568.82 476.86 579.72 480.39 591.11 484.1C602.51 487.81 613.41 491.34 626.05 491.34C638.69 491.34 649.59 487.81 660.99 484.1C672.38 480.39 683.28 476.86 695.92 476.86C708.57 476.86 719.47 480.39 730.86 484.1C742.26 487.81 753.16 491.34 765.8 491.34V600H486.3Z" fill="#cdc652"/><path d="M486.3 492.24C498.94 492.24 509.84 488.76 521.24 485.1C532.63 481.44 543.53 477.96 556.17 477.96C568.82 477.96 579.72 481.44 591.11 485.1C602.51 488.76 613.41 492.24 626.05 492.24C638.69 492.24 649.59 488.76 660.99 485.1C672.38 481.44 683.28 477.96 695.92 477.96C708.57 477.96 719.47 481.44 730.86 485.1C742.26 488.76 753.16 492.24 765.8 492.24V600H486.3Z" fill="#cfc756"/><path d="M486.3 493.14C498.94 493.14 509.84 489.7 521.24 486.1C532.63 482.5 543.53 479.06 556.17 479.06C568.82 479.06 579.72 482.5 591.11 486.1C602.51 489.7 613.41 493.14 626.05 493.14C638.69 493.14 649.59 489.7 660.99 486.1C672.38 482.5 683.28 479.06 695.92 479.06C708.57 479.06 719.47 482.5 730.86 486.1C742.26 489.7 753.16 493.14 765.8 493.14V600H486.3Z" fill="#d1c859"/><path d="M486.3 494.02C498.94 494.02 509.84 490.65 521.24 487.1C532.63 483.55 543.53 480.18 556.17 480.18C568.82 480.18 579.72 483.55 591.11 487.1C602.51 490.65 613.41 494.02 626.05 494.02C638.69 494.02 649.59 490.65 660.99 487.1C672.38 483.55 683.28 480.18 695.92 480.18C708.57 480.18 719.47 483.55 730.86 487.1C742.26 490.65 753.16 494.02 765.8 494.02V600H486.3Z" fill="#d2c95c"/><path d="M486.3 494.9C498.94 494.9 509.84 491.58 521.24 488.1C532.63 484.62 543.53 481.3 556.17 481.3C568.82 481.3 579.72 484.62 591.11 488.1C602.51 491.58 613.41 494.9 626.05 494.9C638.69 494.9 649.59 491.58 660.99 488.1C672.38 484.62 683.28 481.3 695.92 481.3C708.57 481.3 719.47 484.62 730.86 488.1C742.26 491.58 753.16 494.9 765.8 494.9V600H486.3Z" fill="#d4ca5e"/><path d="M486.3 495.77C498.94 495.77 509.84 492.52 521.24 489.1C532.63 485.68 543.53 482.43 556.17 482.43C568.82 482.43 579.72 485.68 591.11 489.1C602.51 492.52 613.41 495.77 626.05 495.77C638.69 495.77 649.59 492.52 660.99 489.1C672.38 485.68 683.28 482.43 695.92 482.43C708.57 482.43 719.47 485.68 730.86 489.1C742.26 492.52 753.16 495.77 765.8 495.77V600H486.3Z" fill="#d5cb60"/><path d="M486.3 496.63C498.94 496.63 509.84 493.45 521.24 490.1C532.63 486.75 543.53 483.57 556.17 483.57C568.82 483.57 579.72 486.75 591.11 490.1C602.51 493.45 613.41 496.63 626.05 496.63C638.69 496.63 649.59 493.45 660.99 490.1C672.38 486.75 683.28 483.57 695.92 483.57C708.57 483.57 719.47 486.75 730.86 490.1C742.26 493.45 753.16 496.63 765.8 496.63V600H486.3Z" fill="#d6cb62"/><path d="M486.3 497.49C498.94 497.49 509.84 494.37 521.24 491.1C532.63 487.83 543.53 484.71 556.17 484.71C568.82 484.71 579.72 487.83 591.11 491.1C602.51 494.37 613.41 497.49 626.05 497.49C638.69 497.49 649.59 494.37 660.99 491.1C672.38 487.83 683.28 484.71 695.92 484.71C708.57 484.71 719.47 487.83 730.86 491.1C742.26 494.37 753.16 497.49 765.8 497.49V600H486.3Z" fill="#d7cc64"/><path d="M486.3 498.34C498.94 498.34 509.84 495.3 521.24 492.1C532.63 488.9 543.53 485.86 556.17 485.86C568.82 485.86 579.72 488.9 591.11 492.1C602.51 495.3 613.41 498.34 626.05 498.34C638.69 498.34 649.59 495.3 660.99 492.1C672.38 488.9 683.28 485.86 695.92 485.86C708.57 485.86 719.47 488.9 730.86 492.1C742.26 495.3 753.16 498.34 765.8 498.34V600H486.3Z" fill="#d8cd66"/><path d="M486.3 499.18C498.94 499.18 509.84 496.22 521.24 493.1C532.63 489.98 543.53 487.02 556.17 487.02C568.82 487.02 579.72 489.98 591.11 493.1C602.51 496.22 613.41 499.18 626.05 499.18C638.69 499.18 649.59 496.22 660.99 493.1C672.38 489.98 683.28 487.02 695.92 487.02C708.57 487.02 719.47 489.98 730.86 493.1C742.26 496.22 753.16 499.18 765.8 499.18V600H486.3Z" fill="#d9cd68"/><path d="M486.3 500.02C498.94 500.02 509.84 497.13 521.24 494.1C532.63 491.07 543.53 488.18 556.17 488.18C568.82 488.18 579.72 491.07 591.11 494.1C602.51 497.13 613.41 500.02 626.05 500.02C638.69 500.02 649.59 497.13 660.99 494.1C672.38 491.07 683.28 488.18 695.92 488.18C708.57 488.18 719.47 491.07 730.86 494.1C742.26 497.13 753.16 500.02 765.8 500.02V600H486.3Z" fill="#d9cb69"/><path d="M486.3 500.85C498.94 500.85 509.84 498.05 521.24 495.1C532.63 492.15 543.53 489.35 556.17 489.35C568.82 489.35 579.72 492.15 591.11 495.1C602.51 498.05 613.41 500.85 626.05 500.85C638.69 500.85 649.59 498.05 660.99 495.1C672.38 492.15 683.28 489.35 695.92 489.35C708.57 489.35 719.47 492.15 730.86 495.1C742.26 498.05 753.16 500.85 765.8 500.85V600H486.3Z" fill="#d8ca6a"/><path d="M486.3 501.68C498.94 501.68 509.84 498.96 521.24 496.1C532.63 493.24 543.53 490.52 556.17 490.52C568.82 490.52 579.72 493.24 591.11 496.1C602.51 498.96 613.41 501.68 626.05 501.68C638.69 501.68 649.59 498.96 660.99 496.1C672.38 493.24 683.28 490.52 695.92 490.52C708.57 490.52 719.47 493.24 730.86 496.1C742.26 498.96 753.16 501.68 765.8 501.68V600H486.3Z" fill="#d8c96b"/><path d="M486.3 502.51C498.94 502.51 509.84 499.87 521.24 497.1C532.63 494.33 543.53 491.69 556.17 491.69C568.82 491.69 579.72 494.33 591.11 497.1C602.51 499.87 613.41 502.51 626.05 502.51C638.69 502.51 649.59 499.87 660.99 497.1C672.38 494.33 683.28 491.69 695.92 491.69C708.57 491.69 719.47 494.33 730.86 497.1C742.26 499.87 753.16 502.51 765.8 502.51V600H486.3Z" fill="#d8c86b"/><path d="M486.3 503.33C498.94 503.33 509.84 500.78 521.24 498.1C532.63 495.42 543.53 492.87 556.17 492.87C568.82 492.87 579.72 495.42 591.11 498.1C602.51 500.78 613.41 503.33 626.05 503.33C638.69 503.33 649.59 500.78 660.99 498.1C672.38 495.42 683.28 492.87 695.92 492.87C708.57 492.87 719.47 495.42 730.86 498.1C742.26 500.78 753.16 503.33 765.8 503.33V600H486.3Z" fill="#d7c66c"/><path d="M486.3 504.15C498.94 504.15 509.84 501.69 521.24 499.1C532.63 496.51 543.53 494.05 556.17 494.05C568.82 494.05 579.72 496.51 591.11 499.1C602.51 501.69 613.41 504.15 626.05 504.15C638.69 504.15 649.59 501.69 660.99 499.1C672.38 496.51 683.28 494.05 695.92 494.05C708.57 494.05 719.47 496.51 730.86 499.1C742.26 501.69 753.16 504.15 765.8 504.15V600H486.3Z" fill="#d7c46d"/><path d="M486.3 504.97C498.94 504.97 509.84 502.6 521.24 500.1C532.63 497.6 543.53 495.23 556.17 495.23C568.82 495.23 579.72 497.6 591.11 500.1C602.51 502.6 613.41 504.97 626.05 504.97C638.69 504.97 649.59 502.6 660.99 500.1C672.38 497.6 683.28 495.23 695.92 495.23C708.57 495.23 719.47 497.6 730.86 500.1C742.26 502.6 753.16 504.97 765.8 504.97V600H486.3Z" fill="#d7c36e"/><path d="M486.3 505.79C498.94 505.79 509.84 503.5 521.24 501.1C532.63 498.7 543.53 496.41 556.17 496.41C568.82 496.41 579.72 498.7 591.11 501.1C602.51 503.5 613.41 505.79 626.05 505.79C638.69 505.79 649.59 503.5 660.99 501.1C672.38 498.7 683.28 496.41 695.92 496.41C708.57 496.41 719.47 498.7 730.86 501.1C742.26 503.5 753.16 505.79 765.8 505.79V600H486.3Z" fill="#d6c16f"/><path d="M486.3 506.61C498.94 506.61 509.84 504.41 521.24 502.1C532.63 499.79 543.53 497.59 556.17 497.59C568.82 497.59 579.72 499.79 591.11 502.1C602.51 504.41 613.41 506.61 626.05 506.61C638.69 506.61 649.59 504.41 660.99 502.1C672.38 499.79 683.28 497.59 695.92 497.59C708.57 497.59 719.47 499.79 730.86 502.1C742.26 504.41 753.16 506.61 765.8 506.61V600H486.3Z" fill="#d6c070"/><path d="M486.3 507.43C498.94 507.43 509.84 505.32 521.24 503.1C532.63 500.88 543.53 498.77 556.17 498.77C568.82 498.77 579.72 500.88 591.11 503.1C602.51 505.32 613.41 507.43 626.05 507.43C638.69 507.43 649.59 505.32 660.99 503.1C672.38 500.88 683.28 498.77 695.92 498.77C708.57 498.77 719.47 500.88 730.86 503.1C742.26 505.32 753.16 507.43 765.8 507.43V600H486.3Z" fill="#d5bd6f"/><path d="M486.3 508.25C498.94 508.25 509.84 506.23 521.24 504.1C532.63 501.97 543.53 499.95 556.17 499.95C568.82 499.95 579.72 501.97 591.11 504.1C602.51 506.23 613.41 508.25 626.05 508.25C638.69 508.25 649.59 506.23 660.99 504.1C672.38 501.97 683.28 499.95 695.92 499.95C708.57 499.95 719.47 501.97 730.86 504.1C742.26 506.23 753.16 508.25 765.8 508.25V600H486.3Z" fill="#d4b96e"/><path d="M486.3 509.07C498.94 509.07 509.84 507.13 521.24 505.1C532.63 503.07 543.53 501.13 556.17 501.13C568.82 501.13 579.72 503.07 591.11 505.1C602.51 507.13 613.41 509.07 626.05 509.07C638.69 509.07 649.59 507.13 660.99 505.1C672.38 503.07 683.28 501.13 695.92 501.13C708.57 501.13 719.47 503.07 730.86 505.1C742.26 507.13 753.16 509.07 765.8 509.07V600H486.3Z" fill="#d3b66c"/><path d="M486.3 509.9C498.94 509.9 509.84 508.04 521.24 506.1C532.63 504.16 543.53 502.3 556.17 502.3C568.82 502.3 579.72 504.16 591.11 506.1C602.51 508.04 613.41 509.9 626.05 509.9C638.69 509.9 649.59 508.04 660.99 506.1C672.38 504.16 683.28 502.3 695.92 502.3C708.57 502.3 719.47 504.16 730.86 506.1C742.26 508.04 753.16 509.9 765.8 509.9V600H486.3Z" fill="#d3b36b"/><path d="M486.3 510.72C498.94 510.72 509.84 508.95 521.24 507.1C532.63 505.25 543.53 503.48 556.17 503.48C568.82 503.48 579.72 505.25 591.11 507.1C602.51 508.95 613.41 510.72 626.05 510.72C638.69 510.72 649.59 508.95 660.99 507.1C672.38 505.25 683.28 503.48 695.92 503.48C708.57 503.48 719.47 505.25 730.86 507.1C742.26 508.95 753.16 510.72 765.8 510.72V600H486.3Z" fill="#d2b06a"/><path d="M486.3 511.55C498.94 511.55 509.84 509.87 521.24 508.1C532.63 506.33 543.53 504.65 556.17 504.65C568.82 504.65 579.72 506.33 591.11 508.1C602.51 509.87 613.41 511.55 626.05 511.55C638.69 511.55 649.59 509.87 660.99 508.1C672.38 506.33 683.28 504.65 695.92 504.65C708.57 504.65 719.47 506.33 730.86 508.1C742.26 509.87 753.16 511.55 765.8 511.55V600H486.3Z" fill="#d1ad69"/><path d="M486.3 512.38C498.94 512.38 509.84 510.78 521.24 509.1C532.63 507.42 543.53 505.82 556.17 505.82C568.82 505.82 579.72 507.42 591.11 509.1C602.51 510.78 613.41 512.38 626.05 512.38C638.69 512.38 649.59 510.78 660.99 509.1C672.38 507.42 683.28 505.82 695.92 505.82C708.57 505.82 719.47 507.42 730.86 509.1C742.26 510.78 753.16 512.38 765.8 512.38V600H486.3Z" fill="#d0aa68"/><path d="M486.3 513.21C498.94 513.21 509.84 511.7 521.24 510.1C532.63 508.5 543.53 506.99 556.17 506.99C568.82 506.99 579.72 508.5 591.11 510.1C602.51 511.7 613.41 513.21 626.05 513.21C638.69 513.21 649.59 511.7 660.99 510.1C672.38 508.5 683.28 506.99 695.92 506.99C708.57 506.99 719.47 508.5 730.86 510.1C742.26 511.7 753.16 513.21 765.8 513.21V600H486.3Z" fill="#cfa667"/><path d="M486.3 514.05C498.94 514.05 509.84 512.61 521.24 511.1C532.63 509.59 543.53 508.15 556.17 508.15C568.82 508.15 579.72 509.59 591.11 511.1C602.51 512.61 613.41 514.05 626.05 514.05C638.69 514.05 649.59 512.61 660.99 511.1C672.38 509.59 683.28 508.15 695.92 508.15C708.57 508.15 719.47 509.59 730.86 511.1C742.26 512.61 753.16 514.05 765.8 514.05V600H486.3Z" fill="#cea364"/><path d="M486.3 514.9C498.94 514.9 509.84 513.53 521.24 512.1C532.63 510.67 543.53 509.3 556.17 509.3C568.82 509.3 579.72 510.67 591.11 512.1C602.51 513.53 613.41 514.9 626.05 514.9C638.69 514.9 649.59 513.53 660.99 512.1C672.38 510.67 683.28 509.3 695.92 509.3C708.57 509.3 719.47 510.67 730.86 512.1C742.26 513.53 753.16 514.9 765.8 514.9V600H486.3Z" fill="#cc9e60"/><path d="M486.3 515.74C498.94 515.74 509.84 514.45 521.24 513.1C532.63 511.75 543.53 510.46 556.17 510.46C568.82 510.46 579.72 511.75 591.11 513.1C602.51 514.45 613.41 515.74 626.05 515.74C638.69 515.74 649.59 514.45 660.99 513.1C672.38 511.75 683.28 510.46 695.92 510.46C708.57 510.46 719.47 511.75 730.86 513.1C742.26 514.45 753.16 515.74 765.8 515.74V600H486.3Z" fill="#cb9a5c"/><path d="M486.3 516.59C498.94 516.59 509.84 515.38 521.24 514.1C532.63 512.82 543.53 511.61 556.17 511.61C568.82 511.61 579.72 512.82 591.11 514.1C602.51 515.38 613.41 516.59 626.05 516.59C638.69 516.59 649.59 515.38 660.99 514.1C672.38 512.82 683.28 511.61 695.92 511.61C708.57 511.61 719.47 512.82 730.86 514.1C742.26 515.38 753.16 516.59 765.8 516.59V600H486.3Z" fill="#c99658"/><path d="M486.3 517.45C498.94 517.45 509.84 516.3 521.24 515.1C532.63 513.9 543.53 512.75 556.17 512.75C568.82 512.75 579.72 513.9 591.11 515.1C602.51 516.3 613.41 517.45 626.05 517.45C638.69 517.45 649.59 516.3 660.99 515.1C672.38 513.9 683.28 512.75 695.92 512.75C708.57 512.75 719.47 513.9 730.86 515.1C742.26 516.3 753.16 517.45 765.8 517.45V600H486.3Z" fill="#c79254"/><path d="M486.3 518.31C498.94 518.31 509.84 517.23 521.24 516.1C532.63 514.97 543.53 513.89 556.17 513.89C568.82 513.89 579.72 514.97 591.11 516.1C602.51 517.23 613.41 518.31 626.05 518.31C638.69 518.31 649.59 517.23 660.99 516.1C672.38 514.97 683.28 513.89 695.92 513.89C708.57 513.89 719.47 514.97 730.86 516.1C742.26 517.23 753.16 518.31 765.8 518.31V600H486.3Z" fill="#c68e50"/><path d="M486.3 519.18C498.94 519.18 509.84 518.16 521.24 517.1C532.63 516.04 543.53 515.02 556.17 515.02C568.82 515.02 579.72 516.04 591.11 517.1C602.51 518.16 613.41 519.18 626.05 519.18C638.69 519.18 649.59 518.16 660.99 517.1C672.38 516.04 683.28 515.02 695.92 515.02C708.57 515.02 719.47 516.04 730.86 517.1C742.26 518.16 753.16 519.18 765.8 519.18V600H486.3Z" fill="#c48b4d"/><path d="M486.3 520.05C498.94 520.05 509.84 519.1 521.24 518.1C532.63 517.1 543.53 516.15 556.17 516.15C568.82 516.15 579.72 517.1 591.11 518.1C602.51 519.1 613.41 520.05 626.05 520.05C638.69 520.05 649.59 519.1 660.99 518.1C672.38 517.1 683.28 516.15 695.92 516.15C708.57 516.15 719.47 517.1 730.86 518.1C742.26 519.1 753.16 520.05 765.8 520.05V600H486.3Z" fill="#c3884b"/><path d="M486.3 520.92C498.94 520.92 509.84 520.03 521.24 519.1C532.63 518.17 543.53 517.28 556.17 517.28C568.82 517.28 579.72 518.17 591.11 519.1C602.51 520.03 613.41 520.92 626.05 520.92C638.69 520.92 649.59 520.03 660.99 519.1C672.38 518.17 683.28 517.28 695.92 517.28C708.57 517.28 719.47 518.17 730.86 519.1C742.26 520.03 753.16 520.92 765.8 520.92V600H486.3Z" fill="#c28548"/><path d="M486.3 521.81C498.94 521.81 509.84 520.97 521.24 520.1C532.63 519.23 543.53 518.39 556.17 518.39C568.82 518.39 579.72 519.23 591.11 520.1C602.51 520.97 613.41 521.81 626.05 521.81C638.69 521.81 649.59 520.97 660.99 520.1C672.38 519.23 683.28 518.39 695.92 518.39C708.57 518.39 719.47 519.23 730.86 520.1C742.26 520.97 753.16 521.81 765.8 521.81V600H486.3Z" fill="#c18346"/><path d="M486.3 522.69C498.94 522.69 509.84 521.92 521.24 521.1C532.63 520.28 543.53 519.51 556.17 519.51C568.82 519.51 579.72 520.28 591.11 521.1C602.51 521.92 613.41 522.69 626.05 522.69C638.69 522.69 649.59 521.92 660.99 521.1C672.38 520.28 683.28 519.51 695.92 519.51C708.57 519.51 719.47 520.28 730.86 521.1C742.26 521.92 753.16 522.69 765.8 522.69V600H486.3Z" fill="#c08043"/><path d="M486.3 523.59C498.94 523.59 509.84 522.86 521.24 522.1C532.63 521.34 543.53 520.61 556.17 520.61C568.82 520.61 579.72 521.34 591.11 522.1C602.51 522.86 613.41 523.59 626.05 523.59C638.69 523.59 649.59 522.86 660.99 522.1C672.38 521.34 683.28 520.61 695.92 520.61C708.57 520.61 719.47 521.34 730.86 522.1C742.26 522.86 753.16 523.59 765.8 523.59V600H486.3Z" fill="#bf7d41"/><path d="M486.3 524.48C498.94 524.48 509.84 523.81 521.24 523.1C532.63 522.39 543.53 521.72 556.17 521.72C568.82 521.72 579.72 522.39 591.11 523.1C602.51 523.81 613.41 524.48 626.05 524.48C638.69 524.48 649.59 523.81 660.99 523.1C672.38 522.39 683.28 521.72 695.92 521.72C708.57 521.72 719.47 522.39 730.86 523.1C742.26 523.81 753.16 524.48 765.8 524.48V600H486.3Z" fill="#bd7b40"/><path d="M486.3 525.38C498.94 525.38 509.84 524.76 521.24 524.1C532.63 523.44 543.53 522.82 556.17 522.82C568.82 522.82 579.72 523.44 591.11 524.1C602.51 524.76 613.41 525.38 626.05 525.38C638.69 525.38 649.59 524.76 660.99 524.1C672.38 523.44 683.28 522.82 695.92 522.82C708.57 522.82 719.47 523.44 730.86 524.1C742.26 524.76 753.16 525.38 765.8 525.38V600H486.3Z" fill="#bc783e"/><path d="M486.3 526.29C498.94 526.29 509.84 525.71 521.24 525.1C532.63 524.49 543.53 523.91 556.17 523.91C568.82 523.91 579.72 524.49 591.11 525.1C602.51 525.71 613.41 526.29 626.05 526.29C638.69 526.29 649.59 525.71 660.99 525.1C672.38 524.49 683.28 523.91 695.92 523.91C708.57 523.91 719.47 524.49 730.86 525.1C742.26 525.71 753.16 526.29 765.8 526.29V600H486.3Z" fill="#ba763d"/><path d="M486.3 527.2C498.94 527.2 509.84 526.67 521.24 526.1C532.63 525.53 543.53 525 556.17 525C568.82 525 579.72 525.53 591.11 526.1C602.51 526.67 613.41 527.2 626.05 527.2C638.69 527.2 649.59 526.67 660.99 526.1C672.38 525.53 683.28 525 695.92 525C708.57 525 719.47 525.53 730.86 526.1C742.26 526.67 753.16 527.2 765.8 527.2V600H486.3Z" fill="#b9733b"/><path d="M486.3 528.12C498.94 528.12 509.84 527.62 521.24 527.1C532.63 526.58 543.53 526.08 556.17 526.08C568.82 526.08 579.72 526.58 591.11 527.1C602.51 527.62 613.41 528.12 626.05 528.12C638.69 528.12 649.59 527.62 660.99 527.1C672.38 526.58 683.28 526.08 695.92 526.08C708.57 526.08 719.47 526.58 730.86 527.1C742.26 527.62 753.16 528.12 765.8 528.12V600H486.3Z" fill="#b8713a"/><path d="M486.3 529.04C498.94 529.04 509.84 528.58 521.24 528.1C532.63 527.62 543.53 527.16 556.17 527.16C568.82 527.16 579.72 527.62 591.11 528.1C602.51 528.58 613.41 529.04 626.05 529.04C638.69 529.04 649.59 528.58 660.99 528.1C672.38 527.62 683.28 527.16 695.92 527.16C708.57 527.16 719.47 527.62 730.86 528.1C742.26 528.58 753.16 529.04 765.8 529.04V600H486.3Z" fill="#b66f38"/><path d="M486.3 529.97C498.94 529.97 509.84 529.55 521.24 529.1C532.63 528.65 543.53 528.23 556.17 528.23C568.82 528.23 579.72 528.65 591.11 529.1C602.51 529.55 613.41 529.97 626.05 529.97C638.69 529.97 649.59 529.55 660.99 529.1C672.38 528.65 683.28 528.23 695.92 528.23C708.57 528.23 719.47 528.65 730.86 529.1C742.26 529.55 753.16 529.97 765.8 529.97V600H486.3Z" fill="#b56c36"/><path d="M486.3 530.9C498.94 530.9 509.84 530.51 521.24 530.1C532.63 529.69 543.53 529.3 556.17 529.3C568.82 529.3 579.72 529.69 591.11 530.1C602.51 530.51 613.41 530.9 626.05 530.9C638.69 530.9 649.59 530.51 660.99 530.1C672.38 529.69 683.28 529.3 695.92 529.3C708.57 529.3 719.47 529.69 730.86 530.1C742.26 530.51 753.16 530.9 765.8 530.9V600H486.3Z" fill="#b46a35"/><path d="M486.3 531.84C498.94 531.84 509.84 531.48 521.24 531.1C532.63 530.72 543.53 530.36 556.17 530.36C568.82 530.36 579.72 530.72 591.11 531.1C602.51 531.48 613.41 531.84 626.05 531.84C638.69 531.84 649.59 531.48 660.99 531.1C672.38 530.72 683.28 530.36 695.92 530.36C708.57 530.36 719.47 530.72 730.86 531.1C742.26 531.48 753.16 531.84 765.8 531.84V600H486.3Z" fill="#b26733"/><path d="M486.3 532.78C498.94 532.78 509.84 532.45 521.24 532.1C532.63 531.75 543.53 531.42 556.17 531.42C568.82 531.42 579.72 531.75 591.11 532.1C602.51 532.45 613.41 532.78 626.05 532.78C638.69 532.78 649.59 532.45 660.99 532.1C672.38 531.75 683.28 531.42 695.92 531.42C708.57 531.42 719.47 531.75 730.86 532.1C742.26 532.45 753.16 532.78 765.8 532.78V600H486.3Z" fill="#b16532"/><path d="M486.3 533.72C498.94 533.72 509.84 533.42 521.24 533.1C532.63 532.78 543.53 532.48 556.17 532.48C568.82 532.48 579.72 532.78 591.11 533.1C602.51 533.42 613.41 533.72 626.05 533.72C638.69 533.72 649.59 533.42 660.99 533.1C672.38 532.78 683.28 532.48 695.92 532.48C708.57 532.48 719.47 532.78 730.86 533.1C742.26 533.42 753.16 533.72 765.8 533.72V600H486.3Z" fill="#b06230"/><path d="M486.3 534.67C498.94 534.67 509.84 534.39 521.24 534.1C532.63 533.81 543.53 533.53 556.17 533.53C568.82 533.53 579.72 533.81 591.11 534.1C602.51 534.39 613.41 534.67 626.05 534.67C638.69 534.67 649.59 534.39 660.99 534.1C672.38 533.81 683.28 533.53 695.92 533.53C708.57 533.53 719.47 533.81 730.86 534.1C742.26 534.39 753.16 534.67 765.8 534.67V600H486.3Z" fill="#af612f"/><path d="M486.3 535.62C498.94 535.62 509.84 535.37 521.24 535.1C532.63 534.83 543.53 534.58 556.17 534.58C568.82 534.58 579.72 534.83 591.11 535.1C602.51 535.37 613.41 535.62 626.05 535.62C638.69 535.62 649.59 535.37 660.99 535.1C672.38 534.83 683.28 534.58 695.92 534.58C708.57 534.58 719.47 534.83 730.86 535.1C742.26 535.37 753.16 535.62 765.8 535.62V600H486.3Z" fill="#ae5f2e"/><path d="M486.3 536.57C498.94 536.57 509.84 536.34 521.24 536.1C532.63 535.86 543.53 535.63 556.17 535.63C568.82 535.63 579.72 535.86 591.11 536.1C602.51 536.34 613.41 536.57 626.05 536.57C638.69 536.57 649.59 536.34 660.99 536.1C672.38 535.86 683.28 535.63 695.92 535.63C708.57 535.63 719.47 535.86 730.86 536.1C742.26 536.34 753.16 536.57 765.8 536.57V600H486.3Z" fill="#ad5e2d"/><path d="M486.3 537.53C498.94 537.53 509.84 537.32 521.24 537.1C532.63 536.88 543.53 536.67 556.17 536.67C568.82 536.67 579.72 536.88 591.11 537.1C602.51 537.32 613.41 537.53 626.05 537.53C638.69 537.53 649.59 537.32 660.99 537.1C672.38 536.88 683.28 536.67 695.92 536.67C708.57 536.67 719.47 536.88 730.86 537.1C742.26 537.32 753.16 537.53 765.8 537.53V600H486.3Z" fill="#ac5c2c"/><path d="M486.3 538.49C498.94 538.49 509.84 538.3 521.24 538.1C532.63 537.9 543.53 537.71 556.17 537.71C568.82 537.71 579.72 537.9 591.11 538.1C602.51 538.3 613.41 538.49 626.05 538.49C638.69 538.49 649.59 538.3 660.99 538.1C672.38 537.9 683.28 537.71 695.92 537.71C708.57 537.71 719.47 537.9 730.86 538.1C742.26 538.3 753.16 538.49 765.8 538.49V600H486.3Z" fill="#ab5a2b"/><path d="M486.3 539.46C498.94 539.46 509.84 539.28 521.24 539.1C532.63 538.92 543.53 538.74 556.17 538.74C568.82 538.74 579.72 538.92 591.11 539.1C602.51 539.28 613.41 539.46 626.05 539.46C638.69 539.46 649.59 539.28 660.99 539.1C672.38 538.92 683.28 538.74 695.92 538.74C708.57 538.74 719.47 538.92 730.86 539.1C742.26 539.28 753.16 539.46 765.8 539.46V600H486.3Z" fill="#aa592b"/><path d="M486.3 540.42C498.94 540.42 509.84 540.27 521.24 540.1C532.63 539.93 543.53 539.78 556.17 539.78C568.82 539.78 579.72 539.93 591.11 540.1C602.51 540.27 613.41 540.42 626.05 540.42C638.69 540.42 649.59 540.27 660.99 540.1C672.38 539.93 683.28 539.78 695.92 539.78C708.57 539.78 719.47 539.93 730.86 540.1C742.26 540.27 753.16 540.42 765.8 540.42V600H486.3Z" fill="#a9582a"/><path d="M486.3 541.39C498.94 541.39 509.84 541.25 521.24 541.1C532.63 540.95 543.53 540.81 556.17 540.81C568.82 540.81 579.72 540.95 591.11 541.1C602.51 541.25 613.41 541.39 626.05 541.39C638.69 541.39 649.59 541.25 660.99 541.1C672.38 540.95 683.28 540.81 695.92 540.81C708.57 540.81 719.47 540.95 730.86 541.1C742.26 541.25 753.16 541.39 765.8 541.39V600H486.3Z" fill="#a9562a"/><path d="M486.3 542.36C498.94 542.36 509.84 542.24 521.24 542.1C532.63 541.96 543.53 541.84 556.17 541.84C568.82 541.84 579.72 541.96 591.11 542.1C602.51 542.24 613.41 542.36 626.05 542.36C638.69 542.36 649.59 542.24 660.99 542.1C672.38 541.96 683.28 541.84 695.92 541.84C708.57 541.84 719.47 541.96 730.86 542.1C742.26 542.24 753.16 542.36 765.8 542.36V600H486.3Z" fill="#a85529"/><path d="M486.3 543.34C498.94 543.34 509.84 543.22 521.24 543.1C532.63 542.98 543.53 542.86 556.17 542.86C568.82 542.86 579.72 542.98 591.11 543.1C602.51 543.22 613.41 543.34 626.05 543.34C638.69 543.34 649.59 543.22 660.99 543.1C672.38 542.98 683.28 542.86 695.92 542.86C708.57 542.86 719.47 542.98 730.86 543.1C742.26 543.22 753.16 543.34 765.8 543.34V600H486.3Z" fill="#a75429"/><path d="M486.3 544.31C498.94 544.31 509.84 544.21 521.24 544.1C532.63 543.99 543.53 543.89 556.17 543.89C568.82 543.89 579.72 543.99 591.11 544.1C602.51 544.21 613.41 544.31 626.05 544.31C638.69 544.31 649.59 544.21 660.99 544.1C672.38 543.99 683.28 543.89 695.92 543.89C708.57 543.89 719.47 543.99 730.86 544.1C742.26 544.21 753.16 544.31 765.8 544.31V600H486.3Z" fill="#a65228"/><path d="M486.3 545.29C498.94 545.29 509.84 545.2 521.24 545.1C532.63 545 543.53 544.91 556.17 544.91C568.82 544.91 579.72 545 591.11 545.1C602.51 545.2 613.41 545.29 626.05 545.29C638.69 545.29 649.59 545.2 660.99 545.1C672.38 545 683.28 544.91 695.92 544.91C708.57 544.91 719.47 545 730.86 545.1C742.26 545.2 753.16 545.29 765.8 545.29V600H486.3Z" fill="#a55128"/><path d="M486.3 546.27C498.94 546.27 509.84 546.19 521.24 546.1C532.63 546.01 543.53 545.93 556.17 545.93C568.82 545.93 579.72 546.01 591.11 546.1C602.51 546.19 613.41 546.27 626.05 546.27C638.69 546.27 649.59 546.19 660.99 546.1C672.38 546.01 683.28 545.93 695.92 545.93C708.57 545.93 719.47 546.01 730.86 546.1C742.26 546.19 753.16 546.27 765.8 546.27V600H486.3Z" fill="#a45027"/><path d="M486.3 547.26C498.94 547.26 509.84 547.18 521.24 547.1C532.63 547.02 543.53 546.94 556.17 546.94C568.82 546.94 579.72 547.02 591.11 547.1C602.51 547.18 613.41 547.26 626.05 547.26C638.69 547.26 649.59 547.18 660.99 547.1C672.38 547.02 683.28 546.94 695.92 546.94C708.57 546.94 719.47 547.02 730.86 547.1C742.26 547.18 753.16 547.26 765.8 547.26V600H486.3Z" fill="#a34f27"/><path d="M486.3 548.24C498.94 548.24 509.84 548.17 521.24 548.1C532.63 548.03 543.53 547.96 556.17 547.96C568.82 547.96 579.72 548.03 591.11 548.1C602.51 548.17 613.41 548.24 626.05 548.24C638.69 548.24 649.59 548.17 660.99 548.1C672.38 548.03 683.28 547.96 695.92 547.96C708.57 547.96 719.47 548.03 730.86 548.1C742.26 548.17 753.16 548.24 765.8 548.24V600H486.3Z" fill="#a24d26"/><path d="M486.3 549.22C498.94 549.22 509.84 549.16 521.24 549.1C532.63 549.04 543.53 548.98 556.17 548.98C568.82 548.98 579.72 549.04 591.11 549.1C602.51 549.16 613.41 549.22 626.05 549.22C638.69 549.22 649.59 549.16 660.99 549.1C672.38 549.04 683.28 548.98 695.92 548.98C708.57 548.98 719.47 549.04 730.86 549.1C742.26 549.16 753.16 549.22 765.8 549.22V600H486.3Z" fill="#a14c26"/><path d="M486.3 550.21C498.94 550.21 509.84 550.16 521.24 550.1C532.63 550.04 543.53 549.99 556.17 549.99C568.82 549.99 579.72 550.04 591.11 550.1C602.51 550.16 613.41 550.21 626.05 550.21C638.69 550.21 649.59 550.16 660.99 550.1C672.38 550.04 683.28 549.99 695.92 549.99C708.57 549.99 719.47 550.04 730.86 550.1C742.26 550.16 753.16 550.21 765.8 550.21V600H486.3Z" fill="#a14b25"/><path d="M486.3 551.2C498.94 551.2 509.84 551.15 521.24 551.1C532.63 551.05 543.53 551 556.17 551C568.82 551 579.72 551.05 591.11 551.1C602.51 551.15 613.41 551.2 626.05 551.2C638.69 551.2 649.59 551.15 660.99 551.1C672.38 551.05 683.28 551 695.92 551C708.57 551 719.47 551.05 730.86 551.1C742.26 551.15 753.16 551.2 765.8 551.2V600H486.3Z" fill="#a04925"/><path d="M486.3 552.19C498.94 552.19 509.84 552.15 521.24 552.1C532.63 552.05 543.53 552.01 556.17 552.01C568.82 552.01 579.72 552.05 591.11 552.1C602.51 552.15 613.41 552.19 626.05 552.19C638.69 552.19 649.59 552.15 660.99 552.1C672.38 552.05 683.28 552.01 695.92 552.01C708.57 552.01 719.47 552.05 730.86 552.1C742.26 552.15 753.16 552.19 765.8 552.19V600H486.3Z" fill="#9f4824"/><path d="M486.3 553.18C498.94 553.18 509.84 553.14 521.24 553.1C532.63 553.06 543.53 553.02 556.17 553.02C568.82 553.02 579.72 553.06 591.11 553.1C602.51 553.14 613.41 553.18 626.05 553.18C638.69 553.18 649.59 553.14 660.99 553.1C672.38 553.06 683.28 553.02 695.92 553.02C708.57 553.02 719.47 553.06 730.86 553.1C742.26 553.14 753.16 553.18 765.8 553.18V600H486.3Z" fill="#9e4724"/><path d="M486.3 554.17C498.94 554.17 509.84 554.14 521.24 554.1C532.63 554.06 543.53 554.03 556.17 554.03C568.82 554.03 579.72 554.06 591.11 554.1C602.51 554.14 613.41 554.17 626.05 554.17C638.69 554.17 649.59 554.14 660.99 554.1C672.38 554.06 683.28 554.03 695.92 554.03C708.57 554.03 719.47 554.06 730.86 554.1C742.26 554.14 753.16 554.17 765.8 554.17V600H486.3Z" fill="#9d4624"/><path d="M486.3 555.16C498.94 555.16 509.84 555.13 521.24 555.1C532.63 555.07 543.53 555.04 556.17 555.04C568.82 555.04 579.72 555.07 591.11 555.1C602.51 555.13 613.41 555.16 626.05 555.16C638.69 555.16 649.59 555.13 660.99 555.1C672.38 555.07 683.28 555.04 695.92 555.04C708.57 555.04 719.47 555.07 730.86 555.1C742.26 555.13 753.16 555.16 765.8 555.16V600H486.3Z" fill="#9d4523"/><path d="M486.3 556.15C498.94 556.15 509.84 556.13 521.24 556.1C532.63 556.07 543.53 556.05 556.17 556.05C568.82 556.05 579.72 556.07 591.11 556.1C602.51 556.13 613.41 556.15 626.05 556.15C638.69 556.15 649.59 556.13 660.99 556.1C672.38 556.07 683.28 556.05 695.92 556.05C708.57 556.05 719.47 556.07 730.86 556.1C742.26 556.13 753.16 556.15 765.8 556.15V600H486.3Z" fill="#9c4423"/><path d="M486.3 557.15C498.94 557.15 509.84 557.12 521.24 557.1C532.63 557.08 543.53 557.05 556.17 557.05C568.82 557.05 579.72 557.08 591.11 557.1C602.51 557.12 613.41 557.15 626.05 557.15C638.69 557.15 649.59 557.12 660.99 557.1C672.38 557.08 683.28 557.05 695.92 557.05C708.57 557.05 719.47 557.08 730.86 557.1C742.26 557.12 753.16 557.15 765.8 557.15V600H486.3Z" fill="#9c4423"/><path d="M486.3 558.14C498.94 558.14 509.84 558.12 521.24 558.1C532.63 558.08 543.53 558.06 556.17 558.06C568.82 558.06 579.72 558.08 591.11 558.1C602.51 558.12 613.41 558.14 626.05 558.14C638.69 558.14 649.59 558.12 660.99 558.1C672.38 558.08 683.28 558.06 695.92 558.06C708.57 558.06 719.47 558.08 730.86 558.1C742.26 558.12 753.16 558.14 765.8 558.14V600H486.3Z" fill="#9b4423"/><path d="M486.3 559.14C498.94 559.14 509.84 559.12 521.24 559.1C532.63 559.08 543.53 559.06 556.17 559.06C568.82 559.06 579.72 559.08 591.11 559.1C602.51 559.12 613.41 559.14 626.05 559.14C638.69 559.14 649.59 559.12 660.99 559.1C672.38 559.08 683.28 559.06 695.92 559.06C708.57 559.06 719.47 559.08 730.86 559.1C742.26 559.12 753.16 559.14 765.8 559.14V600H486.3Z" fill="#9a4424"/><path d="M486.3 560.13C498.94 560.13 509.84 560.12 521.24 560.1C532.63 560.08 543.53 560.07 556.17 560.07C568.82 560.07 579.72 560.08 591.11 560.1C602.51 560.12 613.41 560.13 626.05 560.13C638.69 560.13 649.59 560.12 660.99 560.1C672.38 560.08 683.28 560.07 695.92 560.07C708.57 560.07 719.47 560.08 730.86 560.1C742.26 560.12 753.16 560.13 765.8 560.13V600H486.3Z" fill="#994424"/><path d="M486.3 561.13C498.94 561.13 509.84 561.11 521.24 561.1C532.63 561.09 543.53 561.07 556.17 561.07C568.82 561.07 579.72 561.09 591.11 561.1C602.51 561.11 613.41 561.13 626.05 561.13C638.69 561.13 649.59 561.11 660.99 561.1C672.38 561.09 683.28 561.07 695.92 561.07C708.57 561.07 719.47 561.09 730.86 561.1C742.26 561.11 753.16 561.13 765.8 561.13V600H486.3Z" fill="#984524"/><path d="M486.3 562.13C498.94 562.13 509.84 562.11 521.24 562.1C532.63 562.09 543.53 562.07 556.17 562.07C568.82 562.07 579.72 562.09 591.11 562.1C602.51 562.11 613.41 562.13 626.05 562.13C638.69 562.13 649.59 562.11 660.99 562.1C672.38 562.09 683.28 562.07 695.92 562.07C708.57 562.07 719.47 562.09 730.86 562.1C742.26 562.11 753.16 562.13 765.8 562.13V600H486.3Z" fill="#984524"/><path d="M486.3 563.12C498.94 563.12 509.84 563.11 521.24 563.1C532.63 563.09 543.53 563.08 556.17 563.08C568.82 563.08 579.72 563.09 591.11 563.1C602.51 563.11 613.41 563.12 626.05 563.12C638.69 563.12 649.59 563.11 660.99 563.1C672.38 563.09 683.28 563.08 695.92 563.08C708.57 563.08 719.47 563.09 730.86 563.1C742.26 563.11 753.16 563.12 765.8 563.12V600H486.3Z" fill="#974525"/><path d="M486.3 564.12C498.94 564.12 509.84 564.11 521.24 564.1C532.63 564.09 543.53 564.08 556.17 564.08C568.82 564.08 579.72 564.09 591.11 564.1C602.51 564.11 613.41 564.12 626.05 564.12C638.69 564.12 649.59 564.11 660.99 564.1C672.38 564.09 683.28 564.08 695.92 564.08C708.57 564.08 719.47 564.09 730.86 564.1C742.26 564.11 753.16 564.12 765.8 564.12V600H486.3Z" fill="#964525"/><path d="M486.3 565.12C498.94 565.12 509.84 565.11 521.24 565.1C532.63 565.09 543.53 565.08 556.17 565.08C568.82 565.08 579.72 565.09 591.11 565.1C602.51 565.11 613.41 565.12 626.05 565.12C638.69 565.12 649.59 565.11 660.99 565.1C672.38 565.09 683.28 565.08 695.92 565.08C708.57 565.08 719.47 565.09 730.86 565.1C742.26 565.11 753.16 565.12 765.8 565.12V600H486.3Z" fill="#954525"/><path d="M486.3 566.11C498.94 566.11 509.84 566.11 521.24 566.1C532.63 566.09 543.53 566.09 556.17 566.09C568.82 566.09 579.72 566.09 591.11 566.1C602.51 566.11 613.41 566.11 626.05 566.11C638.69 566.11 649.59 566.11 660.99 566.1C672.38 566.09 683.28 566.09 695.92 566.09C708.57 566.09 719.47 566.09 730.86 566.1C742.26 566.11 753.16 566.11 765.8 566.11V600H486.3Z" fill="#944525"/><path d="M486.3 567.11C498.94 567.11 509.84 567.11 521.24 567.1C532.63 567.09 543.53 567.09 556.17 567.09C568.82 567.09 579.72 567.09 591.11 567.1C602.51 567.11 613.41 567.11 626.05 567.11C638.69 567.11 649.59 567.11 660.99 567.1C672.38 567.09 683.28 567.09 695.92 567.09C708.57 567.09 719.47 567.09 730.86 567.1C742.26 567.11 753.16 567.11 765.8 567.11V600H486.3Z" fill="#934626"/><path d="M486.3 568.11C498.94 568.11 509.84 568.11 521.24 568.1C532.63 568.09 543.53 568.09 556.17 568.09C568.82 568.09 579.72 568.09 591.11 568.1C602.51 568.11 613.41 568.11 626.05 568.11C638.69 568.11 649.59 568.11 660.99 568.1C672.38 568.09 683.28 568.09 695.92 568.09C708.57 568.09 719.47 568.09 730.86 568.1C742.26 568.11 753.16 568.11 765.8 568.11V600H486.3Z" fill="#934626"/><path d="M486.3 569.11C498.94 569.11 509.84 569.1 521.24 569.1C532.63 569.1 543.53 569.09 556.17 569.09C568.82 569.09 579.72 569.1 591.11 569.1C602.51 569.1 613.41 569.11 626.05 569.11C638.69 569.11 649.59 569.1 660.99 569.1C672.38 569.1 683.28 569.09 695.92 569.09C708.57 569.09 719.47 569.1 730.86 569.1C742.26 569.1 753.16 569.11 765.8 569.11V600H486.3Z" fill="#924626"/><path d="M486.3 570.11C498.94 570.11 509.84 570.1 521.24 570.1C532.63 570.1 543.53 570.09 556.17 570.09C568.82 570.09 579.72 570.1 591.11 570.1C602.51 570.1 613.41 570.11 626.05 570.11C638.69 570.11 649.59 570.1 660.99 570.1C672.38 570.1 683.28 570.09 695.92 570.09C708.57 570.09 719.47 570.1 730.86 570.1C742.26 570.1 753.16 570.11 765.8 570.11V600H486.3Z" fill="#914626"/><path d="M486.3 571.11C498.94 571.11 509.84 571.1 521.24 571.1C532.63 571.1 543.53 571.09 556.17 571.09C568.82 571.09 579.72 571.1 591.11 571.1C602.51 571.1 613.41 571.11 626.05 571.11C638.69 571.11 649.59 571.1 660.99 571.1C672.38 571.1 683.28 571.09 695.92 571.09C708.57 571.09 719.47 571.1 730.86 571.1C742.26 571.1 753.16 571.11 765.8 571.11V600H486.3Z" fill="#904627"/><path d="M486.3 572.11C498.94 572.11 509.84 572.1 521.24 572.1C532.63 572.1 543.53 572.09 556.17 572.09C568.82 572.09 579.72 572.1 591.11 572.1C602.51 572.1 613.41 572.11 626.05 572.11C638.69 572.11 649.59 572.1 660.99 572.1C672.38 572.1 683.28 572.09 695.92 572.09C708.57 572.09 719.47 572.1 730.86 572.1C742.26 572.1 753.16 572.11 765.8 572.11V600H486.3Z" fill="#8f4627"/><path d="M486.3 573.11C498.94 573.11 509.84 573.1 521.24 573.1C532.63 573.1 543.53 573.09 556.17 573.09C568.82 573.09 579.72 573.1 591.11 573.1C602.51 573.1 613.41 573.11 626.05 573.11C638.69 573.11 649.59 573.1 660.99 573.1C672.38 573.1 683.28 573.09 695.92 573.09C708.57 573.09 719.47 573.1 730.86 573.1C742.26 573.1 753.16 573.11 765.8 573.11V600H486.3Z" fill="#8e4627"/><path d="M486.3 574.1C498.94 574.1 509.84 574.1 521.24 574.1C532.63 574.1 543.53 574.1 556.17 574.1C568.82 574.1 579.72 574.1 591.11 574.1C602.51 574.1 613.41 574.1 626.05 574.1C638.69 574.1 649.59 574.1 660.99 574.1C672.38 574.1 683.28 574.1 695.92 574.1C708.57 574.1 719.47 574.1 730.86 574.1C742.26 574.1 753.16 574.1 765.8 574.1V600H486.3Z" fill="#8e4727"/><path d="M486.3 575.1C498.94 575.1 509.84 575.1 521.24 575.1C532.63 575.1 543.53 575.1 556.17 575.1C568.82 575.1 579.72 575.1 591.11 575.1C602.51 575.1 613.41 575.1 626.05 575.1C638.69 575.1 649.59 575.1 660.99 575.1C672.38 575.1 683.28 575.1 695.92 575.1C708.57 575.1 719.47 575.1 730.86 575.1C742.26 575.1 753.16 575.1 765.8 575.1V600H486.3Z" fill="#8d4728"/><path d="M486.3 576.1C498.94 576.1 509.84 576.1 521.24 576.1C532.63 576.1 543.53 576.1 556.17 576.1C568.82 576.1 579.72 576.1 591.11 576.1C602.51 576.1 613.41 576.1 626.05 576.1C638.69 576.1 649.59 576.1 660.99 576.1C672.38 576.1 683.28 576.1 695.92 576.1C708.57 576.1 719.47 576.1 730.86 576.1C742.26 576.1 753.16 576.1 765.8 576.1V600H486.3Z" fill="#8c4728"/><path d="M486.3 577.1C498.94 577.1 509.84 577.1 521.24 577.1C532.63 577.1 543.53 577.1 556.17 577.1C568.82 577.1 579.72 577.1 591.11 577.1C602.51 577.1 613.41 577.1 626.05 577.1C638.69 577.1 649.59 577.1 660.99 577.1C672.38 577.1 683.28 577.1 695.92 577.1C708.57 577.1 719.47 577.1 730.86 577.1C742.26 577.1 753.16 577.1 765.8 577.1V600H486.3Z" fill="#8b4728"/><path d="M486.3 578.1C498.94 578.1 509.84 578.1 521.24 578.1C532.63 578.1 543.53 578.1 556.17 578.1C568.82 578.1 579.72 578.1 591.11 578.1C602.51 578.1 613.41 578.1 626.05 578.1C638.69 578.1 649.59 578.1 660.99 578.1C672.38 578.1 683.28 578.1 695.92 578.1C708.57 578.1 719.47 578.1 730.86 578.1C742.26 578.1 753.16 578.1 765.8 578.1V600H486.3Z" fill="#8a4728"/><path d="M486.3 579.1C498.94 579.1 509.84 579.1 521.24 579.1C532.63 579.1 543.53 579.1 556.17 579.1C568.82 579.1 579.72 579.1 591.11 579.1C602.51 579.1 613.41 579.1 626.05 579.1C638.69 579.1 649.59 579.1 660.99 579.1C672.38 579.1 683.28 579.1 695.92 579.1C708.57 579.1 719.47 579.1 730.86 579.1C742.26 579.1 753.16 579.1 765.8 579.1V600H486.3Z" fill="#894729"/><path d="M486.3 580.1C498.94 580.1 509.84 580.1 521.24 580.1C532.63 580.1 543.53 580.1 556.17 580.1C568.82 580.1 579.72 580.1 591.11 580.1C602.51 580.1 613.41 580.1 626.05 580.1C638.69 580.1 649.59 580.1 660.99 580.1C672.38 580.1 683.28 580.1 695.92 580.1C708.57 580.1 719.47 580.1 730.86 580.1C742.26 580.1 753.16 580.1 765.8 580.1V600H486.3Z" fill="#894729"/><path d="M486.3 581.1C498.94 581.1 509.84 581.1 521.24 581.1C532.63 581.1 543.53 581.1 556.17 581.1C568.82 581.1 579.72 581.1 591.11 581.1C602.51 581.1 613.41 581.1 626.05 581.1C638.69 581.1 649.59 581.1 660.99 581.1C672.38 581.1 683.28 581.1 695.92 581.1C708.57 581.1 719.47 581.1 730.86 581.1C742.26 581.1 753.16 581.1 765.8 581.1V600H486.3Z" fill="#884829"/><path d="M486.3 582.1C498.94 582.1 509.84 582.1 521.24 582.1C532.63 582.1 543.53 582.1 556.17 582.1C568.82 582.1 579.72 582.1 591.11 582.1C602.51 582.1 613.41 582.1 626.05 582.1C638.69 582.1 649.59 582.1 660.99 582.1C672.38 582.1 683.28 582.1 695.92 582.1C708.57 582.1 719.47 582.1 730.86 582.1C742.26 582.1 753.16 582.1 765.8 582.1V600H486.3Z" fill="#874829"/><path d="M486.3 583.1C498.94 583.1 509.84 583.1 521.24 583.1C532.63 583.1 543.53 583.1 556.17 583.1C568.82 583.1 579.72 583.1 591.11 583.1C602.51 583.1 613.41 583.1 626.05 583.1C638.69 583.1 649.59 583.1 660.99 583.1C672.38 583.1 683.28 583.1 695.92 583.1C708.57 583.1 719.47 583.1 730.86 583.1C742.26 583.1 753.16 583.1 765.8 583.1V600H486.3Z" fill="#86482a"/><path d="M486.3 584.1C498.94 584.1 509.84 584.1 521.24 584.1C532.63 584.1 543.53 584.1 556.17 584.1C568.82 584.1 579.72 584.1 591.11 584.1C602.51 584.1 613.41 584.1 626.05 584.1C638.69 584.1 649.59 584.1 660.99 584.1C672.38 584.1 683.28 584.1 695.92 584.1C708.57 584.1 719.47 584.1 730.86 584.1C742.26 584.1 753.16 584.1 765.8 584.1V600H486.3Z" fill="#85482a"/><path d="M486.3 585.1C498.94 585.1 509.84 585.1 521.24 585.1C532.63 585.1 543.53 585.1 556.17 585.1C568.82 585.1 579.72 585.1 591.11 585.1C602.51 585.1 613.41 585.1 626.05 585.1C638.69 585.1 649.59 585.1 660.99 585.1C672.38 585.1 683.28 585.1 695.92 585.1C708.57 585.1 719.47 585.1 730.86 585.1C742.26 585.1 753.16 585.1 765.8 585.1V600H486.3Z" fill="#84482a"/><path d="M486.3 586.1C498.94 586.1 509.84 586.1 521.24 586.1C532.63 586.1 543.53 586.1 556.17 586.1C568.82 586.1 579.72 586.1 591.11 586.1C602.51 586.1 613.41 586.1 626.05 586.1C638.69 586.1 649.59 586.1 660.99 586.1C672.38 586.1 683.28 586.1 695.92 586.1C708.57 586.1 719.47 586.1 730.86 586.1C742.26 586.1 753.16 586.1 765.8 586.1V600H486.3Z" fill="#84492b"/><path d="M486.3 587.1C498.94 587.1 509.84 587.1 521.24 587.1C532.63 587.1 543.53 587.1 556.17 587.1C568.82 587.1 579.72 587.1 591.11 587.1C602.51 587.1 613.41 587.1 626.05 587.1C638.69 587.1 649.59 587.1 660.99 587.1C672.38 587.1 683.28 587.1 695.92 587.1C708.57 587.1 719.47 587.1 730.86 587.1C742.26 587.1 753.16 587.1 765.8 587.1V600H486.3Z" fill="#83492b"/><path d="M486.3 588.1C498.94 588.1 509.84 588.1 521.24 588.1C532.63 588.1 543.53 588.1 556.17 588.1C568.82 588.1 579.72 588.1 591.11 588.1C602.51 588.1 613.41 588.1 626.05 588.1C638.69 588.1 649.59 588.1 660.99 588.1C672.38 588.1 683.28 588.1 695.92 588.1C708.57 588.1 719.47 588.1 730.86 588.1C742.26 588.1 753.16 588.1 765.8 588.1V600H486.3Z" fill="#82492c"/><path d="M486.3 589.1C498.94 589.1 509.84 589.1 521.24 589.1C532.63 589.1 543.53 589.1 556.17 589.1C568.82 589.1 579.72 589.1 591.11 589.1C602.51 589.1 613.41 589.1 626.05 589.1C638.69 589.1 649.59 589.1 660.99 589.1C672.38 589.1 683.28 589.1 695.92 589.1C708.57 589.1 719.47 589.1 730.86 589.1C742.26 589.1 753.16 589.1 765.8 589.1V600H486.3Z" fill="#81492c"/><path d="M486.3 590.1C498.94 590.1 509.84 590.1 521.24 590.1C532.63 590.1 543.53 590.1 556.17 590.1C568.82 590.1 579.72 590.1 591.11 590.1C602.51 590.1 613.41 590.1 626.05 590.1C638.69 590.1 649.59 590.1 660.99 590.1C672.38 590.1 683.28 590.1 695.92 590.1C708.57 590.1 719.47 590.1 730.86 590.1C742.26 590.1 753.16 590.1 765.8 590.1V600H486.3Z" fill="#814a2c"/><path d="M486.3 591.1C498.94 591.1 509.84 591.1 521.24 591.1C532.63 591.1 543.53 591.1 556.17 591.1C568.82 591.1 579.72 591.1 591.11 591.1C602.51 591.1 613.41 591.1 626.05 591.1C638.69 591.1 649.59 591.1 660.99 591.1C672.38 591.1 683.28 591.1 695.92 591.1C708.57 591.1 719.47 591.1 730.86 591.1C742.26 591.1 753.16 591.1 765.8 591.1V600H486.3Z" fill="#814a2c"/><path d="M486.3 592.1C498.94 592.1 509.84 592.1 521.24 592.1C532.63 592.1 543.53 592.1 556.17 592.1C568.82 592.1 579.72 592.1 591.11 592.1C602.51 592.1 613.41 592.1 626.05 592.1C638.69 592.1 649.59 592.1 660.99 592.1C672.38 592.1 683.28 592.1 695.92 592.1C708.57 592.1 719.47 592.1 730.86 592.1C742.26 592.1 753.16 592.1 765.8 592.1V600H486.3Z" fill="#804a2d"/><path d="M486.3 593.1C498.94 593.1 509.84 593.1 521.24 593.1C532.63 593.1 543.53 593.1 556.17 593.1C568.82 593.1 579.72 593.1 591.11 593.1C602.51 593.1 613.41 593.1 626.05 593.1C638.69 593.1 649.59 593.1 660.99 593.1C672.38 593.1 683.28 593.1 695.92 593.1C708.57 593.1 719.47 593.1 730.86 593.1C742.26 593.1 753.16 593.1 765.8 593.1V600H486.3Z" fill="#804a2d"/><path d="M486.3 594.1C498.94 594.1 509.84 594.1 521.24 594.1C532.63 594.1 543.53 594.1 556.17 594.1C568.82 594.1 579.72 594.1 591.11 594.1C602.51 594.1 613.41 594.1 626.05 594.1C638.69 594.1 649.59 594.1 660.99 594.1C672.38 594.1 683.28 594.1 695.92 594.1C708.57 594.1 719.47 594.1 730.86 594.1C742.26 594.1 753.16 594.1 765.8 594.1V600H486.3Z" fill="#7f4a2d"/><path d="M486.3 595.1C498.94 595.1 509.84 595.1 521.24 595.1C532.63 595.1 543.53 595.1 556.17 595.1C568.82 595.1 579.72 595.1 591.11 595.1C602.51 595.1 613.41 595.1 626.05 595.1C638.69 595.1 649.59 595.1 660.99 595.1C672.38 595.1 683.28 595.1 695.92 595.1C708.57 595.1 719.47 595.1 730.86 595.1C742.26 595.1 753.16 595.1 765.8 595.1V600H486.3Z" fill="#7f4a2d"/><path d="M486.3 596.1C498.94 596.1 509.84 596.1 521.24 596.1C532.63 596.1 543.53 596.1 556.17 596.1C568.82 596.1 579.72 596.1 591.11 596.1C602.51 596.1 613.41 596.1 626.05 596.1C638.69 596.1 649.59 596.1 660.99 596.1C672.38 596.1 683.28 596.1 695.92 596.1C708.57 596.1 719.47 596.1 730.86 596.1C742.26 596.1 753.16 596.1 765.8 596.1V600H486.3Z" fill="#7f4a2d"/><path d="M486.3 597.1C498.94 597.1 509.84 597.1 521.24 597.1C532.63 597.1 543.53 597.1 556.17 597.1C568.82 597.1 579.72 597.1 591.11 597.1C602.51 597.1 613.41 597.1 626.05 597.1C638.69 597.1 649.59 597.1 660.99 597.1C672.38 597.1 683.28 597.1 695.92 597.1C708.57 597.1 719.47 597.1 730.86 597.1C742.26 597.1 753.16 597.1 765.8 597.1V600H486.3Z" fill="#7e4b2e"/></g>
<path d="M486.3 489.1L488.9 489.1L491.4 488.9L494 488.7L496.5 488.4L499.1 488.1L501.7 487.6L504.2 487.1L506.8 486.5L509.4 485.9L511.9 485.2L514.5 484.5L517 483.8M522.7 482.2L525.5 481.4L528.2 480.6L530.9 479.9L533.6 479.2L536.3 478.5L539.1 477.9L541.8 477.4L544.5 477L547.2 476.6L550 476.4L552.7 476.2M558.4 476.1L561 476.3L563.6 476.5L566.2 476.8L568.8 477.1L571.4 477.6L574 478.1L576.7 478.7L579.3 479.3L581.9 480L584.5 480.7L587.1 481.4L589.7 482.2M595.4 483.8L598.1 484.6L600.8 485.4L603.6 486L606.3 486.7L609 487.3L611.7 487.8L614.4 488.2L617.1 488.6L619.8 488.8L622.5 489M628.2 489.1L630.9 488.9L633.6 488.7L636.3 488.4L638.9 488L641.6 487.6L644.3 487L646.9 486.4L649.6 485.8L652.3 485.1L654.9 484.3L657.6 483.6L660.3 482.8M666 481.2L668.6 480.4L671.3 479.7L673.9 479L676.6 478.4L679.2 477.9L681.8 477.4L684.5 476.9L687.1 476.6L689.8 476.3L692.4 476.2M698.1 476.1L700.7 476.3L703.3 476.5L706 476.8L708.6 477.1L711.2 477.6L713.8 478.1L716.4 478.7L719 479.3L721.6 480L724.2 480.7L726.8 481.4L729.5 482.2M735.2 483.8L737.9 484.6L740.6 485.4L743.3 486.1L746 486.7L748.8 487.3L751.5 487.8L754.2 488.2L756.9 488.6L759.7 488.9L762.4 489L765.1 489.1" fill="none" stroke="#262626" stroke-width="1.3"/>
<g fill="#262626"><path transform="translate(520.5 482.8) rotate(-16.3)" d="M0.5 0L-5.2 -1.9L-5.2 1.9Z"/><path transform="translate(556.2 476.1) rotate(0)" d="M0.5 0L-5.2 -1.9L-5.2 1.9Z"/><path transform="translate(593.2 483.2) rotate(16.2)" d="M0.5 0L-5.2 -1.9L-5.2 1.9Z"/><path transform="translate(626 489.1) rotate(0)" d="M0.5 0L-5.2 -1.9L-5.2 1.9Z"/><path transform="translate(663.8 481.8) rotate(-16.2)" d="M0.5 0L-5.2 -1.9L-5.2 1.9Z"/><path transform="translate(695.9 476.1) rotate(0)" d="M0.5 0L-5.2 -1.9L-5.2 1.9Z"/><path transform="translate(733 483.2) rotate(16.2)" d="M0.5 0L-5.2 -1.9L-5.2 1.9Z"/></g>
<path d="M486.3 533.7L488.9 533.7L491.4 533.6L494 533.4L496.5 533.1L499.1 532.8L501.7 532.4L504.2 532L506.8 531.5L509.4 531L511.9 530.4L514.5 529.8L517 529.2M522.7 527.8L525.5 527.2L528.2 526.5L530.9 525.9L533.6 525.3L536.3 524.7L539.1 524.2L541.8 523.8L544.5 523.4L547.2 523.1L550 522.9L552.7 522.8M558.4 522.7L561 522.8L563.6 523L566.2 523.3L568.8 523.6L571.4 523.9L574 524.4L576.7 524.9L579.3 525.4L581.9 526L584.5 526.6L587.1 527.2L589.7 527.9M595.4 529.3L598.1 529.9L600.8 530.5L603.6 531.1L606.3 531.7L609 532.2L611.7 532.6L614.4 533L617.1 533.3L619.8 533.5L622.5 533.6M628.2 533.7L630.9 533.6L633.6 533.4L636.3 533.1L638.9 532.8L641.6 532.4L644.3 532L646.9 531.4L649.6 530.9L652.3 530.3L654.9 529.7L657.6 529L660.3 528.4M666 527L668.6 526.3L671.3 525.7L673.9 525.2L676.6 524.7L679.2 524.2L681.8 523.8L684.5 523.4L687.1 523.1L689.8 522.9L692.4 522.8M698.1 522.7L700.7 522.8L703.3 523L706 523.3L708.6 523.6L711.2 523.9L713.8 524.4L716.4 524.9L719 525.4L721.6 526L724.2 526.6L726.8 527.2L729.5 527.9M735.2 529.3L737.9 529.9L740.6 530.5L743.3 531.1L746 531.7L748.8 532.2L751.5 532.6L754.2 533L756.9 533.3L759.7 533.5L762.4 533.6L765.1 533.7" fill="none" stroke="#f4c888" stroke-width="1.3"/>
<g fill="#f4c888"><path transform="translate(520.5 528.4) rotate(-13.9)" d="M0.5 0L-5.2 -1.9L-5.2 1.9Z"/><path transform="translate(556.2 522.7) rotate(0)" d="M0.5 0L-5.2 -1.9L-5.2 1.9Z"/><path transform="translate(593.2 528.7) rotate(13.8)" d="M0.5 0L-5.2 -1.9L-5.2 1.9Z"/><path transform="translate(626 533.7) rotate(0)" d="M0.5 0L-5.2 -1.9L-5.2 1.9Z"/><path transform="translate(663.8 527.5) rotate(-13.8)" d="M0.5 0L-5.2 -1.9L-5.2 1.9Z"/><path transform="translate(695.9 522.7) rotate(0)" d="M0.5 0L-5.2 -1.9L-5.2 1.9Z"/><path transform="translate(733 528.7) rotate(13.8)" d="M0.5 0L-5.2 -1.9L-5.2 1.9Z"/></g>
<path d="M486.3 577.5L488.9 577.5L491.4 577.4L494 577.2L496.5 576.9L499.1 576.6L501.7 576.2L504.2 575.8L506.8 575.3L509.4 574.8L511.9 574.2L514.5 573.6L517 573M522.7 571.5L525.5 570.8L528.2 570.2L530.9 569.5L533.6 568.9L536.3 568.4L539.1 567.9L541.8 567.4L544.5 567.1L547.2 566.7L550 566.5L552.7 566.4M558.4 566.3L561 566.4L563.6 566.6L566.2 566.9L568.8 567.2L571.4 567.6L574 568L576.7 568.5L579.3 569.1L581.9 569.6L584.5 570.3L587.1 570.9L589.7 571.5M595.4 573L598.1 573.6L600.8 574.3L603.6 574.9L606.3 575.4L609 575.9L611.7 576.4L614.4 576.8L617.1 577.1L619.8 577.3L622.5 577.4M628.2 577.5L630.9 577.4L633.6 577.2L636.3 576.9L638.9 576.6L641.6 576.2L644.3 575.7L646.9 575.2L649.6 574.6L652.3 574L654.9 573.4L657.6 572.7L660.3 572.1M666 570.7L668.6 570L671.3 569.4L673.9 568.8L676.6 568.3L679.2 567.8L681.8 567.4L684.5 567L687.1 566.7L689.8 566.5L692.4 566.4M698.1 566.3L700.7 566.4L703.3 566.6L706 566.9L708.6 567.2L711.2 567.6L713.8 568L716.4 568.5L719 569.1L721.6 569.6L724.2 570.3L726.8 570.9L729.5 571.5M735.2 573L737.9 573.6L740.6 574.3L743.3 574.9L746 575.4L748.8 575.9L751.5 576.4L754.2 576.8L756.9 577.1L759.7 577.3L762.4 577.4L765.1 577.5" fill="none" stroke="#9b80d8" stroke-width="1.3"/>
<g fill="#9b80d8"><path transform="translate(520.5 572.1) rotate(-14.1)" d="M0.5 0L-5.2 -1.9L-5.2 1.9Z"/><path transform="translate(556.2 566.3) rotate(0)" d="M0.5 0L-5.2 -1.9L-5.2 1.9Z"/><path transform="translate(593.2 572.4) rotate(14.1)" d="M0.5 0L-5.2 -1.9L-5.2 1.9Z"/><path transform="translate(626 577.5) rotate(0)" d="M0.5 0L-5.2 -1.9L-5.2 1.9Z"/><path transform="translate(663.8 571.2) rotate(-14)" d="M0.5 0L-5.2 -1.9L-5.2 1.9Z"/><path transform="translate(695.9 566.3) rotate(0)" d="M0.5 0L-5.2 -1.9L-5.2 1.9Z"/><path transform="translate(733 572.4) rotate(14.1)" d="M0.5 0L-5.2 -1.9L-5.2 1.9Z"/></g>
</g>
<rect x="486.3" y="463.2" width="279.5" height="133.4" fill="none" stroke="#000" stroke-width="2.3"/>
<path d="M556.2 463.2v2.6M556.2 596.6v-2.6M626 463.2v2.6M626 596.6v-2.6M695.9 463.2v2.6M695.9 596.6v-2.6M486.3 476.1h2.6M765.8 476.1h-2.6M486.3 497.7h2.6M765.8 497.7h-2.6M486.3 519.3h2.6M765.8 519.3h-2.6M486.3 541h2.6M765.8 541h-2.6M486.3 562.6h2.6M765.8 562.6h-2.6M486.3 584.2h2.6M765.8 584.2h-2.6" stroke="#000" stroke-width="1.2"/>
<g font-family="'Liberation Sans',Arial,Helvetica,sans-serif" font-size="13.6" fill="#111">
<text transform="translate(487.4 613.4) scale(0.905 1)" font-size="15.2" text-anchor="middle">0.0</text>
<text transform="translate(556.7 613.4) scale(0.905 1)" font-size="15.2" text-anchor="middle">0.5</text>
<text transform="translate(626 613.4) scale(0.905 1)" font-size="15.2" text-anchor="middle">1.0</text>
<text transform="translate(695.3 613.4) scale(0.905 1)" font-size="15.2" text-anchor="middle">1.5</text>
<text transform="translate(764.6 613.4) scale(0.905 1)" font-size="15.2" text-anchor="middle">2.0</text>
<text transform="translate(482 481) scale(0.905 1)" font-size="15.2" text-anchor="end">0.0</text>
<text transform="translate(482 502.6) scale(0.905 1)" font-size="15.2" text-anchor="end">0.5</text>
<text transform="translate(482 524.2) scale(0.905 1)" font-size="15.2" text-anchor="end">1.0</text>
<text transform="translate(482 545.9) scale(0.905 1)" font-size="15.2" text-anchor="end">1.5</text>
<text transform="translate(482 567.5) scale(0.905 1)" font-size="15.2" text-anchor="end">2.0</text>
<text transform="translate(482 589.1) scale(0.905 1)" font-size="15.2" text-anchor="end">2.5</text>
</g>
<text x="626" y="632.2" text-anchor="middle" font-family="'Liberation Sans',Arial,Helvetica,sans-serif" font-size="11" fill="#111">x/<tspan font-style="italic">λ</tspan></text>
<text transform="translate(455.6 530.2) rotate(-90)" text-anchor="middle" font-family="'Liberation Sans',Arial,Helvetica,sans-serif" font-size="12" fill="#111" font-style="italic">y/δ</text>
<text x="454" y="452.2" font-family="'Liberation Sans',Arial,Helvetica,sans-serif" font-size="16.5" font-weight="bold" fill="#000">f</text>
<defs><linearGradient id="cmf" x1="0" y1="1" x2="0" y2="0"><stop offset="0" stop-color="#6b5238"/><stop offset="0.07" stop-color="#85482a"/><stop offset="0.13" stop-color="#9c4423"/><stop offset="0.2" stop-color="#ab5a2b"/><stop offset="0.3" stop-color="#c08043"/><stop offset="0.4" stop-color="#cfa566"/><stop offset="0.5" stop-color="#d6c070"/><stop offset="0.6" stop-color="#d9cd68"/><stop offset="0.7" stop-color="#cdc652"/><stop offset="0.78" stop-color="#b2b83e"/><stop offset="0.85" stop-color="#94ad5c"/><stop offset="0.93" stop-color="#6fa39a"/><stop offset="1" stop-color="#4a8fdc"/></linearGradient></defs>
<rect x="785.1" y="436.8" width="11" height="163.6" fill="url(#cmf)"/>
<g font-family="'Liberation Sans',Arial,Helvetica,sans-serif" font-size="11" fill="#111">
<text x="802.6" y="604.3">0</text>
<text x="802.6" y="571.6">0.2</text>
<text x="802.6" y="538.9">0.4</text>
<text x="802.6" y="506.1">0.6</text>
<text x="802.6" y="473.4">0.8</text>
<text x="802.6" y="440.7">1.0</text>
<text x="795.5" y="423" font-style="italic">ω</text>
</g>
</svg></body></html>
